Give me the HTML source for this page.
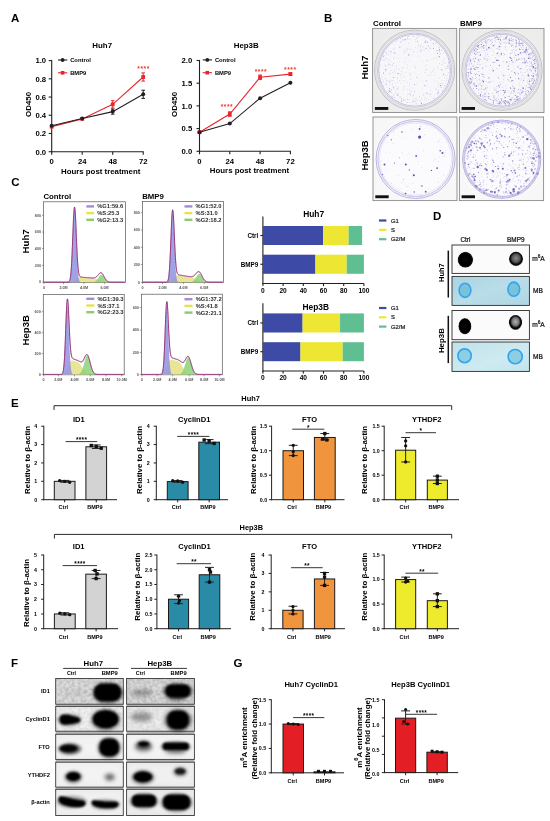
<!DOCTYPE html>
<html><head><meta charset="utf-8"><title>Figure</title>
<style>
html,body{margin:0;padding:0;background:#fff;width:550px;height:821px;overflow:hidden}
svg{display:block}
svg text{font-family:"Liberation Sans", Arial, Helvetica, sans-serif;font-weight:bold}
</style></head><body>
<svg width="550" height="821" viewBox="0 0 550 821">
<defs>
<radialGradient id="bgTop" cx="50%" cy="50%" r="70%"><stop offset="0" stop-color="#f6f6f6"/><stop offset="1" stop-color="#eaeaea"/></radialGradient>
<radialGradient id="bgBot" cx="50%" cy="50%" r="70%"><stop offset="0" stop-color="#fdfdfd"/><stop offset="1" stop-color="#f6f6f6"/></radialGradient>
<filter id="blur06" x="-30%" y="-30%" width="160%" height="160%"><feGaussianBlur stdDeviation="0.8"/></filter>
<filter id="blur1" x="-40%" y="-40%" width="180%" height="180%"><feGaussianBlur stdDeviation="1"/></filter>
<radialGradient id="dotBlk" cx="50%" cy="50%" r="50%"><stop offset="0" stop-color="#080808"/><stop offset="0.8" stop-color="#000"/><stop offset="0.93" stop-color="#222"/><stop offset="1" stop-color="#666" stop-opacity="0.6"/></radialGradient>
<radialGradient id="dotGray" cx="50%" cy="45%" r="50%"><stop offset="0" stop-color="#8a8a8a"/><stop offset="0.55" stop-color="#555"/><stop offset="0.8" stop-color="#111"/><stop offset="0.93" stop-color="#000"/><stop offset="1" stop-color="#444"/></radialGradient>
<radialGradient id="dotGray2" cx="50%" cy="45%" r="50%"><stop offset="0" stop-color="#b0b0b0"/><stop offset="0.5" stop-color="#777"/><stop offset="0.78" stop-color="#111"/><stop offset="0.93" stop-color="#000"/><stop offset="1" stop-color="#444"/></radialGradient>
<linearGradient id="mbBg" x1="0" y1="0" x2="1" y2="1"><stop offset="0" stop-color="#a8d4e1"/><stop offset="0.5" stop-color="#badde8"/><stop offset="1" stop-color="#acd6e3"/></linearGradient>
<linearGradient id="mbBg2" x1="0" y1="0" x2="1" y2="1"><stop offset="0" stop-color="#bfe2eb"/><stop offset="0.6" stop-color="#cfeaf1"/><stop offset="1" stop-color="#c2e4ed"/></linearGradient>
<filter id="band" x="-40%" y="-80%" width="180%" height="260%"><feGaussianBlur stdDeviation="0.8"/></filter>
<filter id="bandH" x="-60%" y="-100%" width="220%" height="300%"><feGaussianBlur stdDeviation="1.8"/></filter>
<filter id="bandS" x="-60%" y="-100%" width="220%" height="300%"><feGaussianBlur stdDeviation="2.2"/></filter>
<filter id="grain" x="0" y="0" width="100%" height="100%"><feTurbulence type="fractalNoise" baseFrequency="0.32" numOctaves="2" seed="5" result="n"/><feColorMatrix in="n" type="matrix" values="0 0 0 0 0  0 0 0 0 0  0 0 0 0 0  1.4 0 0 0 -0.45"/><feComposite in2="SourceGraphic" operator="in"/></filter>
</defs>
<rect x="0" y="0" width="550" height="821" fill="#fff"/>
<text x="11" y="21.6" font-size="11.5">A</text>
<text x="323.9" y="21.8" font-size="11.5">B</text>
<text x="11.2" y="185.6" font-size="11.5">C</text>
<text x="433.1" y="219.5" font-size="11.5">D</text>
<text x="11" y="406.8" font-size="11.5">E</text>
<text x="11" y="666.5" font-size="11.5">F</text>
<text x="233.6" y="666.6" font-size="11.5">G</text>
<line x1="51.7" y1="60.1" x2="51.7" y2="152.2" stroke="#231f20" stroke-width="1.1"/>
<line x1="51.2" y1="151.7" x2="143.7" y2="151.7" stroke="#231f20" stroke-width="1.1"/>
<line x1="48.7" y1="151.7" x2="51.7" y2="151.7" stroke="#231f20" stroke-width="1.1"/>
<text x="46.1" y="154.5" font-size="7.7" text-anchor="end">0.0</text>
<line x1="48.7" y1="133.48" x2="51.7" y2="133.48" stroke="#231f20" stroke-width="1.1"/>
<text x="46.1" y="136.28" font-size="7.7" text-anchor="end">0.2</text>
<line x1="48.7" y1="115.26" x2="51.7" y2="115.26" stroke="#231f20" stroke-width="1.1"/>
<text x="46.1" y="118.06" font-size="7.7" text-anchor="end">0.4</text>
<line x1="48.7" y1="97.04" x2="51.7" y2="97.04" stroke="#231f20" stroke-width="1.1"/>
<text x="46.1" y="99.84" font-size="7.7" text-anchor="end">0.6</text>
<line x1="48.7" y1="78.82" x2="51.7" y2="78.82" stroke="#231f20" stroke-width="1.1"/>
<text x="46.1" y="81.62" font-size="7.7" text-anchor="end">0.8</text>
<line x1="48.7" y1="60.6" x2="51.7" y2="60.6" stroke="#231f20" stroke-width="1.1"/>
<text x="46.1" y="63.4" font-size="7.7" text-anchor="end">1.0</text>
<line x1="51.7" y1="151.7" x2="51.7" y2="154.7" stroke="#231f20" stroke-width="1.1"/>
<text x="51.7" y="163.9" font-size="7.7" text-anchor="middle">0</text>
<line x1="82.2" y1="151.7" x2="82.2" y2="154.7" stroke="#231f20" stroke-width="1.1"/>
<text x="82.2" y="163.9" font-size="7.7" text-anchor="middle">24</text>
<line x1="112.7" y1="151.7" x2="112.7" y2="154.7" stroke="#231f20" stroke-width="1.1"/>
<text x="112.7" y="163.9" font-size="7.7" text-anchor="middle">48</text>
<line x1="143.2" y1="151.7" x2="143.2" y2="154.7" stroke="#231f20" stroke-width="1.1"/>
<text x="143.2" y="163.9" font-size="7.7" text-anchor="middle">72</text>
<text x="100.65" y="173.6" font-size="7.85" text-anchor="middle">Hours post treatment</text>
<text x="31" y="104.4" font-size="7.9" text-anchor="middle" transform="rotate(-90 31 104.4)">OD450</text>
<text x="102.2" y="48.1" font-size="7.9" text-anchor="middle">Huh7</text>
<line x1="58" y1="60" x2="67.3" y2="60" stroke="#231f20" stroke-width="1.1"/>
<circle cx="62.6" cy="60" r="1.9" fill="#231f20"/>
<text x="70.2" y="62" font-size="5.8">Control</text>
<line x1="58" y1="72.8" x2="67.3" y2="72.8" stroke="#e8262a" stroke-width="1.1"/>
<rect x="60.8" y="71" width="3.6" height="3.6" fill="#e8262a" stroke="none" stroke-width="1"/>
<text x="70.2" y="74.8" font-size="5.8">BMP9</text>
<polyline points="51.7,126.65 82.2,118.9 112.7,104.33 143.2,77" fill="none" stroke="#e8262a" stroke-width="1.1"/>
<polyline points="51.7,125.74 82.2,118.45 112.7,111.62 143.2,94.31" fill="none" stroke="#231f20" stroke-width="1.1"/>
<rect x="49.8" y="124.75" width="3.8" height="3.8" fill="#e8262a" stroke="none" stroke-width="1"/>
<rect x="80.3" y="117" width="3.8" height="3.8" fill="#e8262a" stroke="none" stroke-width="1"/>
<line x1="112.7" y1="107.97" x2="112.7" y2="100.68" stroke="#e8262a" stroke-width="1"/>
<line x1="110.9" y1="107.97" x2="114.5" y2="107.97" stroke="#e8262a" stroke-width="1"/>
<line x1="110.9" y1="100.68" x2="114.5" y2="100.68" stroke="#e8262a" stroke-width="1"/>
<rect x="110.8" y="102.43" width="3.8" height="3.8" fill="#e8262a" stroke="none" stroke-width="1"/>
<line x1="143.2" y1="81.1" x2="143.2" y2="72.9" stroke="#e8262a" stroke-width="1"/>
<line x1="141.4" y1="81.1" x2="145" y2="81.1" stroke="#e8262a" stroke-width="1"/>
<line x1="141.4" y1="72.9" x2="145" y2="72.9" stroke="#e8262a" stroke-width="1"/>
<rect x="141.3" y="75.1" width="3.8" height="3.8" fill="#e8262a" stroke="none" stroke-width="1"/>
<circle cx="51.7" cy="125.74" r="2" fill="#231f20"/>
<circle cx="82.2" cy="118.45" r="2" fill="#231f20"/>
<line x1="112.7" y1="114.17" x2="112.7" y2="109.07" stroke="#231f20" stroke-width="1"/>
<line x1="110.9" y1="114.17" x2="114.5" y2="114.17" stroke="#231f20" stroke-width="1"/>
<line x1="110.9" y1="109.07" x2="114.5" y2="109.07" stroke="#231f20" stroke-width="1"/>
<circle cx="112.7" cy="111.62" r="2" fill="#231f20"/>
<line x1="143.2" y1="98.41" x2="143.2" y2="90.21" stroke="#231f20" stroke-width="1"/>
<line x1="141.4" y1="98.41" x2="145" y2="98.41" stroke="#231f20" stroke-width="1"/>
<line x1="141.4" y1="90.21" x2="145" y2="90.21" stroke="#231f20" stroke-width="1"/>
<circle cx="143.2" cy="94.31" r="2" fill="#231f20"/>
<text x="143.6" y="71.2" font-size="6.6" text-anchor="middle" fill="#ee3a2a" letter-spacing="0.55">****</text>
<line x1="199.5" y1="60" x2="199.5" y2="151.8" stroke="#231f20" stroke-width="1.1"/>
<line x1="199" y1="151.3" x2="290.9" y2="151.3" stroke="#231f20" stroke-width="1.1"/>
<line x1="196.5" y1="151.3" x2="199.5" y2="151.3" stroke="#231f20" stroke-width="1.1"/>
<text x="192.2" y="154.1" font-size="7.7" text-anchor="end">0.0</text>
<line x1="196.5" y1="128.6" x2="199.5" y2="128.6" stroke="#231f20" stroke-width="1.1"/>
<text x="192.2" y="131.4" font-size="7.7" text-anchor="end">0.5</text>
<line x1="196.5" y1="105.9" x2="199.5" y2="105.9" stroke="#231f20" stroke-width="1.1"/>
<text x="192.2" y="108.7" font-size="7.7" text-anchor="end">1.0</text>
<line x1="196.5" y1="83.2" x2="199.5" y2="83.2" stroke="#231f20" stroke-width="1.1"/>
<text x="192.2" y="86" font-size="7.7" text-anchor="end">1.5</text>
<line x1="196.5" y1="60.5" x2="199.5" y2="60.5" stroke="#231f20" stroke-width="1.1"/>
<text x="192.2" y="63.3" font-size="7.7" text-anchor="end">2.0</text>
<line x1="199.5" y1="151.3" x2="199.5" y2="154.3" stroke="#231f20" stroke-width="1.1"/>
<text x="199.5" y="163.5" font-size="7.7" text-anchor="middle">0</text>
<line x1="229.8" y1="151.3" x2="229.8" y2="154.3" stroke="#231f20" stroke-width="1.1"/>
<text x="229.8" y="163.5" font-size="7.7" text-anchor="middle">24</text>
<line x1="260.1" y1="151.3" x2="260.1" y2="154.3" stroke="#231f20" stroke-width="1.1"/>
<text x="260.1" y="163.5" font-size="7.7" text-anchor="middle">48</text>
<line x1="290.4" y1="151.3" x2="290.4" y2="154.3" stroke="#231f20" stroke-width="1.1"/>
<text x="290.4" y="163.5" font-size="7.7" text-anchor="middle">72</text>
<text x="249.5" y="173.2" font-size="7.85" text-anchor="middle">Hours post treatment</text>
<text x="177.5" y="104.4" font-size="7.9" text-anchor="middle" transform="rotate(-90 177.5 104.4)">OD450</text>
<text x="246.2" y="48" font-size="7.9" text-anchor="middle">Hep3B</text>
<line x1="202.7" y1="59.9" x2="212" y2="59.9" stroke="#231f20" stroke-width="1.1"/>
<circle cx="207.3" cy="59.9" r="1.9" fill="#231f20"/>
<text x="214.9" y="61.9" font-size="5.8">Control</text>
<line x1="202.7" y1="72.7" x2="212" y2="72.7" stroke="#e8262a" stroke-width="1.1"/>
<rect x="205.5" y="70.9" width="3.6" height="3.6" fill="#e8262a" stroke="none" stroke-width="1"/>
<text x="214.9" y="74.7" font-size="5.8">BMP9</text>
<polyline points="199.5,132.23 229.8,114.07 260.1,77.3 290.4,74.12" fill="none" stroke="#e8262a" stroke-width="1.1"/>
<polyline points="199.5,132.23 229.8,123.61 260.1,98.18 290.4,82.75" fill="none" stroke="#231f20" stroke-width="1.1"/>
<rect x="197.6" y="130.33" width="3.8" height="3.8" fill="#e8262a" stroke="none" stroke-width="1"/>
<line x1="229.8" y1="116.34" x2="229.8" y2="111.8" stroke="#e8262a" stroke-width="1"/>
<line x1="228" y1="116.34" x2="231.6" y2="116.34" stroke="#e8262a" stroke-width="1"/>
<line x1="228" y1="111.8" x2="231.6" y2="111.8" stroke="#e8262a" stroke-width="1"/>
<rect x="227.9" y="112.17" width="3.8" height="3.8" fill="#e8262a" stroke="none" stroke-width="1"/>
<line x1="260.1" y1="79.57" x2="260.1" y2="75.03" stroke="#e8262a" stroke-width="1"/>
<line x1="258.3" y1="79.57" x2="261.9" y2="79.57" stroke="#e8262a" stroke-width="1"/>
<line x1="258.3" y1="75.03" x2="261.9" y2="75.03" stroke="#e8262a" stroke-width="1"/>
<rect x="258.2" y="75.4" width="3.8" height="3.8" fill="#e8262a" stroke="none" stroke-width="1"/>
<line x1="290.4" y1="75.48" x2="290.4" y2="72.76" stroke="#e8262a" stroke-width="1"/>
<line x1="288.6" y1="75.48" x2="292.2" y2="75.48" stroke="#e8262a" stroke-width="1"/>
<line x1="288.6" y1="72.76" x2="292.2" y2="72.76" stroke="#e8262a" stroke-width="1"/>
<rect x="288.5" y="72.22" width="3.8" height="3.8" fill="#e8262a" stroke="none" stroke-width="1"/>
<circle cx="199.5" cy="132.23" r="2" fill="#231f20"/>
<circle cx="229.8" cy="123.61" r="2" fill="#231f20"/>
<circle cx="260.1" cy="98.18" r="2" fill="#231f20"/>
<circle cx="290.4" cy="82.75" r="2" fill="#231f20"/>
<text x="226.9" y="109.1" font-size="6.6" text-anchor="middle" fill="#ee3a2a" letter-spacing="0.55">****</text>
<text x="260.9" y="73.6" font-size="6.6" text-anchor="middle" fill="#ee3a2a" letter-spacing="0.55">****</text>
<text x="290.3" y="72" font-size="6.6" text-anchor="middle" fill="#ee3a2a" letter-spacing="0.55">****</text>
<text x="373" y="26.2" font-size="7.9">Control</text>
<text x="460" y="26.2" font-size="7.9">BMP9</text>
<text x="368.2" y="67.6" font-size="9.6" text-anchor="middle" transform="rotate(-90 368.2 67.6)">Huh7</text>
<text x="368.2" y="155.4" font-size="9.6" text-anchor="middle" transform="rotate(-90 368.2 155.4)">Hep3B</text>
<rect x="372.6" y="28.4" width="84.1" height="84.1" fill="url(#bgTop)" stroke="#8a8a8a" stroke-width="0.9"/>
<circle cx="414.6" cy="70.2" r="40.5" fill="#ededef"/>
<circle cx="414.6" cy="70.2" r="40.1" fill="none" stroke="#b8b8bd" stroke-width="0.8" stroke-opacity="1"/>
<circle cx="414.6" cy="70.2" r="38.9" fill="none" stroke="#dedee2" stroke-width="1.2" stroke-opacity="1"/>
<circle cx="414.6" cy="70.2" r="37.1" fill="none" stroke="#c2c2c9" stroke-width="0.8" stroke-opacity="1"/>
<circle cx="414.6" cy="70.2" r="36.5" fill="#f7f7f9"/>
<circle cx="414.6" cy="70.2" r="35.9" fill="none" stroke="#c6c0e6" stroke-width="1" stroke-opacity="1"/>
<g fill="#7467c8"><circle cx="439.41" cy="57.4" r="0.32" fill-opacity="0.58"/><circle cx="396.43" cy="68.84" r="0.37" fill-opacity="0.74"/><circle cx="441.12" cy="87.19" r="0.45" fill-opacity="0.68"/><circle cx="448.56" cy="62.55" r="0.38" fill-opacity="0.64"/><circle cx="384.99" cy="64.86" r="0.25" fill-opacity="0.4"/><circle cx="405.76" cy="72.24" r="0.31" fill-opacity="0.76"/><circle cx="385.2" cy="70.24" r="0.38" fill-opacity="0.55"/><circle cx="449.46" cy="69.26" r="0.46" fill-opacity="0.69"/><circle cx="409.79" cy="89.43" r="0.25" fill-opacity="0.72"/><circle cx="389.84" cy="91.61" r="0.53" fill-opacity="0.77"/><circle cx="440.84" cy="53.61" r="0.32" fill-opacity="0.84"/><circle cx="405.84" cy="60.93" r="0.43" fill-opacity="0.45"/><circle cx="445.44" cy="63.12" r="0.42" fill-opacity="0.36"/><circle cx="428.04" cy="75.51" r="0.44" fill-opacity="0.4"/><circle cx="423.93" cy="94.06" r="0.41" fill-opacity="0.37"/><circle cx="401.19" cy="77.49" r="0.26" fill-opacity="0.45"/><circle cx="403.89" cy="100.44" r="0.48" fill-opacity="0.42"/><circle cx="393.95" cy="44.65" r="0.25" fill-opacity="0.84"/><circle cx="417.55" cy="49.68" r="0.28" fill-opacity="0.46"/><circle cx="388.17" cy="55.07" r="0.27" fill-opacity="0.63"/><circle cx="439.5" cy="63.66" r="0.32" fill-opacity="0.62"/><circle cx="424.89" cy="85.16" r="0.5" fill-opacity="0.75"/><circle cx="413.38" cy="51.82" r="0.52" fill-opacity="0.41"/><circle cx="388.13" cy="50.06" r="0.3" fill-opacity="0.36"/><circle cx="417.13" cy="104.83" r="0.4" fill-opacity="0.44"/><circle cx="406.89" cy="97.75" r="0.26" fill-opacity="0.7"/><circle cx="385.61" cy="58.86" r="0.47" fill-opacity="0.64"/><circle cx="424.23" cy="102.56" r="0.25" fill-opacity="0.45"/><circle cx="419.9" cy="80.81" r="0.29" fill-opacity="0.61"/><circle cx="439.21" cy="50.09" r="0.54" fill-opacity="0.66"/><circle cx="432.65" cy="92.11" r="0.25" fill-opacity="0.31"/><circle cx="444.21" cy="63.14" r="0.25" fill-opacity="0.65"/><circle cx="401.62" cy="98.28" r="0.55" fill-opacity="0.34"/><circle cx="439.73" cy="51.99" r="0.41" fill-opacity="0.69"/><circle cx="394.46" cy="97.26" r="0.39" fill-opacity="0.8"/><circle cx="420.88" cy="46.07" r="0.47" fill-opacity="0.62"/><circle cx="393.67" cy="58.23" r="0.36" fill-opacity="0.34"/><circle cx="439.94" cy="46.34" r="0.41" fill-opacity="0.51"/><circle cx="388.23" cy="80.54" r="0.46" fill-opacity="0.35"/><circle cx="407.33" cy="64.83" r="0.32" fill-opacity="0.43"/><circle cx="394.53" cy="52.62" r="0.5" fill-opacity="0.44"/><circle cx="400.86" cy="41.87" r="0.26" fill-opacity="0.39"/><circle cx="386.81" cy="80.81" r="0.49" fill-opacity="0.48"/><circle cx="397.6" cy="78.08" r="0.44" fill-opacity="0.8"/><circle cx="393.66" cy="58.15" r="0.28" fill-opacity="0.37"/><circle cx="433.55" cy="43.68" r="0.4" fill-opacity="0.82"/><circle cx="397.82" cy="75.58" r="0.27" fill-opacity="0.42"/><circle cx="385.48" cy="71.32" r="0.28" fill-opacity="0.76"/><circle cx="437.55" cy="81.83" r="0.25" fill-opacity="0.78"/><circle cx="384.36" cy="55.84" r="0.28" fill-opacity="0.74"/><circle cx="385.15" cy="78.79" r="0.25" fill-opacity="0.76"/><circle cx="430.31" cy="74.97" r="0.37" fill-opacity="0.55"/><circle cx="425.06" cy="42.45" r="0.53" fill-opacity="0.68"/><circle cx="425.96" cy="93.83" r="0.25" fill-opacity="0.56"/><circle cx="412.08" cy="88.03" r="0.29" fill-opacity="0.68"/><circle cx="415.73" cy="41.28" r="0.3" fill-opacity="0.74"/><circle cx="427.05" cy="64.59" r="0.41" fill-opacity="0.37"/><circle cx="439.2" cy="54.58" r="0.29" fill-opacity="0.61"/><circle cx="444.64" cy="59.23" r="0.31" fill-opacity="0.66"/><circle cx="427.42" cy="42.21" r="0.37" fill-opacity="0.69"/><circle cx="447.86" cy="66.1" r="0.54" fill-opacity="0.6"/><circle cx="433.62" cy="58.13" r="0.47" fill-opacity="0.49"/><circle cx="384.03" cy="60.2" r="0.43" fill-opacity="0.57"/><circle cx="445.85" cy="83.51" r="0.44" fill-opacity="0.4"/><circle cx="434.82" cy="94.8" r="0.26" fill-opacity="0.58"/><circle cx="402.47" cy="39.9" r="0.52" fill-opacity="0.57"/><circle cx="417.03" cy="83.57" r="0.33" fill-opacity="0.46"/><circle cx="385.53" cy="66.01" r="0.46" fill-opacity="0.61"/><circle cx="428.17" cy="50.3" r="0.49" fill-opacity="0.41"/><circle cx="380.53" cy="64.97" r="0.35" fill-opacity="0.41"/><circle cx="393.45" cy="53.75" r="0.25" fill-opacity="0.83"/><circle cx="422.34" cy="46.9" r="0.35" fill-opacity="0.57"/><circle cx="402.7" cy="67.25" r="0.3" fill-opacity="0.83"/><circle cx="393.83" cy="73.74" r="0.25" fill-opacity="0.54"/><circle cx="381.44" cy="75.12" r="0.28" fill-opacity="0.41"/><circle cx="437.87" cy="94.81" r="0.43" fill-opacity="0.31"/><circle cx="406.99" cy="51.99" r="0.28" fill-opacity="0.5"/><circle cx="412.84" cy="55.64" r="0.25" fill-opacity="0.58"/><circle cx="396.23" cy="66.65" r="0.31" fill-opacity="0.51"/><circle cx="429.28" cy="93.25" r="0.26" fill-opacity="0.65"/><circle cx="430.84" cy="48.22" r="0.36" fill-opacity="0.77"/><circle cx="426.14" cy="41.32" r="0.49" fill-opacity="0.47"/><circle cx="421.33" cy="103.36" r="0.55" fill-opacity="0.79"/><circle cx="410.03" cy="39.35" r="0.27" fill-opacity="0.35"/><circle cx="420.82" cy="45.95" r="0.25" fill-opacity="0.52"/><circle cx="416.85" cy="77.26" r="0.39" fill-opacity="0.8"/><circle cx="399.4" cy="69.66" r="0.42" fill-opacity="0.58"/><circle cx="431.21" cy="78.09" r="0.25" fill-opacity="0.32"/><circle cx="390.05" cy="58.88" r="0.26" fill-opacity="0.4"/><circle cx="447.18" cy="68.21" r="0.51" fill-opacity="0.35"/><circle cx="380.92" cy="78.38" r="0.43" fill-opacity="0.48"/><circle cx="390.12" cy="81.7" r="0.36" fill-opacity="0.31"/><circle cx="428.29" cy="99.9" r="0.31" fill-opacity="0.71"/><circle cx="424.07" cy="86.23" r="0.33" fill-opacity="0.31"/><circle cx="405.59" cy="39.44" r="0.47" fill-opacity="0.65"/><circle cx="385.94" cy="69.43" r="0.54" fill-opacity="0.74"/><circle cx="413.42" cy="36.55" r="0.43" fill-opacity="0.75"/><circle cx="438.97" cy="47.27" r="0.39" fill-opacity="0.72"/><circle cx="410.38" cy="45.89" r="0.25" fill-opacity="0.49"/><circle cx="410.86" cy="74.98" r="0.37" fill-opacity="0.64"/><circle cx="397.42" cy="40.69" r="0.28" fill-opacity="0.66"/><circle cx="393.53" cy="87.72" r="0.55" fill-opacity="0.65"/><circle cx="445.79" cy="66.28" r="0.25" fill-opacity="0.64"/><circle cx="397.75" cy="82.19" r="0.25" fill-opacity="0.41"/><circle cx="414.52" cy="84.51" r="0.5" fill-opacity="0.6"/><circle cx="383.24" cy="55.93" r="0.55" fill-opacity="0.65"/><circle cx="403.99" cy="62.74" r="0.42" fill-opacity="0.32"/><circle cx="397.63" cy="73.24" r="0.26" fill-opacity="0.57"/><circle cx="425.63" cy="66.25" r="0.3" fill-opacity="0.59"/><circle cx="409.32" cy="93.3" r="0.38" fill-opacity="0.61"/><circle cx="405.84" cy="99.63" r="0.25" fill-opacity="0.43"/><circle cx="415.5" cy="39.43" r="0.3" fill-opacity="0.79"/><circle cx="425.61" cy="69.42" r="0.52" fill-opacity="0.34"/><circle cx="389.63" cy="73.74" r="0.53" fill-opacity="0.43"/><circle cx="408.8" cy="36.66" r="0.32" fill-opacity="0.84"/><circle cx="436.15" cy="89.22" r="0.37" fill-opacity="0.55"/><circle cx="403.58" cy="68.23" r="0.25" fill-opacity="0.54"/><circle cx="412.64" cy="95.92" r="0.35" fill-opacity="0.53"/><circle cx="441.95" cy="69.79" r="0.52" fill-opacity="0.7"/><circle cx="426.42" cy="60.75" r="0.43" fill-opacity="0.64"/><circle cx="406.21" cy="50.8" r="0.35" fill-opacity="0.63"/><circle cx="426.16" cy="99.29" r="0.27" fill-opacity="0.84"/><circle cx="446.79" cy="78.36" r="0.25" fill-opacity="0.45"/><circle cx="437.87" cy="87.67" r="0.34" fill-opacity="0.34"/><circle cx="382.95" cy="59.78" r="0.37" fill-opacity="0.51"/><circle cx="403.95" cy="86.14" r="0.42" fill-opacity="0.76"/><circle cx="425.72" cy="41.69" r="0.37" fill-opacity="0.72"/><circle cx="413.33" cy="95.27" r="0.45" fill-opacity="0.5"/><circle cx="398.75" cy="101.13" r="0.34" fill-opacity="0.71"/><circle cx="397.45" cy="88.63" r="0.25" fill-opacity="0.78"/><circle cx="386.62" cy="58.26" r="0.32" fill-opacity="0.68"/><circle cx="442.7" cy="84.76" r="0.26" fill-opacity="0.66"/><circle cx="409.67" cy="39.09" r="0.39" fill-opacity="0.46"/><circle cx="409.82" cy="38.8" r="0.29" fill-opacity="0.36"/><circle cx="439.1" cy="56.44" r="0.52" fill-opacity="0.8"/><circle cx="403.78" cy="100.4" r="0.28" fill-opacity="0.52"/><circle cx="414.96" cy="103.64" r="0.29" fill-opacity="0.5"/><circle cx="396.02" cy="86.06" r="0.26" fill-opacity="0.61"/><circle cx="428.83" cy="46.61" r="0.35" fill-opacity="0.4"/><circle cx="408.07" cy="102.79" r="0.25" fill-opacity="0.58"/><circle cx="442.04" cy="64.32" r="0.38" fill-opacity="0.74"/><circle cx="422.34" cy="38.44" r="0.25" fill-opacity="0.34"/><circle cx="443.47" cy="87.2" r="0.37" fill-opacity="0.38"/><circle cx="415.44" cy="99.74" r="0.26" fill-opacity="0.72"/><circle cx="389.8" cy="89.59" r="0.28" fill-opacity="0.83"/><circle cx="388.73" cy="64.02" r="0.41" fill-opacity="0.69"/><circle cx="426.02" cy="48.21" r="0.38" fill-opacity="0.77"/><circle cx="439.5" cy="49.24" r="0.53" fill-opacity="0.65"/><circle cx="424.47" cy="41.24" r="0.3" fill-opacity="0.53"/><circle cx="448.18" cy="68.3" r="0.29" fill-opacity="0.39"/><circle cx="408.05" cy="94.44" r="0.53" fill-opacity="0.33"/><circle cx="405.52" cy="58.03" r="0.43" fill-opacity="0.4"/><circle cx="386.74" cy="53.94" r="0.5" fill-opacity="0.32"/><circle cx="420.9" cy="100.47" r="0.27" fill-opacity="0.69"/><circle cx="422.4" cy="88.21" r="0.27" fill-opacity="0.39"/><circle cx="393.33" cy="63.55" r="0.45" fill-opacity="0.56"/><circle cx="443.21" cy="53.1" r="0.29" fill-opacity="0.6"/><circle cx="419.38" cy="96.13" r="0.25" fill-opacity="0.82"/><circle cx="390.79" cy="66.03" r="0.33" fill-opacity="0.45"/><circle cx="416.91" cy="99.81" r="0.25" fill-opacity="0.56"/><circle cx="407.29" cy="39.07" r="0.36" fill-opacity="0.39"/><circle cx="412.73" cy="101.73" r="0.48" fill-opacity="0.58"/><circle cx="411" cy="104.82" r="0.34" fill-opacity="0.38"/><circle cx="415.8" cy="67.71" r="0.46" fill-opacity="0.75"/><circle cx="408.06" cy="39.56" r="0.25" fill-opacity="0.56"/><circle cx="385.26" cy="52.44" r="0.47" fill-opacity="0.47"/><circle cx="436.2" cy="57.75" r="0.25" fill-opacity="0.75"/><circle cx="387.36" cy="65.77" r="0.26" fill-opacity="0.76"/><circle cx="434.37" cy="80.44" r="0.28" fill-opacity="0.56"/><circle cx="405.53" cy="48.46" r="0.25" fill-opacity="0.52"/><circle cx="431.15" cy="39.98" r="0.38" fill-opacity="0.31"/><circle cx="417" cy="100.7" r="0.35" fill-opacity="0.55"/><circle cx="425.26" cy="37.01" r="0.26" fill-opacity="0.64"/><circle cx="391.39" cy="64.28" r="0.28" fill-opacity="0.49"/><circle cx="413.39" cy="100.04" r="0.26" fill-opacity="0.7"/><circle cx="383.08" cy="57.07" r="0.41" fill-opacity="0.48"/><circle cx="423.44" cy="81" r="0.25" fill-opacity="0.67"/><circle cx="399.85" cy="80.59" r="0.46" fill-opacity="0.63"/><circle cx="431.75" cy="96.17" r="0.25" fill-opacity="0.52"/><circle cx="383.65" cy="85.48" r="0.33" fill-opacity="0.66"/><circle cx="390.21" cy="91.45" r="0.28" fill-opacity="0.53"/><circle cx="404.7" cy="39.8" r="0.54" fill-opacity="0.73"/><circle cx="443.24" cy="73.55" r="0.28" fill-opacity="0.49"/><circle cx="404.01" cy="80.45" r="0.33" fill-opacity="0.73"/><circle cx="430.33" cy="94.42" r="0.43" fill-opacity="0.8"/><circle cx="391.23" cy="70.14" r="0.26" fill-opacity="0.69"/><circle cx="408.76" cy="43.78" r="0.46" fill-opacity="0.41"/><circle cx="423.98" cy="97.82" r="0.25" fill-opacity="0.43"/><circle cx="400.1" cy="96.89" r="0.51" fill-opacity="0.5"/><circle cx="430.02" cy="67.62" r="0.26" fill-opacity="0.8"/><circle cx="388.65" cy="59.86" r="0.27" fill-opacity="0.8"/><circle cx="388.65" cy="50.97" r="0.25" fill-opacity="0.75"/><circle cx="416.52" cy="103.62" r="0.35" fill-opacity="0.76"/><circle cx="439.17" cy="82.97" r="0.25" fill-opacity="0.4"/><circle cx="396.05" cy="41.62" r="0.28" fill-opacity="0.67"/><circle cx="394.41" cy="57.05" r="0.44" fill-opacity="0.31"/><circle cx="430.83" cy="90.59" r="0.29" fill-opacity="0.61"/><circle cx="411.81" cy="102.63" r="0.35" fill-opacity="0.48"/><circle cx="409.88" cy="61.49" r="0.26" fill-opacity="0.83"/><circle cx="392.44" cy="83.99" r="0.37" fill-opacity="0.68"/><circle cx="383.45" cy="72.99" r="0.55" fill-opacity="0.76"/><circle cx="391.95" cy="80.18" r="0.35" fill-opacity="0.8"/><circle cx="389.79" cy="81.45" r="0.5" fill-opacity="0.48"/><circle cx="441.77" cy="50.5" r="0.41" fill-opacity="0.63"/><circle cx="396.2" cy="57.96" r="0.25" fill-opacity="0.37"/><circle cx="393.26" cy="86.39" r="0.25" fill-opacity="0.68"/><circle cx="407.63" cy="89.08" r="0.3" fill-opacity="0.43"/><circle cx="448.3" cy="62.99" r="0.38" fill-opacity="0.78"/><circle cx="420.26" cy="101.81" r="0.42" fill-opacity="0.61"/><circle cx="418.36" cy="56.39" r="0.25" fill-opacity="0.6"/><circle cx="414.68" cy="72.18" r="0.28" fill-opacity="0.48"/><circle cx="428.35" cy="38.68" r="0.3" fill-opacity="0.5"/><circle cx="425.06" cy="72.27" r="0.49" fill-opacity="0.47"/><circle cx="448.25" cy="65.36" r="0.32" fill-opacity="0.41"/><circle cx="441.57" cy="49.76" r="0.26" fill-opacity="0.76"/><circle cx="426.93" cy="93.27" r="0.48" fill-opacity="0.85"/><circle cx="425.11" cy="97.51" r="0.48" fill-opacity="0.33"/><circle cx="401.66" cy="101.17" r="0.49" fill-opacity="0.78"/><circle cx="409.22" cy="54.97" r="0.51" fill-opacity="0.54"/><circle cx="403.67" cy="99.32" r="0.4" fill-opacity="0.41"/><circle cx="404.37" cy="53" r="0.44" fill-opacity="0.5"/><circle cx="386.48" cy="52.38" r="0.27" fill-opacity="0.47"/><circle cx="409.59" cy="99.64" r="0.37" fill-opacity="0.35"/><circle cx="389.54" cy="65.7" r="0.33" fill-opacity="0.32"/><circle cx="414.48" cy="91.72" r="0.44" fill-opacity="0.35"/><circle cx="415.41" cy="101.52" r="0.27" fill-opacity="0.6"/><circle cx="447.97" cy="67.62" r="0.25" fill-opacity="0.55"/><circle cx="436.42" cy="59.81" r="0.32" fill-opacity="0.4"/><circle cx="395.86" cy="92.96" r="0.38" fill-opacity="0.73"/><circle cx="429.75" cy="48.03" r="0.39" fill-opacity="0.59"/><circle cx="417.9" cy="52.7" r="0.26" fill-opacity="0.63"/><circle cx="418.27" cy="45.01" r="0.44" fill-opacity="0.74"/><circle cx="419.36" cy="96.28" r="0.35" fill-opacity="0.57"/><circle cx="407.36" cy="38.08" r="0.35" fill-opacity="0.78"/><circle cx="431.4" cy="72.09" r="0.32" fill-opacity="0.54"/><circle cx="420.87" cy="50.28" r="0.25" fill-opacity="0.8"/><circle cx="421.73" cy="43.54" r="0.27" fill-opacity="0.38"/><circle cx="410.53" cy="79.71" r="0.37" fill-opacity="0.59"/><circle cx="438.78" cy="85.22" r="0.45" fill-opacity="0.39"/><circle cx="408.32" cy="54.14" r="0.46" fill-opacity="0.73"/><circle cx="393.51" cy="94.3" r="0.26" fill-opacity="0.83"/><circle cx="416.89" cy="37.88" r="0.54" fill-opacity="0.38"/><circle cx="444.82" cy="77.8" r="0.27" fill-opacity="0.79"/><circle cx="405.1" cy="100.69" r="0.3" fill-opacity="0.34"/><circle cx="417.51" cy="35.44" r="0.41" fill-opacity="0.43"/><circle cx="416.05" cy="97.93" r="0.31" fill-opacity="0.81"/><circle cx="437.41" cy="67.5" r="0.36" fill-opacity="0.32"/><circle cx="442.19" cy="80.83" r="0.29" fill-opacity="0.68"/><circle cx="436.14" cy="51.54" r="0.31" fill-opacity="0.52"/><circle cx="419.31" cy="46.58" r="0.26" fill-opacity="0.49"/><circle cx="428.88" cy="93.96" r="0.26" fill-opacity="0.42"/><circle cx="393.61" cy="77.44" r="0.55" fill-opacity="0.67"/><circle cx="400.54" cy="82.92" r="0.25" fill-opacity="0.68"/><circle cx="435.68" cy="72.67" r="0.26" fill-opacity="0.44"/><circle cx="407.26" cy="37.16" r="0.27" fill-opacity="0.5"/><circle cx="392.6" cy="96.89" r="0.43" fill-opacity="0.7"/><circle cx="411.18" cy="77.22" r="0.29" fill-opacity="0.35"/><circle cx="417.54" cy="47.73" r="0.33" fill-opacity="0.33"/><circle cx="434.05" cy="75.3" r="0.26" fill-opacity="0.63"/><circle cx="386.58" cy="84.69" r="0.34" fill-opacity="0.37"/><circle cx="411.41" cy="49.65" r="0.38" fill-opacity="0.38"/><circle cx="409.64" cy="49.38" r="0.3" fill-opacity="0.51"/><circle cx="409.45" cy="89.21" r="0.29" fill-opacity="0.42"/><circle cx="394.03" cy="48.18" r="0.35" fill-opacity="0.74"/><circle cx="404.1" cy="50.97" r="0.5" fill-opacity="0.42"/><circle cx="443.28" cy="61.9" r="0.48" fill-opacity="0.43"/><circle cx="402.18" cy="76.26" r="0.3" fill-opacity="0.33"/><circle cx="391.87" cy="70.61" r="0.27" fill-opacity="0.39"/><circle cx="427.7" cy="92.91" r="0.38" fill-opacity="0.43"/><circle cx="386.62" cy="85.06" r="0.26" fill-opacity="0.62"/><circle cx="406.04" cy="43.76" r="0.25" fill-opacity="0.52"/><circle cx="404.66" cy="77.01" r="0.25" fill-opacity="0.57"/><circle cx="402.68" cy="93.4" r="0.27" fill-opacity="0.31"/><circle cx="384.01" cy="56.8" r="0.27" fill-opacity="0.67"/><circle cx="395.06" cy="52.92" r="0.52" fill-opacity="0.5"/><circle cx="419.19" cy="36.4" r="0.37" fill-opacity="0.64"/><circle cx="410.52" cy="94.76" r="0.46" fill-opacity="0.78"/><circle cx="447.29" cy="78.19" r="0.26" fill-opacity="0.58"/><circle cx="437.92" cy="66.8" r="0.26" fill-opacity="0.41"/><circle cx="417.52" cy="100.15" r="0.25" fill-opacity="0.6"/><circle cx="394.48" cy="71.01" r="0.38" fill-opacity="0.6"/><circle cx="428.23" cy="45.81" r="0.53" fill-opacity="0.48"/><circle cx="401.68" cy="100.91" r="0.4" fill-opacity="0.68"/><circle cx="430.1" cy="39.48" r="0.26" fill-opacity="0.64"/><circle cx="395.5" cy="90.67" r="0.27" fill-opacity="0.71"/><circle cx="414.69" cy="90.26" r="0.28" fill-opacity="0.4"/><circle cx="429.11" cy="76.29" r="0.25" fill-opacity="0.36"/><circle cx="400.22" cy="74.72" r="0.43" fill-opacity="0.56"/><circle cx="438.02" cy="45.21" r="0.25" fill-opacity="0.44"/><circle cx="389.67" cy="90.23" r="0.4" fill-opacity="0.44"/><circle cx="403.19" cy="89.82" r="0.42" fill-opacity="0.76"/><circle cx="389.95" cy="83.63" r="0.4" fill-opacity="0.64"/><circle cx="437.23" cy="92.89" r="0.29" fill-opacity="0.67"/><circle cx="432.76" cy="71.77" r="0.35" fill-opacity="0.82"/><circle cx="408.45" cy="55.32" r="0.3" fill-opacity="0.65"/><circle cx="448.5" cy="67.81" r="0.25" fill-opacity="0.69"/><circle cx="407.81" cy="99.65" r="0.41" fill-opacity="0.85"/><circle cx="445.79" cy="75.45" r="0.34" fill-opacity="0.57"/><circle cx="421.53" cy="49.09" r="0.46" fill-opacity="0.46"/><circle cx="417.4" cy="41.34" r="0.54" fill-opacity="0.51"/><circle cx="423.17" cy="43.91" r="0.26" fill-opacity="0.4"/><circle cx="414.3" cy="104.77" r="0.32" fill-opacity="0.37"/><circle cx="407.61" cy="67.13" r="0.26" fill-opacity="0.64"/><circle cx="394.97" cy="72.4" r="0.29" fill-opacity="0.44"/><circle cx="438.29" cy="51.26" r="0.28" fill-opacity="0.34"/><circle cx="440.98" cy="69.73" r="0.26" fill-opacity="0.78"/><circle cx="423.32" cy="46.9" r="0.3" fill-opacity="0.33"/><circle cx="393.35" cy="49.47" r="0.27" fill-opacity="0.82"/><circle cx="381.97" cy="82.37" r="0.46" fill-opacity="0.7"/><circle cx="429.31" cy="96.51" r="0.25" fill-opacity="0.34"/><circle cx="403.08" cy="99.3" r="0.33" fill-opacity="0.31"/><circle cx="448.86" cy="72.58" r="0.33" fill-opacity="0.75"/><circle cx="389.6" cy="88.54" r="0.44" fill-opacity="0.76"/><circle cx="442.57" cy="90.75" r="0.52" fill-opacity="0.52"/><circle cx="431.88" cy="59.18" r="0.25" fill-opacity="0.62"/><circle cx="398.07" cy="87.95" r="0.38" fill-opacity="0.75"/><circle cx="396.74" cy="93.51" r="0.27" fill-opacity="0.8"/><circle cx="407.46" cy="82.32" r="0.42" fill-opacity="0.42"/><circle cx="402.86" cy="45.16" r="0.26" fill-opacity="0.36"/><circle cx="385.83" cy="83.57" r="0.25" fill-opacity="0.58"/><circle cx="392.65" cy="64.98" r="0.52" fill-opacity="0.41"/><circle cx="415.19" cy="47.67" r="0.25" fill-opacity="0.84"/><circle cx="421.12" cy="103.97" r="0.3" fill-opacity="0.69"/><circle cx="400.76" cy="42.07" r="0.52" fill-opacity="0.48"/><circle cx="438.04" cy="68.65" r="0.26" fill-opacity="0.65"/><circle cx="421.52" cy="98.84" r="0.36" fill-opacity="0.79"/><circle cx="385.42" cy="69.31" r="0.35" fill-opacity="0.36"/><circle cx="385.64" cy="78.97" r="0.38" fill-opacity="0.53"/><circle cx="398.6" cy="58.48" r="0.35" fill-opacity="0.58"/><circle cx="383.35" cy="81.05" r="0.36" fill-opacity="0.63"/><circle cx="398.02" cy="73.51" r="0.55" fill-opacity="0.71"/><circle cx="445.56" cy="68.14" r="0.3" fill-opacity="0.78"/><circle cx="379.8" cy="72.15" r="0.27" fill-opacity="0.76"/><circle cx="430.87" cy="40.29" r="0.44" fill-opacity="0.58"/><circle cx="422.95" cy="61.32" r="0.4" fill-opacity="0.44"/><circle cx="389.51" cy="64.37" r="0.47" fill-opacity="0.41"/><circle cx="440.97" cy="83.34" r="0.34" fill-opacity="0.73"/><circle cx="420.84" cy="50.97" r="0.47" fill-opacity="0.72"/><circle cx="424.33" cy="38.04" r="0.26" fill-opacity="0.5"/><circle cx="397.51" cy="95.09" r="0.47" fill-opacity="0.76"/><circle cx="390.96" cy="90.1" r="0.47" fill-opacity="0.64"/><circle cx="427.24" cy="69.23" r="0.26" fill-opacity="0.65"/><circle cx="424.68" cy="99.39" r="0.38" fill-opacity="0.54"/><circle cx="401.96" cy="99.24" r="0.37" fill-opacity="0.45"/><circle cx="427.4" cy="97.71" r="0.25" fill-opacity="0.68"/><circle cx="426.44" cy="80.78" r="0.52" fill-opacity="0.64"/><circle cx="433.24" cy="69.6" r="0.39" fill-opacity="0.7"/><circle cx="395.94" cy="82.33" r="0.26" fill-opacity="0.65"/><circle cx="387.41" cy="87.7" r="0.31" fill-opacity="0.58"/><circle cx="407.93" cy="47.97" r="0.27" fill-opacity="0.62"/><circle cx="407.07" cy="102.45" r="0.47" fill-opacity="0.67"/><circle cx="388.73" cy="92.25" r="0.42" fill-opacity="0.63"/><circle cx="404" cy="76.11" r="0.27" fill-opacity="0.54"/><circle cx="407.22" cy="49.73" r="0.39" fill-opacity="0.43"/><circle cx="427.29" cy="60.41" r="0.27" fill-opacity="0.53"/><circle cx="433.66" cy="44.07" r="0.35" fill-opacity="0.6"/><circle cx="443.83" cy="88.33" r="0.29" fill-opacity="0.51"/><circle cx="397.97" cy="95.05" r="0.49" fill-opacity="0.82"/><circle cx="382.11" cy="76.57" r="0.29" fill-opacity="0.56"/><circle cx="391.01" cy="51.77" r="0.53" fill-opacity="0.84"/><circle cx="426.18" cy="48.7" r="0.38" fill-opacity="0.69"/><circle cx="402.64" cy="73.09" r="0.3" fill-opacity="0.66"/><circle cx="423.37" cy="103.84" r="0.29" fill-opacity="0.38"/><circle cx="441.52" cy="85.79" r="0.26" fill-opacity="0.66"/><circle cx="413.93" cy="101.31" r="0.45" fill-opacity="0.7"/><circle cx="399.47" cy="73.22" r="0.25" fill-opacity="0.77"/><circle cx="447.67" cy="75.26" r="0.29" fill-opacity="0.59"/><circle cx="418.26" cy="55.66" r="0.28" fill-opacity="0.58"/><circle cx="437.09" cy="94.06" r="0.25" fill-opacity="0.58"/><circle cx="415.24" cy="101.87" r="0.3" fill-opacity="0.33"/><circle cx="390.59" cy="61.02" r="0.31" fill-opacity="0.77"/><circle cx="433.83" cy="98.44" r="0.53" fill-opacity="0.59"/><circle cx="433.55" cy="48.39" r="0.53" fill-opacity="0.53"/><circle cx="427.42" cy="42.24" r="0.41" fill-opacity="0.69"/><circle cx="446.69" cy="76.02" r="0.25" fill-opacity="0.47"/><circle cx="431.56" cy="46.12" r="0.25" fill-opacity="0.53"/><circle cx="438.49" cy="90.41" r="0.5" fill-opacity="0.48"/><circle cx="437.04" cy="50.83" r="0.52" fill-opacity="0.61"/><circle cx="388.15" cy="90.87" r="0.28" fill-opacity="0.71"/><circle cx="393.15" cy="80.42" r="0.32" fill-opacity="0.5"/><circle cx="439.05" cy="78.07" r="0.46" fill-opacity="0.33"/><circle cx="392.23" cy="86.51" r="0.26" fill-opacity="0.35"/><circle cx="392.35" cy="72.44" r="0.27" fill-opacity="0.71"/><circle cx="409.86" cy="73.35" r="0.53" fill-opacity="0.3"/><circle cx="391.77" cy="95.89" r="0.36" fill-opacity="0.5"/><circle cx="390.19" cy="54.83" r="0.28" fill-opacity="0.57"/><circle cx="444.18" cy="80.44" r="0.25" fill-opacity="0.44"/><circle cx="386.07" cy="84.62" r="0.47" fill-opacity="0.52"/><circle cx="440.45" cy="85.59" r="0.54" fill-opacity="0.76"/><circle cx="424.07" cy="49.85" r="0.44" fill-opacity="0.65"/><circle cx="446.82" cy="80.21" r="0.37" fill-opacity="0.6"/><circle cx="443.68" cy="74.31" r="0.51" fill-opacity="0.71"/><circle cx="414.21" cy="65.47" r="0.3" fill-opacity="0.67"/><circle cx="444.68" cy="85.51" r="0.43" fill-opacity="0.54"/><circle cx="391.88" cy="77.95" r="0.31" fill-opacity="0.36"/><circle cx="442.53" cy="83.65" r="0.25" fill-opacity="0.76"/><circle cx="435.58" cy="88.28" r="0.25" fill-opacity="0.47"/><circle cx="439.26" cy="57.1" r="0.26" fill-opacity="0.53"/><circle cx="437.91" cy="93.03" r="0.48" fill-opacity="0.56"/><circle cx="391.53" cy="92.55" r="0.39" fill-opacity="0.81"/><circle cx="391.54" cy="89.77" r="0.43" fill-opacity="0.36"/><circle cx="399.57" cy="61.21" r="0.26" fill-opacity="0.49"/><circle cx="387.97" cy="52.97" r="0.33" fill-opacity="0.51"/><circle cx="394.05" cy="95.6" r="0.35" fill-opacity="0.56"/><circle cx="407.23" cy="48.7" r="0.27" fill-opacity="0.44"/><circle cx="413.35" cy="98.38" r="0.25" fill-opacity="0.75"/><circle cx="386.6" cy="82.79" r="0.36" fill-opacity="0.61"/><circle cx="382.24" cy="79.43" r="0.32" fill-opacity="0.43"/><circle cx="409.55" cy="83.81" r="0.47" fill-opacity="0.32"/><circle cx="387.98" cy="61.27" r="0.28" fill-opacity="0.38"/><circle cx="425.4" cy="40.63" r="0.25" fill-opacity="0.73"/><circle cx="396.29" cy="66.11" r="0.36" fill-opacity="0.37"/><circle cx="437.47" cy="53.45" r="0.51" fill-opacity="0.68"/><circle cx="407.88" cy="36.63" r="0.28" fill-opacity="0.77"/><circle cx="414.71" cy="91.13" r="0.25" fill-opacity="0.6"/><circle cx="414.21" cy="91.96" r="0.26" fill-opacity="0.57"/><circle cx="410.89" cy="91.41" r="0.33" fill-opacity="0.78"/><circle cx="435.53" cy="43.13" r="0.36" fill-opacity="0.6"/><circle cx="399.9" cy="47.05" r="0.5" fill-opacity="0.73"/><circle cx="425.09" cy="65.79" r="0.29" fill-opacity="0.73"/><circle cx="396.93" cy="88.91" r="0.41" fill-opacity="0.82"/><circle cx="398.3" cy="93.01" r="0.27" fill-opacity="0.82"/><circle cx="395.53" cy="41.32" r="0.25" fill-opacity="0.8"/><circle cx="438.53" cy="92.6" r="0.54" fill-opacity="0.47"/><circle cx="408.61" cy="59.88" r="0.25" fill-opacity="0.32"/><circle cx="400.86" cy="38.37" r="0.47" fill-opacity="0.73"/><circle cx="401.76" cy="68" r="0.26" fill-opacity="0.59"/><circle cx="423.25" cy="95.47" r="0.4" fill-opacity="0.53"/><circle cx="401.52" cy="71.28" r="0.34" fill-opacity="0.83"/><circle cx="409.59" cy="85.55" r="0.28" fill-opacity="0.69"/></g>
<rect x="459.4" y="28.4" width="84.6" height="84.1" fill="url(#bgTop)" stroke="#8a8a8a" stroke-width="0.9"/>
<circle cx="502" cy="70.2" r="40.5" fill="#ededef"/>
<circle cx="502" cy="70.2" r="40.1" fill="none" stroke="#b8b8bd" stroke-width="0.8" stroke-opacity="1"/>
<circle cx="502" cy="70.2" r="38.9" fill="none" stroke="#dedee2" stroke-width="1.2" stroke-opacity="1"/>
<circle cx="502" cy="70.2" r="37.1" fill="none" stroke="#c2c2c9" stroke-width="0.8" stroke-opacity="1"/>
<circle cx="502" cy="70.2" r="36.5" fill="#f7f7f9"/>
<circle cx="502" cy="70.2" r="35.9" fill="none" stroke="#c6c0e6" stroke-width="1" stroke-opacity="1"/>
<g fill="#6356c0"><circle cx="534.92" cy="59.49" r="0.57" fill-opacity="0.82"/><circle cx="492.52" cy="70.82" r="0.4" fill-opacity="0.73"/><circle cx="529.08" cy="58.13" r="0.28" fill-opacity="0.64"/><circle cx="510.45" cy="77.34" r="0.54" fill-opacity="0.88"/><circle cx="516.49" cy="43.74" r="0.44" fill-opacity="0.64"/><circle cx="513.3" cy="40.46" r="0.28" fill-opacity="0.39"/><circle cx="519.32" cy="40.23" r="0.34" fill-opacity="0.53"/><circle cx="503.09" cy="61.67" r="0.3" fill-opacity="0.67"/><circle cx="490.98" cy="48.6" r="0.35" fill-opacity="0.48"/><circle cx="513.49" cy="86.01" r="0.3" fill-opacity="0.61"/><circle cx="503.78" cy="94.32" r="0.43" fill-opacity="0.49"/><circle cx="517.84" cy="54.75" r="0.29" fill-opacity="0.48"/><circle cx="498.44" cy="46.36" r="0.43" fill-opacity="0.78"/><circle cx="503.26" cy="55.31" r="0.3" fill-opacity="0.47"/><circle cx="478.07" cy="95.44" r="0.32" fill-opacity="0.85"/><circle cx="518.75" cy="89.34" r="0.49" fill-opacity="0.78"/><circle cx="478.55" cy="92.37" r="0.31" fill-opacity="0.68"/><circle cx="513.34" cy="45.43" r="0.28" fill-opacity="0.62"/><circle cx="514.06" cy="63.02" r="0.29" fill-opacity="0.46"/><circle cx="533.29" cy="55.83" r="0.32" fill-opacity="0.86"/><circle cx="533.57" cy="58.97" r="0.29" fill-opacity="0.42"/><circle cx="497.07" cy="37.09" r="0.59" fill-opacity="0.6"/><circle cx="499.52" cy="87.24" r="0.58" fill-opacity="0.39"/><circle cx="532.21" cy="79.86" r="0.31" fill-opacity="0.45"/><circle cx="470.45" cy="62.03" r="0.39" fill-opacity="0.77"/><circle cx="531.88" cy="86.99" r="0.3" fill-opacity="0.39"/><circle cx="530.31" cy="55.59" r="0.37" fill-opacity="0.44"/><circle cx="494.03" cy="97.99" r="0.49" fill-opacity="0.88"/><circle cx="518.73" cy="45.92" r="0.35" fill-opacity="0.45"/><circle cx="536.23" cy="75.5" r="0.48" fill-opacity="0.57"/><circle cx="516.33" cy="97.48" r="0.46" fill-opacity="0.47"/><circle cx="511.45" cy="40.58" r="0.36" fill-opacity="0.71"/><circle cx="521.71" cy="72.09" r="0.31" fill-opacity="0.37"/><circle cx="481.73" cy="91.96" r="0.36" fill-opacity="0.69"/><circle cx="520.45" cy="53.7" r="0.39" fill-opacity="0.58"/><circle cx="488.66" cy="93.61" r="0.56" fill-opacity="0.48"/><circle cx="526.41" cy="47.85" r="0.29" fill-opacity="0.63"/><circle cx="512.99" cy="90.48" r="0.46" fill-opacity="0.48"/><circle cx="519.83" cy="64.09" r="0.31" fill-opacity="0.4"/><circle cx="479.16" cy="61.27" r="0.36" fill-opacity="0.86"/><circle cx="527.25" cy="70.46" r="0.36" fill-opacity="0.5"/><circle cx="472.89" cy="77.24" r="0.28" fill-opacity="0.62"/><circle cx="531.57" cy="64.58" r="0.31" fill-opacity="0.59"/><circle cx="505.3" cy="103.96" r="0.51" fill-opacity="0.79"/><circle cx="468.28" cy="69.36" r="0.34" fill-opacity="0.66"/><circle cx="474.66" cy="73.27" r="0.31" fill-opacity="0.81"/><circle cx="510.06" cy="93.25" r="0.3" fill-opacity="0.81"/><circle cx="532.06" cy="52.96" r="0.44" fill-opacity="0.79"/><circle cx="512.3" cy="39.35" r="0.29" fill-opacity="0.8"/><circle cx="521.08" cy="59.64" r="0.28" fill-opacity="0.63"/><circle cx="477.19" cy="49.54" r="0.56" fill-opacity="0.86"/><circle cx="495.04" cy="58.06" r="0.28" fill-opacity="0.89"/><circle cx="511.26" cy="91.95" r="0.44" fill-opacity="0.77"/><circle cx="523.04" cy="91.31" r="0.46" fill-opacity="0.38"/><circle cx="509.04" cy="39.02" r="0.54" fill-opacity="0.66"/><circle cx="471.98" cy="71.72" r="0.33" fill-opacity="0.54"/><circle cx="510.72" cy="40.66" r="0.3" fill-opacity="0.71"/><circle cx="471.25" cy="67.13" r="0.31" fill-opacity="0.5"/><circle cx="489.07" cy="39.64" r="0.58" fill-opacity="0.53"/><circle cx="493.47" cy="102.95" r="0.59" fill-opacity="0.69"/><circle cx="485.99" cy="97.96" r="0.31" fill-opacity="0.64"/><circle cx="509.44" cy="61.49" r="0.38" fill-opacity="0.61"/><circle cx="508.89" cy="91.07" r="0.39" fill-opacity="0.48"/><circle cx="515.62" cy="74.83" r="0.32" fill-opacity="0.64"/><circle cx="476.18" cy="85.6" r="0.34" fill-opacity="0.48"/><circle cx="526.8" cy="94.07" r="0.34" fill-opacity="0.73"/><circle cx="483.88" cy="47.97" r="0.58" fill-opacity="0.85"/><circle cx="530.44" cy="69.72" r="0.37" fill-opacity="0.45"/><circle cx="509.87" cy="81.08" r="0.38" fill-opacity="0.5"/><circle cx="488.77" cy="98.65" r="0.48" fill-opacity="0.71"/><circle cx="477.51" cy="81.26" r="0.28" fill-opacity="0.61"/><circle cx="533.49" cy="81.78" r="0.28" fill-opacity="0.5"/><circle cx="520.4" cy="89.27" r="0.34" fill-opacity="0.67"/><circle cx="486.8" cy="49.38" r="0.44" fill-opacity="0.69"/><circle cx="525.14" cy="94.4" r="0.28" fill-opacity="0.61"/><circle cx="478.48" cy="89.41" r="0.35" fill-opacity="0.41"/><circle cx="469.03" cy="72.97" r="0.4" fill-opacity="0.52"/><circle cx="496.26" cy="86.42" r="0.3" fill-opacity="0.83"/><circle cx="481.13" cy="85.6" r="0.55" fill-opacity="0.49"/><circle cx="472.52" cy="80.11" r="0.33" fill-opacity="0.59"/><circle cx="485.08" cy="53.52" r="0.34" fill-opacity="0.52"/><circle cx="475.52" cy="74.64" r="0.54" fill-opacity="0.6"/><circle cx="535.3" cy="65.22" r="0.49" fill-opacity="0.57"/><circle cx="492.95" cy="100.46" r="0.46" fill-opacity="0.87"/><circle cx="473.98" cy="82.3" r="0.43" fill-opacity="0.47"/><circle cx="530.18" cy="66.63" r="0.32" fill-opacity="0.74"/><circle cx="505.29" cy="38.32" r="0.3" fill-opacity="0.69"/><circle cx="527.66" cy="69.18" r="0.29" fill-opacity="0.85"/><circle cx="516.23" cy="40.58" r="0.52" fill-opacity="0.57"/><circle cx="504.29" cy="39.12" r="0.47" fill-opacity="0.67"/><circle cx="473.21" cy="58.53" r="0.38" fill-opacity="0.89"/><circle cx="486.69" cy="100.36" r="0.46" fill-opacity="0.87"/><circle cx="473.57" cy="65.09" r="0.36" fill-opacity="0.44"/><circle cx="484.58" cy="41.45" r="0.31" fill-opacity="0.79"/><circle cx="487.57" cy="58.88" r="0.35" fill-opacity="0.64"/><circle cx="529.7" cy="61.86" r="0.32" fill-opacity="0.77"/><circle cx="490.77" cy="40.79" r="0.44" fill-opacity="0.81"/><circle cx="487.73" cy="87.8" r="0.38" fill-opacity="0.36"/><circle cx="520.05" cy="94.59" r="0.31" fill-opacity="0.83"/><circle cx="511.62" cy="89.96" r="0.28" fill-opacity="0.4"/><circle cx="499.15" cy="101.62" r="0.36" fill-opacity="0.73"/><circle cx="523.6" cy="43.93" r="0.3" fill-opacity="0.74"/><circle cx="519.54" cy="53.4" r="0.3" fill-opacity="0.61"/><circle cx="512.14" cy="45.63" r="0.39" fill-opacity="0.69"/><circle cx="505.61" cy="91.07" r="0.41" fill-opacity="0.43"/><circle cx="479.32" cy="79.17" r="0.34" fill-opacity="0.81"/><circle cx="516.53" cy="97.18" r="0.32" fill-opacity="0.74"/><circle cx="525.85" cy="45.52" r="0.3" fill-opacity="0.55"/><circle cx="531.9" cy="79.32" r="0.44" fill-opacity="0.38"/><circle cx="477.32" cy="55.99" r="0.28" fill-opacity="0.37"/><circle cx="473.92" cy="49.77" r="0.53" fill-opacity="0.38"/><circle cx="492.15" cy="41.74" r="0.29" fill-opacity="0.5"/><circle cx="488.41" cy="97.98" r="0.35" fill-opacity="0.51"/><circle cx="486.24" cy="89.26" r="0.3" fill-opacity="0.51"/><circle cx="498.73" cy="78.41" r="0.4" fill-opacity="0.5"/><circle cx="468.49" cy="76.79" r="0.37" fill-opacity="0.52"/><circle cx="479.21" cy="48.07" r="0.43" fill-opacity="0.73"/><circle cx="481.97" cy="86.77" r="0.37" fill-opacity="0.61"/><circle cx="508.79" cy="42.73" r="0.55" fill-opacity="0.47"/><circle cx="532.86" cy="76.46" r="0.5" fill-opacity="0.69"/><circle cx="515.64" cy="55.42" r="0.52" fill-opacity="0.73"/><circle cx="471.65" cy="79.1" r="0.33" fill-opacity="0.65"/><circle cx="532.17" cy="52.86" r="0.52" fill-opacity="0.39"/><circle cx="468.72" cy="60.87" r="0.37" fill-opacity="0.52"/><circle cx="529.96" cy="68.5" r="0.28" fill-opacity="0.9"/><circle cx="478.38" cy="89.87" r="0.42" fill-opacity="0.41"/><circle cx="470.59" cy="83.67" r="0.48" fill-opacity="0.68"/><circle cx="483.04" cy="74.56" r="0.56" fill-opacity="0.72"/><circle cx="471" cy="61.49" r="0.32" fill-opacity="0.67"/><circle cx="503.71" cy="79.16" r="0.43" fill-opacity="0.47"/><circle cx="485.03" cy="99.36" r="0.59" fill-opacity="0.66"/><circle cx="499.45" cy="103.23" r="0.51" fill-opacity="0.75"/><circle cx="515.14" cy="73.07" r="0.5" fill-opacity="0.43"/><circle cx="517.59" cy="96.02" r="0.36" fill-opacity="0.88"/><circle cx="512.47" cy="50.56" r="0.29" fill-opacity="0.7"/><circle cx="534.85" cy="79.46" r="0.39" fill-opacity="0.56"/><circle cx="497.19" cy="48.68" r="0.29" fill-opacity="0.62"/><circle cx="498.08" cy="91.53" r="0.57" fill-opacity="0.72"/><circle cx="504.49" cy="101.02" r="0.31" fill-opacity="0.81"/><circle cx="485.24" cy="39.86" r="0.41" fill-opacity="0.56"/><circle cx="527.71" cy="80.17" r="0.36" fill-opacity="0.56"/><circle cx="514.55" cy="72.43" r="0.61" fill-opacity="0.55"/><circle cx="486.56" cy="60.06" r="0.56" fill-opacity="0.45"/><circle cx="504.75" cy="42.64" r="0.39" fill-opacity="0.48"/><circle cx="531.59" cy="86.02" r="0.53" fill-opacity="0.37"/><circle cx="519.99" cy="43.37" r="0.41" fill-opacity="0.76"/><circle cx="531.68" cy="80.18" r="0.51" fill-opacity="0.43"/><circle cx="531.72" cy="75.56" r="0.54" fill-opacity="0.56"/><circle cx="519.21" cy="45.34" r="0.4" fill-opacity="0.85"/><circle cx="495.02" cy="99.96" r="0.29" fill-opacity="0.41"/><circle cx="518.31" cy="99.05" r="0.29" fill-opacity="0.64"/><circle cx="485.14" cy="62.51" r="0.37" fill-opacity="0.56"/><circle cx="493.07" cy="62.32" r="0.29" fill-opacity="0.53"/><circle cx="472.73" cy="52.23" r="0.33" fill-opacity="0.65"/><circle cx="488.78" cy="82.08" r="0.45" fill-opacity="0.55"/><circle cx="534.69" cy="78.78" r="0.31" fill-opacity="0.51"/><circle cx="491.95" cy="39.62" r="0.57" fill-opacity="0.45"/><circle cx="505.22" cy="37.26" r="0.28" fill-opacity="0.89"/><circle cx="480.46" cy="95.55" r="0.4" fill-opacity="0.88"/><circle cx="524.38" cy="51.67" r="0.62" fill-opacity="0.81"/><circle cx="523.32" cy="97.24" r="0.34" fill-opacity="0.66"/><circle cx="533.28" cy="83.08" r="0.41" fill-opacity="0.5"/><circle cx="512.63" cy="97.77" r="0.35" fill-opacity="0.82"/><circle cx="487.16" cy="86.91" r="0.44" fill-opacity="0.45"/><circle cx="482.91" cy="63.1" r="0.32" fill-opacity="0.35"/><circle cx="487.83" cy="96.67" r="0.31" fill-opacity="0.9"/><circle cx="499.02" cy="56.47" r="0.3" fill-opacity="0.61"/><circle cx="532.44" cy="57.09" r="0.34" fill-opacity="0.52"/><circle cx="500.76" cy="46.54" r="0.35" fill-opacity="0.73"/><circle cx="535.1" cy="63.18" r="0.29" fill-opacity="0.69"/><circle cx="476.12" cy="85.73" r="0.29" fill-opacity="0.75"/><circle cx="531.99" cy="64.08" r="0.28" fill-opacity="0.4"/><circle cx="516.55" cy="41.41" r="0.44" fill-opacity="0.65"/><circle cx="521.04" cy="86.56" r="0.42" fill-opacity="0.36"/><circle cx="507.7" cy="79.39" r="0.28" fill-opacity="0.64"/><circle cx="516.81" cy="40.75" r="0.32" fill-opacity="0.42"/><circle cx="525.42" cy="49.29" r="0.38" fill-opacity="0.67"/><circle cx="532.27" cy="65.38" r="0.31" fill-opacity="0.78"/><circle cx="529.04" cy="72.03" r="0.36" fill-opacity="0.49"/><circle cx="474.19" cy="68.38" r="0.28" fill-opacity="0.42"/><circle cx="532.67" cy="68.37" r="0.49" fill-opacity="0.51"/><circle cx="511.25" cy="43.98" r="0.33" fill-opacity="0.86"/><circle cx="476.54" cy="73.45" r="0.32" fill-opacity="0.9"/><circle cx="530.07" cy="85.5" r="0.44" fill-opacity="0.43"/><circle cx="476.29" cy="51.01" r="0.48" fill-opacity="0.59"/><circle cx="521.1" cy="54.06" r="0.3" fill-opacity="0.36"/><circle cx="520.46" cy="90.43" r="0.29" fill-opacity="0.84"/><circle cx="495.66" cy="57.73" r="0.3" fill-opacity="0.6"/><circle cx="513.89" cy="65.1" r="0.32" fill-opacity="0.43"/><circle cx="518.23" cy="74.06" r="0.42" fill-opacity="0.61"/><circle cx="510.71" cy="101.27" r="0.28" fill-opacity="0.68"/><circle cx="522.27" cy="58.53" r="0.29" fill-opacity="0.7"/><circle cx="534.75" cy="59.27" r="0.41" fill-opacity="0.53"/><circle cx="511.4" cy="37.8" r="0.28" fill-opacity="0.63"/><circle cx="533.09" cy="60.11" r="0.53" fill-opacity="0.49"/><circle cx="513.67" cy="90.95" r="0.47" fill-opacity="0.77"/><circle cx="493.37" cy="45.52" r="0.46" fill-opacity="0.6"/><circle cx="516.76" cy="96.87" r="0.51" fill-opacity="0.62"/><circle cx="485.06" cy="88.49" r="0.29" fill-opacity="0.89"/><circle cx="496.84" cy="53.36" r="0.4" fill-opacity="0.69"/><circle cx="523.1" cy="49.48" r="0.6" fill-opacity="0.57"/><circle cx="480.71" cy="83.6" r="0.33" fill-opacity="0.71"/><circle cx="516.08" cy="49.98" r="0.5" fill-opacity="0.72"/><circle cx="486.13" cy="50.35" r="0.3" fill-opacity="0.52"/><circle cx="531.85" cy="54.1" r="0.31" fill-opacity="0.56"/><circle cx="482.16" cy="46.76" r="0.55" fill-opacity="0.4"/><circle cx="506.81" cy="101.67" r="0.54" fill-opacity="0.54"/><circle cx="496.82" cy="90" r="0.34" fill-opacity="0.5"/><circle cx="495.01" cy="61.88" r="0.5" fill-opacity="0.53"/><circle cx="529.05" cy="84.51" r="0.49" fill-opacity="0.68"/><circle cx="475.77" cy="51.47" r="0.31" fill-opacity="0.37"/><circle cx="526.31" cy="65.92" r="0.32" fill-opacity="0.86"/><circle cx="522.39" cy="90.84" r="0.5" fill-opacity="0.4"/><circle cx="515.41" cy="79.02" r="0.34" fill-opacity="0.44"/><circle cx="525.21" cy="52.69" r="0.59" fill-opacity="0.77"/><circle cx="506.72" cy="43.42" r="0.43" fill-opacity="0.44"/><circle cx="476.12" cy="67.68" r="0.45" fill-opacity="0.73"/><circle cx="516.68" cy="41.49" r="0.28" fill-opacity="0.43"/><circle cx="531.78" cy="62.35" r="0.31" fill-opacity="0.59"/><circle cx="496.69" cy="98.55" r="0.49" fill-opacity="0.53"/><circle cx="534.44" cy="70.43" r="0.38" fill-opacity="0.4"/><circle cx="500.45" cy="84.46" r="0.48" fill-opacity="0.67"/><circle cx="476.23" cy="66.85" r="0.29" fill-opacity="0.6"/><circle cx="525.99" cy="89.23" r="0.29" fill-opacity="0.46"/><circle cx="531.13" cy="70.75" r="0.61" fill-opacity="0.81"/><circle cx="510.67" cy="53.41" r="0.6" fill-opacity="0.45"/><circle cx="532.13" cy="57.66" r="0.29" fill-opacity="0.42"/><circle cx="527.2" cy="51.9" r="0.56" fill-opacity="0.61"/><circle cx="503.76" cy="101.89" r="0.42" fill-opacity="0.75"/><circle cx="476.48" cy="77.29" r="0.35" fill-opacity="0.55"/><circle cx="494.59" cy="40.34" r="0.32" fill-opacity="0.66"/><circle cx="479.07" cy="89.91" r="0.32" fill-opacity="0.37"/><circle cx="532.01" cy="58.82" r="0.52" fill-opacity="0.37"/><circle cx="492.62" cy="93.4" r="0.29" fill-opacity="0.67"/><circle cx="513.3" cy="92.85" r="0.28" fill-opacity="0.36"/><circle cx="498.52" cy="49.08" r="0.49" fill-opacity="0.4"/><circle cx="505.74" cy="38.87" r="0.46" fill-opacity="0.52"/><circle cx="477.68" cy="74.57" r="0.49" fill-opacity="0.49"/><circle cx="474.66" cy="50.08" r="0.59" fill-opacity="0.87"/><circle cx="512.66" cy="103.39" r="0.5" fill-opacity="0.42"/><circle cx="516.13" cy="47.68" r="0.44" fill-opacity="0.46"/><circle cx="468.81" cy="68.14" r="0.28" fill-opacity="0.51"/><circle cx="526.43" cy="60.98" r="0.4" fill-opacity="0.8"/><circle cx="498.34" cy="39.2" r="0.32" fill-opacity="0.48"/><circle cx="476.21" cy="86.04" r="0.38" fill-opacity="0.57"/><circle cx="525" cy="72.64" r="0.43" fill-opacity="0.53"/><circle cx="498.84" cy="95.23" r="0.28" fill-opacity="0.51"/><circle cx="518.68" cy="73.33" r="0.36" fill-opacity="0.36"/><circle cx="478.7" cy="78.8" r="0.37" fill-opacity="0.36"/><circle cx="470.26" cy="58.44" r="0.36" fill-opacity="0.54"/><circle cx="509.3" cy="43.42" r="0.52" fill-opacity="0.84"/><circle cx="472.29" cy="77.51" r="0.38" fill-opacity="0.67"/><circle cx="522.51" cy="44.79" r="0.28" fill-opacity="0.76"/><circle cx="526.66" cy="54.17" r="0.28" fill-opacity="0.61"/><circle cx="519.52" cy="99.67" r="0.39" fill-opacity="0.43"/><circle cx="499.48" cy="42.82" r="0.31" fill-opacity="0.84"/><circle cx="498.76" cy="39.26" r="0.54" fill-opacity="0.78"/><circle cx="498.19" cy="55.59" r="0.46" fill-opacity="0.38"/><circle cx="529.58" cy="76.09" r="0.36" fill-opacity="0.54"/><circle cx="533.48" cy="56.49" r="0.29" fill-opacity="0.6"/><circle cx="525.58" cy="89.66" r="0.32" fill-opacity="0.58"/><circle cx="480.22" cy="55.19" r="0.58" fill-opacity="0.86"/><circle cx="506.44" cy="102.68" r="0.3" fill-opacity="0.6"/><circle cx="484.7" cy="94.14" r="0.61" fill-opacity="0.52"/><circle cx="509.68" cy="99.67" r="0.46" fill-opacity="0.81"/><circle cx="503.49" cy="101.34" r="0.49" fill-opacity="0.84"/><circle cx="517.97" cy="66.82" r="0.6" fill-opacity="0.74"/><circle cx="505.45" cy="38.72" r="0.37" fill-opacity="0.5"/><circle cx="488.31" cy="97.37" r="0.42" fill-opacity="0.43"/><circle cx="505.08" cy="90.76" r="0.59" fill-opacity="0.87"/><circle cx="521.13" cy="43.38" r="0.51" fill-opacity="0.66"/><circle cx="519.24" cy="41.37" r="0.52" fill-opacity="0.37"/><circle cx="468.51" cy="72.75" r="0.55" fill-opacity="0.89"/><circle cx="486.43" cy="43.83" r="0.44" fill-opacity="0.55"/><circle cx="513.52" cy="61.84" r="0.46" fill-opacity="0.79"/><circle cx="482.38" cy="76.41" r="0.44" fill-opacity="0.65"/><circle cx="477.95" cy="88.19" r="0.3" fill-opacity="0.47"/><circle cx="493.21" cy="45.68" r="0.56" fill-opacity="0.72"/><circle cx="475.46" cy="48.55" r="0.46" fill-opacity="0.69"/><circle cx="523.93" cy="80.75" r="0.43" fill-opacity="0.38"/><circle cx="485.31" cy="40.77" r="0.4" fill-opacity="0.79"/><circle cx="534.5" cy="68.16" r="0.35" fill-opacity="0.36"/><circle cx="521.6" cy="47.42" r="0.41" fill-opacity="0.55"/><circle cx="477.86" cy="46.15" r="0.61" fill-opacity="0.68"/><circle cx="533.97" cy="68.36" r="0.35" fill-opacity="0.84"/><circle cx="498.42" cy="77.15" r="0.32" fill-opacity="0.9"/><circle cx="493.74" cy="49.07" r="0.28" fill-opacity="0.52"/><circle cx="487.78" cy="60.14" r="0.34" fill-opacity="0.79"/><circle cx="513.6" cy="102.83" r="0.38" fill-opacity="0.47"/><circle cx="526.94" cy="50.98" r="0.31" fill-opacity="0.62"/><circle cx="480.09" cy="65.32" r="0.28" fill-opacity="0.54"/><circle cx="506.09" cy="37.85" r="0.45" fill-opacity="0.68"/><circle cx="531.7" cy="80.95" r="0.29" fill-opacity="0.76"/><circle cx="507.49" cy="35.86" r="0.29" fill-opacity="0.66"/><circle cx="521.59" cy="92.27" r="0.6" fill-opacity="0.63"/><circle cx="476.02" cy="93.17" r="0.28" fill-opacity="0.72"/><circle cx="495.19" cy="90.07" r="0.41" fill-opacity="0.53"/><circle cx="535.71" cy="68.26" r="0.55" fill-opacity="0.86"/><circle cx="529.65" cy="87.69" r="0.4" fill-opacity="0.39"/><circle cx="526.22" cy="94.98" r="0.45" fill-opacity="0.64"/><circle cx="533.45" cy="82.82" r="0.55" fill-opacity="0.8"/><circle cx="528.26" cy="74.85" r="0.45" fill-opacity="0.37"/><circle cx="487.15" cy="39.61" r="0.28" fill-opacity="0.75"/><circle cx="505.25" cy="46.32" r="0.39" fill-opacity="0.58"/><circle cx="496.74" cy="92.3" r="0.55" fill-opacity="0.54"/><circle cx="511.15" cy="93.45" r="0.28" fill-opacity="0.88"/><circle cx="472.6" cy="51.79" r="0.28" fill-opacity="0.44"/><circle cx="478.23" cy="47.3" r="0.59" fill-opacity="0.51"/><circle cx="514.71" cy="87.05" r="0.28" fill-opacity="0.62"/><circle cx="525.84" cy="62.65" r="0.31" fill-opacity="0.8"/><circle cx="518.07" cy="73.22" r="0.41" fill-opacity="0.83"/><circle cx="505.67" cy="103.44" r="0.44" fill-opacity="0.81"/><circle cx="514.15" cy="88.33" r="0.6" fill-opacity="0.85"/><circle cx="528.97" cy="79.21" r="0.33" fill-opacity="0.85"/><circle cx="532.35" cy="78.46" r="0.54" fill-opacity="0.54"/><circle cx="511.1" cy="100.62" r="0.34" fill-opacity="0.69"/><circle cx="486.37" cy="66.77" r="0.28" fill-opacity="0.59"/><circle cx="511.83" cy="50.13" r="0.3" fill-opacity="0.57"/><circle cx="496.95" cy="68.42" r="0.38" fill-opacity="0.74"/><circle cx="507.11" cy="100.68" r="0.29" fill-opacity="0.61"/><circle cx="526.23" cy="85.49" r="0.44" fill-opacity="0.58"/><circle cx="530.1" cy="58.08" r="0.53" fill-opacity="0.83"/><circle cx="518.72" cy="100.63" r="0.46" fill-opacity="0.87"/><circle cx="523.05" cy="91.63" r="0.28" fill-opacity="0.79"/><circle cx="522.5" cy="88.17" r="0.42" fill-opacity="0.43"/><circle cx="481.58" cy="44.38" r="0.5" fill-opacity="0.8"/><circle cx="521.48" cy="94.96" r="0.36" fill-opacity="0.37"/><circle cx="513.03" cy="41.54" r="0.36" fill-opacity="0.85"/><circle cx="513.28" cy="39.42" r="0.3" fill-opacity="0.54"/><circle cx="468.72" cy="75.81" r="0.61" fill-opacity="0.51"/><circle cx="534.64" cy="63.73" r="0.47" fill-opacity="0.84"/><circle cx="485.21" cy="55.06" r="0.28" fill-opacity="0.72"/><circle cx="518.93" cy="92.26" r="0.39" fill-opacity="0.39"/><circle cx="488.93" cy="77.66" r="0.51" fill-opacity="0.76"/><circle cx="476.93" cy="79.93" r="0.28" fill-opacity="0.78"/><circle cx="517.84" cy="90.67" r="0.35" fill-opacity="0.38"/><circle cx="474.92" cy="84.01" r="0.29" fill-opacity="0.81"/><circle cx="470.58" cy="59.23" r="0.29" fill-opacity="0.5"/><circle cx="484.29" cy="47" r="0.42" fill-opacity="0.38"/><circle cx="519.93" cy="43.54" r="0.58" fill-opacity="0.68"/><circle cx="490.29" cy="65.67" r="0.34" fill-opacity="0.86"/><circle cx="532.86" cy="73.29" r="0.28" fill-opacity="0.79"/><circle cx="520.61" cy="72" r="0.39" fill-opacity="0.49"/><circle cx="501.39" cy="36.36" r="0.31" fill-opacity="0.68"/><circle cx="500.37" cy="102" r="0.54" fill-opacity="0.72"/><circle cx="525.49" cy="63.24" r="0.4" fill-opacity="0.49"/><circle cx="519.89" cy="85.64" r="0.28" fill-opacity="0.69"/><circle cx="504.7" cy="54.22" r="0.29" fill-opacity="0.77"/><circle cx="524.7" cy="59.96" r="0.51" fill-opacity="0.81"/><circle cx="529.09" cy="58.53" r="0.41" fill-opacity="0.67"/><circle cx="479.13" cy="59.48" r="0.3" fill-opacity="0.7"/><circle cx="506.88" cy="101.1" r="0.28" fill-opacity="0.55"/><circle cx="470.42" cy="60.59" r="0.37" fill-opacity="0.68"/><circle cx="473.33" cy="59.33" r="0.38" fill-opacity="0.48"/><circle cx="526.34" cy="49.17" r="0.58" fill-opacity="0.51"/><circle cx="475.13" cy="78.18" r="0.29" fill-opacity="0.78"/><circle cx="496.42" cy="100.82" r="0.29" fill-opacity="0.46"/><circle cx="517.34" cy="98.94" r="0.42" fill-opacity="0.68"/><circle cx="481.21" cy="52.45" r="0.31" fill-opacity="0.61"/><circle cx="499.81" cy="49.4" r="0.4" fill-opacity="0.89"/><circle cx="505.26" cy="41.81" r="0.31" fill-opacity="0.55"/><circle cx="495.95" cy="39.3" r="0.29" fill-opacity="0.87"/><circle cx="529.61" cy="69.42" r="0.41" fill-opacity="0.56"/><circle cx="476.71" cy="53.87" r="0.46" fill-opacity="0.69"/><circle cx="500.68" cy="43.76" r="0.4" fill-opacity="0.7"/><circle cx="473.65" cy="58.97" r="0.28" fill-opacity="0.72"/><circle cx="527.83" cy="65.26" r="0.36" fill-opacity="0.44"/><circle cx="514.55" cy="91.57" r="0.55" fill-opacity="0.45"/><circle cx="482.77" cy="68.13" r="0.62" fill-opacity="0.4"/><circle cx="508.27" cy="69.31" r="0.56" fill-opacity="0.6"/><circle cx="515.9" cy="93.28" r="0.32" fill-opacity="0.59"/><circle cx="485.58" cy="66.08" r="0.36" fill-opacity="0.65"/><circle cx="488.91" cy="96.55" r="0.59" fill-opacity="0.68"/><circle cx="521.2" cy="49.07" r="0.28" fill-opacity="0.71"/><circle cx="514.42" cy="89.61" r="0.3" fill-opacity="0.59"/><circle cx="498.24" cy="99.42" r="0.41" fill-opacity="0.61"/><circle cx="504.61" cy="102.55" r="0.6" fill-opacity="0.65"/><circle cx="496.88" cy="48.68" r="0.34" fill-opacity="0.73"/><circle cx="498.99" cy="103.25" r="0.54" fill-opacity="0.59"/><circle cx="473.24" cy="66.04" r="0.38" fill-opacity="0.66"/><circle cx="528.43" cy="87.53" r="0.61" fill-opacity="0.36"/><circle cx="496.56" cy="103.77" r="0.28" fill-opacity="0.45"/><circle cx="534.72" cy="74.3" r="0.29" fill-opacity="0.36"/><circle cx="470.5" cy="71.99" r="0.6" fill-opacity="0.71"/><circle cx="526.76" cy="54.57" r="0.43" fill-opacity="0.48"/><circle cx="523.06" cy="87.6" r="0.57" fill-opacity="0.62"/><circle cx="513.03" cy="39.72" r="0.31" fill-opacity="0.67"/><circle cx="513.96" cy="99.01" r="0.37" fill-opacity="0.73"/><circle cx="475.57" cy="54.34" r="0.47" fill-opacity="0.9"/><circle cx="468.51" cy="79.88" r="0.37" fill-opacity="0.45"/><circle cx="528.46" cy="90.2" r="0.28" fill-opacity="0.4"/><circle cx="500.3" cy="90.4" r="0.48" fill-opacity="0.6"/><circle cx="535.32" cy="69.11" r="0.41" fill-opacity="0.59"/><circle cx="518.33" cy="43.81" r="0.49" fill-opacity="0.49"/><circle cx="513.35" cy="82.03" r="0.37" fill-opacity="0.45"/><circle cx="523.5" cy="62.22" r="0.34" fill-opacity="0.8"/><circle cx="505.12" cy="43.59" r="0.36" fill-opacity="0.57"/><circle cx="531.29" cy="54.51" r="0.44" fill-opacity="0.52"/><circle cx="482.81" cy="85.82" r="0.48" fill-opacity="0.35"/><circle cx="518.82" cy="92.48" r="0.46" fill-opacity="0.49"/><circle cx="484.06" cy="57.6" r="0.34" fill-opacity="0.73"/><circle cx="471.47" cy="60.05" r="0.28" fill-opacity="0.62"/><circle cx="524.08" cy="62.73" r="0.36" fill-opacity="0.76"/><circle cx="526.37" cy="92.59" r="0.3" fill-opacity="0.42"/><circle cx="535.6" cy="62.59" r="0.33" fill-opacity="0.36"/><circle cx="531.19" cy="78.78" r="0.48" fill-opacity="0.39"/><circle cx="505.47" cy="38.28" r="0.3" fill-opacity="0.63"/><circle cx="472.87" cy="65.55" r="0.29" fill-opacity="0.39"/><circle cx="475.17" cy="51.72" r="0.35" fill-opacity="0.7"/><circle cx="476.43" cy="86.2" r="0.52" fill-opacity="0.64"/><circle cx="518.31" cy="39.53" r="0.48" fill-opacity="0.73"/><circle cx="519.53" cy="83.35" r="0.43" fill-opacity="0.49"/><circle cx="479.66" cy="52.37" r="0.34" fill-opacity="0.48"/><circle cx="525.3" cy="49.85" r="0.31" fill-opacity="0.52"/><circle cx="484.27" cy="50.74" r="0.47" fill-opacity="0.77"/><circle cx="532.87" cy="64.66" r="0.35" fill-opacity="0.6"/><circle cx="513.35" cy="49.37" r="0.34" fill-opacity="0.66"/><circle cx="526.87" cy="71.85" r="0.31" fill-opacity="0.61"/><circle cx="516.75" cy="59.89" r="0.6" fill-opacity="0.79"/><circle cx="508.83" cy="63.82" r="0.28" fill-opacity="0.51"/><circle cx="515.67" cy="42.83" r="0.52" fill-opacity="0.45"/><circle cx="490.49" cy="81.16" r="0.36" fill-opacity="0.8"/><circle cx="521.28" cy="93.81" r="0.3" fill-opacity="0.38"/><circle cx="495.27" cy="41.78" r="0.34" fill-opacity="0.87"/><circle cx="522.25" cy="49.56" r="0.29" fill-opacity="0.51"/><circle cx="530.28" cy="62.06" r="0.44" fill-opacity="0.38"/><circle cx="509.46" cy="96.24" r="0.48" fill-opacity="0.7"/><circle cx="501.01" cy="98.8" r="0.36" fill-opacity="0.61"/><circle cx="519.23" cy="93.67" r="0.3" fill-opacity="0.42"/><circle cx="499.45" cy="37.72" r="0.34" fill-opacity="0.85"/><circle cx="495.15" cy="99.78" r="0.55" fill-opacity="0.54"/><circle cx="522.82" cy="63.72" r="0.44" fill-opacity="0.45"/><circle cx="487.89" cy="82.58" r="0.33" fill-opacity="0.53"/><circle cx="486.64" cy="81.33" r="0.28" fill-opacity="0.79"/><circle cx="473.97" cy="83.84" r="0.6" fill-opacity="0.83"/><circle cx="530.2" cy="53.18" r="0.57" fill-opacity="0.58"/><circle cx="492.57" cy="80.98" r="0.32" fill-opacity="0.69"/><circle cx="532.08" cy="85.39" r="0.34" fill-opacity="0.62"/><circle cx="519.96" cy="94.18" r="0.43" fill-opacity="0.48"/><circle cx="527.01" cy="63.08" r="0.35" fill-opacity="0.5"/><circle cx="482.06" cy="98.23" r="0.3" fill-opacity="0.64"/><circle cx="531.99" cy="86.62" r="0.32" fill-opacity="0.75"/><circle cx="487.9" cy="42.75" r="0.28" fill-opacity="0.38"/><circle cx="515.01" cy="98.89" r="0.31" fill-opacity="0.41"/><circle cx="503.61" cy="37.66" r="0.29" fill-opacity="0.4"/><circle cx="511.56" cy="81.76" r="0.36" fill-opacity="0.51"/><circle cx="474.48" cy="66.14" r="0.33" fill-opacity="0.37"/><circle cx="513.85" cy="47.64" r="0.28" fill-opacity="0.59"/><circle cx="518.73" cy="78.63" r="0.58" fill-opacity="0.87"/><circle cx="498.93" cy="41.87" r="0.4" fill-opacity="0.61"/><circle cx="470.94" cy="81.79" r="0.44" fill-opacity="0.37"/><circle cx="503.37" cy="53.39" r="0.36" fill-opacity="0.51"/><circle cx="494.94" cy="97.37" r="0.33" fill-opacity="0.35"/><circle cx="531.33" cy="63.02" r="0.54" fill-opacity="0.65"/><circle cx="490.16" cy="44.38" r="0.28" fill-opacity="0.59"/><circle cx="487.13" cy="48.98" r="0.32" fill-opacity="0.71"/><circle cx="472.86" cy="84.37" r="0.37" fill-opacity="0.38"/><circle cx="517.7" cy="97.18" r="0.36" fill-opacity="0.9"/><circle cx="506.11" cy="38.99" r="0.6" fill-opacity="0.56"/><circle cx="533.37" cy="75.27" r="0.35" fill-opacity="0.5"/><circle cx="522.22" cy="46.1" r="0.37" fill-opacity="0.73"/><circle cx="532.04" cy="55.98" r="0.41" fill-opacity="0.62"/><circle cx="513.2" cy="93.62" r="0.29" fill-opacity="0.79"/><circle cx="493.16" cy="62.41" r="0.51" fill-opacity="0.71"/><circle cx="516.37" cy="101.75" r="0.37" fill-opacity="0.6"/><circle cx="514.19" cy="99.05" r="0.29" fill-opacity="0.37"/><circle cx="501.69" cy="100.68" r="0.59" fill-opacity="0.58"/><circle cx="481.84" cy="42.78" r="0.35" fill-opacity="0.76"/><circle cx="523.35" cy="80.2" r="0.46" fill-opacity="0.76"/><circle cx="501.39" cy="53.14" r="0.29" fill-opacity="0.79"/><circle cx="528.75" cy="83.84" r="0.33" fill-opacity="0.75"/><circle cx="476.17" cy="85.85" r="0.53" fill-opacity="0.7"/><circle cx="509.86" cy="57.26" r="0.52" fill-opacity="0.74"/><circle cx="535.62" cy="72.28" r="0.29" fill-opacity="0.53"/><circle cx="508.1" cy="79.92" r="0.46" fill-opacity="0.77"/><circle cx="510.99" cy="58.44" r="0.6" fill-opacity="0.85"/><circle cx="501.05" cy="54.88" r="0.42" fill-opacity="0.81"/><circle cx="529.45" cy="66.14" r="0.35" fill-opacity="0.6"/><circle cx="474.52" cy="53.34" r="0.58" fill-opacity="0.5"/><circle cx="483.01" cy="97.7" r="0.28" fill-opacity="0.68"/><circle cx="469.85" cy="57.9" r="0.46" fill-opacity="0.77"/><circle cx="471.19" cy="82.75" r="0.3" fill-opacity="0.5"/><circle cx="472.18" cy="60.08" r="0.31" fill-opacity="0.38"/><circle cx="518.39" cy="43" r="0.49" fill-opacity="0.38"/><circle cx="494.14" cy="96.02" r="0.51" fill-opacity="0.46"/><circle cx="532.61" cy="80.25" r="0.28" fill-opacity="0.68"/><circle cx="527.72" cy="82.37" r="0.39" fill-opacity="0.64"/><circle cx="513.81" cy="87.77" r="0.36" fill-opacity="0.55"/><circle cx="497" cy="100.39" r="0.41" fill-opacity="0.49"/><circle cx="484.96" cy="58.72" r="0.46" fill-opacity="0.79"/><circle cx="535.72" cy="67.26" r="0.49" fill-opacity="0.55"/><circle cx="522.66" cy="91.76" r="0.29" fill-opacity="0.4"/><circle cx="524.4" cy="58.15" r="0.5" fill-opacity="0.64"/><circle cx="524.6" cy="77.91" r="0.28" fill-opacity="0.83"/><circle cx="509" cy="69.32" r="0.33" fill-opacity="0.78"/><circle cx="532.21" cy="86.92" r="0.36" fill-opacity="0.71"/><circle cx="483.82" cy="99.52" r="0.44" fill-opacity="0.39"/><circle cx="509.33" cy="40.66" r="0.58" fill-opacity="0.85"/><circle cx="504.67" cy="54.71" r="0.37" fill-opacity="0.78"/><circle cx="515.76" cy="95.58" r="0.29" fill-opacity="0.39"/><circle cx="524.12" cy="63.65" r="0.28" fill-opacity="0.77"/><circle cx="529" cy="55.98" r="0.3" fill-opacity="0.68"/><circle cx="486.9" cy="90.99" r="0.29" fill-opacity="0.73"/><circle cx="514.33" cy="43.46" r="0.28" fill-opacity="0.58"/><circle cx="477.3" cy="46.7" r="0.29" fill-opacity="0.6"/><circle cx="531.45" cy="84.01" r="0.29" fill-opacity="0.63"/><circle cx="483.95" cy="59.78" r="0.31" fill-opacity="0.74"/><circle cx="469.62" cy="80.98" r="0.29" fill-opacity="0.51"/><circle cx="515.57" cy="61.86" r="0.3" fill-opacity="0.58"/><circle cx="533.31" cy="62.48" r="0.29" fill-opacity="0.45"/><circle cx="520.73" cy="93.73" r="0.3" fill-opacity="0.68"/><circle cx="498.39" cy="60.28" r="0.54" fill-opacity="0.79"/><circle cx="494.34" cy="89.57" r="0.4" fill-opacity="0.69"/><circle cx="504.92" cy="98.7" r="0.3" fill-opacity="0.4"/><circle cx="530.14" cy="87.16" r="0.54" fill-opacity="0.88"/><circle cx="477.28" cy="45.81" r="0.28" fill-opacity="0.56"/><circle cx="523.53" cy="79.87" r="0.3" fill-opacity="0.36"/><circle cx="505.14" cy="97.38" r="0.57" fill-opacity="0.84"/><circle cx="482.39" cy="96.02" r="0.47" fill-opacity="0.78"/><circle cx="483.23" cy="95.58" r="0.29" fill-opacity="0.58"/><circle cx="501.63" cy="103.72" r="0.36" fill-opacity="0.79"/><circle cx="496.87" cy="36.79" r="0.44" fill-opacity="0.76"/><circle cx="473.89" cy="51.21" r="0.43" fill-opacity="0.65"/><circle cx="491.42" cy="102.72" r="0.29" fill-opacity="0.63"/><circle cx="481.53" cy="46.66" r="0.28" fill-opacity="0.46"/><circle cx="491.08" cy="47.01" r="0.35" fill-opacity="0.41"/><circle cx="530.99" cy="89.07" r="0.41" fill-opacity="0.69"/><circle cx="474.22" cy="69.03" r="0.61" fill-opacity="0.83"/><circle cx="485.86" cy="41.9" r="0.5" fill-opacity="0.9"/><circle cx="505.49" cy="101.05" r="0.51" fill-opacity="0.86"/><circle cx="523.08" cy="52.66" r="0.46" fill-opacity="0.67"/><circle cx="530.58" cy="88.6" r="0.6" fill-opacity="0.51"/><circle cx="493.37" cy="100.76" r="0.31" fill-opacity="0.85"/><circle cx="530.79" cy="89.44" r="0.41" fill-opacity="0.76"/><circle cx="496.1" cy="101" r="0.28" fill-opacity="0.45"/><circle cx="489.23" cy="96.18" r="0.29" fill-opacity="0.4"/><circle cx="525.28" cy="93.02" r="0.37" fill-opacity="0.89"/><circle cx="512.56" cy="43.91" r="0.28" fill-opacity="0.83"/><circle cx="484.61" cy="96.48" r="0.36" fill-opacity="0.87"/><circle cx="482.63" cy="46.75" r="0.59" fill-opacity="0.43"/><circle cx="509.83" cy="38.9" r="0.39" fill-opacity="0.71"/><circle cx="475.39" cy="54.32" r="0.46" fill-opacity="0.4"/><circle cx="474.89" cy="86.34" r="0.32" fill-opacity="0.44"/><circle cx="533.77" cy="60.67" r="0.42" fill-opacity="0.86"/><circle cx="480.18" cy="94.99" r="0.52" fill-opacity="0.68"/><circle cx="534.57" cy="60.88" r="0.29" fill-opacity="0.59"/><circle cx="507.29" cy="102.52" r="0.45" fill-opacity="0.55"/><circle cx="526.08" cy="94.7" r="0.3" fill-opacity="0.64"/><circle cx="494.9" cy="37.17" r="0.28" fill-opacity="0.69"/><circle cx="529.15" cy="88.25" r="0.31" fill-opacity="0.6"/><circle cx="529.16" cy="56.78" r="0.32" fill-opacity="0.54"/><circle cx="479.41" cy="95.1" r="0.3" fill-opacity="0.46"/><circle cx="471.58" cy="82.69" r="0.51" fill-opacity="0.61"/><circle cx="483.35" cy="82.14" r="0.46" fill-opacity="0.4"/><circle cx="496.41" cy="91.55" r="0.32" fill-opacity="0.46"/><circle cx="502.89" cy="82.15" r="0.3" fill-opacity="0.45"/><circle cx="525.44" cy="50.24" r="0.29" fill-opacity="0.45"/><circle cx="516.03" cy="46.13" r="0.52" fill-opacity="0.82"/><circle cx="486.39" cy="95.99" r="0.34" fill-opacity="0.35"/><circle cx="514.33" cy="57.67" r="0.3" fill-opacity="0.53"/><circle cx="527.97" cy="92.39" r="0.35" fill-opacity="0.47"/><circle cx="494.24" cy="36.24" r="0.46" fill-opacity="0.55"/><circle cx="479.29" cy="44.24" r="0.3" fill-opacity="0.38"/><circle cx="519.86" cy="49.36" r="0.62" fill-opacity="0.8"/><circle cx="475.61" cy="47.63" r="0.28" fill-opacity="0.46"/><circle cx="500.07" cy="37.92" r="0.43" fill-opacity="0.36"/><circle cx="505.15" cy="47.11" r="0.38" fill-opacity="0.62"/><circle cx="519.28" cy="41.01" r="0.33" fill-opacity="0.82"/><circle cx="488.34" cy="98.83" r="0.28" fill-opacity="0.57"/><circle cx="516.33" cy="38.54" r="0.36" fill-opacity="0.38"/><circle cx="493.33" cy="101.03" r="0.28" fill-opacity="0.58"/><circle cx="489.46" cy="82.43" r="0.39" fill-opacity="0.76"/><circle cx="500.74" cy="104.98" r="0.47" fill-opacity="0.39"/><circle cx="515.24" cy="95.45" r="0.51" fill-opacity="0.84"/><circle cx="535.19" cy="61.44" r="0.32" fill-opacity="0.78"/><circle cx="480.06" cy="88.99" r="0.31" fill-opacity="0.8"/><circle cx="533.15" cy="84.44" r="0.39" fill-opacity="0.74"/><circle cx="525.63" cy="51.53" r="0.49" fill-opacity="0.74"/><circle cx="512.15" cy="45.71" r="0.28" fill-opacity="0.75"/><circle cx="527.82" cy="62.32" r="0.42" fill-opacity="0.84"/><circle cx="493.61" cy="101.09" r="0.36" fill-opacity="0.76"/><circle cx="522.36" cy="43.19" r="0.6" fill-opacity="0.75"/><circle cx="488.88" cy="78.81" r="0.36" fill-opacity="0.41"/><circle cx="503.04" cy="95.3" r="0.28" fill-opacity="0.65"/><circle cx="479.22" cy="44.58" r="0.34" fill-opacity="0.44"/><circle cx="476.56" cy="48.6" r="0.36" fill-opacity="0.63"/><circle cx="533.74" cy="81.74" r="0.3" fill-opacity="0.79"/><circle cx="480" cy="80.19" r="0.31" fill-opacity="0.77"/><circle cx="494.74" cy="38.29" r="0.32" fill-opacity="0.75"/><circle cx="525.85" cy="88.07" r="0.31" fill-opacity="0.66"/><circle cx="528.28" cy="76.45" r="0.38" fill-opacity="0.83"/><circle cx="487" cy="55.95" r="0.3" fill-opacity="0.41"/><circle cx="526.37" cy="47.85" r="0.48" fill-opacity="0.67"/><circle cx="498.17" cy="103.02" r="0.33" fill-opacity="0.89"/><circle cx="481.4" cy="48.27" r="0.32" fill-opacity="0.4"/><circle cx="487.53" cy="54.42" r="0.43" fill-opacity="0.7"/><circle cx="502.83" cy="73.13" r="0.28" fill-opacity="0.55"/><circle cx="510.25" cy="44.4" r="0.29" fill-opacity="0.54"/><circle cx="499.14" cy="47.19" r="0.4" fill-opacity="0.71"/><circle cx="533.62" cy="67.13" r="0.33" fill-opacity="0.5"/><circle cx="492.3" cy="42.59" r="0.36" fill-opacity="0.69"/><circle cx="496.19" cy="92.13" r="0.3" fill-opacity="0.73"/><circle cx="471.44" cy="68.85" r="0.61" fill-opacity="0.78"/><circle cx="510.54" cy="100.61" r="0.37" fill-opacity="0.36"/><circle cx="510.31" cy="77.57" r="0.28" fill-opacity="0.54"/><circle cx="520.57" cy="80.03" r="0.29" fill-opacity="0.87"/><circle cx="524.15" cy="95.82" r="0.29" fill-opacity="0.83"/><circle cx="483.78" cy="45.44" r="0.6" fill-opacity="0.86"/><circle cx="499.55" cy="46.52" r="0.58" fill-opacity="0.84"/><circle cx="509.3" cy="39.17" r="0.45" fill-opacity="0.58"/><circle cx="471.35" cy="55.35" r="0.28" fill-opacity="0.6"/><circle cx="471.07" cy="73.61" r="0.58" fill-opacity="0.77"/><circle cx="523.21" cy="47.58" r="0.28" fill-opacity="0.87"/><circle cx="534.93" cy="72.77" r="0.31" fill-opacity="0.52"/><circle cx="511.45" cy="38.34" r="0.42" fill-opacity="0.85"/><circle cx="476.44" cy="88.47" r="0.49" fill-opacity="0.76"/><circle cx="469.25" cy="63.89" r="0.47" fill-opacity="0.8"/><circle cx="520.57" cy="45.78" r="0.52" fill-opacity="0.44"/><circle cx="515.45" cy="39.55" r="0.29" fill-opacity="0.82"/><circle cx="512.75" cy="86.01" r="0.43" fill-opacity="0.69"/><circle cx="509.41" cy="103.84" r="0.52" fill-opacity="0.87"/><circle cx="470.18" cy="59.92" r="0.56" fill-opacity="0.59"/><circle cx="514.25" cy="52.56" r="0.31" fill-opacity="0.85"/><circle cx="536.11" cy="74.3" r="0.46" fill-opacity="0.87"/><circle cx="476.9" cy="85.29" r="0.28" fill-opacity="0.81"/><circle cx="533.61" cy="77.41" r="0.29" fill-opacity="0.48"/><circle cx="511.87" cy="71.6" r="0.33" fill-opacity="0.56"/><circle cx="504.13" cy="103.3" r="0.47" fill-opacity="0.55"/><circle cx="529.47" cy="83.18" r="0.36" fill-opacity="0.58"/><circle cx="491.55" cy="43.48" r="0.34" fill-opacity="0.64"/><circle cx="512.72" cy="98.97" r="0.29" fill-opacity="0.5"/><circle cx="520.47" cy="52.71" r="0.6" fill-opacity="0.73"/><circle cx="470.36" cy="69.82" r="0.59" fill-opacity="0.63"/><circle cx="480.93" cy="47.79" r="0.29" fill-opacity="0.66"/><circle cx="506.67" cy="39.86" r="0.29" fill-opacity="0.55"/><circle cx="467.62" cy="72.28" r="0.35" fill-opacity="0.88"/><circle cx="468.83" cy="69.55" r="0.29" fill-opacity="0.55"/><circle cx="471.54" cy="79.9" r="0.36" fill-opacity="0.89"/><circle cx="510.29" cy="87.49" r="0.44" fill-opacity="0.63"/><circle cx="478.73" cy="85.01" r="0.44" fill-opacity="0.68"/><circle cx="501.98" cy="102.64" r="0.4" fill-opacity="0.6"/><circle cx="500.27" cy="35.76" r="0.41" fill-opacity="0.63"/><circle cx="513" cy="101.93" r="0.33" fill-opacity="0.67"/><circle cx="470.17" cy="60.67" r="0.6" fill-opacity="0.36"/><circle cx="480.66" cy="59.34" r="0.42" fill-opacity="0.67"/><circle cx="483.77" cy="89.51" r="0.47" fill-opacity="0.65"/><circle cx="507.18" cy="103.77" r="0.28" fill-opacity="0.65"/><circle cx="515.4" cy="39.91" r="0.41" fill-opacity="0.63"/><circle cx="484.08" cy="76.92" r="0.52" fill-opacity="0.65"/><circle cx="470.8" cy="61.46" r="0.4" fill-opacity="0.58"/><circle cx="516.27" cy="99.77" r="0.56" fill-opacity="0.72"/><circle cx="474.14" cy="85.19" r="0.44" fill-opacity="0.63"/><circle cx="528.23" cy="48.64" r="0.36" fill-opacity="0.56"/><circle cx="527.2" cy="87.37" r="0.37" fill-opacity="0.5"/><circle cx="496.29" cy="88.55" r="0.3" fill-opacity="0.5"/><circle cx="480.99" cy="44.45" r="0.42" fill-opacity="0.77"/><circle cx="486.73" cy="48.79" r="0.29" fill-opacity="0.76"/><circle cx="532.69" cy="83.52" r="0.57" fill-opacity="0.47"/><circle cx="483.16" cy="97.33" r="0.29" fill-opacity="0.68"/><circle cx="473.71" cy="68.16" r="0.41" fill-opacity="0.78"/><circle cx="516.53" cy="42.73" r="0.36" fill-opacity="0.7"/><circle cx="472.92" cy="79.12" r="0.44" fill-opacity="0.48"/><circle cx="478.95" cy="71.47" r="0.35" fill-opacity="0.88"/><circle cx="481.21" cy="46.88" r="0.32" fill-opacity="0.54"/><circle cx="469.75" cy="82.45" r="0.39" fill-opacity="0.48"/><circle cx="496.65" cy="54.58" r="0.28" fill-opacity="0.64"/><circle cx="470.17" cy="83.04" r="0.52" fill-opacity="0.37"/><circle cx="478.27" cy="95.58" r="0.28" fill-opacity="0.49"/><circle cx="481.24" cy="89.28" r="0.31" fill-opacity="0.61"/><circle cx="482.31" cy="67.95" r="0.39" fill-opacity="0.67"/><circle cx="508.18" cy="96.28" r="0.58" fill-opacity="0.41"/><circle cx="479.75" cy="83.79" r="0.3" fill-opacity="0.82"/><circle cx="479.92" cy="52.11" r="0.29" fill-opacity="0.59"/><circle cx="497.96" cy="37.79" r="0.53" fill-opacity="0.87"/><circle cx="485.81" cy="42.3" r="0.33" fill-opacity="0.87"/><circle cx="532.39" cy="83.84" r="0.33" fill-opacity="0.73"/><circle cx="519.4" cy="48.76" r="0.48" fill-opacity="0.58"/><circle cx="523.27" cy="88.4" r="0.56" fill-opacity="0.81"/><circle cx="505.63" cy="48.97" r="0.28" fill-opacity="0.62"/><circle cx="481.39" cy="88.85" r="0.38" fill-opacity="0.59"/><circle cx="496.71" cy="100.09" r="0.29" fill-opacity="0.48"/><circle cx="475.77" cy="69.51" r="0.48" fill-opacity="0.89"/><circle cx="478.92" cy="67.53" r="0.28" fill-opacity="0.7"/><circle cx="473.88" cy="53.09" r="0.33" fill-opacity="0.89"/><circle cx="509.06" cy="75.81" r="0.3" fill-opacity="0.76"/><circle cx="520.32" cy="53.66" r="0.29" fill-opacity="0.48"/><circle cx="509.11" cy="42.81" r="0.31" fill-opacity="0.85"/><circle cx="474.47" cy="56.32" r="0.3" fill-opacity="0.66"/><circle cx="497.84" cy="77.74" r="0.31" fill-opacity="0.49"/><circle cx="522.05" cy="92.79" r="0.45" fill-opacity="0.83"/><circle cx="477.82" cy="52.26" r="0.54" fill-opacity="0.65"/><circle cx="478.38" cy="59.69" r="0.56" fill-opacity="0.68"/><circle cx="522.13" cy="52.12" r="0.48" fill-opacity="0.63"/><circle cx="525.17" cy="67.12" r="0.42" fill-opacity="0.39"/><circle cx="480.61" cy="54.92" r="0.31" fill-opacity="0.85"/><circle cx="500" cy="102.92" r="0.55" fill-opacity="0.65"/><circle cx="526.71" cy="60.81" r="0.39" fill-opacity="0.64"/><circle cx="498.6" cy="96.88" r="0.35" fill-opacity="0.49"/><circle cx="533.33" cy="75.62" r="0.43" fill-opacity="0.4"/><circle cx="498.8" cy="93.78" r="0.38" fill-opacity="0.51"/><circle cx="522.65" cy="59.04" r="0.28" fill-opacity="0.38"/><circle cx="499.4" cy="100.91" r="0.42" fill-opacity="0.55"/><circle cx="480.02" cy="64.56" r="0.42" fill-opacity="0.82"/><circle cx="475.6" cy="58.35" r="0.54" fill-opacity="0.61"/><circle cx="473.49" cy="88.73" r="0.34" fill-opacity="0.88"/><circle cx="506.88" cy="42.37" r="0.4" fill-opacity="0.64"/><circle cx="485.93" cy="85.69" r="0.28" fill-opacity="0.75"/><circle cx="533.01" cy="64.6" r="0.47" fill-opacity="0.41"/><circle cx="528.51" cy="91.43" r="0.54" fill-opacity="0.79"/><circle cx="498.45" cy="39.37" r="0.43" fill-opacity="0.37"/><circle cx="514.61" cy="54.66" r="0.38" fill-opacity="0.36"/><circle cx="508.32" cy="65.96" r="0.55" fill-opacity="0.74"/><circle cx="498.97" cy="104.66" r="0.42" fill-opacity="0.77"/><circle cx="502.47" cy="87.21" r="0.46" fill-opacity="0.42"/><circle cx="473.33" cy="88.65" r="0.29" fill-opacity="0.71"/><circle cx="480.63" cy="94.37" r="0.51" fill-opacity="0.8"/><circle cx="471.21" cy="81.16" r="0.29" fill-opacity="0.85"/><circle cx="529.52" cy="81.16" r="0.59" fill-opacity="0.89"/><circle cx="492.79" cy="55.08" r="0.35" fill-opacity="0.61"/><circle cx="519.27" cy="44.75" r="0.4" fill-opacity="0.76"/><circle cx="477.51" cy="62.27" r="0.31" fill-opacity="0.71"/><circle cx="493.65" cy="101.28" r="0.33" fill-opacity="0.4"/><circle cx="532.89" cy="73.48" r="0.34" fill-opacity="0.56"/><circle cx="514.14" cy="69.06" r="0.28" fill-opacity="0.81"/><circle cx="485.21" cy="56.2" r="0.32" fill-opacity="0.36"/><circle cx="495.69" cy="37.47" r="0.62" fill-opacity="0.49"/><circle cx="477.7" cy="67.78" r="0.31" fill-opacity="0.58"/><circle cx="482.41" cy="80.29" r="0.56" fill-opacity="0.6"/><circle cx="485.39" cy="93.13" r="0.46" fill-opacity="0.71"/><circle cx="531.24" cy="89.21" r="0.53" fill-opacity="0.75"/><circle cx="501.8" cy="43" r="0.28" fill-opacity="0.72"/><circle cx="500.46" cy="44.36" r="0.44" fill-opacity="0.63"/><circle cx="521.94" cy="89" r="0.37" fill-opacity="0.76"/><circle cx="518.38" cy="42.4" r="0.28" fill-opacity="0.82"/><circle cx="494.12" cy="46.58" r="0.39" fill-opacity="0.51"/><circle cx="526.67" cy="49.71" r="0.62" fill-opacity="0.74"/><circle cx="528.41" cy="54.35" r="0.29" fill-opacity="0.43"/><circle cx="492.66" cy="68.85" r="0.34" fill-opacity="0.86"/><circle cx="521.51" cy="78.57" r="0.36" fill-opacity="0.65"/><circle cx="528.96" cy="81.22" r="0.32" fill-opacity="0.81"/><circle cx="510.68" cy="88.23" r="0.58" fill-opacity="0.83"/><circle cx="485.71" cy="87.96" r="0.54" fill-opacity="0.85"/><circle cx="487.88" cy="40.22" r="0.28" fill-opacity="0.87"/><circle cx="481.04" cy="96.49" r="0.28" fill-opacity="0.71"/><circle cx="516.14" cy="100.62" r="0.43" fill-opacity="0.59"/><circle cx="490.56" cy="99.43" r="0.48" fill-opacity="0.77"/><circle cx="506.62" cy="88.8" r="0.33" fill-opacity="0.53"/><circle cx="535.67" cy="71.37" r="0.38" fill-opacity="0.42"/><circle cx="479.49" cy="75.61" r="0.58" fill-opacity="0.75"/><circle cx="501.23" cy="104.97" r="0.29" fill-opacity="0.7"/><circle cx="470.69" cy="68.81" r="0.46" fill-opacity="0.53"/><circle cx="511.92" cy="40.23" r="0.38" fill-opacity="0.85"/><circle cx="469.82" cy="82.14" r="0.59" fill-opacity="0.52"/><circle cx="474.62" cy="61.34" r="0.52" fill-opacity="0.82"/><circle cx="468.97" cy="64.81" r="0.34" fill-opacity="0.41"/><circle cx="496.41" cy="35.88" r="0.39" fill-opacity="0.4"/><circle cx="522.62" cy="82.67" r="0.33" fill-opacity="0.55"/><circle cx="511.65" cy="80.76" r="0.59" fill-opacity="0.66"/><circle cx="484.56" cy="90.46" r="0.36" fill-opacity="0.45"/><circle cx="478.39" cy="45.6" r="0.59" fill-opacity="0.8"/><circle cx="491.79" cy="44.02" r="0.33" fill-opacity="0.39"/><circle cx="487.14" cy="41.15" r="0.28" fill-opacity="0.8"/><circle cx="516.34" cy="99.42" r="0.31" fill-opacity="0.48"/><circle cx="525.28" cy="49.5" r="0.37" fill-opacity="0.38"/><circle cx="523.1" cy="92.12" r="0.29" fill-opacity="0.51"/><circle cx="480.3" cy="96.6" r="0.36" fill-opacity="0.78"/><circle cx="533.38" cy="78.5" r="0.36" fill-opacity="0.86"/><circle cx="486.34" cy="52.79" r="0.37" fill-opacity="0.62"/><circle cx="526.06" cy="50.41" r="0.6" fill-opacity="0.88"/><circle cx="511.46" cy="40.96" r="0.29" fill-opacity="0.46"/><circle cx="528.23" cy="73.62" r="0.47" fill-opacity="0.42"/><circle cx="514.58" cy="101.74" r="0.51" fill-opacity="0.5"/><circle cx="478.6" cy="60.57" r="0.44" fill-opacity="0.74"/><circle cx="518.74" cy="98.98" r="0.3" fill-opacity="0.78"/><circle cx="526.17" cy="91.22" r="0.4" fill-opacity="0.45"/><circle cx="469.37" cy="81.86" r="0.37" fill-opacity="0.37"/><circle cx="489.94" cy="58.91" r="0.29" fill-opacity="0.45"/><circle cx="482.61" cy="42.72" r="0.31" fill-opacity="0.52"/><circle cx="476.13" cy="58.1" r="0.29" fill-opacity="0.43"/><circle cx="490.47" cy="50.5" r="0.29" fill-opacity="0.4"/><circle cx="468.7" cy="62.4" r="0.28" fill-opacity="0.55"/><circle cx="512.34" cy="51.89" r="0.28" fill-opacity="0.64"/><circle cx="521.95" cy="68.58" r="0.38" fill-opacity="0.42"/><circle cx="497.6" cy="60.53" r="0.52" fill-opacity="0.7"/><circle cx="516.64" cy="43.64" r="0.52" fill-opacity="0.5"/><circle cx="527.48" cy="90.5" r="0.55" fill-opacity="0.36"/><circle cx="507.13" cy="90.27" r="0.36" fill-opacity="0.38"/><circle cx="493.42" cy="51.3" r="0.32" fill-opacity="0.85"/><circle cx="503.81" cy="42.63" r="0.39" fill-opacity="0.6"/><circle cx="478.55" cy="45.69" r="0.35" fill-opacity="0.89"/><circle cx="518.31" cy="97.25" r="0.32" fill-opacity="0.7"/><circle cx="536.79" cy="68.12" r="0.42" fill-opacity="0.75"/><circle cx="522.5" cy="45.61" r="0.35" fill-opacity="0.66"/><circle cx="523.05" cy="76.44" r="0.29" fill-opacity="0.64"/><circle cx="498.3" cy="103.13" r="0.29" fill-opacity="0.58"/><circle cx="470.8" cy="72.35" r="0.44" fill-opacity="0.41"/><circle cx="469.97" cy="65.93" r="0.29" fill-opacity="0.71"/><circle cx="535.03" cy="60.37" r="0.41" fill-opacity="0.4"/><circle cx="497.94" cy="92.42" r="0.28" fill-opacity="0.73"/><circle cx="504.74" cy="92.72" r="0.61" fill-opacity="0.65"/><circle cx="522.44" cy="62.45" r="0.46" fill-opacity="0.63"/><circle cx="533.76" cy="75.19" r="0.3" fill-opacity="0.78"/><circle cx="485.13" cy="96.23" r="0.6" fill-opacity="0.44"/><circle cx="529.14" cy="78.19" r="0.39" fill-opacity="0.39"/><circle cx="525.93" cy="69.76" r="0.35" fill-opacity="0.51"/><circle cx="514.27" cy="90.08" r="0.31" fill-opacity="0.73"/><circle cx="522.75" cy="75.3" r="0.49" fill-opacity="0.51"/><circle cx="534.42" cy="63.84" r="0.38" fill-opacity="0.39"/><circle cx="533.7" cy="73.67" r="0.31" fill-opacity="0.81"/><circle cx="521.49" cy="68.34" r="0.3" fill-opacity="0.45"/><circle cx="492.76" cy="36.71" r="0.28" fill-opacity="0.36"/><circle cx="534.18" cy="61.78" r="0.28" fill-opacity="0.72"/><circle cx="510.83" cy="64.01" r="0.31" fill-opacity="0.56"/><circle cx="482.01" cy="49.92" r="0.28" fill-opacity="0.69"/><circle cx="507.16" cy="36.55" r="0.42" fill-opacity="0.7"/><circle cx="495.06" cy="38.16" r="0.32" fill-opacity="0.36"/><circle cx="515.46" cy="73.94" r="0.4" fill-opacity="0.9"/><circle cx="522.57" cy="72.69" r="0.29" fill-opacity="0.55"/><circle cx="518.31" cy="54.66" r="0.62" fill-opacity="0.89"/><circle cx="519.19" cy="98.86" r="0.35" fill-opacity="0.63"/><circle cx="508.11" cy="101.8" r="0.5" fill-opacity="0.77"/><circle cx="512.69" cy="80.42" r="0.5" fill-opacity="0.88"/><circle cx="503.51" cy="39.75" r="0.54" fill-opacity="0.42"/><circle cx="491.4" cy="41.79" r="0.32" fill-opacity="0.73"/><circle cx="497.3" cy="103" r="0.35" fill-opacity="0.67"/><circle cx="506.14" cy="50.52" r="0.28" fill-opacity="0.45"/><circle cx="510.24" cy="57.4" r="0.55" fill-opacity="0.47"/><circle cx="531.92" cy="65.99" r="0.36" fill-opacity="0.55"/><circle cx="521.22" cy="58.56" r="0.32" fill-opacity="0.57"/><circle cx="514.76" cy="99.33" r="0.43" fill-opacity="0.89"/><circle cx="486" cy="46.34" r="0.46" fill-opacity="0.56"/><circle cx="488.23" cy="56.25" r="0.32" fill-opacity="0.78"/><circle cx="520.01" cy="98.71" r="0.54" fill-opacity="0.8"/><circle cx="505.97" cy="85.86" r="0.29" fill-opacity="0.89"/><circle cx="512.03" cy="70.74" r="0.39" fill-opacity="0.6"/><circle cx="519.22" cy="42.11" r="0.29" fill-opacity="0.88"/><circle cx="517.8" cy="92.26" r="0.3" fill-opacity="0.45"/><circle cx="500.59" cy="98.66" r="0.3" fill-opacity="0.41"/><circle cx="470.08" cy="83.19" r="0.35" fill-opacity="0.42"/><circle cx="503.75" cy="62.25" r="0.28" fill-opacity="0.51"/><circle cx="494.39" cy="44.45" r="0.39" fill-opacity="0.74"/><circle cx="497.2" cy="101.28" r="0.36" fill-opacity="0.58"/><circle cx="530.43" cy="81.62" r="0.28" fill-opacity="0.71"/><circle cx="511.48" cy="97.96" r="0.41" fill-opacity="0.62"/><circle cx="499.37" cy="102.55" r="0.31" fill-opacity="0.38"/><circle cx="468.31" cy="74.62" r="0.46" fill-opacity="0.62"/><circle cx="477.34" cy="68.78" r="0.31" fill-opacity="0.63"/><circle cx="525.87" cy="91.37" r="0.36" fill-opacity="0.64"/><circle cx="528.15" cy="49.5" r="0.35" fill-opacity="0.51"/><circle cx="489.51" cy="81.98" r="0.28" fill-opacity="0.8"/><circle cx="515.34" cy="101.49" r="0.52" fill-opacity="0.73"/><circle cx="511.1" cy="45.19" r="0.36" fill-opacity="0.87"/><circle cx="477.74" cy="64.18" r="0.34" fill-opacity="0.85"/><circle cx="484.66" cy="89.21" r="0.31" fill-opacity="0.72"/><circle cx="472.49" cy="66.25" r="0.43" fill-opacity="0.35"/><circle cx="498.04" cy="39.56" r="0.51" fill-opacity="0.47"/><circle cx="476.9" cy="46.48" r="0.51" fill-opacity="0.46"/><circle cx="471.62" cy="63.68" r="0.55" fill-opacity="0.54"/><circle cx="533.54" cy="79.23" r="0.28" fill-opacity="0.9"/><circle cx="522.7" cy="45.66" r="0.31" fill-opacity="0.36"/><circle cx="474.51" cy="90.35" r="0.43" fill-opacity="0.36"/><circle cx="531.33" cy="66.08" r="0.44" fill-opacity="0.55"/><circle cx="523.44" cy="45.74" r="0.38" fill-opacity="0.65"/><circle cx="504.28" cy="100.85" r="0.31" fill-opacity="0.61"/><circle cx="505.08" cy="92.59" r="0.47" fill-opacity="0.87"/><circle cx="481.95" cy="82.12" r="0.28" fill-opacity="0.4"/><circle cx="504.27" cy="91.95" r="0.5" fill-opacity="0.61"/><circle cx="500.58" cy="39.91" r="0.57" fill-opacity="0.88"/><circle cx="535.22" cy="75.44" r="0.28" fill-opacity="0.49"/><circle cx="505.2" cy="100.79" r="0.5" fill-opacity="0.78"/><circle cx="501.6" cy="41.61" r="0.4" fill-opacity="0.39"/><circle cx="481.84" cy="73.95" r="0.6" fill-opacity="0.46"/><circle cx="486.27" cy="45.68" r="0.31" fill-opacity="0.57"/><circle cx="534.42" cy="80.65" r="0.55" fill-opacity="0.66"/><circle cx="487.05" cy="49.53" r="0.28" fill-opacity="0.47"/><circle cx="478.05" cy="67.5" r="0.61" fill-opacity="0.66"/><circle cx="501.58" cy="99.04" r="0.61" fill-opacity="0.56"/><circle cx="474.42" cy="86.6" r="0.29" fill-opacity="0.59"/><circle cx="467.68" cy="65.68" r="0.31" fill-opacity="0.65"/><circle cx="511.29" cy="46.47" r="0.35" fill-opacity="0.86"/><circle cx="518.11" cy="96.54" r="0.45" fill-opacity="0.89"/><circle cx="499.42" cy="82.23" r="0.28" fill-opacity="0.72"/><circle cx="486.14" cy="43.82" r="0.38" fill-opacity="0.75"/><circle cx="520.06" cy="97.09" r="0.36" fill-opacity="0.7"/><circle cx="530.23" cy="53.58" r="0.28" fill-opacity="0.75"/><circle cx="534.82" cy="63.16" r="0.42" fill-opacity="0.68"/><circle cx="480.7" cy="54.35" r="0.32" fill-opacity="0.79"/><circle cx="475.68" cy="67.68" r="0.45" fill-opacity="0.81"/><circle cx="503.1" cy="101.3" r="0.28" fill-opacity="0.42"/><circle cx="530.75" cy="85.35" r="0.36" fill-opacity="0.77"/><circle cx="480.79" cy="95.95" r="0.36" fill-opacity="0.5"/><circle cx="525.38" cy="93.26" r="0.29" fill-opacity="0.51"/><circle cx="509.09" cy="104.12" r="0.3" fill-opacity="0.88"/><circle cx="534.35" cy="70.03" r="0.43" fill-opacity="0.49"/><circle cx="535.6" cy="70.81" r="0.6" fill-opacity="0.71"/><circle cx="493.34" cy="96" r="0.48" fill-opacity="0.57"/><circle cx="485.24" cy="100.2" r="0.29" fill-opacity="0.73"/><circle cx="471.01" cy="81.46" r="0.29" fill-opacity="0.88"/><circle cx="512.77" cy="62.33" r="0.42" fill-opacity="0.8"/><circle cx="494.42" cy="87.99" r="0.29" fill-opacity="0.8"/></g>
<g fill="#5a4db8"><circle cx="488.84" cy="47.63" r="0.84" fill-opacity="0.76"/><circle cx="520.22" cy="68.59" r="0.6" fill-opacity="0.66"/><circle cx="503.81" cy="75.56" r="0.67" fill-opacity="0.67"/><circle cx="499.31" cy="65.41" r="0.6" fill-opacity="0.69"/><circle cx="508.71" cy="102.54" r="0.68" fill-opacity="0.61"/><circle cx="518.91" cy="59.17" r="0.61" fill-opacity="0.69"/><circle cx="493.49" cy="70.7" r="0.66" fill-opacity="0.69"/><circle cx="533.53" cy="76.09" r="0.6" fill-opacity="0.69"/><circle cx="497.69" cy="53.21" r="0.64" fill-opacity="0.78"/><circle cx="528.47" cy="58.14" r="0.68" fill-opacity="0.81"/><circle cx="506.81" cy="61.98" r="0.67" fill-opacity="0.61"/><circle cx="525.1" cy="62.26" r="0.64" fill-opacity="0.74"/><circle cx="506.23" cy="37.23" r="0.65" fill-opacity="0.73"/><circle cx="470.45" cy="78.73" r="0.72" fill-opacity="0.77"/><circle cx="498.83" cy="85.84" r="0.62" fill-opacity="0.9"/><circle cx="510.88" cy="99.62" r="0.77" fill-opacity="0.8"/><circle cx="496.76" cy="60.22" r="0.74" fill-opacity="0.79"/><circle cx="528.22" cy="75.15" r="0.76" fill-opacity="0.86"/><circle cx="533.35" cy="66.96" r="0.84" fill-opacity="0.85"/><circle cx="511.68" cy="60.54" r="0.77" fill-opacity="0.66"/><circle cx="528.88" cy="54.53" r="0.8" fill-opacity="0.63"/><circle cx="517.59" cy="99.92" r="0.63" fill-opacity="0.84"/><circle cx="483.39" cy="81.57" r="0.72" fill-opacity="0.9"/><circle cx="503.26" cy="90.48" r="0.61" fill-opacity="0.78"/><circle cx="501.39" cy="53.94" r="0.69" fill-opacity="0.77"/></g>
<rect x="373" y="117" width="84" height="83.6" fill="url(#bgBot)" stroke="#8a8a8a" stroke-width="0.9"/>
<circle cx="415.6" cy="159" r="40" fill="#fbfbfe"/>
<circle cx="415.6" cy="159" r="39.5" fill="none" stroke="#b2a9dc" stroke-width="0.9" stroke-opacity="1"/>
<circle cx="415.6" cy="159" r="37.6" fill="none" stroke="#cfc9ea" stroke-width="1.3" stroke-opacity="1"/>
<circle cx="415.6" cy="159" r="36" fill="none" stroke="#e6e3f4" stroke-width="0.8" stroke-opacity="1"/>
<g fill="#8a80cc"><circle cx="438.26" cy="161.15" r="0.34" fill-opacity="0.51"/><circle cx="394.61" cy="130.97" r="0.26" fill-opacity="0.59"/><circle cx="448.33" cy="147.05" r="0.25" fill-opacity="0.27"/><circle cx="381.76" cy="160.7" r="0.37" fill-opacity="0.38"/><circle cx="418.56" cy="169.54" r="0.41" fill-opacity="0.34"/><circle cx="444.05" cy="155.99" r="0.51" fill-opacity="0.6"/><circle cx="417.36" cy="161.62" r="0.35" fill-opacity="0.46"/><circle cx="411.22" cy="154.6" r="0.25" fill-opacity="0.55"/><circle cx="420.17" cy="126.37" r="0.54" fill-opacity="0.57"/><circle cx="403.12" cy="144.16" r="0.34" fill-opacity="0.45"/><circle cx="398.49" cy="175.36" r="0.42" fill-opacity="0.51"/><circle cx="426.31" cy="126.54" r="0.25" fill-opacity="0.45"/><circle cx="442.23" cy="142.07" r="0.26" fill-opacity="0.25"/><circle cx="397.15" cy="188.83" r="0.36" fill-opacity="0.4"/><circle cx="405.48" cy="132.53" r="0.49" fill-opacity="0.4"/><circle cx="439.34" cy="156.91" r="0.33" fill-opacity="0.62"/><circle cx="416.42" cy="153.04" r="0.25" fill-opacity="0.45"/><circle cx="406.83" cy="154.29" r="0.39" fill-opacity="0.39"/><circle cx="428.47" cy="177.27" r="0.27" fill-opacity="0.63"/><circle cx="424.51" cy="134.45" r="0.46" fill-opacity="0.55"/><circle cx="404.14" cy="182.44" r="0.25" fill-opacity="0.62"/><circle cx="434.94" cy="133.03" r="0.28" fill-opacity="0.61"/><circle cx="386.01" cy="169.13" r="0.37" fill-opacity="0.57"/><circle cx="428.27" cy="188.53" r="0.55" fill-opacity="0.27"/><circle cx="436.33" cy="162.14" r="0.26" fill-opacity="0.65"/><circle cx="436.43" cy="158.99" r="0.41" fill-opacity="0.26"/><circle cx="412.78" cy="174.82" r="0.4" fill-opacity="0.33"/><circle cx="414.43" cy="161.43" r="0.28" fill-opacity="0.3"/><circle cx="443.96" cy="174.98" r="0.51" fill-opacity="0.35"/><circle cx="419.02" cy="150.71" r="0.26" fill-opacity="0.28"/><circle cx="445.1" cy="142.27" r="0.32" fill-opacity="0.48"/><circle cx="416.51" cy="123.99" r="0.27" fill-opacity="0.59"/><circle cx="410.01" cy="183.03" r="0.35" fill-opacity="0.35"/><circle cx="433.46" cy="160.76" r="0.25" fill-opacity="0.57"/><circle cx="401.95" cy="137.56" r="0.27" fill-opacity="0.33"/><circle cx="412.11" cy="128.42" r="0.31" fill-opacity="0.49"/><circle cx="393.57" cy="132.37" r="0.44" fill-opacity="0.4"/><circle cx="386.29" cy="152.97" r="0.42" fill-opacity="0.36"/><circle cx="395.67" cy="157.06" r="0.26" fill-opacity="0.41"/><circle cx="417.94" cy="164.72" r="0.34" fill-opacity="0.51"/><circle cx="410.06" cy="130.11" r="0.36" fill-opacity="0.31"/><circle cx="434.4" cy="159.66" r="0.33" fill-opacity="0.64"/><circle cx="393.47" cy="137.35" r="0.25" fill-opacity="0.47"/><circle cx="407.15" cy="186.43" r="0.5" fill-opacity="0.52"/><circle cx="387.28" cy="142.65" r="0.32" fill-opacity="0.46"/><circle cx="438.42" cy="182.55" r="0.54" fill-opacity="0.39"/><circle cx="405.24" cy="184.69" r="0.36" fill-opacity="0.27"/><circle cx="423.66" cy="150.77" r="0.47" fill-opacity="0.56"/><circle cx="401.64" cy="152.65" r="0.25" fill-opacity="0.55"/><circle cx="400.36" cy="164.74" r="0.25" fill-opacity="0.52"/><circle cx="409" cy="153.35" r="0.48" fill-opacity="0.32"/><circle cx="434.05" cy="160.92" r="0.25" fill-opacity="0.55"/><circle cx="385.34" cy="171.95" r="0.25" fill-opacity="0.58"/><circle cx="428.47" cy="159.31" r="0.28" fill-opacity="0.43"/><circle cx="439.24" cy="172.23" r="0.25" fill-opacity="0.6"/><circle cx="439.43" cy="140.46" r="0.36" fill-opacity="0.55"/><circle cx="399.32" cy="157.65" r="0.54" fill-opacity="0.64"/><circle cx="408.59" cy="186.39" r="0.29" fill-opacity="0.36"/><circle cx="394.17" cy="163.93" r="0.25" fill-opacity="0.59"/><circle cx="417.83" cy="193.58" r="0.27" fill-opacity="0.27"/><circle cx="393.24" cy="185.55" r="0.28" fill-opacity="0.55"/><circle cx="445.81" cy="152.56" r="0.47" fill-opacity="0.27"/><circle cx="424.29" cy="128.68" r="0.35" fill-opacity="0.29"/><circle cx="388.66" cy="161.43" r="0.43" fill-opacity="0.32"/><circle cx="438.1" cy="141.97" r="0.54" fill-opacity="0.6"/><circle cx="392.82" cy="155.42" r="0.31" fill-opacity="0.28"/><circle cx="391.24" cy="183.08" r="0.48" fill-opacity="0.61"/><circle cx="449.22" cy="153.98" r="0.25" fill-opacity="0.49"/><circle cx="402.72" cy="174" r="0.26" fill-opacity="0.6"/><circle cx="393.19" cy="143.39" r="0.49" fill-opacity="0.46"/><circle cx="403.44" cy="179.39" r="0.53" fill-opacity="0.51"/><circle cx="408.78" cy="150.84" r="0.25" fill-opacity="0.44"/><circle cx="419.6" cy="180.86" r="0.27" fill-opacity="0.42"/><circle cx="412.24" cy="141.51" r="0.25" fill-opacity="0.59"/><circle cx="417.91" cy="142.81" r="0.29" fill-opacity="0.4"/><circle cx="444.61" cy="146.95" r="0.32" fill-opacity="0.42"/><circle cx="421.77" cy="167.65" r="0.47" fill-opacity="0.5"/><circle cx="407.15" cy="190.87" r="0.31" fill-opacity="0.56"/><circle cx="434.29" cy="156.89" r="0.26" fill-opacity="0.36"/><circle cx="389.83" cy="152.36" r="0.32" fill-opacity="0.56"/><circle cx="405.07" cy="138.09" r="0.49" fill-opacity="0.35"/><circle cx="412.88" cy="183.18" r="0.33" fill-opacity="0.63"/><circle cx="440.4" cy="138.21" r="0.32" fill-opacity="0.39"/><circle cx="430.34" cy="137.2" r="0.29" fill-opacity="0.35"/><circle cx="402.62" cy="153.54" r="0.43" fill-opacity="0.45"/><circle cx="401.39" cy="182.5" r="0.38" fill-opacity="0.57"/><circle cx="437.83" cy="180.93" r="0.27" fill-opacity="0.52"/><circle cx="384.38" cy="171.29" r="0.25" fill-opacity="0.28"/><circle cx="400.78" cy="188.71" r="0.25" fill-opacity="0.61"/><circle cx="420.6" cy="127.13" r="0.39" fill-opacity="0.34"/></g>
<circle cx="419.6" cy="137.1" r="1.6" fill="#4a3da8" fill-opacity="0.9"/>
<circle cx="419.6" cy="129" r="0.9" fill="#4a3da8" fill-opacity="0.9"/>
<circle cx="402" cy="132" r="0.7" fill="#4a3da8" fill-opacity="0.9"/>
<circle cx="387.8" cy="135.6" r="0.6" fill="#4a3da8" fill-opacity="0.9"/>
<circle cx="391.3" cy="139.8" r="0.6" fill="#4a3da8" fill-opacity="0.9"/>
<circle cx="442.5" cy="153" r="1" fill="#4a3da8" fill-opacity="0.9"/>
<circle cx="440.2" cy="150.8" r="0.8" fill="#4a3da8" fill-opacity="0.9"/>
<circle cx="416.2" cy="155.9" r="0.9" fill="#4a3da8" fill-opacity="0.9"/>
<circle cx="384.5" cy="164.6" r="1" fill="#4a3da8" fill-opacity="0.9"/>
<circle cx="405.8" cy="164.6" r="1" fill="#4a3da8" fill-opacity="0.9"/>
<circle cx="437.1" cy="168.1" r="0.9" fill="#4a3da8" fill-opacity="0.9"/>
<circle cx="413.8" cy="175.3" r="1" fill="#4a3da8" fill-opacity="0.9"/>
<circle cx="431.5" cy="170.4" r="0.6" fill="#4a3da8" fill-opacity="0.9"/>
<circle cx="394.4" cy="163" r="0.5" fill="#4a3da8" fill-opacity="0.9"/>
<circle cx="421.9" cy="186" r="0.7" fill="#4a3da8" fill-opacity="0.9"/>
<circle cx="425.7" cy="191.7" r="0.9" fill="#4a3da8" fill-opacity="0.9"/>
<circle cx="405.5" cy="193.6" r="0.8" fill="#4a3da8" fill-opacity="0.9"/>
<circle cx="414.2" cy="192" r="0.7" fill="#4a3da8" fill-opacity="0.9"/>
<circle cx="382.5" cy="174.5" r="0.6" fill="#4a3da8" fill-opacity="0.9"/>
<circle cx="409.3" cy="169.9" r="0.6" fill="#4a3da8" fill-opacity="0.9"/>
<rect x="459.4" y="117" width="84.2" height="83.6" fill="url(#bgBot)" stroke="#8a8a8a" stroke-width="0.9"/>
<circle cx="501.7" cy="159.2" r="39.6" fill="#fbfbfd"/>
<circle cx="501.7" cy="159.2" r="39.1" fill="none" stroke="#aea4da" stroke-width="0.9" stroke-opacity="1"/>
<circle cx="501.7" cy="159.2" r="37.6" fill="none" stroke="#cdc6e9" stroke-width="2" stroke-opacity="1"/>
<g fill="#7a6dc6"><circle cx="517.43" cy="127.25" r="0.66" fill-opacity="0.64"/><circle cx="471.17" cy="145.37" r="0.81" fill-opacity="0.79"/><circle cx="524.02" cy="185.65" r="0.78" fill-opacity="0.42"/><circle cx="517.46" cy="194.19" r="0.54" fill-opacity="0.65"/><circle cx="483.87" cy="192.88" r="1.02" fill-opacity="0.54"/><circle cx="514.88" cy="195.01" r="0.62" fill-opacity="0.56"/><circle cx="488.46" cy="125.3" r="0.52" fill-opacity="0.64"/><circle cx="497.37" cy="194.35" r="0.56" fill-opacity="0.62"/><circle cx="490.85" cy="191.78" r="0.93" fill-opacity="0.68"/><circle cx="481.08" cy="186.23" r="0.5" fill-opacity="0.8"/><circle cx="502.61" cy="196.91" r="0.57" fill-opacity="0.41"/><circle cx="466.73" cy="147.43" r="0.59" fill-opacity="0.41"/><circle cx="518.3" cy="192.66" r="1.39" fill-opacity="0.73"/><circle cx="516.67" cy="129.55" r="0.5" fill-opacity="0.65"/><circle cx="470.85" cy="141.79" r="0.5" fill-opacity="0.69"/><circle cx="495.07" cy="191.93" r="1.13" fill-opacity="0.44"/><circle cx="539.17" cy="156.83" r="1.38" fill-opacity="0.44"/><circle cx="526.18" cy="181.71" r="0.6" fill-opacity="0.78"/><circle cx="474.48" cy="179.85" r="0.77" fill-opacity="0.42"/><circle cx="491.17" cy="191.77" r="0.5" fill-opacity="0.79"/><circle cx="469.01" cy="173.66" r="0.78" fill-opacity="0.73"/><circle cx="538.47" cy="148.97" r="0.57" fill-opacity="0.61"/><circle cx="536.49" cy="157.39" r="0.73" fill-opacity="0.65"/><circle cx="482.1" cy="129.8" r="0.54" fill-opacity="0.79"/><circle cx="508.15" cy="123.52" r="0.59" fill-opacity="0.67"/><circle cx="486.21" cy="193.23" r="0.6" fill-opacity="0.61"/><circle cx="469.02" cy="144.72" r="1.02" fill-opacity="0.41"/><circle cx="468.05" cy="155.31" r="0.54" fill-opacity="0.77"/><circle cx="505.65" cy="123.8" r="0.57" fill-opacity="0.39"/><circle cx="480.08" cy="189.23" r="1.3" fill-opacity="0.42"/><circle cx="483.6" cy="190.16" r="0.58" fill-opacity="0.4"/><circle cx="476.33" cy="186.47" r="1.37" fill-opacity="0.63"/><circle cx="495.52" cy="193.83" r="0.51" fill-opacity="0.56"/><circle cx="534.76" cy="176.9" r="0.5" fill-opacity="0.76"/><circle cx="528.31" cy="133.33" r="0.57" fill-opacity="0.43"/><circle cx="466.87" cy="158.72" r="0.5" fill-opacity="0.61"/><circle cx="513.78" cy="191.33" r="1.27" fill-opacity="0.75"/><circle cx="483.15" cy="188.77" r="0.61" fill-opacity="0.52"/><circle cx="479.97" cy="184.41" r="0.77" fill-opacity="0.62"/><circle cx="468.3" cy="175.33" r="0.52" fill-opacity="0.76"/><circle cx="535.14" cy="143.36" r="0.53" fill-opacity="0.69"/><circle cx="532.05" cy="141.64" r="0.52" fill-opacity="0.58"/><circle cx="527.33" cy="133.87" r="0.65" fill-opacity="0.64"/><circle cx="498.14" cy="122.34" r="0.96" fill-opacity="0.69"/><circle cx="511.77" cy="123.88" r="1" fill-opacity="0.43"/><circle cx="534.42" cy="153.16" r="0.88" fill-opacity="0.46"/><circle cx="469.05" cy="146.92" r="1.06" fill-opacity="0.74"/><circle cx="465.98" cy="150.51" r="0.74" fill-opacity="0.42"/><circle cx="539.19" cy="153" r="1.12" fill-opacity="0.43"/><circle cx="486.62" cy="189.95" r="1.06" fill-opacity="0.77"/><circle cx="492.51" cy="122.94" r="0.94" fill-opacity="0.42"/><circle cx="512.35" cy="194.87" r="0.53" fill-opacity="0.57"/><circle cx="520.85" cy="188.04" r="0.54" fill-opacity="0.4"/><circle cx="524.04" cy="186.18" r="0.53" fill-opacity="0.53"/><circle cx="535.14" cy="168.83" r="0.99" fill-opacity="0.4"/><circle cx="487.76" cy="128.26" r="1.35" fill-opacity="0.67"/><circle cx="519.09" cy="188.71" r="1.21" fill-opacity="0.39"/><circle cx="520.48" cy="126.91" r="0.66" fill-opacity="0.54"/><circle cx="465.17" cy="162.99" r="0.95" fill-opacity="0.55"/><circle cx="497.06" cy="195.34" r="0.66" fill-opacity="0.45"/><circle cx="474.45" cy="178.6" r="0.67" fill-opacity="0.62"/><circle cx="526.35" cy="186.56" r="0.57" fill-opacity="0.49"/><circle cx="537.49" cy="173.64" r="1.23" fill-opacity="0.66"/><circle cx="466.93" cy="148.44" r="0.68" fill-opacity="0.6"/><circle cx="472.34" cy="141.76" r="1.07" fill-opacity="0.79"/><circle cx="511.96" cy="194.19" r="0.78" fill-opacity="0.42"/><circle cx="475.14" cy="185.36" r="0.59" fill-opacity="0.75"/><circle cx="485.14" cy="129.95" r="0.66" fill-opacity="0.4"/><circle cx="514.11" cy="191.21" r="0.75" fill-opacity="0.46"/><circle cx="533.95" cy="144.05" r="0.81" fill-opacity="0.54"/></g>
<g fill="#6e61c2"><circle cx="531.76" cy="141.9" r="0.3" fill-opacity="0.75"/><circle cx="497.28" cy="128.44" r="0.5" fill-opacity="0.45"/><circle cx="503.68" cy="191.66" r="0.43" fill-opacity="0.44"/><circle cx="520.43" cy="181.93" r="0.3" fill-opacity="0.66"/><circle cx="535.58" cy="165.07" r="0.34" fill-opacity="0.41"/><circle cx="520.52" cy="185.96" r="0.4" fill-opacity="0.69"/><circle cx="476.09" cy="152.66" r="0.32" fill-opacity="0.38"/><circle cx="518.47" cy="180.36" r="0.65" fill-opacity="0.5"/><circle cx="484.2" cy="130.02" r="0.55" fill-opacity="0.57"/><circle cx="529.52" cy="146.91" r="0.58" fill-opacity="0.49"/><circle cx="489.16" cy="145.53" r="0.37" fill-opacity="0.58"/><circle cx="487.02" cy="149.91" r="0.54" fill-opacity="0.52"/><circle cx="480.78" cy="138.78" r="0.44" fill-opacity="0.76"/><circle cx="475.68" cy="140.6" r="0.7" fill-opacity="0.63"/><circle cx="493.58" cy="175.87" r="0.36" fill-opacity="0.48"/><circle cx="515.74" cy="169.91" r="0.44" fill-opacity="0.57"/><circle cx="529.98" cy="145.76" r="0.67" fill-opacity="0.4"/><circle cx="531.8" cy="176.41" r="0.31" fill-opacity="0.36"/><circle cx="527.11" cy="135.14" r="0.31" fill-opacity="0.35"/><circle cx="486.15" cy="190.69" r="0.45" fill-opacity="0.53"/><circle cx="529.29" cy="148.38" r="0.3" fill-opacity="0.56"/><circle cx="479.1" cy="135.98" r="0.34" fill-opacity="0.36"/><circle cx="523.89" cy="141.93" r="0.46" fill-opacity="0.65"/><circle cx="532.9" cy="153.26" r="0.4" fill-opacity="0.67"/><circle cx="518.55" cy="148.03" r="0.3" fill-opacity="0.56"/><circle cx="479.84" cy="177.29" r="0.32" fill-opacity="0.54"/><circle cx="479.52" cy="138.25" r="0.71" fill-opacity="0.53"/><circle cx="528.25" cy="146.65" r="0.52" fill-opacity="0.78"/><circle cx="496.96" cy="153.62" r="0.33" fill-opacity="0.69"/><circle cx="513.58" cy="189.68" r="0.36" fill-opacity="0.43"/><circle cx="472.85" cy="148" r="0.44" fill-opacity="0.72"/><circle cx="518.49" cy="154.21" r="0.57" fill-opacity="0.6"/><circle cx="503.58" cy="177.68" r="0.3" fill-opacity="0.68"/><circle cx="508.71" cy="178.46" r="0.38" fill-opacity="0.49"/><circle cx="500.5" cy="179.16" r="0.37" fill-opacity="0.78"/><circle cx="511.02" cy="170.45" r="0.3" fill-opacity="0.68"/><circle cx="498.27" cy="175.8" r="0.63" fill-opacity="0.37"/><circle cx="482.94" cy="131.93" r="0.35" fill-opacity="0.72"/><circle cx="481.46" cy="139.75" r="0.46" fill-opacity="0.81"/><circle cx="471.59" cy="161.46" r="0.31" fill-opacity="0.59"/><circle cx="471.35" cy="161.94" r="0.33" fill-opacity="0.45"/><circle cx="505.21" cy="131.07" r="0.32" fill-opacity="0.57"/><circle cx="483.23" cy="184.91" r="0.33" fill-opacity="0.83"/><circle cx="529.54" cy="177.57" r="0.65" fill-opacity="0.4"/><circle cx="487.77" cy="176.41" r="0.3" fill-opacity="0.66"/><circle cx="468.29" cy="152.2" r="0.33" fill-opacity="0.67"/><circle cx="511.51" cy="153.24" r="0.64" fill-opacity="0.75"/><circle cx="517.5" cy="175.81" r="0.38" fill-opacity="0.81"/><circle cx="501.76" cy="144.98" r="0.59" fill-opacity="0.58"/><circle cx="471.7" cy="174.77" r="0.58" fill-opacity="0.64"/><circle cx="521.75" cy="185.93" r="0.32" fill-opacity="0.64"/><circle cx="523.3" cy="159.25" r="0.39" fill-opacity="0.85"/><circle cx="488.56" cy="172.75" r="0.46" fill-opacity="0.36"/><circle cx="483.69" cy="179.81" r="0.52" fill-opacity="0.41"/><circle cx="501.87" cy="123.84" r="0.49" fill-opacity="0.65"/><circle cx="486.47" cy="164.7" r="0.51" fill-opacity="0.58"/><circle cx="513.52" cy="155.23" r="0.33" fill-opacity="0.54"/><circle cx="478.09" cy="185.03" r="0.39" fill-opacity="0.77"/><circle cx="504.75" cy="173.61" r="0.35" fill-opacity="0.35"/><circle cx="519.43" cy="128.71" r="0.61" fill-opacity="0.5"/><circle cx="534.71" cy="170.43" r="0.38" fill-opacity="0.53"/><circle cx="532.26" cy="158.06" r="0.72" fill-opacity="0.65"/><circle cx="509.54" cy="187.01" r="0.42" fill-opacity="0.48"/><circle cx="527.84" cy="178.76" r="0.49" fill-opacity="0.67"/><circle cx="487.73" cy="151.26" r="0.31" fill-opacity="0.56"/><circle cx="482.17" cy="171.86" r="0.42" fill-opacity="0.41"/><circle cx="497.99" cy="147.61" r="0.3" fill-opacity="0.59"/><circle cx="534.18" cy="146.96" r="0.55" fill-opacity="0.58"/><circle cx="529.92" cy="173.97" r="0.36" fill-opacity="0.59"/><circle cx="486.38" cy="180.03" r="0.31" fill-opacity="0.64"/><circle cx="486.98" cy="155.93" r="0.32" fill-opacity="0.63"/><circle cx="476.26" cy="141.16" r="0.3" fill-opacity="0.52"/><circle cx="504.64" cy="136.63" r="0.63" fill-opacity="0.81"/><circle cx="476.81" cy="162.36" r="0.3" fill-opacity="0.5"/><circle cx="508.79" cy="127.4" r="0.48" fill-opacity="0.73"/><circle cx="483.28" cy="182.52" r="0.3" fill-opacity="0.61"/><circle cx="523.61" cy="143.82" r="0.37" fill-opacity="0.48"/><circle cx="492.46" cy="182.63" r="0.31" fill-opacity="0.51"/><circle cx="473.35" cy="174.64" r="0.32" fill-opacity="0.6"/><circle cx="496.08" cy="187.97" r="0.47" fill-opacity="0.73"/><circle cx="484.27" cy="151.38" r="0.45" fill-opacity="0.79"/><circle cx="475.78" cy="160.2" r="0.58" fill-opacity="0.64"/><circle cx="519.61" cy="175.12" r="0.5" fill-opacity="0.74"/><circle cx="492.88" cy="165.18" r="0.3" fill-opacity="0.69"/><circle cx="497.76" cy="141.29" r="0.3" fill-opacity="0.42"/><circle cx="490.46" cy="143.98" r="0.69" fill-opacity="0.73"/><circle cx="481.17" cy="173.73" r="0.31" fill-opacity="0.74"/><circle cx="469.97" cy="163.34" r="0.33" fill-opacity="0.48"/><circle cx="467.31" cy="159.06" r="0.37" fill-opacity="0.84"/><circle cx="505.7" cy="182.12" r="0.33" fill-opacity="0.47"/><circle cx="477.22" cy="163.9" r="0.61" fill-opacity="0.53"/><circle cx="527.31" cy="150.43" r="0.46" fill-opacity="0.82"/><circle cx="506.44" cy="176.61" r="0.6" fill-opacity="0.41"/><circle cx="532.57" cy="172.01" r="0.52" fill-opacity="0.55"/><circle cx="523.91" cy="132.18" r="0.32" fill-opacity="0.42"/><circle cx="513.06" cy="155.18" r="0.35" fill-opacity="0.51"/><circle cx="470.87" cy="146.78" r="0.31" fill-opacity="0.7"/><circle cx="530.56" cy="143.25" r="0.64" fill-opacity="0.57"/><circle cx="476.92" cy="175.53" r="0.39" fill-opacity="0.47"/><circle cx="492.46" cy="148.85" r="0.67" fill-opacity="0.84"/><circle cx="517.56" cy="168.72" r="0.3" fill-opacity="0.76"/><circle cx="509.59" cy="181.46" r="0.52" fill-opacity="0.45"/><circle cx="508.41" cy="155.88" r="0.38" fill-opacity="0.57"/><circle cx="518.72" cy="149.32" r="0.42" fill-opacity="0.62"/><circle cx="517.6" cy="133.61" r="0.31" fill-opacity="0.5"/><circle cx="499.71" cy="186.21" r="0.66" fill-opacity="0.45"/><circle cx="491.57" cy="181.57" r="0.53" fill-opacity="0.6"/><circle cx="513.66" cy="139.35" r="0.61" fill-opacity="0.55"/><circle cx="507.22" cy="193.45" r="0.44" fill-opacity="0.79"/><circle cx="490.63" cy="191.08" r="0.6" fill-opacity="0.54"/><circle cx="477.06" cy="182.48" r="0.3" fill-opacity="0.66"/><circle cx="520.31" cy="148.33" r="0.38" fill-opacity="0.61"/><circle cx="471.05" cy="152.27" r="0.31" fill-opacity="0.82"/><circle cx="499.04" cy="143.8" r="0.38" fill-opacity="0.75"/><circle cx="496.3" cy="131.73" r="0.64" fill-opacity="0.43"/><circle cx="520.62" cy="186.48" r="0.58" fill-opacity="0.52"/><circle cx="499.81" cy="171.91" r="0.36" fill-opacity="0.48"/><circle cx="498.26" cy="138.36" r="0.31" fill-opacity="0.6"/><circle cx="504.75" cy="152.59" r="0.56" fill-opacity="0.47"/><circle cx="523.6" cy="137.04" r="0.3" fill-opacity="0.65"/><circle cx="473.16" cy="168.69" r="0.39" fill-opacity="0.58"/><circle cx="500.09" cy="172.87" r="0.41" fill-opacity="0.56"/><circle cx="525.46" cy="154.34" r="0.32" fill-opacity="0.81"/><circle cx="529.59" cy="180.12" r="0.34" fill-opacity="0.56"/><circle cx="486.31" cy="158.3" r="0.58" fill-opacity="0.59"/><circle cx="513.32" cy="125.35" r="0.33" fill-opacity="0.51"/><circle cx="533.23" cy="155.36" r="0.62" fill-opacity="0.74"/><circle cx="523.17" cy="136.74" r="0.59" fill-opacity="0.44"/><circle cx="525.7" cy="153.75" r="0.34" fill-opacity="0.76"/><circle cx="523.21" cy="136.87" r="0.74" fill-opacity="0.64"/><circle cx="511.78" cy="145.46" r="0.32" fill-opacity="0.41"/><circle cx="475.17" cy="165.73" r="0.32" fill-opacity="0.81"/><circle cx="475.71" cy="180.64" r="0.4" fill-opacity="0.61"/><circle cx="476.09" cy="141.93" r="0.36" fill-opacity="0.77"/><circle cx="474.71" cy="145.5" r="0.33" fill-opacity="0.64"/><circle cx="481.85" cy="163.61" r="0.3" fill-opacity="0.69"/><circle cx="497" cy="140.81" r="0.59" fill-opacity="0.46"/><circle cx="533.89" cy="149.17" r="0.3" fill-opacity="0.75"/><circle cx="532.54" cy="161.68" r="0.37" fill-opacity="0.37"/><circle cx="493.31" cy="124.58" r="0.46" fill-opacity="0.74"/><circle cx="474.83" cy="182.5" r="0.38" fill-opacity="0.36"/><circle cx="513.57" cy="192.58" r="0.41" fill-opacity="0.71"/><circle cx="492.54" cy="135.44" r="0.61" fill-opacity="0.45"/><circle cx="491.63" cy="132.59" r="0.45" fill-opacity="0.37"/><circle cx="517.24" cy="141.82" r="0.47" fill-opacity="0.49"/><circle cx="522.81" cy="154.75" r="0.52" fill-opacity="0.79"/><circle cx="505.37" cy="144.3" r="0.31" fill-opacity="0.78"/><circle cx="471.42" cy="144.44" r="0.49" fill-opacity="0.36"/><circle cx="515.36" cy="164.92" r="0.43" fill-opacity="0.38"/><circle cx="507.95" cy="174.5" r="0.59" fill-opacity="0.84"/><circle cx="514.3" cy="185.57" r="0.38" fill-opacity="0.8"/><circle cx="503.17" cy="191.85" r="0.32" fill-opacity="0.43"/><circle cx="524.41" cy="157.12" r="0.35" fill-opacity="0.7"/><circle cx="531.56" cy="171.01" r="0.74" fill-opacity="0.47"/><circle cx="523.92" cy="161.64" r="0.43" fill-opacity="0.41"/><circle cx="519.65" cy="165" r="0.43" fill-opacity="0.64"/><circle cx="531.26" cy="168.89" r="0.67" fill-opacity="0.75"/><circle cx="500.63" cy="163.28" r="0.32" fill-opacity="0.79"/><circle cx="507.91" cy="182.75" r="0.54" fill-opacity="0.41"/><circle cx="481.14" cy="183.49" r="0.32" fill-opacity="0.61"/><circle cx="513.93" cy="130.33" r="0.32" fill-opacity="0.38"/><circle cx="504.92" cy="154.72" r="0.71" fill-opacity="0.65"/><circle cx="483.15" cy="181.11" r="0.43" fill-opacity="0.66"/><circle cx="514.68" cy="176.4" r="0.39" fill-opacity="0.37"/><circle cx="518.3" cy="137.85" r="0.46" fill-opacity="0.84"/><circle cx="527.93" cy="135.17" r="0.35" fill-opacity="0.44"/><circle cx="475.34" cy="176.56" r="0.6" fill-opacity="0.67"/><circle cx="503.09" cy="156.99" r="0.65" fill-opacity="0.47"/><circle cx="513.72" cy="142.55" r="0.61" fill-opacity="0.77"/><circle cx="471.38" cy="149.72" r="0.33" fill-opacity="0.54"/><circle cx="519.68" cy="188.58" r="0.31" fill-opacity="0.74"/><circle cx="506.54" cy="157.97" r="0.32" fill-opacity="0.39"/><circle cx="528.37" cy="178.74" r="0.45" fill-opacity="0.82"/><circle cx="519.98" cy="130.07" r="0.69" fill-opacity="0.55"/><circle cx="516.03" cy="128.87" r="0.46" fill-opacity="0.77"/><circle cx="530.52" cy="140.02" r="0.64" fill-opacity="0.44"/><circle cx="528.38" cy="159.85" r="0.34" fill-opacity="0.79"/><circle cx="475.24" cy="156.39" r="0.31" fill-opacity="0.62"/><circle cx="489.52" cy="140.96" r="0.6" fill-opacity="0.58"/><circle cx="515.4" cy="187.12" r="0.35" fill-opacity="0.47"/><circle cx="517.4" cy="131.3" r="0.55" fill-opacity="0.55"/><circle cx="494.17" cy="191.7" r="0.48" fill-opacity="0.78"/><circle cx="512.16" cy="139.32" r="0.63" fill-opacity="0.7"/><circle cx="533.63" cy="172.71" r="0.74" fill-opacity="0.71"/><circle cx="510.75" cy="128.88" r="0.69" fill-opacity="0.4"/><circle cx="484.92" cy="130.11" r="0.69" fill-opacity="0.79"/><circle cx="511.72" cy="151.2" r="0.33" fill-opacity="0.79"/><circle cx="504.19" cy="135.23" r="0.32" fill-opacity="0.61"/><circle cx="520.16" cy="182.17" r="0.38" fill-opacity="0.36"/><circle cx="486.34" cy="184.09" r="0.32" fill-opacity="0.74"/><circle cx="528.98" cy="166.53" r="0.36" fill-opacity="0.58"/><circle cx="519.29" cy="164.83" r="0.43" fill-opacity="0.46"/><circle cx="470.61" cy="163.06" r="0.38" fill-opacity="0.48"/><circle cx="498.91" cy="169.09" r="0.41" fill-opacity="0.47"/><circle cx="479.77" cy="165.43" r="0.71" fill-opacity="0.61"/><circle cx="527.94" cy="157.74" r="0.61" fill-opacity="0.51"/><circle cx="490.86" cy="192.93" r="0.3" fill-opacity="0.56"/><circle cx="509.45" cy="136.8" r="0.7" fill-opacity="0.69"/><circle cx="526.43" cy="173.8" r="0.51" fill-opacity="0.48"/><circle cx="468.26" cy="166.46" r="0.52" fill-opacity="0.37"/><circle cx="527.95" cy="144.47" r="0.3" fill-opacity="0.45"/><circle cx="473.95" cy="168.24" r="0.72" fill-opacity="0.39"/><circle cx="502.41" cy="173.58" r="0.49" fill-opacity="0.38"/><circle cx="507.96" cy="138.18" r="0.46" fill-opacity="0.48"/><circle cx="510.42" cy="125.77" r="0.3" fill-opacity="0.57"/><circle cx="495.04" cy="191.56" r="0.43" fill-opacity="0.78"/><circle cx="532.22" cy="170.42" r="0.41" fill-opacity="0.56"/><circle cx="535.71" cy="160.79" r="0.63" fill-opacity="0.52"/><circle cx="468.63" cy="151.79" r="0.72" fill-opacity="0.75"/><circle cx="526.6" cy="138.67" r="0.42" fill-opacity="0.51"/><circle cx="493.78" cy="126.68" r="0.47" fill-opacity="0.43"/><circle cx="496.89" cy="130.68" r="0.39" fill-opacity="0.37"/><circle cx="517.77" cy="183.07" r="0.35" fill-opacity="0.55"/><circle cx="481.65" cy="165.79" r="0.67" fill-opacity="0.71"/><circle cx="513.62" cy="128.7" r="0.3" fill-opacity="0.7"/><circle cx="521.75" cy="160.91" r="0.34" fill-opacity="0.51"/><circle cx="507.85" cy="169.8" r="0.53" fill-opacity="0.37"/><circle cx="489.57" cy="179.56" r="0.38" fill-opacity="0.52"/><circle cx="470.46" cy="144.56" r="0.51" fill-opacity="0.77"/><circle cx="534.36" cy="164.78" r="0.56" fill-opacity="0.8"/><circle cx="483.63" cy="141.91" r="0.43" fill-opacity="0.38"/><circle cx="483.47" cy="145.5" r="0.66" fill-opacity="0.39"/><circle cx="482.06" cy="176.15" r="0.32" fill-opacity="0.58"/><circle cx="492.28" cy="192.04" r="0.64" fill-opacity="0.47"/><circle cx="499.16" cy="141.54" r="0.62" fill-opacity="0.78"/><circle cx="483.32" cy="182.51" r="0.43" fill-opacity="0.41"/><circle cx="476.82" cy="162.24" r="0.3" fill-opacity="0.61"/><circle cx="533.44" cy="175.22" r="0.36" fill-opacity="0.39"/><circle cx="526.16" cy="170.31" r="0.48" fill-opacity="0.65"/><circle cx="486.63" cy="141.98" r="0.35" fill-opacity="0.69"/><circle cx="494.39" cy="143.35" r="0.59" fill-opacity="0.47"/><circle cx="468.42" cy="157.01" r="0.47" fill-opacity="0.73"/><circle cx="494.05" cy="127.38" r="0.33" fill-opacity="0.47"/><circle cx="525.45" cy="135.46" r="0.43" fill-opacity="0.61"/><circle cx="533.1" cy="163.63" r="0.53" fill-opacity="0.61"/><circle cx="527.82" cy="180.24" r="0.42" fill-opacity="0.83"/><circle cx="496.71" cy="188.03" r="0.57" fill-opacity="0.67"/><circle cx="492.7" cy="172.1" r="0.39" fill-opacity="0.75"/><circle cx="525.3" cy="174.19" r="0.39" fill-opacity="0.82"/><circle cx="498.29" cy="192.03" r="0.49" fill-opacity="0.46"/><circle cx="470.36" cy="154.28" r="0.38" fill-opacity="0.77"/><circle cx="528.51" cy="145.89" r="0.3" fill-opacity="0.6"/><circle cx="500.41" cy="183.23" r="0.56" fill-opacity="0.48"/><circle cx="496.56" cy="177.04" r="0.48" fill-opacity="0.41"/><circle cx="489.97" cy="139.8" r="0.6" fill-opacity="0.64"/><circle cx="529.71" cy="156.06" r="0.36" fill-opacity="0.41"/><circle cx="533.08" cy="148.81" r="0.7" fill-opacity="0.7"/><circle cx="507.23" cy="182.4" r="0.39" fill-opacity="0.74"/><circle cx="509.03" cy="191.78" r="0.47" fill-opacity="0.74"/><circle cx="520.09" cy="145.31" r="0.3" fill-opacity="0.5"/><circle cx="471.31" cy="162.36" r="0.46" fill-opacity="0.38"/><circle cx="481.14" cy="131.44" r="0.68" fill-opacity="0.57"/><circle cx="519.68" cy="141.61" r="0.34" fill-opacity="0.6"/><circle cx="479.99" cy="168.79" r="0.3" fill-opacity="0.83"/><circle cx="515" cy="181.72" r="0.38" fill-opacity="0.53"/><circle cx="487.44" cy="177.82" r="0.49" fill-opacity="0.39"/><circle cx="534.98" cy="161.34" r="0.39" fill-opacity="0.72"/><circle cx="536.26" cy="152.23" r="0.3" fill-opacity="0.51"/><circle cx="499.99" cy="138.07" r="0.59" fill-opacity="0.35"/><circle cx="511.85" cy="139.06" r="0.3" fill-opacity="0.68"/><circle cx="468.28" cy="164.48" r="0.69" fill-opacity="0.84"/><circle cx="479.61" cy="180.71" r="0.46" fill-opacity="0.56"/><circle cx="482.51" cy="129.41" r="0.31" fill-opacity="0.63"/><circle cx="486.91" cy="190.05" r="0.37" fill-opacity="0.7"/><circle cx="480.27" cy="143.31" r="0.32" fill-opacity="0.39"/><circle cx="498.13" cy="131.96" r="0.37" fill-opacity="0.52"/><circle cx="510.37" cy="192.48" r="0.63" fill-opacity="0.52"/><circle cx="467.41" cy="153.37" r="0.69" fill-opacity="0.57"/><circle cx="490.85" cy="128.3" r="0.32" fill-opacity="0.68"/><circle cx="531.89" cy="161.41" r="0.53" fill-opacity="0.45"/><circle cx="529.66" cy="180.79" r="0.3" fill-opacity="0.83"/><circle cx="473.79" cy="154.69" r="0.4" fill-opacity="0.67"/><circle cx="491.95" cy="171.39" r="0.41" fill-opacity="0.43"/><circle cx="535.55" cy="155.79" r="0.6" fill-opacity="0.51"/><circle cx="517.16" cy="127.11" r="0.46" fill-opacity="0.39"/><circle cx="480.33" cy="182.66" r="0.5" fill-opacity="0.43"/><circle cx="522.59" cy="176.5" r="0.31" fill-opacity="0.47"/><circle cx="527.82" cy="150.02" r="0.32" fill-opacity="0.45"/><circle cx="520.84" cy="159.82" r="0.42" fill-opacity="0.56"/><circle cx="525.89" cy="171.26" r="0.39" fill-opacity="0.4"/><circle cx="530.95" cy="139.81" r="0.71" fill-opacity="0.72"/><circle cx="475.09" cy="155.24" r="0.35" fill-opacity="0.79"/><circle cx="479.56" cy="185.63" r="0.33" fill-opacity="0.67"/><circle cx="506.69" cy="185.24" r="0.3" fill-opacity="0.67"/><circle cx="469.37" cy="167.56" r="0.54" fill-opacity="0.49"/><circle cx="521.46" cy="158.13" r="0.3" fill-opacity="0.72"/><circle cx="474.01" cy="138.01" r="0.54" fill-opacity="0.62"/><circle cx="486.42" cy="173.86" r="0.5" fill-opacity="0.38"/><circle cx="509.87" cy="175.46" r="0.33" fill-opacity="0.36"/><circle cx="500.15" cy="134.29" r="0.72" fill-opacity="0.65"/><circle cx="534.94" cy="151.21" r="0.39" fill-opacity="0.78"/><circle cx="500.99" cy="185.1" r="0.55" fill-opacity="0.48"/><circle cx="527.09" cy="161.85" r="0.6" fill-opacity="0.35"/><circle cx="506.88" cy="125.38" r="0.3" fill-opacity="0.46"/><circle cx="502.38" cy="166.01" r="0.35" fill-opacity="0.84"/><circle cx="509.87" cy="192.5" r="0.48" fill-opacity="0.36"/><circle cx="533.73" cy="172.39" r="0.73" fill-opacity="0.78"/><circle cx="528.13" cy="160.06" r="0.31" fill-opacity="0.38"/><circle cx="519.93" cy="167.69" r="0.3" fill-opacity="0.44"/><circle cx="518.17" cy="132.38" r="0.38" fill-opacity="0.39"/><circle cx="504.51" cy="176.16" r="0.3" fill-opacity="0.77"/><circle cx="473.24" cy="157.14" r="0.63" fill-opacity="0.8"/><circle cx="492.7" cy="133.19" r="0.32" fill-opacity="0.78"/><circle cx="497.94" cy="166.01" r="0.7" fill-opacity="0.5"/><circle cx="469.57" cy="174.82" r="0.45" fill-opacity="0.53"/><circle cx="522.08" cy="150.07" r="0.41" fill-opacity="0.71"/><circle cx="518.28" cy="148.11" r="0.68" fill-opacity="0.42"/><circle cx="521.84" cy="187.12" r="0.64" fill-opacity="0.59"/><circle cx="482.03" cy="152.08" r="0.34" fill-opacity="0.36"/><circle cx="484.69" cy="129.96" r="0.4" fill-opacity="0.77"/><circle cx="480.19" cy="182.7" r="0.3" fill-opacity="0.39"/><circle cx="486.95" cy="137.61" r="0.32" fill-opacity="0.8"/><circle cx="508.95" cy="180.81" r="0.35" fill-opacity="0.49"/><circle cx="504.85" cy="128.79" r="0.66" fill-opacity="0.66"/><circle cx="527.95" cy="173.5" r="0.31" fill-opacity="0.47"/><circle cx="486.14" cy="131.14" r="0.55" fill-opacity="0.57"/><circle cx="489.75" cy="131.95" r="0.38" fill-opacity="0.53"/><circle cx="520.41" cy="180.77" r="0.4" fill-opacity="0.6"/><circle cx="522.23" cy="153.79" r="0.54" fill-opacity="0.66"/><circle cx="492.45" cy="173.64" r="0.34" fill-opacity="0.59"/><circle cx="532.59" cy="158.66" r="0.3" fill-opacity="0.5"/><circle cx="482.37" cy="189.1" r="0.34" fill-opacity="0.59"/><circle cx="489.07" cy="127.77" r="0.3" fill-opacity="0.8"/><circle cx="507.63" cy="146.58" r="0.68" fill-opacity="0.77"/><circle cx="487.36" cy="142.66" r="0.57" fill-opacity="0.77"/><circle cx="483.53" cy="130.45" r="0.37" fill-opacity="0.82"/><circle cx="513.63" cy="151.94" r="0.36" fill-opacity="0.75"/><circle cx="489.68" cy="129.22" r="0.35" fill-opacity="0.6"/><circle cx="488.91" cy="189.37" r="0.39" fill-opacity="0.74"/><circle cx="468.94" cy="147.66" r="0.51" fill-opacity="0.69"/><circle cx="476.88" cy="135.83" r="0.36" fill-opacity="0.4"/><circle cx="499.45" cy="167.76" r="0.31" fill-opacity="0.37"/><circle cx="508.03" cy="189.86" r="0.3" fill-opacity="0.5"/><circle cx="474.13" cy="143.81" r="0.36" fill-opacity="0.69"/><circle cx="495.85" cy="188.57" r="0.38" fill-opacity="0.48"/><circle cx="499.85" cy="194.94" r="0.3" fill-opacity="0.66"/><circle cx="506.13" cy="190.19" r="0.32" fill-opacity="0.54"/><circle cx="505.51" cy="137.6" r="0.37" fill-opacity="0.8"/><circle cx="470.74" cy="173.28" r="0.35" fill-opacity="0.64"/><circle cx="496.51" cy="147.89" r="0.61" fill-opacity="0.63"/><circle cx="485.02" cy="190.85" r="0.68" fill-opacity="0.59"/><circle cx="492.34" cy="191.33" r="0.34" fill-opacity="0.8"/><circle cx="485.89" cy="135.56" r="0.5" fill-opacity="0.57"/><circle cx="530.75" cy="157.83" r="0.59" fill-opacity="0.79"/><circle cx="520.88" cy="186.21" r="0.34" fill-opacity="0.39"/><circle cx="477.53" cy="150.16" r="0.61" fill-opacity="0.73"/><circle cx="508.94" cy="164.54" r="0.4" fill-opacity="0.64"/><circle cx="516.67" cy="176.86" r="0.33" fill-opacity="0.41"/><circle cx="501.72" cy="187.01" r="0.56" fill-opacity="0.54"/><circle cx="503.76" cy="147.4" r="0.61" fill-opacity="0.71"/><circle cx="536.93" cy="160.39" r="0.31" fill-opacity="0.6"/><circle cx="506.57" cy="181.89" r="0.33" fill-opacity="0.84"/><circle cx="500.15" cy="134.28" r="0.54" fill-opacity="0.75"/><circle cx="502.42" cy="181.11" r="0.41" fill-opacity="0.72"/><circle cx="526.58" cy="182.91" r="0.32" fill-opacity="0.54"/><circle cx="495.86" cy="173.43" r="0.3" fill-opacity="0.65"/><circle cx="500.78" cy="143.29" r="0.38" fill-opacity="0.62"/><circle cx="522.5" cy="176.14" r="0.35" fill-opacity="0.43"/><circle cx="519.43" cy="167.72" r="0.39" fill-opacity="0.52"/><circle cx="502.93" cy="166.42" r="0.34" fill-opacity="0.4"/><circle cx="531.93" cy="143.26" r="0.45" fill-opacity="0.36"/><circle cx="485.89" cy="155.58" r="0.47" fill-opacity="0.82"/><circle cx="519.04" cy="169.58" r="0.55" fill-opacity="0.53"/><circle cx="488.55" cy="134.76" r="0.46" fill-opacity="0.36"/><circle cx="522.27" cy="137.17" r="0.5" fill-opacity="0.68"/><circle cx="522.75" cy="149.88" r="0.34" fill-opacity="0.81"/><circle cx="526.89" cy="153.47" r="0.48" fill-opacity="0.61"/><circle cx="523.96" cy="183.25" r="0.44" fill-opacity="0.84"/><circle cx="532.58" cy="143.32" r="0.31" fill-opacity="0.79"/><circle cx="512.23" cy="172.54" r="0.47" fill-opacity="0.79"/><circle cx="481.34" cy="134.37" r="0.31" fill-opacity="0.7"/><circle cx="485.19" cy="163.67" r="0.3" fill-opacity="0.79"/><circle cx="537.29" cy="156.16" r="0.66" fill-opacity="0.65"/><circle cx="494.97" cy="166.3" r="0.4" fill-opacity="0.43"/><circle cx="470.61" cy="170.05" r="0.3" fill-opacity="0.52"/><circle cx="475.08" cy="182.85" r="0.3" fill-opacity="0.78"/><circle cx="492.25" cy="159.15" r="0.36" fill-opacity="0.85"/><circle cx="471.56" cy="176.44" r="0.35" fill-opacity="0.61"/><circle cx="488.77" cy="189.36" r="0.31" fill-opacity="0.77"/><circle cx="477.06" cy="140.04" r="0.32" fill-opacity="0.49"/><circle cx="491.48" cy="186.88" r="0.31" fill-opacity="0.76"/><circle cx="484.97" cy="190.45" r="0.5" fill-opacity="0.84"/><circle cx="485.01" cy="188.73" r="0.43" fill-opacity="0.58"/><circle cx="505" cy="128.82" r="0.36" fill-opacity="0.7"/><circle cx="475.14" cy="164.24" r="0.4" fill-opacity="0.44"/><circle cx="487.4" cy="173.92" r="0.69" fill-opacity="0.49"/><circle cx="477.78" cy="140.98" r="0.62" fill-opacity="0.41"/><circle cx="512.58" cy="172.71" r="0.37" fill-opacity="0.73"/><circle cx="497.09" cy="141.58" r="0.32" fill-opacity="0.58"/><circle cx="509.44" cy="141.1" r="0.53" fill-opacity="0.6"/><circle cx="497.59" cy="172.93" r="0.5" fill-opacity="0.41"/><circle cx="512.97" cy="181.65" r="0.33" fill-opacity="0.48"/><circle cx="480.98" cy="149.66" r="0.35" fill-opacity="0.71"/><circle cx="516.52" cy="133.98" r="0.4" fill-opacity="0.39"/><circle cx="517.97" cy="167.42" r="0.55" fill-opacity="0.4"/><circle cx="525.52" cy="167.22" r="0.39" fill-opacity="0.41"/><circle cx="472.65" cy="175.54" r="0.44" fill-opacity="0.55"/><circle cx="504.81" cy="194.4" r="0.46" fill-opacity="0.36"/><circle cx="492.02" cy="163.93" r="0.36" fill-opacity="0.62"/><circle cx="484.42" cy="156.22" r="0.6" fill-opacity="0.83"/><circle cx="493.03" cy="177.11" r="0.31" fill-opacity="0.79"/><circle cx="515.04" cy="150.91" r="0.41" fill-opacity="0.65"/><circle cx="509.09" cy="190.06" r="0.36" fill-opacity="0.62"/><circle cx="506.53" cy="190.09" r="0.32" fill-opacity="0.69"/><circle cx="535.81" cy="149.65" r="0.71" fill-opacity="0.84"/><circle cx="532.5" cy="169.7" r="0.59" fill-opacity="0.77"/><circle cx="513.42" cy="150.98" r="0.31" fill-opacity="0.37"/><circle cx="494.2" cy="181.05" r="0.32" fill-opacity="0.58"/><circle cx="492.92" cy="160.35" r="0.7" fill-opacity="0.75"/><circle cx="513.25" cy="190.79" r="0.31" fill-opacity="0.78"/><circle cx="537.28" cy="162.68" r="0.3" fill-opacity="0.52"/><circle cx="513.85" cy="151.91" r="0.4" fill-opacity="0.84"/><circle cx="527.92" cy="179.46" r="0.73" fill-opacity="0.8"/><circle cx="533.77" cy="153.57" r="0.46" fill-opacity="0.55"/><circle cx="516.34" cy="137.53" r="0.3" fill-opacity="0.64"/><circle cx="498.67" cy="166.83" r="0.38" fill-opacity="0.65"/><circle cx="525.57" cy="173.31" r="0.71" fill-opacity="0.44"/><circle cx="513.04" cy="167.99" r="0.5" fill-opacity="0.55"/><circle cx="510.43" cy="166.05" r="0.3" fill-opacity="0.57"/><circle cx="485.6" cy="163.98" r="0.57" fill-opacity="0.75"/><circle cx="500.29" cy="182.2" r="0.52" fill-opacity="0.54"/><circle cx="504.14" cy="173.55" r="0.43" fill-opacity="0.35"/><circle cx="471.08" cy="172.3" r="0.3" fill-opacity="0.54"/><circle cx="480.28" cy="168.19" r="0.31" fill-opacity="0.38"/><circle cx="512.15" cy="188.91" r="0.38" fill-opacity="0.42"/><circle cx="475.57" cy="147.69" r="0.33" fill-opacity="0.7"/><circle cx="513.77" cy="145.07" r="0.45" fill-opacity="0.42"/><circle cx="498.13" cy="168.57" r="0.65" fill-opacity="0.55"/><circle cx="493.73" cy="162.3" r="0.64" fill-opacity="0.81"/><circle cx="536.92" cy="154.18" r="0.31" fill-opacity="0.76"/><circle cx="472.99" cy="163.39" r="0.32" fill-opacity="0.45"/><circle cx="472.96" cy="176.94" r="0.6" fill-opacity="0.7"/><circle cx="519.67" cy="131.65" r="0.35" fill-opacity="0.81"/><circle cx="516.29" cy="147.13" r="0.59" fill-opacity="0.46"/><circle cx="503.84" cy="142.76" r="0.31" fill-opacity="0.85"/><circle cx="521.63" cy="146.79" r="0.39" fill-opacity="0.65"/><circle cx="509.02" cy="159.53" r="0.34" fill-opacity="0.62"/><circle cx="518.27" cy="167.04" r="0.3" fill-opacity="0.35"/><circle cx="471.1" cy="176.1" r="0.33" fill-opacity="0.44"/><circle cx="506.36" cy="178.52" r="0.39" fill-opacity="0.56"/><circle cx="525.78" cy="165.9" r="0.3" fill-opacity="0.71"/><circle cx="529.5" cy="151.71" r="0.34" fill-opacity="0.44"/><circle cx="529.13" cy="137.29" r="0.44" fill-opacity="0.72"/><circle cx="507.95" cy="184.28" r="0.46" fill-opacity="0.74"/><circle cx="503.92" cy="192.71" r="0.58" fill-opacity="0.7"/><circle cx="492.26" cy="185.46" r="0.37" fill-opacity="0.71"/><circle cx="491.06" cy="125.43" r="0.75" fill-opacity="0.56"/><circle cx="533.31" cy="153.28" r="0.3" fill-opacity="0.79"/><circle cx="486.31" cy="177.2" r="0.3" fill-opacity="0.69"/><circle cx="508.81" cy="181.81" r="0.62" fill-opacity="0.37"/><circle cx="487.25" cy="165.01" r="0.33" fill-opacity="0.38"/><circle cx="532.85" cy="162.79" r="0.33" fill-opacity="0.51"/><circle cx="467.4" cy="156.86" r="0.63" fill-opacity="0.55"/><circle cx="487.19" cy="172.49" r="0.32" fill-opacity="0.54"/><circle cx="502.54" cy="123.65" r="0.37" fill-opacity="0.49"/><circle cx="530.84" cy="153.84" r="0.68" fill-opacity="0.39"/><circle cx="496.36" cy="171.13" r="0.34" fill-opacity="0.47"/><circle cx="483.12" cy="161.73" r="0.33" fill-opacity="0.61"/><circle cx="510.14" cy="165.49" r="0.31" fill-opacity="0.46"/><circle cx="469.25" cy="164.52" r="0.75" fill-opacity="0.37"/><circle cx="511.99" cy="129.24" r="0.6" fill-opacity="0.52"/><circle cx="481.55" cy="145.39" r="0.57" fill-opacity="0.73"/><circle cx="513.07" cy="178.89" r="0.38" fill-opacity="0.83"/><circle cx="496.31" cy="125.73" r="0.3" fill-opacity="0.59"/><circle cx="485.25" cy="137.73" r="0.47" fill-opacity="0.63"/><circle cx="478.55" cy="172.47" r="0.71" fill-opacity="0.54"/><circle cx="492.32" cy="193.01" r="0.31" fill-opacity="0.36"/><circle cx="469.86" cy="161.8" r="0.3" fill-opacity="0.8"/><circle cx="530.62" cy="152.14" r="0.34" fill-opacity="0.56"/><circle cx="510.8" cy="126.07" r="0.34" fill-opacity="0.8"/><circle cx="471.59" cy="150.42" r="0.3" fill-opacity="0.41"/><circle cx="517.02" cy="176.46" r="0.64" fill-opacity="0.44"/><circle cx="499.7" cy="182.98" r="0.6" fill-opacity="0.47"/><circle cx="512.97" cy="163.65" r="0.31" fill-opacity="0.82"/><circle cx="488.6" cy="174" r="0.3" fill-opacity="0.65"/><circle cx="520.66" cy="131.78" r="0.42" fill-opacity="0.65"/><circle cx="523.4" cy="150.35" r="0.43" fill-opacity="0.39"/><circle cx="533.64" cy="157.69" r="0.3" fill-opacity="0.42"/><circle cx="521.28" cy="186.17" r="0.37" fill-opacity="0.65"/><circle cx="480.07" cy="147.4" r="0.7" fill-opacity="0.8"/><circle cx="494.14" cy="193.91" r="0.35" fill-opacity="0.57"/><circle cx="510.49" cy="154.1" r="0.59" fill-opacity="0.59"/><circle cx="510.69" cy="128.71" r="0.46" fill-opacity="0.37"/><circle cx="480.32" cy="164.14" r="0.66" fill-opacity="0.44"/><circle cx="496.8" cy="135.43" r="0.51" fill-opacity="0.73"/><circle cx="490.27" cy="143" r="0.36" fill-opacity="0.83"/><circle cx="510.58" cy="168.69" r="0.3" fill-opacity="0.4"/><circle cx="474.18" cy="168.11" r="0.3" fill-opacity="0.41"/><circle cx="494.25" cy="192.23" r="0.43" fill-opacity="0.52"/><circle cx="506.18" cy="184.83" r="0.58" fill-opacity="0.59"/><circle cx="532.67" cy="174.65" r="0.35" fill-opacity="0.52"/><circle cx="495.54" cy="166.43" r="0.55" fill-opacity="0.84"/><circle cx="513.31" cy="190.93" r="0.3" fill-opacity="0.65"/><circle cx="493.18" cy="161.72" r="0.36" fill-opacity="0.74"/><circle cx="510.21" cy="128.37" r="0.3" fill-opacity="0.7"/><circle cx="523.33" cy="164.19" r="0.61" fill-opacity="0.8"/><circle cx="491.21" cy="191.11" r="0.53" fill-opacity="0.59"/><circle cx="512.51" cy="190.41" r="0.46" fill-opacity="0.43"/><circle cx="472.21" cy="176.61" r="0.66" fill-opacity="0.81"/><circle cx="518.81" cy="179.06" r="0.35" fill-opacity="0.35"/><circle cx="533.43" cy="166.47" r="0.71" fill-opacity="0.35"/><circle cx="500.24" cy="181.16" r="0.69" fill-opacity="0.59"/><circle cx="536.09" cy="154.61" r="0.3" fill-opacity="0.68"/><circle cx="473.97" cy="178.25" r="0.56" fill-opacity="0.71"/><circle cx="470.35" cy="169.86" r="0.34" fill-opacity="0.38"/><circle cx="532.64" cy="165.38" r="0.34" fill-opacity="0.85"/><circle cx="493.65" cy="124.91" r="0.32" fill-opacity="0.48"/><circle cx="495" cy="189.32" r="0.42" fill-opacity="0.7"/><circle cx="473.92" cy="177.16" r="0.69" fill-opacity="0.67"/><circle cx="471.84" cy="140.37" r="0.42" fill-opacity="0.37"/><circle cx="466.62" cy="155.72" r="0.37" fill-opacity="0.43"/><circle cx="477.79" cy="162.74" r="0.49" fill-opacity="0.42"/><circle cx="523.22" cy="169.35" r="0.45" fill-opacity="0.77"/><circle cx="506.29" cy="188.35" r="0.67" fill-opacity="0.64"/><circle cx="517.88" cy="165.52" r="0.31" fill-opacity="0.36"/><circle cx="520.48" cy="139.62" r="0.48" fill-opacity="0.6"/><circle cx="467.53" cy="168.1" r="0.3" fill-opacity="0.65"/><circle cx="496.51" cy="149.47" r="0.45" fill-opacity="0.35"/><circle cx="487.28" cy="161.85" r="0.4" fill-opacity="0.5"/><circle cx="534.71" cy="163.25" r="0.37" fill-opacity="0.47"/></g>
<g fill="#5a4cb6"><circle cx="497.28" cy="138.3" r="0.79" fill-opacity="0.65"/><circle cx="486.97" cy="170.26" r="1.07" fill-opacity="0.71"/><circle cx="525.62" cy="180.82" r="0.88" fill-opacity="0.6"/><circle cx="474.24" cy="143.35" r="0.82" fill-opacity="0.87"/><circle cx="498.68" cy="190.52" r="1.04" fill-opacity="0.72"/><circle cx="531.53" cy="170.23" r="0.71" fill-opacity="0.72"/><circle cx="484.93" cy="147.59" r="0.84" fill-opacity="0.75"/><circle cx="511.32" cy="170.67" r="0.73" fill-opacity="0.71"/><circle cx="506.96" cy="174.94" r="0.92" fill-opacity="0.71"/><circle cx="493.62" cy="171.71" r="0.72" fill-opacity="0.85"/><circle cx="515.26" cy="172.9" r="0.89" fill-opacity="0.68"/><circle cx="483.92" cy="146.23" r="0.87" fill-opacity="0.88"/><circle cx="514.01" cy="189.18" r="0.88" fill-opacity="0.8"/><circle cx="475.12" cy="176.46" r="0.71" fill-opacity="0.83"/><circle cx="513.37" cy="189.27" r="1" fill-opacity="0.81"/><circle cx="481.65" cy="143.5" r="1.19" fill-opacity="0.72"/><circle cx="485.48" cy="168.93" r="1.17" fill-opacity="0.63"/><circle cx="476.24" cy="143.72" r="0.7" fill-opacity="0.71"/><circle cx="490.83" cy="179.74" r="0.74" fill-opacity="0.82"/><circle cx="494.69" cy="192.38" r="0.84" fill-opacity="0.85"/><circle cx="515.98" cy="186.47" r="0.71" fill-opacity="0.86"/><circle cx="486.35" cy="169.98" r="0.79" fill-opacity="0.85"/><circle cx="501.66" cy="136.01" r="1.09" fill-opacity="0.68"/><circle cx="525.33" cy="168.07" r="1.02" fill-opacity="0.7"/><circle cx="506" cy="191.95" r="0.71" fill-opacity="0.86"/><circle cx="470.98" cy="143.11" r="0.7" fill-opacity="0.83"/><circle cx="519.15" cy="147.79" r="0.7" fill-opacity="0.7"/><circle cx="480.02" cy="147.95" r="0.7" fill-opacity="0.9"/><circle cx="526.65" cy="180.18" r="0.71" fill-opacity="0.68"/><circle cx="509.23" cy="155.79" r="1.17" fill-opacity="0.71"/><circle cx="476.88" cy="146.95" r="0.72" fill-opacity="0.73"/><circle cx="510.71" cy="193.06" r="1.14" fill-opacity="0.75"/><circle cx="516.24" cy="143.33" r="0.81" fill-opacity="0.65"/><circle cx="498.11" cy="168.73" r="0.74" fill-opacity="0.89"/><circle cx="531.91" cy="163.36" r="0.76" fill-opacity="0.84"/><circle cx="474.49" cy="180.29" r="1.16" fill-opacity="0.65"/><circle cx="477.75" cy="166.94" r="1.2" fill-opacity="0.88"/><circle cx="492.06" cy="191.84" r="0.77" fill-opacity="0.89"/><circle cx="533.46" cy="173.53" r="0.75" fill-opacity="0.79"/><circle cx="503.21" cy="163.87" r="0.7" fill-opacity="0.65"/><circle cx="514.4" cy="170.59" r="0.97" fill-opacity="0.64"/><circle cx="527.3" cy="139.1" r="1.21" fill-opacity="0.87"/><circle cx="519.88" cy="160.17" r="0.7" fill-opacity="0.6"/><circle cx="496.2" cy="136.81" r="0.8" fill-opacity="0.63"/><circle cx="478.58" cy="141.87" r="0.7" fill-opacity="0.73"/><circle cx="492.77" cy="170.79" r="1.07" fill-opacity="0.85"/><circle cx="502.81" cy="168.72" r="1.06" fill-opacity="0.82"/><circle cx="473.75" cy="174.42" r="0.84" fill-opacity="0.7"/><circle cx="470.84" cy="150.35" r="1.2" fill-opacity="0.6"/><circle cx="507.92" cy="180.83" r="1.08" fill-opacity="0.6"/><circle cx="492.56" cy="180.99" r="1.04" fill-opacity="0.61"/><circle cx="512.64" cy="161.06" r="0.73" fill-opacity="0.63"/><circle cx="533.72" cy="158.52" r="1.28" fill-opacity="0.68"/><circle cx="509.6" cy="179.76" r="1.03" fill-opacity="0.74"/><circle cx="506.54" cy="181.74" r="0.71" fill-opacity="0.65"/></g>
<rect x="374.9" y="107" width="13.4" height="2.9" fill="#111" stroke="none" stroke-width="1"/>
<rect x="461.6" y="107" width="13.4" height="2.9" fill="#111" stroke="none" stroke-width="1"/>
<rect x="375.3" y="195.3" width="13.4" height="2.9" fill="#111" stroke="none" stroke-width="1"/>
<rect x="461.6" y="195.3" width="13.4" height="2.9" fill="#111" stroke="none" stroke-width="1"/>
<text x="43.4" y="198.9" font-size="7.8">Control</text>
<text x="142.2" y="198.9" font-size="7.8">BMP9</text>
<text x="29.4" y="241.4" font-size="9.6" text-anchor="middle" transform="rotate(-90 29.4 241.4)">Huh7</text>
<text x="29.4" y="330.3" font-size="9.6" text-anchor="middle" transform="rotate(-90 29.4 330.3)">Hep3B</text>
<rect x="43.6" y="201.8" width="81.8" height="80.7" fill="#fff" stroke="#555" stroke-width="0.7"/>
<line x1="42" y1="215.4" x2="43.6" y2="215.4" stroke="#444" stroke-width="0.5"/>
<text x="41" y="216.7" font-size="3.7" text-anchor="end" fill="#555">800</text>
<line x1="42" y1="232" x2="43.6" y2="232" stroke="#444" stroke-width="0.5"/>
<text x="41" y="233.3" font-size="3.7" text-anchor="end" fill="#555">600</text>
<line x1="42" y1="248.6" x2="43.6" y2="248.6" stroke="#444" stroke-width="0.5"/>
<text x="41" y="249.9" font-size="3.7" text-anchor="end" fill="#555">400</text>
<line x1="42" y1="265.4" x2="43.6" y2="265.4" stroke="#444" stroke-width="0.5"/>
<text x="41" y="266.7" font-size="3.7" text-anchor="end" fill="#555">200</text>
<line x1="42" y1="282" x2="43.6" y2="282" stroke="#444" stroke-width="0.5"/>
<text x="41" y="283.3" font-size="3.7" text-anchor="end" fill="#555">0</text>
<line x1="44" y1="282.5" x2="44" y2="284.1" stroke="#444" stroke-width="0.5"/>
<text x="44" y="288.8" font-size="3.7" text-anchor="middle" fill="#555">0</text>
<line x1="63.5" y1="282.5" x2="63.5" y2="284.1" stroke="#444" stroke-width="0.5"/>
<text x="63.5" y="288.8" font-size="3.7" text-anchor="middle" fill="#555">2.0M</text>
<line x1="84" y1="282.5" x2="84" y2="284.1" stroke="#444" stroke-width="0.5"/>
<text x="84" y="288.8" font-size="3.7" text-anchor="middle" fill="#555">4.0M</text>
<line x1="104.6" y1="282.5" x2="104.6" y2="284.1" stroke="#444" stroke-width="0.5"/>
<text x="104.6" y="288.8" font-size="3.7" text-anchor="middle" fill="#555">6.0M</text>
<path d="M44.2,282.2 L44.2,282.2 L44.4,282.2 L44.6,282.2 L44.8,282.2 L45,282.2 L45.2,282.2 L45.4,282.2 L45.6,282.2 L45.8,282.2 L46,282.2 L46.2,282.2 L46.4,282.2 L46.6,282.2 L46.8,282.2 L47,282.2 L47.2,282.2 L47.4,282.2 L47.6,282.2 L47.8,282.2 L48,282.2 L48.2,282.2 L48.4,282.2 L48.6,282.2 L48.8,282.2 L49,282.2 L49.2,282.2 L49.4,282.2 L49.6,282.2 L49.8,282.2 L50,282.2 L50.2,282.2 L50.4,282.2 L50.6,282.2 L50.8,282.2 L51,282.2 L51.2,282.2 L51.4,282.2 L51.6,282.2 L51.8,282.2 L52,282.2 L52.2,282.2 L52.4,282.2 L52.6,282.2 L52.8,282.2 L53,282.2 L53.2,282.2 L53.4,282.2 L53.6,282.2 L53.8,282.2 L54,282.2 L54.2,282.2 L54.4,282.2 L54.6,282.2 L54.8,282.2 L55,282.2 L55.2,282.2 L55.4,282.2 L55.6,282.2 L55.8,282.2 L56,282.2 L56.2,282.2 L56.4,282.2 L56.6,282.2 L56.8,282.2 L57,282.2 L57.2,282.2 L57.4,282.2 L57.6,282.2 L57.8,282.2 L58,282.2 L58.2,282.2 L58.4,282.2 L58.6,282.2 L58.8,282.2 L59,282.2 L59.2,282.2 L59.4,282.2 L59.6,282.2 L59.8,282.2 L60,282.2 L60.2,282.2 L60.4,282.2 L60.6,282.2 L60.8,282.2 L61,282.2 L61.2,282.2 L61.4,282.2 L61.6,282.2 L61.8,282.2 L62,282.2 L62.2,282.2 L62.4,282.2 L62.6,282.2 L62.8,282.2 L63,282.2 L63.2,282.2 L63.4,282.2 L63.6,282.2 L63.8,282.2 L64,282.2 L64.2,282.2 L64.4,282.2 L64.6,282.2 L64.8,282.2 L65,282.2 L65.2,282.2 L65.4,282.2 L65.6,282.2 L65.8,282.2 L66,282.2 L66.2,282.2 L66.4,282.2 L66.6,282.2 L66.8,282.2 L67,282.2 L67.2,282.2 L67.4,282.2 L67.6,282.2 L67.8,282.2 L68,282.2 L68.2,282.2 L68.4,282.2 L68.6,282.2 L68.8,282.2 L69,282.2 L69.2,282.2 L69.4,282.2 L69.6,282.2 L69.8,282.2 L70,282.19 L70.2,282.19 L70.4,282.19 L70.6,282.18 L70.8,282.17 L71,282.16 L71.2,282.15 L71.4,282.14 L71.6,282.11 L71.8,282.09 L72,282.05 L72.2,282.01 L72.4,281.96 L72.6,281.89 L72.8,281.82 L73,281.73 L73.2,281.62 L73.4,281.51 L73.6,281.37 L73.8,281.22 L74,281.06 L74.2,280.88 L74.4,280.68 L74.6,280.48 L74.8,280.27 L75,280.06 L75.2,279.84 L75.4,279.62 L75.6,279.41 L75.8,279.2 L76,279 L76.2,278.81 L76.4,278.63 L76.6,278.46 L76.8,278.32 L77,278.18 L77.2,278.07 L77.4,277.97 L77.6,277.88 L77.8,277.81 L78,277.75 L78.2,277.71 L78.4,277.67 L78.6,277.64 L78.8,277.63 L79,277.62 L79.2,277.61 L79.4,277.61 L79.6,277.61 L79.8,277.62 L80,277.63 L80.2,277.64 L80.4,277.65 L80.6,277.66 L80.8,277.67 L81,277.69 L81.2,277.7 L81.4,277.71 L81.6,277.73 L81.8,277.74 L82,277.76 L82.2,277.77 L82.4,277.79 L82.6,277.8 L82.8,277.82 L83,277.83 L83.2,277.85 L83.4,277.86 L83.6,277.88 L83.8,277.89 L84,277.91 L84.2,277.92 L84.4,277.94 L84.6,277.95 L84.8,277.97 L85,277.98 L85.2,278 L85.4,278.01 L85.6,278.03 L85.8,278.04 L86,278.06 L86.2,278.07 L86.4,278.08 L86.6,278.1 L86.8,278.11 L87,278.13 L87.2,278.14 L87.4,278.16 L87.6,278.17 L87.8,278.19 L88,278.2 L88.2,278.22 L88.4,278.23 L88.6,278.25 L88.8,278.26 L89,278.28 L89.2,278.29 L89.4,278.31 L89.6,278.32 L89.8,278.34 L90,278.35 L90.2,278.37 L90.4,278.38 L90.6,278.4 L90.8,278.41 L91,278.43 L91.2,278.44 L91.4,278.46 L91.6,278.47 L91.8,278.49 L92,278.5 L92.2,278.52 L92.4,278.53 L92.6,278.55 L92.8,278.57 L93,278.58 L93.2,278.6 L93.4,278.62 L93.6,278.63 L93.8,278.65 L94,278.67 L94.2,278.69 L94.4,278.71 L94.6,278.73 L94.8,278.75 L95,278.77 L95.2,278.8 L95.4,278.82 L95.6,278.85 L95.8,278.87 L96,278.9 L96.2,278.94 L96.4,278.97 L96.6,279.01 L96.8,279.05 L97,279.09 L97.2,279.13 L97.4,279.18 L97.6,279.23 L97.8,279.28 L98,279.34 L98.2,279.4 L98.4,279.46 L98.6,279.53 L98.8,279.6 L99,279.67 L99.2,279.75 L99.4,279.82 L99.6,279.9 L99.8,279.99 L100,280.07 L100.2,280.16 L100.4,280.25 L100.6,280.34 L100.8,280.43 L101,280.52 L101.2,280.61 L101.4,280.7 L101.6,280.78 L101.8,280.86 L102,280.95 L102.2,281.03 L102.4,281.1 L102.6,281.18 L102.8,281.26 L103,281.33 L103.2,281.4 L103.4,281.46 L103.6,281.53 L103.8,281.59 L104,281.65 L104.2,281.7 L104.4,281.75 L104.6,281.8 L104.8,281.84 L105,281.88 L105.2,281.91 L105.4,281.95 L105.6,281.98 L105.8,282.01 L106,282.03 L106.2,282.05 L106.4,282.07 L106.6,282.09 L106.8,282.11 L107,282.12 L107.2,282.13 L107.4,282.14 L107.6,282.15 L107.8,282.16 L108,282.17 L108.2,282.17 L108.4,282.18 L108.6,282.18 L108.8,282.18 L109,282.19 L109.2,282.19 L109.4,282.19 L109.6,282.19 L109.8,282.19 L110,282.2 L110.2,282.2 L110.4,282.2 L110.6,282.2 L110.8,282.2 L111,282.2 L111.2,282.2 L111.4,282.2 L111.6,282.2 L111.8,282.2 L112,282.2 L112.2,282.2 L112.4,282.2 L112.6,282.2 L112.8,282.2 L113,282.2 L113.2,282.2 L113.4,282.2 L113.6,282.2 L113.8,282.2 L114,282.2 L114.2,282.2 L114.4,282.2 L114.6,282.2 L114.8,282.2 L115,282.2 L115.2,282.2 L115.4,282.2 L115.6,282.2 L115.8,282.2 L116,282.2 L116.2,282.2 L116.4,282.2 L116.6,282.2 L116.8,282.2 L117,282.2 L117.2,282.2 L117.4,282.2 L117.6,282.2 L117.8,282.2 L118,282.2 L118.2,282.2 L118.4,282.2 L118.6,282.2 L118.8,282.2 L119,282.2 L119.2,282.2 L119.4,282.2 L119.6,282.2 L119.8,282.2 L120,282.2 L120.2,282.2 L120.4,282.2 L120.6,282.2 L120.8,282.2 L121,282.2 L121.2,282.2 L121.4,282.2 L121.6,282.2 L121.8,282.2 L122,282.2 L122.2,282.2 L122.4,282.2 L122.6,282.2 L122.8,282.2 L123,282.2 L123.2,282.2 L123.4,282.2 L123.6,282.2 L123.8,282.2 L124,282.2 L124.2,282.2 L124.4,282.2 L124.6,282.2 L124.8,282.2 L124.8,282.2 Z" fill="#e2e07c" stroke="none" stroke-width="1" fill-opacity="0.8"/>
<path d="M44.2,282.2 L44.2,282.2 L44.4,282.2 L44.6,282.2 L44.8,282.2 L45,282.2 L45.2,282.2 L45.4,282.2 L45.6,282.2 L45.8,282.2 L46,282.2 L46.2,282.2 L46.4,282.2 L46.6,282.2 L46.8,282.2 L47,282.2 L47.2,282.2 L47.4,282.2 L47.6,282.2 L47.8,282.2 L48,282.2 L48.2,282.2 L48.4,282.2 L48.6,282.2 L48.8,282.2 L49,282.2 L49.2,282.2 L49.4,282.2 L49.6,282.2 L49.8,282.2 L50,282.2 L50.2,282.2 L50.4,282.2 L50.6,282.2 L50.8,282.2 L51,282.2 L51.2,282.2 L51.4,282.2 L51.6,282.2 L51.8,282.2 L52,282.2 L52.2,282.2 L52.4,282.2 L52.6,282.2 L52.8,282.2 L53,282.2 L53.2,282.2 L53.4,282.2 L53.6,282.2 L53.8,282.2 L54,282.2 L54.2,282.2 L54.4,282.2 L54.6,282.2 L54.8,282.2 L55,282.2 L55.2,282.2 L55.4,282.2 L55.6,282.2 L55.8,282.2 L56,282.2 L56.2,282.2 L56.4,282.2 L56.6,282.2 L56.8,282.2 L57,282.2 L57.2,282.2 L57.4,282.2 L57.6,282.2 L57.8,282.2 L58,282.2 L58.2,282.2 L58.4,282.2 L58.6,282.2 L58.8,282.2 L59,282.2 L59.2,282.2 L59.4,282.2 L59.6,282.2 L59.8,282.2 L60,282.2 L60.2,282.2 L60.4,282.2 L60.6,282.2 L60.8,282.2 L61,282.2 L61.2,282.2 L61.4,282.2 L61.6,282.2 L61.8,282.2 L62,282.2 L62.2,282.2 L62.4,282.2 L62.6,282.2 L62.8,282.2 L63,282.2 L63.2,282.2 L63.4,282.2 L63.6,282.2 L63.8,282.2 L64,282.2 L64.2,282.2 L64.4,282.2 L64.6,282.2 L64.8,282.2 L65,282.2 L65.2,282.2 L65.4,282.2 L65.6,282.2 L65.8,282.2 L66,282.2 L66.2,282.2 L66.4,282.2 L66.6,282.2 L66.8,282.2 L67,282.2 L67.2,282.2 L67.4,282.2 L67.6,282.2 L67.8,282.2 L68,282.2 L68.2,282.2 L68.4,282.2 L68.6,282.2 L68.8,282.2 L69,282.2 L69.2,282.2 L69.4,282.2 L69.6,282.2 L69.8,282.2 L70,282.2 L70.2,282.2 L70.4,282.2 L70.6,282.2 L70.8,282.2 L71,282.2 L71.2,282.2 L71.4,282.2 L71.6,282.2 L71.8,282.2 L72,282.2 L72.2,282.2 L72.4,282.2 L72.6,282.2 L72.8,282.2 L73,282.2 L73.2,282.2 L73.4,282.2 L73.6,282.2 L73.8,282.2 L74,282.2 L74.2,282.2 L74.4,282.2 L74.6,282.2 L74.8,282.2 L75,282.2 L75.2,282.2 L75.4,282.2 L75.6,282.2 L75.8,282.2 L76,282.2 L76.2,282.2 L76.4,282.2 L76.6,282.2 L76.8,282.2 L77,282.2 L77.2,282.2 L77.4,282.2 L77.6,282.2 L77.8,282.2 L78,282.2 L78.2,282.2 L78.4,282.2 L78.6,282.2 L78.8,282.2 L79,282.2 L79.2,282.2 L79.4,282.2 L79.6,282.2 L79.8,282.2 L80,282.2 L80.2,282.2 L80.4,282.2 L80.6,282.2 L80.8,282.2 L81,282.2 L81.2,282.2 L81.4,282.2 L81.6,282.2 L81.8,282.2 L82,282.2 L82.2,282.2 L82.4,282.2 L82.6,282.2 L82.8,282.2 L83,282.2 L83.2,282.2 L83.4,282.2 L83.6,282.2 L83.8,282.2 L84,282.2 L84.2,282.2 L84.4,282.2 L84.6,282.2 L84.8,282.2 L85,282.2 L85.2,282.2 L85.4,282.2 L85.6,282.2 L85.8,282.2 L86,282.2 L86.2,282.2 L86.4,282.2 L86.6,282.2 L86.8,282.2 L87,282.2 L87.2,282.2 L87.4,282.2 L87.6,282.2 L87.8,282.2 L88,282.2 L88.2,282.2 L88.4,282.2 L88.6,282.2 L88.8,282.2 L89,282.2 L89.2,282.2 L89.4,282.2 L89.6,282.2 L89.8,282.2 L90,282.2 L90.2,282.2 L90.4,282.19 L90.6,282.19 L90.8,282.19 L91,282.19 L91.2,282.18 L91.4,282.18 L91.6,282.17 L91.8,282.17 L92,282.16 L92.2,282.15 L92.4,282.14 L92.6,282.12 L92.8,282.11 L93,282.09 L93.2,282.06 L93.4,282.03 L93.6,282 L93.8,281.96 L94,281.91 L94.2,281.85 L94.4,281.79 L94.6,281.72 L94.8,281.63 L95,281.54 L95.2,281.43 L95.4,281.31 L95.6,281.18 L95.8,281.03 L96,280.87 L96.2,280.69 L96.4,280.49 L96.6,280.28 L96.8,280.05 L97,279.81 L97.2,279.55 L97.4,279.28 L97.6,279 L97.8,278.71 L98,278.4 L98.2,278.09 L98.4,277.78 L98.6,277.46 L98.8,277.15 L99,276.84 L99.2,276.54 L99.4,276.25 L99.6,275.97 L99.8,275.72 L100,275.48 L100.2,275.27 L100.4,275.09 L100.6,274.93 L100.8,274.81 L101,274.72 L101.2,274.67 L101.4,274.65 L101.6,274.67 L101.8,274.72 L102,274.81 L102.2,274.93 L102.4,275.09 L102.6,275.27 L102.8,275.48 L103,275.72 L103.2,275.97 L103.4,276.25 L103.6,276.54 L103.8,276.84 L104,277.15 L104.2,277.46 L104.4,277.78 L104.6,278.09 L104.8,278.4 L105,278.71 L105.2,279 L105.4,279.28 L105.6,279.55 L105.8,279.81 L106,280.05 L106.2,280.28 L106.4,280.49 L106.6,280.69 L106.8,280.87 L107,281.03 L107.2,281.18 L107.4,281.31 L107.6,281.43 L107.8,281.54 L108,281.63 L108.2,281.72 L108.4,281.79 L108.6,281.85 L108.8,281.91 L109,281.96 L109.2,282 L109.4,282.03 L109.6,282.06 L109.8,282.09 L110,282.11 L110.2,282.12 L110.4,282.14 L110.6,282.15 L110.8,282.16 L111,282.17 L111.2,282.17 L111.4,282.18 L111.6,282.18 L111.8,282.19 L112,282.19 L112.2,282.19 L112.4,282.19 L112.6,282.2 L112.8,282.2 L113,282.2 L113.2,282.2 L113.4,282.2 L113.6,282.2 L113.8,282.2 L114,282.2 L114.2,282.2 L114.4,282.2 L114.6,282.2 L114.8,282.2 L115,282.2 L115.2,282.2 L115.4,282.2 L115.6,282.2 L115.8,282.2 L116,282.2 L116.2,282.2 L116.4,282.2 L116.6,282.2 L116.8,282.2 L117,282.2 L117.2,282.2 L117.4,282.2 L117.6,282.2 L117.8,282.2 L118,282.2 L118.2,282.2 L118.4,282.2 L118.6,282.2 L118.8,282.2 L119,282.2 L119.2,282.2 L119.4,282.2 L119.6,282.2 L119.8,282.2 L120,282.2 L120.2,282.2 L120.4,282.2 L120.6,282.2 L120.8,282.2 L121,282.2 L121.2,282.2 L121.4,282.2 L121.6,282.2 L121.8,282.2 L122,282.2 L122.2,282.2 L122.4,282.2 L122.6,282.2 L122.8,282.2 L123,282.2 L123.2,282.2 L123.4,282.2 L123.6,282.2 L123.8,282.2 L124,282.2 L124.2,282.2 L124.4,282.2 L124.6,282.2 L124.8,282.2 L124.8,282.2 Z" fill="#84d070" stroke="none" stroke-width="1" fill-opacity="0.8"/>
<path d="M44.2,282.2 L44.2,282.2 L44.4,282.2 L44.6,282.2 L44.8,282.2 L45,282.2 L45.2,282.2 L45.4,282.2 L45.6,282.2 L45.8,282.2 L46,282.2 L46.2,282.2 L46.4,282.2 L46.6,282.2 L46.8,282.2 L47,282.2 L47.2,282.2 L47.4,282.2 L47.6,282.2 L47.8,282.2 L48,282.2 L48.2,282.2 L48.4,282.2 L48.6,282.2 L48.8,282.2 L49,282.2 L49.2,282.2 L49.4,282.2 L49.6,282.2 L49.8,282.2 L50,282.2 L50.2,282.2 L50.4,282.2 L50.6,282.2 L50.8,282.2 L51,282.2 L51.2,282.2 L51.4,282.2 L51.6,282.2 L51.8,282.2 L52,282.2 L52.2,282.2 L52.4,282.2 L52.6,282.2 L52.8,282.2 L53,282.2 L53.2,282.2 L53.4,282.2 L53.6,282.2 L53.8,282.2 L54,282.2 L54.2,282.2 L54.4,282.2 L54.6,282.2 L54.8,282.2 L55,282.2 L55.2,282.2 L55.4,282.2 L55.6,282.2 L55.8,282.2 L56,282.2 L56.2,282.2 L56.4,282.2 L56.6,282.2 L56.8,282.2 L57,282.2 L57.2,282.2 L57.4,282.2 L57.6,282.2 L57.8,282.2 L58,282.2 L58.2,282.2 L58.4,282.2 L58.6,282.2 L58.8,282.2 L59,282.2 L59.2,282.2 L59.4,282.2 L59.6,282.2 L59.8,282.2 L60,282.2 L60.2,282.2 L60.4,282.2 L60.6,282.2 L60.8,282.2 L61,282.2 L61.2,282.2 L61.4,282.2 L61.6,282.2 L61.8,282.2 L62,282.2 L62.2,282.2 L62.4,282.2 L62.6,282.2 L62.8,282.2 L63,282.2 L63.2,282.2 L63.4,282.2 L63.6,282.2 L63.8,282.2 L64,282.2 L64.2,282.2 L64.4,282.2 L64.6,282.2 L64.8,282.2 L65,282.2 L65.2,282.2 L65.4,282.2 L65.6,282.2 L65.8,282.2 L66,282.2 L66.2,282.2 L66.4,282.2 L66.6,282.2 L66.8,282.2 L67,282.19 L67.2,282.19 L67.4,282.18 L67.6,282.17 L67.8,282.15 L68,282.13 L68.2,282.09 L68.4,282.03 L68.6,281.95 L68.8,281.84 L69,281.68 L69.2,281.45 L69.4,281.15 L69.6,280.75 L69.8,280.21 L70,279.52 L70.2,278.63 L70.4,277.5 L70.6,276.1 L70.8,274.38 L71,272.3 L71.2,269.84 L71.4,266.97 L71.6,263.67 L71.8,259.95 L72,255.84 L72.2,251.36 L72.4,246.6 L72.6,241.63 L72.8,236.57 L73,231.55 L73.2,226.7 L73.4,222.17 L73.6,218.12 L73.8,214.69 L74,211.99 L74.2,210.13 L74.4,209.18 L74.6,209.18 L74.8,210.13 L75,211.99 L75.2,214.69 L75.4,218.12 L75.6,222.17 L75.8,226.7 L76,231.55 L76.2,236.57 L76.4,241.63 L76.6,246.6 L76.8,251.36 L77,255.84 L77.2,259.95 L77.4,263.67 L77.6,266.97 L77.8,269.84 L78,272.3 L78.2,274.38 L78.4,276.1 L78.6,277.5 L78.8,278.63 L79,279.52 L79.2,280.21 L79.4,280.75 L79.6,281.15 L79.8,281.45 L80,281.68 L80.2,281.84 L80.4,281.95 L80.6,282.03 L80.8,282.09 L81,282.13 L81.2,282.15 L81.4,282.17 L81.6,282.18 L81.8,282.19 L82,282.19 L82.2,282.2 L82.4,282.2 L82.6,282.2 L82.8,282.2 L83,282.2 L83.2,282.2 L83.4,282.2 L83.6,282.2 L83.8,282.2 L84,282.2 L84.2,282.2 L84.4,282.2 L84.6,282.2 L84.8,282.2 L85,282.2 L85.2,282.2 L85.4,282.2 L85.6,282.2 L85.8,282.2 L86,282.2 L86.2,282.2 L86.4,282.2 L86.6,282.2 L86.8,282.2 L87,282.2 L87.2,282.2 L87.4,282.2 L87.6,282.2 L87.8,282.2 L88,282.2 L88.2,282.2 L88.4,282.2 L88.6,282.2 L88.8,282.2 L89,282.2 L89.2,282.2 L89.4,282.2 L89.6,282.2 L89.8,282.2 L90,282.2 L90.2,282.2 L90.4,282.2 L90.6,282.2 L90.8,282.2 L91,282.2 L91.2,282.2 L91.4,282.2 L91.6,282.2 L91.8,282.2 L92,282.2 L92.2,282.2 L92.4,282.2 L92.6,282.2 L92.8,282.2 L93,282.2 L93.2,282.2 L93.4,282.2 L93.6,282.2 L93.8,282.2 L94,282.2 L94.2,282.2 L94.4,282.2 L94.6,282.2 L94.8,282.2 L95,282.2 L95.2,282.2 L95.4,282.2 L95.6,282.2 L95.8,282.2 L96,282.2 L96.2,282.2 L96.4,282.2 L96.6,282.2 L96.8,282.2 L97,282.2 L97.2,282.2 L97.4,282.2 L97.6,282.2 L97.8,282.2 L98,282.2 L98.2,282.2 L98.4,282.2 L98.6,282.2 L98.8,282.2 L99,282.2 L99.2,282.2 L99.4,282.2 L99.6,282.2 L99.8,282.2 L100,282.2 L100.2,282.2 L100.4,282.2 L100.6,282.2 L100.8,282.2 L101,282.2 L101.2,282.2 L101.4,282.2 L101.6,282.2 L101.8,282.2 L102,282.2 L102.2,282.2 L102.4,282.2 L102.6,282.2 L102.8,282.2 L103,282.2 L103.2,282.2 L103.4,282.2 L103.6,282.2 L103.8,282.2 L104,282.2 L104.2,282.2 L104.4,282.2 L104.6,282.2 L104.8,282.2 L105,282.2 L105.2,282.2 L105.4,282.2 L105.6,282.2 L105.8,282.2 L106,282.2 L106.2,282.2 L106.4,282.2 L106.6,282.2 L106.8,282.2 L107,282.2 L107.2,282.2 L107.4,282.2 L107.6,282.2 L107.8,282.2 L108,282.2 L108.2,282.2 L108.4,282.2 L108.6,282.2 L108.8,282.2 L109,282.2 L109.2,282.2 L109.4,282.2 L109.6,282.2 L109.8,282.2 L110,282.2 L110.2,282.2 L110.4,282.2 L110.6,282.2 L110.8,282.2 L111,282.2 L111.2,282.2 L111.4,282.2 L111.6,282.2 L111.8,282.2 L112,282.2 L112.2,282.2 L112.4,282.2 L112.6,282.2 L112.8,282.2 L113,282.2 L113.2,282.2 L113.4,282.2 L113.6,282.2 L113.8,282.2 L114,282.2 L114.2,282.2 L114.4,282.2 L114.6,282.2 L114.8,282.2 L115,282.2 L115.2,282.2 L115.4,282.2 L115.6,282.2 L115.8,282.2 L116,282.2 L116.2,282.2 L116.4,282.2 L116.6,282.2 L116.8,282.2 L117,282.2 L117.2,282.2 L117.4,282.2 L117.6,282.2 L117.8,282.2 L118,282.2 L118.2,282.2 L118.4,282.2 L118.6,282.2 L118.8,282.2 L119,282.2 L119.2,282.2 L119.4,282.2 L119.6,282.2 L119.8,282.2 L120,282.2 L120.2,282.2 L120.4,282.2 L120.6,282.2 L120.8,282.2 L121,282.2 L121.2,282.2 L121.4,282.2 L121.6,282.2 L121.8,282.2 L122,282.2 L122.2,282.2 L122.4,282.2 L122.6,282.2 L122.8,282.2 L123,282.2 L123.2,282.2 L123.4,282.2 L123.6,282.2 L123.8,282.2 L124,282.2 L124.2,282.2 L124.4,282.2 L124.6,282.2 L124.8,282.2 L124.8,282.2 Z" fill="#8f92e2" stroke="none" stroke-width="1" fill-opacity="0.85"/>
<path d="M44.2,282.2 L44.4,282.2 L44.6,282.2 L44.8,282.2 L45,282.2 L45.2,282.2 L45.4,282.2 L45.6,282.2 L45.8,282.2 L46,282.2 L46.2,282.2 L46.4,282.2 L46.6,282.2 L46.8,282.2 L47,282.2 L47.2,282.2 L47.4,282.2 L47.6,282.2 L47.8,282.2 L48,282.2 L48.2,282.2 L48.4,282.2 L48.6,282.2 L48.8,282.2 L49,282.2 L49.2,282.2 L49.4,282.2 L49.6,282.2 L49.8,282.2 L50,282.2 L50.2,282.2 L50.4,282.2 L50.6,282.2 L50.8,282.2 L51,282.2 L51.2,282.2 L51.4,282.2 L51.6,282.2 L51.8,282.2 L52,282.2 L52.2,282.2 L52.4,282.2 L52.6,282.2 L52.8,282.2 L53,282.2 L53.2,282.2 L53.4,282.2 L53.6,282.2 L53.8,282.2 L54,282.2 L54.2,282.2 L54.4,282.2 L54.6,282.2 L54.8,282.2 L55,282.2 L55.2,282.2 L55.4,282.2 L55.6,282.2 L55.8,282.2 L56,282.2 L56.2,282.2 L56.4,282.2 L56.6,282.2 L56.8,282.2 L57,282.2 L57.2,282.2 L57.4,282.2 L57.6,282.2 L57.8,282.2 L58,282.2 L58.2,282.2 L58.4,282.2 L58.6,282.2 L58.8,282.2 L59,282.2 L59.2,282.2 L59.4,282.2 L59.6,282.2 L59.8,282.2 L60,282.2 L60.2,282.2 L60.4,282.2 L60.6,282.2 L60.8,282.2 L61,282.2 L61.2,282.2 L61.4,282.2 L61.6,282.2 L61.8,282.2 L62,282.2 L62.2,282.2 L62.4,282.2 L62.6,282.2 L62.8,282.2 L63,282.2 L63.2,282.2 L63.4,282.2 L63.6,282.2 L63.8,282.2 L64,282.2 L64.2,282.2 L64.4,282.2 L64.6,282.2 L64.8,282.2 L65,282.2 L65.2,282.2 L65.4,282.2 L65.6,282.2 L65.8,282.2 L66,282.2 L66.2,282.2 L66.4,282.2 L66.6,282.2 L66.8,282.2 L67,282.19 L67.2,282.19 L67.4,282.18 L67.6,282.17 L67.8,282.15 L68,282.13 L68.2,282.09 L68.4,282.03 L68.6,281.95 L68.8,281.84 L69,281.67 L69.2,281.45 L69.4,281.15 L69.6,280.74 L69.8,280.21 L70,279.51 L70.2,278.61 L70.4,277.48 L70.6,276.07 L70.8,274.34 L71,272.25 L71.2,269.78 L71.4,266.88 L71.6,263.56 L71.8,259.81 L72,255.65 L72.2,251.12 L72.4,246.3 L72.6,241.25 L72.8,236.1 L73,230.97 L73.2,226.01 L73.4,221.34 L73.6,217.14 L73.8,213.53 L74,210.65 L74.2,208.59 L74.4,207.42 L74.6,207.2 L74.8,207.92 L75,209.54 L75.2,212 L75.4,215.2 L75.6,219.02 L75.8,223.32 L76,227.95 L76.2,232.77 L76.4,237.64 L76.6,242.44 L76.8,247.04 L77,251.38 L77.2,255.37 L77.4,258.98 L77.6,262.19 L77.8,264.99 L78,267.39 L78.2,269.42 L78.4,271.1 L78.6,272.48 L78.8,273.59 L79,274.47 L79.2,275.16 L79.4,275.7 L79.6,276.1 L79.8,276.41 L80,276.64 L80.2,276.81 L80.4,276.94 L80.6,277.04 L80.8,277.11 L81,277.16 L81.2,277.2 L81.4,277.23 L81.6,277.26 L81.8,277.29 L82,277.31 L82.2,277.33 L82.4,277.34 L82.6,277.36 L82.8,277.38 L83,277.39 L83.2,277.41 L83.4,277.43 L83.6,277.44 L83.8,277.46 L84,277.48 L84.2,277.49 L84.4,277.51 L84.6,277.53 L84.8,277.54 L85,277.56 L85.2,277.58 L85.4,277.59 L85.6,277.61 L85.8,277.62 L86,277.64 L86.2,277.66 L86.4,277.67 L86.6,277.69 L86.8,277.71 L87,277.72 L87.2,277.74 L87.4,277.75 L87.6,277.77 L87.8,277.79 L88,277.8 L88.2,277.82 L88.4,277.84 L88.6,277.85 L88.8,277.87 L89,277.89 L89.2,277.9 L89.4,277.92 L89.6,277.93 L89.8,277.95 L90,277.96 L90.2,277.98 L90.4,278 L90.6,278.01 L90.8,278.02 L91,278.04 L91.2,278.05 L91.4,278.06 L91.6,278.07 L91.8,278.09 L92,278.09 L92.2,278.1 L92.4,278.11 L92.6,278.11 L92.8,278.11 L93,278.11 L93.2,278.1 L93.4,278.09 L93.6,278.07 L93.8,278.05 L94,278.02 L94.2,277.99 L94.4,277.95 L94.6,277.9 L94.8,277.84 L95,277.77 L95.2,277.69 L95.4,277.59 L95.6,277.49 L95.8,277.37 L96,277.24 L96.2,277.1 L96.4,276.94 L96.6,276.77 L96.8,276.59 L97,276.39 L97.2,276.18 L97.4,275.96 L97.6,275.73 L97.8,275.5 L98,275.26 L98.2,275.01 L98.4,274.77 L98.6,274.52 L98.8,274.29 L99,274.06 L99.2,273.84 L99.4,273.63 L99.6,273.45 L99.8,273.28 L100,273.14 L100.2,273.03 L100.4,272.94 L100.6,272.88 L100.8,272.86 L101,272.87 L101.2,272.92 L101.4,273 L101.6,273.11 L101.8,273.25 L102,273.43 L102.2,273.64 L102.4,273.88 L102.6,274.15 L102.8,274.45 L103,274.76 L103.2,275.09 L103.4,275.44 L103.6,275.8 L103.8,276.17 L104,276.54 L104.2,276.91 L104.4,277.29 L104.6,277.65 L104.8,278.01 L105,278.36 L105.2,278.69 L105.4,279.01 L105.6,279.31 L105.8,279.6 L106,279.87 L106.2,280.12 L106.4,280.35 L106.6,280.57 L106.8,280.76 L107,280.94 L107.2,281.1 L107.4,281.25 L107.6,281.38 L107.8,281.49 L108,281.6 L108.2,281.69 L108.4,281.76 L108.6,281.83 L108.8,281.89 L109,281.94 L109.2,281.99 L109.4,282.02 L109.6,282.05 L109.8,282.08 L110,282.1 L110.2,282.12 L110.4,282.14 L110.6,282.15 L110.8,282.16 L111,282.17 L111.2,282.17 L111.4,282.18 L111.6,282.18 L111.8,282.19 L112,282.19 L112.2,282.19 L112.4,282.19 L112.6,282.2 L112.8,282.2 L113,282.2 L113.2,282.2 L113.4,282.2 L113.6,282.2 L113.8,282.2 L114,282.2 L114.2,282.2 L114.4,282.2 L114.6,282.2 L114.8,282.2 L115,282.2 L115.2,282.2 L115.4,282.2 L115.6,282.2 L115.8,282.2 L116,282.2 L116.2,282.2 L116.4,282.2 L116.6,282.2 L116.8,282.2 L117,282.2 L117.2,282.2 L117.4,282.2 L117.6,282.2 L117.8,282.2 L118,282.2 L118.2,282.2 L118.4,282.2 L118.6,282.2 L118.8,282.2 L119,282.2 L119.2,282.2 L119.4,282.2 L119.6,282.2 L119.8,282.2 L120,282.2 L120.2,282.2 L120.4,282.2 L120.6,282.2 L120.8,282.2 L121,282.2 L121.2,282.2 L121.4,282.2 L121.6,282.2 L121.8,282.2 L122,282.2 L122.2,282.2 L122.4,282.2 L122.6,282.2 L122.8,282.2 L123,282.2 L123.2,282.2 L123.4,282.2 L123.6,282.2 L123.8,282.2 L124,282.2 L124.2,282.2 L124.4,282.2 L124.6,282.2 L124.8,282.2" fill="none" stroke="#c93fa6" stroke-width="1" stroke-linejoin="round"/>
<path d="M44.2,281.9 L44.4,281.9 L44.6,281.9 L44.8,281.9 L45,281.9 L45.2,281.9 L45.4,281.9 L45.6,281.9 L45.8,281.9 L46,281.9 L46.2,281.9 L46.4,281.9 L46.6,281.9 L46.8,281.9 L47,281.9 L47.2,281.9 L47.4,281.9 L47.6,281.9 L47.8,281.9 L48,281.9 L48.2,281.9 L48.4,281.9 L48.6,281.9 L48.8,281.9 L49,281.9 L49.2,281.9 L49.4,281.9 L49.6,281.9 L49.8,281.9 L50,281.9 L50.2,281.9 L50.4,281.9 L50.6,281.9 L50.8,281.9 L51,281.9 L51.2,281.9 L51.4,281.9 L51.6,281.9 L51.8,281.9 L52,281.9 L52.2,281.9 L52.4,281.9 L52.6,281.9 L52.8,281.9 L53,281.9 L53.2,281.9 L53.4,281.9 L53.6,281.9 L53.8,281.9 L54,281.9 L54.2,281.9 L54.4,281.9 L54.6,281.9 L54.8,281.9 L55,281.9 L55.2,281.9 L55.4,281.9 L55.6,281.9 L55.8,281.9 L56,281.9 L56.2,281.9 L56.4,281.9 L56.6,281.9 L56.8,281.9 L57,281.9 L57.2,281.9 L57.4,281.9 L57.6,281.9 L57.8,281.9 L58,281.9 L58.2,281.9 L58.4,281.9 L58.6,281.9 L58.8,281.9 L59,281.9 L59.2,281.9 L59.4,281.9 L59.6,281.9 L59.8,281.9 L60,281.9 L60.2,281.9 L60.4,281.9 L60.6,281.9 L60.8,281.9 L61,281.9 L61.2,281.9 L61.4,281.9 L61.6,281.9 L61.8,281.9 L62,281.9 L62.2,281.9 L62.4,281.9 L62.6,281.9 L62.8,281.9 L63,281.9 L63.2,281.9 L63.4,281.9 L63.6,281.9 L63.8,281.9 L64,281.9 L64.2,281.9 L64.4,281.9 L64.6,281.9 L64.8,281.9 L65,281.9 L65.2,281.9 L65.4,281.9 L65.6,281.9 L65.8,281.9 L66,281.9 L66.2,281.9 L66.4,281.9 L66.6,281.9 L66.8,281.9 L67,281.89 L67.2,281.89 L67.4,281.88 L67.6,281.87 L67.8,281.85 L68,281.83 L68.2,281.79 L68.4,281.73 L68.6,281.65 L68.8,281.54 L69,281.37 L69.2,281.15 L69.4,280.85 L69.6,280.44 L69.8,279.91 L70,279.21 L70.2,278.31 L70.4,277.18 L70.6,275.77 L70.8,274.04 L71,271.95 L71.2,269.48 L71.4,266.58 L71.6,263.26 L71.8,259.51 L72,255.35 L72.2,250.82 L72.4,246 L72.6,240.95 L72.8,235.8 L73,230.67 L73.2,225.71 L73.4,221.04 L73.6,216.84 L73.8,213.23 L74,210.35 L74.2,208.29 L74.4,207.12 L74.6,206.9 L74.8,207.62 L75,209.24 L75.2,211.7 L75.4,214.9 L75.6,218.72 L75.8,223.02 L76,227.65 L76.2,232.47 L76.4,237.34 L76.6,242.14 L76.8,246.74 L77,251.08 L77.2,255.07 L77.4,258.68 L77.6,261.89 L77.8,264.69 L78,267.09 L78.2,269.12 L78.4,270.8 L78.6,272.18 L78.8,273.29 L79,274.17 L79.2,274.86 L79.4,275.4 L79.6,275.8 L79.8,276.11 L80,276.34 L80.2,276.51 L80.4,276.64 L80.6,276.74 L80.8,276.81 L81,276.86 L81.2,276.9 L81.4,276.93 L81.6,276.96 L81.8,276.99 L82,277.01 L82.2,277.03 L82.4,277.04 L82.6,277.06 L82.8,277.08 L83,277.09 L83.2,277.11 L83.4,277.13 L83.6,277.14 L83.8,277.16 L84,277.18 L84.2,277.19 L84.4,277.21 L84.6,277.23 L84.8,277.24 L85,277.26 L85.2,277.28 L85.4,277.29 L85.6,277.31 L85.8,277.32 L86,277.34 L86.2,277.36 L86.4,277.37 L86.6,277.39 L86.8,277.41 L87,277.42 L87.2,277.44 L87.4,277.45 L87.6,277.47 L87.8,277.49 L88,277.5 L88.2,277.52 L88.4,277.54 L88.6,277.55 L88.8,277.57 L89,277.59 L89.2,277.6 L89.4,277.62 L89.6,277.63 L89.8,277.65 L90,277.66 L90.2,277.68 L90.4,277.7 L90.6,277.71 L90.8,277.72 L91,277.74 L91.2,277.75 L91.4,277.76 L91.6,277.77 L91.8,277.79 L92,277.79 L92.2,277.8 L92.4,277.81 L92.6,277.81 L92.8,277.81 L93,277.81 L93.2,277.8 L93.4,277.79 L93.6,277.77 L93.8,277.75 L94,277.72 L94.2,277.69 L94.4,277.65 L94.6,277.6 L94.8,277.54 L95,277.47 L95.2,277.39 L95.4,277.29 L95.6,277.19 L95.8,277.07 L96,276.94 L96.2,276.8 L96.4,276.64 L96.6,276.47 L96.8,276.29 L97,276.09 L97.2,275.88 L97.4,275.66 L97.6,275.43 L97.8,275.2 L98,274.96 L98.2,274.71 L98.4,274.47 L98.6,274.22 L98.8,273.99 L99,273.76 L99.2,273.54 L99.4,273.33 L99.6,273.15 L99.8,272.98 L100,272.84 L100.2,272.73 L100.4,272.64 L100.6,272.58 L100.8,272.56 L101,272.57 L101.2,272.62 L101.4,272.7 L101.6,272.81 L101.8,272.95 L102,273.13 L102.2,273.34 L102.4,273.58 L102.6,273.85 L102.8,274.15 L103,274.46 L103.2,274.79 L103.4,275.14 L103.6,275.5 L103.8,275.87 L104,276.24 L104.2,276.61 L104.4,276.99 L104.6,277.35 L104.8,277.71 L105,278.06 L105.2,278.39 L105.4,278.71 L105.6,279.01 L105.8,279.3 L106,279.57 L106.2,279.82 L106.4,280.05 L106.6,280.27 L106.8,280.46 L107,280.64 L107.2,280.8 L107.4,280.95 L107.6,281.08 L107.8,281.19 L108,281.3 L108.2,281.39 L108.4,281.46 L108.6,281.53 L108.8,281.59 L109,281.64 L109.2,281.69 L109.4,281.72 L109.6,281.75 L109.8,281.78 L110,281.8 L110.2,281.82 L110.4,281.84 L110.6,281.85 L110.8,281.86 L111,281.87 L111.2,281.87 L111.4,281.88 L111.6,281.88 L111.8,281.89 L112,281.89 L112.2,281.89 L112.4,281.89 L112.6,281.9 L112.8,281.9 L113,281.9 L113.2,281.9 L113.4,281.9 L113.6,281.9 L113.8,281.9 L114,281.9 L114.2,281.9 L114.4,281.9 L114.6,281.9 L114.8,281.9 L115,281.9 L115.2,281.9 L115.4,281.9 L115.6,281.9 L115.8,281.9 L116,281.9 L116.2,281.9 L116.4,281.9 L116.6,281.9 L116.8,281.9 L117,281.9 L117.2,281.9 L117.4,281.9 L117.6,281.9 L117.8,281.9 L118,281.9 L118.2,281.9 L118.4,281.9 L118.6,281.9 L118.8,281.9 L119,281.9 L119.2,281.9 L119.4,281.9 L119.6,281.9 L119.8,281.9 L120,281.9 L120.2,281.9 L120.4,281.9 L120.6,281.9 L120.8,281.9 L121,281.9 L121.2,281.9 L121.4,281.9 L121.6,281.9 L121.8,281.9 L122,281.9 L122.2,281.9 L122.4,281.9 L122.6,281.9 L122.8,281.9 L123,281.9 L123.2,281.9 L123.4,281.9 L123.6,281.9 L123.8,281.9 L124,281.9 L124.2,281.9 L124.4,281.9 L124.6,281.9 L124.8,281.9" fill="none" stroke="#333" stroke-width="0.35" stroke-linejoin="round"/>
<rect x="86.3" y="205.2" width="7.7" height="2.4" fill="#a88ad8" stroke="none" stroke-width="1"/>
<text x="97.2" y="208.4" font-size="5.75" fill="#2a2a2a">%G1:59.6</text>
<rect x="86.3" y="211.9" width="7.7" height="2.4" fill="#e4e44e" stroke="none" stroke-width="1"/>
<text x="97.2" y="215.1" font-size="5.75" fill="#2a2a2a">%S:25.3</text>
<rect x="86.3" y="218.6" width="7.7" height="2.4" fill="#8acd70" stroke="none" stroke-width="1"/>
<text x="97.2" y="221.8" font-size="5.75" fill="#2a2a2a">%G2:13.3</text>
<rect x="142.4" y="201.6" width="81.1" height="80.9" fill="#fff" stroke="#555" stroke-width="0.7"/>
<line x1="140.8" y1="212.7" x2="142.4" y2="212.7" stroke="#444" stroke-width="0.5"/>
<text x="139.8" y="214" font-size="3.7" text-anchor="end" fill="#555">800</text>
<line x1="140.8" y1="230" x2="142.4" y2="230" stroke="#444" stroke-width="0.5"/>
<text x="139.8" y="231.3" font-size="3.7" text-anchor="end" fill="#555">600</text>
<line x1="140.8" y1="247.3" x2="142.4" y2="247.3" stroke="#444" stroke-width="0.5"/>
<text x="139.8" y="248.6" font-size="3.7" text-anchor="end" fill="#555">400</text>
<line x1="140.8" y1="264.5" x2="142.4" y2="264.5" stroke="#444" stroke-width="0.5"/>
<text x="139.8" y="265.8" font-size="3.7" text-anchor="end" fill="#555">200</text>
<line x1="140.8" y1="282.4" x2="142.4" y2="282.4" stroke="#444" stroke-width="0.5"/>
<text x="139.8" y="283.7" font-size="3.7" text-anchor="end" fill="#555">0</text>
<line x1="142.6" y1="282.5" x2="142.6" y2="284.1" stroke="#444" stroke-width="0.5"/>
<text x="142.6" y="288.8" font-size="3.7" text-anchor="middle" fill="#555">0</text>
<line x1="162.5" y1="282.5" x2="162.5" y2="284.1" stroke="#444" stroke-width="0.5"/>
<text x="162.5" y="288.8" font-size="3.7" text-anchor="middle" fill="#555">2.0M</text>
<line x1="183.4" y1="282.5" x2="183.4" y2="284.1" stroke="#444" stroke-width="0.5"/>
<text x="183.4" y="288.8" font-size="3.7" text-anchor="middle" fill="#555">4.0M</text>
<line x1="204.2" y1="282.5" x2="204.2" y2="284.1" stroke="#444" stroke-width="0.5"/>
<text x="204.2" y="288.8" font-size="3.7" text-anchor="middle" fill="#555">6.0M</text>
<path d="M143,282.2 L143,282.2 L143.2,282.2 L143.4,282.2 L143.6,282.2 L143.8,282.2 L144,282.2 L144.2,282.2 L144.4,282.2 L144.6,282.2 L144.8,282.2 L145,282.2 L145.2,282.2 L145.4,282.2 L145.6,282.2 L145.8,282.2 L146,282.2 L146.2,282.2 L146.4,282.2 L146.6,282.2 L146.8,282.2 L147,282.2 L147.2,282.2 L147.4,282.2 L147.6,282.2 L147.8,282.2 L148,282.2 L148.2,282.2 L148.4,282.2 L148.6,282.2 L148.8,282.2 L149,282.2 L149.2,282.2 L149.4,282.2 L149.6,282.2 L149.8,282.2 L150,282.2 L150.2,282.2 L150.4,282.2 L150.6,282.2 L150.8,282.2 L151,282.2 L151.2,282.2 L151.4,282.2 L151.6,282.2 L151.8,282.2 L152,282.2 L152.2,282.2 L152.4,282.2 L152.6,282.2 L152.8,282.2 L153,282.2 L153.2,282.2 L153.4,282.2 L153.6,282.2 L153.8,282.2 L154,282.2 L154.2,282.2 L154.4,282.2 L154.6,282.2 L154.8,282.2 L155,282.2 L155.2,282.2 L155.4,282.2 L155.6,282.2 L155.8,282.2 L156,282.2 L156.2,282.2 L156.4,282.2 L156.6,282.2 L156.8,282.2 L157,282.2 L157.2,282.2 L157.4,282.2 L157.6,282.2 L157.8,282.2 L158,282.2 L158.2,282.2 L158.4,282.2 L158.6,282.2 L158.8,282.2 L159,282.2 L159.2,282.2 L159.4,282.2 L159.6,282.2 L159.8,282.2 L160,282.2 L160.2,282.2 L160.4,282.2 L160.6,282.2 L160.8,282.2 L161,282.2 L161.2,282.2 L161.4,282.2 L161.6,282.2 L161.8,282.2 L162,282.2 L162.2,282.2 L162.4,282.2 L162.6,282.2 L162.8,282.2 L163,282.2 L163.2,282.2 L163.4,282.2 L163.6,282.2 L163.8,282.2 L164,282.2 L164.2,282.2 L164.4,282.2 L164.6,282.2 L164.8,282.2 L165,282.2 L165.2,282.2 L165.4,282.2 L165.6,282.2 L165.8,282.2 L166,282.2 L166.2,282.2 L166.4,282.2 L166.6,282.2 L166.8,282.2 L167,282.2 L167.2,282.2 L167.4,282.2 L167.6,282.2 L167.8,282.2 L168,282.19 L168.2,282.19 L168.4,282.19 L168.6,282.18 L168.8,282.17 L169,282.16 L169.2,282.15 L169.4,282.13 L169.6,282.1 L169.8,282.07 L170,282.03 L170.2,281.97 L170.4,281.91 L170.6,281.82 L170.8,281.72 L171,281.6 L171.2,281.46 L171.4,281.29 L171.6,281.1 L171.8,280.88 L172,280.64 L172.2,280.38 L172.4,280.09 L172.6,279.78 L172.8,279.46 L173,279.13 L173.2,278.8 L173.4,278.46 L173.6,278.13 L173.8,277.81 L174,277.49 L174.2,277.2 L174.4,276.92 L174.6,276.66 L174.8,276.43 L175,276.23 L175.2,276.05 L175.4,275.9 L175.6,275.77 L175.8,275.67 L176,275.58 L176.2,275.52 L176.4,275.47 L176.6,275.44 L176.8,275.42 L177,275.41 L177.2,275.41 L177.4,275.42 L177.6,275.44 L177.8,275.45 L178,275.48 L178.2,275.5 L178.4,275.53 L178.6,275.55 L178.8,275.58 L179,275.61 L179.2,275.64 L179.4,275.68 L179.6,275.71 L179.8,275.74 L180,275.77 L180.2,275.8 L180.4,275.83 L180.6,275.86 L180.8,275.89 L181,275.93 L181.2,275.96 L181.4,275.99 L181.6,276.02 L181.8,276.05 L182,276.08 L182.2,276.12 L182.4,276.15 L182.6,276.18 L182.8,276.21 L183,276.24 L183.2,276.27 L183.4,276.31 L183.6,276.34 L183.8,276.37 L184,276.4 L184.2,276.43 L184.4,276.46 L184.6,276.49 L184.8,276.53 L185,276.56 L185.2,276.59 L185.4,276.62 L185.6,276.65 L185.8,276.68 L186,276.72 L186.2,276.75 L186.4,276.78 L186.6,276.81 L186.8,276.84 L187,276.87 L187.2,276.91 L187.4,276.94 L187.6,276.97 L187.8,277 L188,277.03 L188.2,277.06 L188.4,277.1 L188.6,277.13 L188.8,277.16 L189,277.19 L189.2,277.22 L189.4,277.26 L189.6,277.29 L189.8,277.32 L190,277.35 L190.2,277.39 L190.4,277.42 L190.6,277.45 L190.8,277.49 L191,277.52 L191.2,277.55 L191.4,277.59 L191.6,277.63 L191.8,277.66 L192,277.7 L192.2,277.74 L192.4,277.78 L192.6,277.82 L192.8,277.86 L193,277.91 L193.2,277.95 L193.4,278 L193.6,278.05 L193.8,278.1 L194,278.15 L194.2,278.21 L194.4,278.27 L194.6,278.33 L194.8,278.4 L195,278.46 L195.2,278.54 L195.4,278.61 L195.6,278.69 L195.8,278.77 L196,278.85 L196.2,278.94 L196.4,279.03 L196.6,279.13 L196.8,279.22 L197,279.32 L197.2,279.42 L197.4,279.53 L197.6,279.63 L197.8,279.74 L198,279.85 L198.2,279.96 L198.4,280.07 L198.6,280.18 L198.8,280.28 L199,280.39 L199.2,280.5 L199.4,280.59 L199.6,280.68 L199.8,280.77 L200,280.86 L200.2,280.94 L200.4,281.03 L200.6,281.11 L200.8,281.19 L201,281.27 L201.2,281.34 L201.4,281.41 L201.6,281.48 L201.8,281.54 L202,281.6 L202.2,281.66 L202.4,281.71 L202.6,281.76 L202.8,281.81 L203,281.85 L203.2,281.89 L203.4,281.93 L203.6,281.96 L203.8,281.99 L204,282.01 L204.2,282.04 L204.4,282.06 L204.6,282.08 L204.8,282.09 L205,282.11 L205.2,282.12 L205.4,282.13 L205.6,282.14 L205.8,282.15 L206,282.16 L206.2,282.17 L206.4,282.17 L206.6,282.18 L206.8,282.18 L207,282.18 L207.2,282.19 L207.4,282.19 L207.6,282.19 L207.8,282.19 L208,282.19 L208.2,282.2 L208.4,282.2 L208.6,282.2 L208.8,282.2 L209,282.2 L209.2,282.2 L209.4,282.2 L209.6,282.2 L209.8,282.2 L210,282.2 L210.2,282.2 L210.4,282.2 L210.6,282.2 L210.8,282.2 L211,282.2 L211.2,282.2 L211.4,282.2 L211.6,282.2 L211.8,282.2 L212,282.2 L212.2,282.2 L212.4,282.2 L212.6,282.2 L212.8,282.2 L213,282.2 L213.2,282.2 L213.4,282.2 L213.6,282.2 L213.8,282.2 L214,282.2 L214.2,282.2 L214.4,282.2 L214.6,282.2 L214.8,282.2 L215,282.2 L215.2,282.2 L215.4,282.2 L215.6,282.2 L215.8,282.2 L216,282.2 L216.2,282.2 L216.4,282.2 L216.6,282.2 L216.8,282.2 L217,282.2 L217.2,282.2 L217.4,282.2 L217.6,282.2 L217.8,282.2 L218,282.2 L218.2,282.2 L218.4,282.2 L218.6,282.2 L218.8,282.2 L219,282.2 L219.2,282.2 L219.4,282.2 L219.6,282.2 L219.8,282.2 L220,282.2 L220.2,282.2 L220.4,282.2 L220.6,282.2 L220.8,282.2 L221,282.2 L221.2,282.2 L221.4,282.2 L221.6,282.2 L221.8,282.2 L222,282.2 L222.2,282.2 L222.4,282.2 L222.6,282.2 L222.8,282.2 L222.8,282.2 Z" fill="#e2e07c" stroke="none" stroke-width="1" fill-opacity="0.8"/>
<path d="M143,282.2 L143,282.2 L143.2,282.2 L143.4,282.2 L143.6,282.2 L143.8,282.2 L144,282.2 L144.2,282.2 L144.4,282.2 L144.6,282.2 L144.8,282.2 L145,282.2 L145.2,282.2 L145.4,282.2 L145.6,282.2 L145.8,282.2 L146,282.2 L146.2,282.2 L146.4,282.2 L146.6,282.2 L146.8,282.2 L147,282.2 L147.2,282.2 L147.4,282.2 L147.6,282.2 L147.8,282.2 L148,282.2 L148.2,282.2 L148.4,282.2 L148.6,282.2 L148.8,282.2 L149,282.2 L149.2,282.2 L149.4,282.2 L149.6,282.2 L149.8,282.2 L150,282.2 L150.2,282.2 L150.4,282.2 L150.6,282.2 L150.8,282.2 L151,282.2 L151.2,282.2 L151.4,282.2 L151.6,282.2 L151.8,282.2 L152,282.2 L152.2,282.2 L152.4,282.2 L152.6,282.2 L152.8,282.2 L153,282.2 L153.2,282.2 L153.4,282.2 L153.6,282.2 L153.8,282.2 L154,282.2 L154.2,282.2 L154.4,282.2 L154.6,282.2 L154.8,282.2 L155,282.2 L155.2,282.2 L155.4,282.2 L155.6,282.2 L155.8,282.2 L156,282.2 L156.2,282.2 L156.4,282.2 L156.6,282.2 L156.8,282.2 L157,282.2 L157.2,282.2 L157.4,282.2 L157.6,282.2 L157.8,282.2 L158,282.2 L158.2,282.2 L158.4,282.2 L158.6,282.2 L158.8,282.2 L159,282.2 L159.2,282.2 L159.4,282.2 L159.6,282.2 L159.8,282.2 L160,282.2 L160.2,282.2 L160.4,282.2 L160.6,282.2 L160.8,282.2 L161,282.2 L161.2,282.2 L161.4,282.2 L161.6,282.2 L161.8,282.2 L162,282.2 L162.2,282.2 L162.4,282.2 L162.6,282.2 L162.8,282.2 L163,282.2 L163.2,282.2 L163.4,282.2 L163.6,282.2 L163.8,282.2 L164,282.2 L164.2,282.2 L164.4,282.2 L164.6,282.2 L164.8,282.2 L165,282.2 L165.2,282.2 L165.4,282.2 L165.6,282.2 L165.8,282.2 L166,282.2 L166.2,282.2 L166.4,282.2 L166.6,282.2 L166.8,282.2 L167,282.2 L167.2,282.2 L167.4,282.2 L167.6,282.2 L167.8,282.2 L168,282.2 L168.2,282.2 L168.4,282.2 L168.6,282.2 L168.8,282.2 L169,282.2 L169.2,282.2 L169.4,282.2 L169.6,282.2 L169.8,282.2 L170,282.2 L170.2,282.2 L170.4,282.2 L170.6,282.2 L170.8,282.2 L171,282.2 L171.2,282.2 L171.4,282.2 L171.6,282.2 L171.8,282.2 L172,282.2 L172.2,282.2 L172.4,282.2 L172.6,282.2 L172.8,282.2 L173,282.2 L173.2,282.2 L173.4,282.2 L173.6,282.2 L173.8,282.2 L174,282.2 L174.2,282.2 L174.4,282.2 L174.6,282.2 L174.8,282.2 L175,282.2 L175.2,282.2 L175.4,282.2 L175.6,282.2 L175.8,282.2 L176,282.2 L176.2,282.2 L176.4,282.2 L176.6,282.2 L176.8,282.2 L177,282.2 L177.2,282.2 L177.4,282.2 L177.6,282.2 L177.8,282.2 L178,282.2 L178.2,282.2 L178.4,282.2 L178.6,282.2 L178.8,282.2 L179,282.2 L179.2,282.2 L179.4,282.2 L179.6,282.2 L179.8,282.2 L180,282.2 L180.2,282.2 L180.4,282.2 L180.6,282.2 L180.8,282.2 L181,282.2 L181.2,282.2 L181.4,282.2 L181.6,282.2 L181.8,282.2 L182,282.2 L182.2,282.2 L182.4,282.2 L182.6,282.2 L182.8,282.2 L183,282.2 L183.2,282.2 L183.4,282.2 L183.6,282.2 L183.8,282.2 L184,282.2 L184.2,282.2 L184.4,282.2 L184.6,282.2 L184.8,282.2 L185,282.2 L185.2,282.2 L185.4,282.2 L185.6,282.2 L185.8,282.2 L186,282.2 L186.2,282.2 L186.4,282.2 L186.6,282.2 L186.8,282.2 L187,282.2 L187.2,282.2 L187.4,282.2 L187.6,282.2 L187.8,282.19 L188,282.19 L188.2,282.19 L188.4,282.19 L188.6,282.18 L188.8,282.18 L189,282.17 L189.2,282.17 L189.4,282.16 L189.6,282.15 L189.8,282.14 L190,282.12 L190.2,282.11 L190.4,282.09 L190.6,282.06 L190.8,282.03 L191,282 L191.2,281.96 L191.4,281.91 L191.6,281.86 L191.8,281.8 L192,281.73 L192.2,281.65 L192.4,281.56 L192.6,281.45 L192.8,281.34 L193,281.21 L193.2,281.06 L193.4,280.9 L193.6,280.73 L193.8,280.54 L194,280.33 L194.2,280.11 L194.4,279.86 L194.6,279.61 L194.8,279.33 L195,279.05 L195.2,278.75 L195.4,278.43 L195.6,278.11 L195.8,277.78 L196,277.44 L196.2,277.11 L196.4,276.77 L196.6,276.43 L196.8,276.1 L197,275.78 L197.2,275.47 L197.4,275.18 L197.6,274.91 L197.8,274.67 L198,274.45 L198.2,274.25 L198.4,274.09 L198.6,273.97 L198.8,273.87 L199,273.82 L199.2,273.8 L199.4,273.82 L199.6,273.87 L199.8,273.97 L200,274.09 L200.2,274.25 L200.4,274.45 L200.6,274.67 L200.8,274.91 L201,275.18 L201.2,275.47 L201.4,275.78 L201.6,276.1 L201.8,276.43 L202,276.77 L202.2,277.11 L202.4,277.44 L202.6,277.78 L202.8,278.11 L203,278.43 L203.2,278.75 L203.4,279.05 L203.6,279.33 L203.8,279.61 L204,279.86 L204.2,280.11 L204.4,280.33 L204.6,280.54 L204.8,280.73 L205,280.9 L205.2,281.06 L205.4,281.21 L205.6,281.34 L205.8,281.45 L206,281.56 L206.2,281.65 L206.4,281.73 L206.6,281.8 L206.8,281.86 L207,281.91 L207.2,281.96 L207.4,282 L207.6,282.03 L207.8,282.06 L208,282.09 L208.2,282.11 L208.4,282.12 L208.6,282.14 L208.8,282.15 L209,282.16 L209.2,282.17 L209.4,282.17 L209.6,282.18 L209.8,282.18 L210,282.19 L210.2,282.19 L210.4,282.19 L210.6,282.19 L210.8,282.2 L211,282.2 L211.2,282.2 L211.4,282.2 L211.6,282.2 L211.8,282.2 L212,282.2 L212.2,282.2 L212.4,282.2 L212.6,282.2 L212.8,282.2 L213,282.2 L213.2,282.2 L213.4,282.2 L213.6,282.2 L213.8,282.2 L214,282.2 L214.2,282.2 L214.4,282.2 L214.6,282.2 L214.8,282.2 L215,282.2 L215.2,282.2 L215.4,282.2 L215.6,282.2 L215.8,282.2 L216,282.2 L216.2,282.2 L216.4,282.2 L216.6,282.2 L216.8,282.2 L217,282.2 L217.2,282.2 L217.4,282.2 L217.6,282.2 L217.8,282.2 L218,282.2 L218.2,282.2 L218.4,282.2 L218.6,282.2 L218.8,282.2 L219,282.2 L219.2,282.2 L219.4,282.2 L219.6,282.2 L219.8,282.2 L220,282.2 L220.2,282.2 L220.4,282.2 L220.6,282.2 L220.8,282.2 L221,282.2 L221.2,282.2 L221.4,282.2 L221.6,282.2 L221.8,282.2 L222,282.2 L222.2,282.2 L222.4,282.2 L222.6,282.2 L222.8,282.2 L222.8,282.2 Z" fill="#84d070" stroke="none" stroke-width="1" fill-opacity="0.8"/>
<path d="M143,282.2 L143,282.2 L143.2,282.2 L143.4,282.2 L143.6,282.2 L143.8,282.2 L144,282.2 L144.2,282.2 L144.4,282.2 L144.6,282.2 L144.8,282.2 L145,282.2 L145.2,282.2 L145.4,282.2 L145.6,282.2 L145.8,282.2 L146,282.2 L146.2,282.2 L146.4,282.2 L146.6,282.2 L146.8,282.2 L147,282.2 L147.2,282.2 L147.4,282.2 L147.6,282.2 L147.8,282.2 L148,282.2 L148.2,282.2 L148.4,282.2 L148.6,282.2 L148.8,282.2 L149,282.2 L149.2,282.2 L149.4,282.2 L149.6,282.2 L149.8,282.2 L150,282.2 L150.2,282.2 L150.4,282.2 L150.6,282.2 L150.8,282.2 L151,282.2 L151.2,282.2 L151.4,282.2 L151.6,282.2 L151.8,282.2 L152,282.2 L152.2,282.2 L152.4,282.2 L152.6,282.2 L152.8,282.2 L153,282.2 L153.2,282.2 L153.4,282.2 L153.6,282.2 L153.8,282.2 L154,282.2 L154.2,282.2 L154.4,282.2 L154.6,282.2 L154.8,282.2 L155,282.2 L155.2,282.2 L155.4,282.2 L155.6,282.2 L155.8,282.2 L156,282.2 L156.2,282.2 L156.4,282.2 L156.6,282.2 L156.8,282.2 L157,282.2 L157.2,282.2 L157.4,282.2 L157.6,282.2 L157.8,282.2 L158,282.2 L158.2,282.2 L158.4,282.2 L158.6,282.2 L158.8,282.2 L159,282.2 L159.2,282.2 L159.4,282.2 L159.6,282.2 L159.8,282.2 L160,282.2 L160.2,282.2 L160.4,282.2 L160.6,282.2 L160.8,282.2 L161,282.2 L161.2,282.2 L161.4,282.2 L161.6,282.2 L161.8,282.2 L162,282.2 L162.2,282.2 L162.4,282.2 L162.6,282.2 L162.8,282.2 L163,282.2 L163.2,282.2 L163.4,282.2 L163.6,282.2 L163.8,282.2 L164,282.2 L164.2,282.2 L164.4,282.2 L164.6,282.2 L164.8,282.2 L165,282.2 L165.2,282.19 L165.4,282.19 L165.6,282.19 L165.8,282.18 L166,282.16 L166.2,282.14 L166.4,282.11 L166.6,282.06 L166.8,281.99 L167,281.89 L167.2,281.75 L167.4,281.55 L167.6,281.28 L167.8,280.91 L168,280.41 L168.2,279.76 L168.4,278.92 L168.6,277.84 L168.8,276.49 L169,274.82 L169.2,272.8 L169.4,270.39 L169.6,267.56 L169.8,264.3 L170,260.63 L170.2,256.55 L170.4,252.13 L170.6,247.42 L170.8,242.54 L171,237.58 L171.2,232.7 L171.4,228.05 L171.6,223.76 L171.8,220.01 L172,216.92 L172.2,214.62 L172.4,213.2 L172.6,212.72 L172.8,213.2 L173,214.62 L173.2,216.92 L173.4,220.01 L173.6,223.76 L173.8,228.05 L174,232.7 L174.2,237.58 L174.4,242.54 L174.6,247.42 L174.8,252.13 L175,256.55 L175.2,260.63 L175.4,264.3 L175.6,267.56 L175.8,270.39 L176,272.8 L176.2,274.82 L176.4,276.49 L176.6,277.84 L176.8,278.92 L177,279.76 L177.2,280.41 L177.4,280.91 L177.6,281.28 L177.8,281.55 L178,281.75 L178.2,281.89 L178.4,281.99 L178.6,282.06 L178.8,282.11 L179,282.14 L179.2,282.16 L179.4,282.18 L179.6,282.19 L179.8,282.19 L180,282.19 L180.2,282.2 L180.4,282.2 L180.6,282.2 L180.8,282.2 L181,282.2 L181.2,282.2 L181.4,282.2 L181.6,282.2 L181.8,282.2 L182,282.2 L182.2,282.2 L182.4,282.2 L182.6,282.2 L182.8,282.2 L183,282.2 L183.2,282.2 L183.4,282.2 L183.6,282.2 L183.8,282.2 L184,282.2 L184.2,282.2 L184.4,282.2 L184.6,282.2 L184.8,282.2 L185,282.2 L185.2,282.2 L185.4,282.2 L185.6,282.2 L185.8,282.2 L186,282.2 L186.2,282.2 L186.4,282.2 L186.6,282.2 L186.8,282.2 L187,282.2 L187.2,282.2 L187.4,282.2 L187.6,282.2 L187.8,282.2 L188,282.2 L188.2,282.2 L188.4,282.2 L188.6,282.2 L188.8,282.2 L189,282.2 L189.2,282.2 L189.4,282.2 L189.6,282.2 L189.8,282.2 L190,282.2 L190.2,282.2 L190.4,282.2 L190.6,282.2 L190.8,282.2 L191,282.2 L191.2,282.2 L191.4,282.2 L191.6,282.2 L191.8,282.2 L192,282.2 L192.2,282.2 L192.4,282.2 L192.6,282.2 L192.8,282.2 L193,282.2 L193.2,282.2 L193.4,282.2 L193.6,282.2 L193.8,282.2 L194,282.2 L194.2,282.2 L194.4,282.2 L194.6,282.2 L194.8,282.2 L195,282.2 L195.2,282.2 L195.4,282.2 L195.6,282.2 L195.8,282.2 L196,282.2 L196.2,282.2 L196.4,282.2 L196.6,282.2 L196.8,282.2 L197,282.2 L197.2,282.2 L197.4,282.2 L197.6,282.2 L197.8,282.2 L198,282.2 L198.2,282.2 L198.4,282.2 L198.6,282.2 L198.8,282.2 L199,282.2 L199.2,282.2 L199.4,282.2 L199.6,282.2 L199.8,282.2 L200,282.2 L200.2,282.2 L200.4,282.2 L200.6,282.2 L200.8,282.2 L201,282.2 L201.2,282.2 L201.4,282.2 L201.6,282.2 L201.8,282.2 L202,282.2 L202.2,282.2 L202.4,282.2 L202.6,282.2 L202.8,282.2 L203,282.2 L203.2,282.2 L203.4,282.2 L203.6,282.2 L203.8,282.2 L204,282.2 L204.2,282.2 L204.4,282.2 L204.6,282.2 L204.8,282.2 L205,282.2 L205.2,282.2 L205.4,282.2 L205.6,282.2 L205.8,282.2 L206,282.2 L206.2,282.2 L206.4,282.2 L206.6,282.2 L206.8,282.2 L207,282.2 L207.2,282.2 L207.4,282.2 L207.6,282.2 L207.8,282.2 L208,282.2 L208.2,282.2 L208.4,282.2 L208.6,282.2 L208.8,282.2 L209,282.2 L209.2,282.2 L209.4,282.2 L209.6,282.2 L209.8,282.2 L210,282.2 L210.2,282.2 L210.4,282.2 L210.6,282.2 L210.8,282.2 L211,282.2 L211.2,282.2 L211.4,282.2 L211.6,282.2 L211.8,282.2 L212,282.2 L212.2,282.2 L212.4,282.2 L212.6,282.2 L212.8,282.2 L213,282.2 L213.2,282.2 L213.4,282.2 L213.6,282.2 L213.8,282.2 L214,282.2 L214.2,282.2 L214.4,282.2 L214.6,282.2 L214.8,282.2 L215,282.2 L215.2,282.2 L215.4,282.2 L215.6,282.2 L215.8,282.2 L216,282.2 L216.2,282.2 L216.4,282.2 L216.6,282.2 L216.8,282.2 L217,282.2 L217.2,282.2 L217.4,282.2 L217.6,282.2 L217.8,282.2 L218,282.2 L218.2,282.2 L218.4,282.2 L218.6,282.2 L218.8,282.2 L219,282.2 L219.2,282.2 L219.4,282.2 L219.6,282.2 L219.8,282.2 L220,282.2 L220.2,282.2 L220.4,282.2 L220.6,282.2 L220.8,282.2 L221,282.2 L221.2,282.2 L221.4,282.2 L221.6,282.2 L221.8,282.2 L222,282.2 L222.2,282.2 L222.4,282.2 L222.6,282.2 L222.8,282.2 L222.8,282.2 Z" fill="#8f92e2" stroke="none" stroke-width="1" fill-opacity="0.85"/>
<path d="M143,282.2 L143.2,282.2 L143.4,282.2 L143.6,282.2 L143.8,282.2 L144,282.2 L144.2,282.2 L144.4,282.2 L144.6,282.2 L144.8,282.2 L145,282.2 L145.2,282.2 L145.4,282.2 L145.6,282.2 L145.8,282.2 L146,282.2 L146.2,282.2 L146.4,282.2 L146.6,282.2 L146.8,282.2 L147,282.2 L147.2,282.2 L147.4,282.2 L147.6,282.2 L147.8,282.2 L148,282.2 L148.2,282.2 L148.4,282.2 L148.6,282.2 L148.8,282.2 L149,282.2 L149.2,282.2 L149.4,282.2 L149.6,282.2 L149.8,282.2 L150,282.2 L150.2,282.2 L150.4,282.2 L150.6,282.2 L150.8,282.2 L151,282.2 L151.2,282.2 L151.4,282.2 L151.6,282.2 L151.8,282.2 L152,282.2 L152.2,282.2 L152.4,282.2 L152.6,282.2 L152.8,282.2 L153,282.2 L153.2,282.2 L153.4,282.2 L153.6,282.2 L153.8,282.2 L154,282.2 L154.2,282.2 L154.4,282.2 L154.6,282.2 L154.8,282.2 L155,282.2 L155.2,282.2 L155.4,282.2 L155.6,282.2 L155.8,282.2 L156,282.2 L156.2,282.2 L156.4,282.2 L156.6,282.2 L156.8,282.2 L157,282.2 L157.2,282.2 L157.4,282.2 L157.6,282.2 L157.8,282.2 L158,282.2 L158.2,282.2 L158.4,282.2 L158.6,282.2 L158.8,282.2 L159,282.2 L159.2,282.2 L159.4,282.2 L159.6,282.2 L159.8,282.2 L160,282.2 L160.2,282.2 L160.4,282.2 L160.6,282.2 L160.8,282.2 L161,282.2 L161.2,282.2 L161.4,282.2 L161.6,282.2 L161.8,282.2 L162,282.2 L162.2,282.2 L162.4,282.2 L162.6,282.2 L162.8,282.2 L163,282.2 L163.2,282.2 L163.4,282.2 L163.6,282.2 L163.8,282.2 L164,282.2 L164.2,282.2 L164.4,282.2 L164.6,282.2 L164.8,282.2 L165,282.2 L165.2,282.19 L165.4,282.19 L165.6,282.19 L165.8,282.18 L166,282.16 L166.2,282.14 L166.4,282.11 L166.6,282.06 L166.8,281.99 L167,281.89 L167.2,281.75 L167.4,281.55 L167.6,281.28 L167.8,280.9 L168,280.41 L168.2,279.75 L168.4,278.9 L168.6,277.81 L168.8,276.45 L169,274.77 L169.2,272.73 L169.4,270.3 L169.6,267.44 L169.8,264.14 L170,260.42 L170.2,256.28 L170.4,251.77 L170.6,246.97 L170.8,241.97 L171,236.88 L171.2,231.84 L171.4,226.99 L171.6,222.49 L171.8,218.5 L172,215.14 L172.2,212.55 L172.4,210.82 L172.6,210 L172.8,210.14 L173,211.2 L173.2,213.14 L173.4,215.87 L173.6,219.26 L173.8,223.2 L174,227.53 L174.2,232.1 L174.4,236.75 L174.6,241.37 L174.8,245.84 L175,250.05 L175.2,253.94 L175.4,257.45 L175.6,260.57 L175.8,263.29 L176,265.62 L176.2,267.58 L176.4,269.19 L176.6,270.51 L176.8,271.57 L177,272.41 L177.2,273.06 L177.4,273.57 L177.6,273.95 L177.8,274.25 L178,274.47 L178.2,274.64 L178.4,274.76 L178.6,274.86 L178.8,274.94 L179,275 L179.2,275.06 L179.4,275.1 L179.6,275.14 L179.8,275.18 L180,275.22 L180.2,275.25 L180.4,275.29 L180.6,275.32 L180.8,275.36 L181,275.39 L181.2,275.42 L181.4,275.46 L181.6,275.49 L181.8,275.52 L182,275.55 L182.2,275.59 L182.4,275.62 L182.6,275.65 L182.8,275.69 L183,275.72 L183.2,275.75 L183.4,275.79 L183.6,275.82 L183.8,275.85 L184,275.89 L184.2,275.92 L184.4,275.95 L184.6,275.98 L184.8,276.02 L185,276.05 L185.2,276.08 L185.4,276.12 L185.6,276.15 L185.8,276.18 L186,276.22 L186.2,276.25 L186.4,276.28 L186.6,276.31 L186.8,276.35 L187,276.38 L187.2,276.41 L187.4,276.44 L187.6,276.48 L187.8,276.51 L188,276.54 L188.2,276.57 L188.4,276.6 L188.6,276.63 L188.8,276.66 L189,276.69 L189.2,276.72 L189.4,276.74 L189.6,276.77 L189.8,276.79 L190,276.81 L190.2,276.83 L190.4,276.84 L190.6,276.85 L190.8,276.86 L191,276.86 L191.2,276.86 L191.4,276.85 L191.6,276.83 L191.8,276.81 L192,276.78 L192.2,276.74 L192.4,276.69 L192.6,276.63 L192.8,276.56 L193,276.48 L193.2,276.38 L193.4,276.27 L193.6,276.15 L193.8,276.01 L194,275.86 L194.2,275.7 L194.4,275.52 L194.6,275.33 L194.8,275.13 L195,274.92 L195.2,274.69 L195.4,274.46 L195.6,274.22 L195.8,273.98 L196,273.73 L196.2,273.49 L196.4,273.25 L196.6,273.02 L196.8,272.79 L197,272.58 L197.2,272.39 L197.4,272.21 L197.6,272.06 L197.8,271.93 L198,271.83 L198.2,271.75 L198.4,271.71 L198.6,271.71 L198.8,271.74 L199,271.8 L199.2,271.9 L199.4,272.02 L199.6,272.18 L199.8,272.37 L200,272.6 L200.2,272.85 L200.4,273.14 L200.6,273.45 L200.8,273.79 L201,274.15 L201.2,274.52 L201.4,274.9 L201.6,275.3 L201.8,275.7 L202,276.1 L202.2,276.51 L202.4,276.9 L202.6,277.3 L202.8,277.68 L203,278.05 L203.2,278.4 L203.4,278.74 L203.6,279.07 L203.8,279.37 L204,279.66 L204.2,279.93 L204.4,280.17 L204.6,280.4 L204.8,280.61 L205,280.8 L205.2,280.98 L205.4,281.13 L205.6,281.28 L205.8,281.4 L206,281.51 L206.2,281.61 L206.4,281.7 L206.6,281.77 L206.8,281.84 L207,281.9 L207.2,281.95 L207.4,281.99 L207.6,282.02 L207.8,282.05 L208,282.08 L208.2,282.1 L208.4,282.12 L208.6,282.13 L208.8,282.15 L209,282.16 L209.2,282.17 L209.4,282.17 L209.6,282.18 L209.8,282.18 L210,282.19 L210.2,282.19 L210.4,282.19 L210.6,282.19 L210.8,282.2 L211,282.2 L211.2,282.2 L211.4,282.2 L211.6,282.2 L211.8,282.2 L212,282.2 L212.2,282.2 L212.4,282.2 L212.6,282.2 L212.8,282.2 L213,282.2 L213.2,282.2 L213.4,282.2 L213.6,282.2 L213.8,282.2 L214,282.2 L214.2,282.2 L214.4,282.2 L214.6,282.2 L214.8,282.2 L215,282.2 L215.2,282.2 L215.4,282.2 L215.6,282.2 L215.8,282.2 L216,282.2 L216.2,282.2 L216.4,282.2 L216.6,282.2 L216.8,282.2 L217,282.2 L217.2,282.2 L217.4,282.2 L217.6,282.2 L217.8,282.2 L218,282.2 L218.2,282.2 L218.4,282.2 L218.6,282.2 L218.8,282.2 L219,282.2 L219.2,282.2 L219.4,282.2 L219.6,282.2 L219.8,282.2 L220,282.2 L220.2,282.2 L220.4,282.2 L220.6,282.2 L220.8,282.2 L221,282.2 L221.2,282.2 L221.4,282.2 L221.6,282.2 L221.8,282.2 L222,282.2 L222.2,282.2 L222.4,282.2 L222.6,282.2 L222.8,282.2" fill="none" stroke="#c93fa6" stroke-width="1" stroke-linejoin="round"/>
<path d="M143,281.9 L143.2,281.9 L143.4,281.9 L143.6,281.9 L143.8,281.9 L144,281.9 L144.2,281.9 L144.4,281.9 L144.6,281.9 L144.8,281.9 L145,281.9 L145.2,281.9 L145.4,281.9 L145.6,281.9 L145.8,281.9 L146,281.9 L146.2,281.9 L146.4,281.9 L146.6,281.9 L146.8,281.9 L147,281.9 L147.2,281.9 L147.4,281.9 L147.6,281.9 L147.8,281.9 L148,281.9 L148.2,281.9 L148.4,281.9 L148.6,281.9 L148.8,281.9 L149,281.9 L149.2,281.9 L149.4,281.9 L149.6,281.9 L149.8,281.9 L150,281.9 L150.2,281.9 L150.4,281.9 L150.6,281.9 L150.8,281.9 L151,281.9 L151.2,281.9 L151.4,281.9 L151.6,281.9 L151.8,281.9 L152,281.9 L152.2,281.9 L152.4,281.9 L152.6,281.9 L152.8,281.9 L153,281.9 L153.2,281.9 L153.4,281.9 L153.6,281.9 L153.8,281.9 L154,281.9 L154.2,281.9 L154.4,281.9 L154.6,281.9 L154.8,281.9 L155,281.9 L155.2,281.9 L155.4,281.9 L155.6,281.9 L155.8,281.9 L156,281.9 L156.2,281.9 L156.4,281.9 L156.6,281.9 L156.8,281.9 L157,281.9 L157.2,281.9 L157.4,281.9 L157.6,281.9 L157.8,281.9 L158,281.9 L158.2,281.9 L158.4,281.9 L158.6,281.9 L158.8,281.9 L159,281.9 L159.2,281.9 L159.4,281.9 L159.6,281.9 L159.8,281.9 L160,281.9 L160.2,281.9 L160.4,281.9 L160.6,281.9 L160.8,281.9 L161,281.9 L161.2,281.9 L161.4,281.9 L161.6,281.9 L161.8,281.9 L162,281.9 L162.2,281.9 L162.4,281.9 L162.6,281.9 L162.8,281.9 L163,281.9 L163.2,281.9 L163.4,281.9 L163.6,281.9 L163.8,281.9 L164,281.9 L164.2,281.9 L164.4,281.9 L164.6,281.9 L164.8,281.9 L165,281.9 L165.2,281.89 L165.4,281.89 L165.6,281.89 L165.8,281.88 L166,281.86 L166.2,281.84 L166.4,281.81 L166.6,281.76 L166.8,281.69 L167,281.59 L167.2,281.45 L167.4,281.25 L167.6,280.98 L167.8,280.6 L168,280.11 L168.2,279.45 L168.4,278.6 L168.6,277.51 L168.8,276.15 L169,274.47 L169.2,272.43 L169.4,270 L169.6,267.14 L169.8,263.84 L170,260.12 L170.2,255.98 L170.4,251.47 L170.6,246.67 L170.8,241.67 L171,236.58 L171.2,231.54 L171.4,226.69 L171.6,222.19 L171.8,218.2 L172,214.84 L172.2,212.25 L172.4,210.52 L172.6,209.7 L172.8,209.84 L173,210.9 L173.2,212.84 L173.4,215.57 L173.6,218.96 L173.8,222.9 L174,227.23 L174.2,231.8 L174.4,236.45 L174.6,241.07 L174.8,245.54 L175,249.75 L175.2,253.64 L175.4,257.15 L175.6,260.27 L175.8,262.99 L176,265.32 L176.2,267.28 L176.4,268.89 L176.6,270.21 L176.8,271.27 L177,272.11 L177.2,272.76 L177.4,273.27 L177.6,273.65 L177.8,273.95 L178,274.17 L178.2,274.34 L178.4,274.46 L178.6,274.56 L178.8,274.64 L179,274.7 L179.2,274.76 L179.4,274.8 L179.6,274.84 L179.8,274.88 L180,274.92 L180.2,274.95 L180.4,274.99 L180.6,275.02 L180.8,275.06 L181,275.09 L181.2,275.12 L181.4,275.16 L181.6,275.19 L181.8,275.22 L182,275.25 L182.2,275.29 L182.4,275.32 L182.6,275.35 L182.8,275.39 L183,275.42 L183.2,275.45 L183.4,275.49 L183.6,275.52 L183.8,275.55 L184,275.59 L184.2,275.62 L184.4,275.65 L184.6,275.68 L184.8,275.72 L185,275.75 L185.2,275.78 L185.4,275.82 L185.6,275.85 L185.8,275.88 L186,275.92 L186.2,275.95 L186.4,275.98 L186.6,276.01 L186.8,276.05 L187,276.08 L187.2,276.11 L187.4,276.14 L187.6,276.18 L187.8,276.21 L188,276.24 L188.2,276.27 L188.4,276.3 L188.6,276.33 L188.8,276.36 L189,276.39 L189.2,276.42 L189.4,276.44 L189.6,276.47 L189.8,276.49 L190,276.51 L190.2,276.53 L190.4,276.54 L190.6,276.55 L190.8,276.56 L191,276.56 L191.2,276.56 L191.4,276.55 L191.6,276.53 L191.8,276.51 L192,276.48 L192.2,276.44 L192.4,276.39 L192.6,276.33 L192.8,276.26 L193,276.18 L193.2,276.08 L193.4,275.97 L193.6,275.85 L193.8,275.71 L194,275.56 L194.2,275.4 L194.4,275.22 L194.6,275.03 L194.8,274.83 L195,274.62 L195.2,274.39 L195.4,274.16 L195.6,273.92 L195.8,273.68 L196,273.43 L196.2,273.19 L196.4,272.95 L196.6,272.72 L196.8,272.49 L197,272.28 L197.2,272.09 L197.4,271.91 L197.6,271.76 L197.8,271.63 L198,271.53 L198.2,271.45 L198.4,271.41 L198.6,271.41 L198.8,271.44 L199,271.5 L199.2,271.6 L199.4,271.72 L199.6,271.88 L199.8,272.07 L200,272.3 L200.2,272.55 L200.4,272.84 L200.6,273.15 L200.8,273.49 L201,273.85 L201.2,274.22 L201.4,274.6 L201.6,275 L201.8,275.4 L202,275.8 L202.2,276.21 L202.4,276.6 L202.6,277 L202.8,277.38 L203,277.75 L203.2,278.1 L203.4,278.44 L203.6,278.77 L203.8,279.07 L204,279.36 L204.2,279.63 L204.4,279.87 L204.6,280.1 L204.8,280.31 L205,280.5 L205.2,280.68 L205.4,280.83 L205.6,280.98 L205.8,281.1 L206,281.21 L206.2,281.31 L206.4,281.4 L206.6,281.47 L206.8,281.54 L207,281.6 L207.2,281.65 L207.4,281.69 L207.6,281.72 L207.8,281.75 L208,281.78 L208.2,281.8 L208.4,281.82 L208.6,281.83 L208.8,281.85 L209,281.86 L209.2,281.87 L209.4,281.87 L209.6,281.88 L209.8,281.88 L210,281.89 L210.2,281.89 L210.4,281.89 L210.6,281.89 L210.8,281.9 L211,281.9 L211.2,281.9 L211.4,281.9 L211.6,281.9 L211.8,281.9 L212,281.9 L212.2,281.9 L212.4,281.9 L212.6,281.9 L212.8,281.9 L213,281.9 L213.2,281.9 L213.4,281.9 L213.6,281.9 L213.8,281.9 L214,281.9 L214.2,281.9 L214.4,281.9 L214.6,281.9 L214.8,281.9 L215,281.9 L215.2,281.9 L215.4,281.9 L215.6,281.9 L215.8,281.9 L216,281.9 L216.2,281.9 L216.4,281.9 L216.6,281.9 L216.8,281.9 L217,281.9 L217.2,281.9 L217.4,281.9 L217.6,281.9 L217.8,281.9 L218,281.9 L218.2,281.9 L218.4,281.9 L218.6,281.9 L218.8,281.9 L219,281.9 L219.2,281.9 L219.4,281.9 L219.6,281.9 L219.8,281.9 L220,281.9 L220.2,281.9 L220.4,281.9 L220.6,281.9 L220.8,281.9 L221,281.9 L221.2,281.9 L221.4,281.9 L221.6,281.9 L221.8,281.9 L222,281.9 L222.2,281.9 L222.4,281.9 L222.6,281.9 L222.8,281.9" fill="none" stroke="#333" stroke-width="0.35" stroke-linejoin="round"/>
<rect x="184.5" y="205.2" width="7.9" height="2.4" fill="#a88ad8" stroke="none" stroke-width="1"/>
<text x="195.6" y="208.4" font-size="5.75" fill="#2a2a2a">%G1:52.0</text>
<rect x="184.5" y="211.9" width="7.9" height="2.4" fill="#e4e44e" stroke="none" stroke-width="1"/>
<text x="195.6" y="215.1" font-size="5.75" fill="#2a2a2a">%S:31.0</text>
<rect x="184.5" y="218.6" width="7.9" height="2.4" fill="#8acd70" stroke="none" stroke-width="1"/>
<text x="195.6" y="221.8" font-size="5.75" fill="#2a2a2a">%G2:18.2</text>
<rect x="43.3" y="294.4" width="80.9" height="80.4" fill="#fff" stroke="#555" stroke-width="0.7"/>
<line x1="41.7" y1="311.7" x2="43.3" y2="311.7" stroke="#444" stroke-width="0.5"/>
<text x="40.7" y="313" font-size="3.7" text-anchor="end" fill="#555">600</text>
<line x1="41.7" y1="332.8" x2="43.3" y2="332.8" stroke="#444" stroke-width="0.5"/>
<text x="40.7" y="334.1" font-size="3.7" text-anchor="end" fill="#555">400</text>
<line x1="41.7" y1="353.6" x2="43.3" y2="353.6" stroke="#444" stroke-width="0.5"/>
<text x="40.7" y="354.9" font-size="3.7" text-anchor="end" fill="#555">200</text>
<line x1="41.7" y1="374.4" x2="43.3" y2="374.4" stroke="#444" stroke-width="0.5"/>
<text x="40.7" y="375.7" font-size="3.7" text-anchor="end" fill="#555">0</text>
<line x1="43.6" y1="374.8" x2="43.6" y2="376.4" stroke="#444" stroke-width="0.5"/>
<text x="43.6" y="381.1" font-size="3.7" text-anchor="middle" fill="#555">0</text>
<line x1="58.3" y1="374.8" x2="58.3" y2="376.4" stroke="#444" stroke-width="0.5"/>
<text x="58.3" y="381.1" font-size="3.7" text-anchor="middle" fill="#555">2.0M</text>
<line x1="74.5" y1="374.8" x2="74.5" y2="376.4" stroke="#444" stroke-width="0.5"/>
<text x="74.5" y="381.1" font-size="3.7" text-anchor="middle" fill="#555">4.0M</text>
<line x1="90.3" y1="374.8" x2="90.3" y2="376.4" stroke="#444" stroke-width="0.5"/>
<text x="90.3" y="381.1" font-size="3.7" text-anchor="middle" fill="#555">6.0M</text>
<line x1="106" y1="374.8" x2="106" y2="376.4" stroke="#444" stroke-width="0.5"/>
<text x="106" y="381.1" font-size="3.7" text-anchor="middle" fill="#555">8.0M</text>
<line x1="121.7" y1="374.8" x2="121.7" y2="376.4" stroke="#444" stroke-width="0.5"/>
<text x="121.7" y="381.1" font-size="3.7" text-anchor="middle" fill="#555">10.0M</text>
<path d="M43.9,374.5 L43.9,374.5 L44.1,374.5 L44.3,374.5 L44.5,374.5 L44.7,374.5 L44.9,374.5 L45.1,374.5 L45.3,374.5 L45.5,374.5 L45.7,374.5 L45.9,374.5 L46.1,374.5 L46.3,374.5 L46.5,374.5 L46.7,374.5 L46.9,374.5 L47.1,374.5 L47.3,374.5 L47.5,374.5 L47.7,374.5 L47.9,374.5 L48.1,374.5 L48.3,374.5 L48.5,374.5 L48.7,374.5 L48.9,374.5 L49.1,374.5 L49.3,374.5 L49.5,374.5 L49.7,374.5 L49.9,374.5 L50.1,374.5 L50.3,374.5 L50.5,374.5 L50.7,374.5 L50.9,374.5 L51.1,374.5 L51.3,374.5 L51.5,374.5 L51.7,374.5 L51.9,374.5 L52.1,374.5 L52.3,374.5 L52.5,374.5 L52.7,374.5 L52.9,374.5 L53.1,374.5 L53.3,374.5 L53.5,374.5 L53.7,374.5 L53.9,374.5 L54.1,374.5 L54.3,374.5 L54.5,374.5 L54.7,374.5 L54.9,374.5 L55.1,374.5 L55.3,374.5 L55.5,374.5 L55.7,374.5 L55.9,374.5 L56.1,374.5 L56.3,374.5 L56.5,374.5 L56.7,374.5 L56.9,374.5 L57.1,374.5 L57.3,374.5 L57.5,374.5 L57.7,374.5 L57.9,374.5 L58.1,374.5 L58.3,374.5 L58.5,374.5 L58.7,374.5 L58.9,374.5 L59.1,374.5 L59.3,374.5 L59.5,374.5 L59.7,374.5 L59.9,374.5 L60.1,374.5 L60.3,374.5 L60.5,374.5 L60.7,374.5 L60.9,374.5 L61.1,374.5 L61.3,374.5 L61.5,374.5 L61.7,374.5 L61.9,374.5 L62.1,374.5 L62.3,374.5 L62.5,374.49 L62.7,374.49 L62.9,374.49 L63.1,374.48 L63.3,374.47 L63.5,374.46 L63.7,374.44 L63.9,374.42 L64.1,374.38 L64.3,374.34 L64.5,374.27 L64.7,374.2 L64.9,374.09 L65.1,373.96 L65.3,373.8 L65.5,373.61 L65.7,373.37 L65.9,373.09 L66.1,372.75 L66.3,372.37 L66.5,371.93 L66.7,371.43 L66.9,370.88 L67.1,370.28 L67.3,369.63 L67.5,368.97 L67.7,368.28 L67.9,367.58 L68.1,366.86 L68.3,366.16 L68.5,365.47 L68.7,364.81 L68.9,364.18 L69.1,363.6 L69.3,363.06 L69.5,362.58 L69.7,362.15 L69.9,361.78 L70.1,361.46 L70.3,361.2 L70.5,360.98 L70.7,360.81 L70.9,360.68 L71.1,360.59 L71.3,360.52 L71.5,360.49 L71.7,360.47 L71.9,360.47 L72.1,360.48 L72.3,360.51 L72.5,360.54 L72.7,360.59 L72.9,360.63 L73.1,360.68 L73.3,360.73 L73.5,360.79 L73.7,360.84 L73.9,360.9 L74.1,360.96 L74.3,361.01 L74.5,361.07 L74.7,361.13 L74.9,361.19 L75.1,361.25 L75.3,361.31 L75.5,361.38 L75.7,361.44 L75.9,361.51 L76.1,361.57 L76.3,361.64 L76.5,361.72 L76.7,361.79 L76.9,361.87 L77.1,361.96 L77.3,362.05 L77.5,362.14 L77.7,362.24 L77.9,362.35 L78.1,362.46 L78.3,362.59 L78.5,362.72 L78.7,362.87 L78.9,363.02 L79.1,363.19 L79.3,363.37 L79.5,363.57 L79.7,363.77 L79.9,364 L80.1,364.23 L80.3,364.49 L80.5,364.75 L80.7,365.03 L80.9,365.33 L81.1,365.64 L81.3,365.96 L81.5,366.29 L81.7,366.64 L81.9,366.99 L82.1,367.35 L82.3,367.71 L82.5,368.08 L82.7,368.45 L82.9,368.82 L83.1,369.17 L83.3,369.51 L83.5,369.84 L83.7,370.17 L83.9,370.49 L84.1,370.8 L84.3,371.11 L84.5,371.4 L84.7,371.68 L84.9,371.94 L85.1,372.19 L85.3,372.43 L85.5,372.65 L85.7,372.86 L85.9,373.04 L86.1,373.22 L86.3,373.38 L86.5,373.52 L86.7,373.65 L86.9,373.77 L87.1,373.87 L87.3,373.96 L87.5,374.04 L87.7,374.11 L87.9,374.17 L88.1,374.23 L88.3,374.27 L88.5,374.31 L88.7,374.34 L88.9,374.37 L89.1,374.4 L89.3,374.42 L89.5,374.43 L89.7,374.45 L89.9,374.46 L90.1,374.47 L90.3,374.47 L90.5,374.48 L90.7,374.48 L90.9,374.49 L91.1,374.49 L91.3,374.49 L91.5,374.49 L91.7,374.5 L91.9,374.5 L92.1,374.5 L92.3,374.5 L92.5,374.5 L92.7,374.5 L92.9,374.5 L93.1,374.5 L93.3,374.5 L93.5,374.5 L93.7,374.5 L93.9,374.5 L94.1,374.5 L94.3,374.5 L94.5,374.5 L94.7,374.5 L94.9,374.5 L95.1,374.5 L95.3,374.5 L95.5,374.5 L95.7,374.5 L95.9,374.5 L96.1,374.5 L96.3,374.5 L96.5,374.5 L96.7,374.5 L96.9,374.5 L97.1,374.5 L97.3,374.5 L97.5,374.5 L97.7,374.5 L97.9,374.5 L98.1,374.5 L98.3,374.5 L98.5,374.5 L98.7,374.5 L98.9,374.5 L99.1,374.5 L99.3,374.5 L99.5,374.5 L99.7,374.5 L99.9,374.5 L100.1,374.5 L100.3,374.5 L100.5,374.5 L100.7,374.5 L100.9,374.5 L101.1,374.5 L101.3,374.5 L101.5,374.5 L101.7,374.5 L101.9,374.5 L102.1,374.5 L102.3,374.5 L102.5,374.5 L102.7,374.5 L102.9,374.5 L103.1,374.5 L103.3,374.5 L103.5,374.5 L103.7,374.5 L103.9,374.5 L104.1,374.5 L104.3,374.5 L104.5,374.5 L104.7,374.5 L104.9,374.5 L105.1,374.5 L105.3,374.5 L105.5,374.5 L105.7,374.5 L105.9,374.5 L106.1,374.5 L106.3,374.5 L106.5,374.5 L106.7,374.5 L106.9,374.5 L107.1,374.5 L107.3,374.5 L107.5,374.5 L107.7,374.5 L107.9,374.5 L108.1,374.5 L108.3,374.5 L108.5,374.5 L108.7,374.5 L108.9,374.5 L109.1,374.5 L109.3,374.5 L109.5,374.5 L109.7,374.5 L109.9,374.5 L110.1,374.5 L110.3,374.5 L110.5,374.5 L110.7,374.5 L110.9,374.5 L111.1,374.5 L111.3,374.5 L111.5,374.5 L111.7,374.5 L111.9,374.5 L112.1,374.5 L112.3,374.5 L112.5,374.5 L112.7,374.5 L112.9,374.5 L113.1,374.5 L113.3,374.5 L113.5,374.5 L113.7,374.5 L113.9,374.5 L114.1,374.5 L114.3,374.5 L114.5,374.5 L114.7,374.5 L114.9,374.5 L115.1,374.5 L115.3,374.5 L115.5,374.5 L115.7,374.5 L115.9,374.5 L116.1,374.5 L116.3,374.5 L116.5,374.5 L116.7,374.5 L116.9,374.5 L117.1,374.5 L117.3,374.5 L117.5,374.5 L117.7,374.5 L117.9,374.5 L118.1,374.5 L118.3,374.5 L118.5,374.5 L118.7,374.5 L118.9,374.5 L119.1,374.5 L119.3,374.5 L119.5,374.5 L119.7,374.5 L119.9,374.5 L120.1,374.5 L120.3,374.5 L120.5,374.5 L120.7,374.5 L120.9,374.5 L121.1,374.5 L121.3,374.5 L121.5,374.5 L121.7,374.5 L121.9,374.5 L122.1,374.5 L122.3,374.5 L122.5,374.5 L122.7,374.5 L122.9,374.5 L123.1,374.5 L123.3,374.5 L123.5,374.5 L123.5,374.5 Z" fill="#e2e07c" stroke="none" stroke-width="1" fill-opacity="0.8"/>
<path d="M43.9,374.5 L43.9,374.5 L44.1,374.5 L44.3,374.5 L44.5,374.5 L44.7,374.5 L44.9,374.5 L45.1,374.5 L45.3,374.5 L45.5,374.5 L45.7,374.5 L45.9,374.5 L46.1,374.5 L46.3,374.5 L46.5,374.5 L46.7,374.5 L46.9,374.5 L47.1,374.5 L47.3,374.5 L47.5,374.5 L47.7,374.5 L47.9,374.5 L48.1,374.5 L48.3,374.5 L48.5,374.5 L48.7,374.5 L48.9,374.5 L49.1,374.5 L49.3,374.5 L49.5,374.5 L49.7,374.5 L49.9,374.5 L50.1,374.5 L50.3,374.5 L50.5,374.5 L50.7,374.5 L50.9,374.5 L51.1,374.5 L51.3,374.5 L51.5,374.5 L51.7,374.5 L51.9,374.5 L52.1,374.5 L52.3,374.5 L52.5,374.5 L52.7,374.5 L52.9,374.5 L53.1,374.5 L53.3,374.5 L53.5,374.5 L53.7,374.5 L53.9,374.5 L54.1,374.5 L54.3,374.5 L54.5,374.5 L54.7,374.5 L54.9,374.5 L55.1,374.5 L55.3,374.5 L55.5,374.5 L55.7,374.5 L55.9,374.5 L56.1,374.5 L56.3,374.5 L56.5,374.5 L56.7,374.5 L56.9,374.5 L57.1,374.5 L57.3,374.5 L57.5,374.5 L57.7,374.5 L57.9,374.5 L58.1,374.5 L58.3,374.5 L58.5,374.5 L58.7,374.5 L58.9,374.5 L59.1,374.5 L59.3,374.5 L59.5,374.5 L59.7,374.5 L59.9,374.5 L60.1,374.5 L60.3,374.5 L60.5,374.5 L60.7,374.5 L60.9,374.5 L61.1,374.5 L61.3,374.5 L61.5,374.5 L61.7,374.5 L61.9,374.5 L62.1,374.5 L62.3,374.5 L62.5,374.5 L62.7,374.5 L62.9,374.5 L63.1,374.5 L63.3,374.5 L63.5,374.5 L63.7,374.5 L63.9,374.5 L64.1,374.5 L64.3,374.5 L64.5,374.5 L64.7,374.5 L64.9,374.5 L65.1,374.5 L65.3,374.5 L65.5,374.5 L65.7,374.5 L65.9,374.5 L66.1,374.5 L66.3,374.5 L66.5,374.5 L66.7,374.5 L66.9,374.5 L67.1,374.5 L67.3,374.5 L67.5,374.5 L67.7,374.5 L67.9,374.5 L68.1,374.5 L68.3,374.5 L68.5,374.5 L68.7,374.5 L68.9,374.5 L69.1,374.5 L69.3,374.5 L69.5,374.5 L69.7,374.5 L69.9,374.5 L70.1,374.5 L70.3,374.5 L70.5,374.5 L70.7,374.5 L70.9,374.5 L71.1,374.5 L71.3,374.5 L71.5,374.5 L71.7,374.5 L71.9,374.5 L72.1,374.5 L72.3,374.5 L72.5,374.5 L72.7,374.5 L72.9,374.5 L73.1,374.5 L73.3,374.5 L73.5,374.5 L73.7,374.5 L73.9,374.5 L74.1,374.5 L74.3,374.5 L74.5,374.5 L74.7,374.5 L74.9,374.5 L75.1,374.49 L75.3,374.49 L75.5,374.49 L75.7,374.49 L75.9,374.48 L76.1,374.48 L76.3,374.47 L76.5,374.47 L76.7,374.46 L76.9,374.45 L77.1,374.44 L77.3,374.42 L77.5,374.4 L77.7,374.38 L77.9,374.35 L78.1,374.31 L78.3,374.27 L78.5,374.22 L78.7,374.16 L78.9,374.09 L79.1,374.01 L79.3,373.92 L79.5,373.81 L79.7,373.68 L79.9,373.53 L80.1,373.36 L80.3,373.17 L80.5,372.95 L80.7,372.71 L80.9,372.44 L81.1,372.13 L81.3,371.79 L81.5,371.42 L81.7,371.01 L81.9,370.57 L82.1,370.09 L82.3,369.57 L82.5,369.01 L82.7,368.42 L82.9,367.8 L83.1,367.14 L83.3,366.46 L83.5,365.75 L83.7,365.02 L83.9,364.28 L84.1,363.53 L84.3,362.77 L84.5,362.02 L84.7,361.27 L84.9,360.55 L85.1,359.85 L85.3,359.19 L85.5,358.56 L85.7,357.98 L85.9,357.46 L86.1,357 L86.3,356.61 L86.5,356.29 L86.7,356.04 L86.9,355.88 L87.1,355.79 L87.3,355.79 L87.5,355.88 L87.7,356.04 L87.9,356.29 L88.1,356.61 L88.3,357 L88.5,357.46 L88.7,357.98 L88.9,358.56 L89.1,359.19 L89.3,359.85 L89.5,360.55 L89.7,361.27 L89.9,362.02 L90.1,362.77 L90.3,363.53 L90.5,364.28 L90.7,365.02 L90.9,365.75 L91.1,366.46 L91.3,367.14 L91.5,367.8 L91.7,368.42 L91.9,369.01 L92.1,369.57 L92.3,370.09 L92.5,370.57 L92.7,371.01 L92.9,371.42 L93.1,371.79 L93.3,372.13 L93.5,372.44 L93.7,372.71 L93.9,372.95 L94.1,373.17 L94.3,373.36 L94.5,373.53 L94.7,373.68 L94.9,373.81 L95.1,373.92 L95.3,374.01 L95.5,374.09 L95.7,374.16 L95.9,374.22 L96.1,374.27 L96.3,374.31 L96.5,374.35 L96.7,374.38 L96.9,374.4 L97.1,374.42 L97.3,374.44 L97.5,374.45 L97.7,374.46 L97.9,374.47 L98.1,374.47 L98.3,374.48 L98.5,374.48 L98.7,374.49 L98.9,374.49 L99.1,374.49 L99.3,374.49 L99.5,374.5 L99.7,374.5 L99.9,374.5 L100.1,374.5 L100.3,374.5 L100.5,374.5 L100.7,374.5 L100.9,374.5 L101.1,374.5 L101.3,374.5 L101.5,374.5 L101.7,374.5 L101.9,374.5 L102.1,374.5 L102.3,374.5 L102.5,374.5 L102.7,374.5 L102.9,374.5 L103.1,374.5 L103.3,374.5 L103.5,374.5 L103.7,374.5 L103.9,374.5 L104.1,374.5 L104.3,374.5 L104.5,374.5 L104.7,374.5 L104.9,374.5 L105.1,374.5 L105.3,374.5 L105.5,374.5 L105.7,374.5 L105.9,374.5 L106.1,374.5 L106.3,374.5 L106.5,374.5 L106.7,374.5 L106.9,374.5 L107.1,374.5 L107.3,374.5 L107.5,374.5 L107.7,374.5 L107.9,374.5 L108.1,374.5 L108.3,374.5 L108.5,374.5 L108.7,374.5 L108.9,374.5 L109.1,374.5 L109.3,374.5 L109.5,374.5 L109.7,374.5 L109.9,374.5 L110.1,374.5 L110.3,374.5 L110.5,374.5 L110.7,374.5 L110.9,374.5 L111.1,374.5 L111.3,374.5 L111.5,374.5 L111.7,374.5 L111.9,374.5 L112.1,374.5 L112.3,374.5 L112.5,374.5 L112.7,374.5 L112.9,374.5 L113.1,374.5 L113.3,374.5 L113.5,374.5 L113.7,374.5 L113.9,374.5 L114.1,374.5 L114.3,374.5 L114.5,374.5 L114.7,374.5 L114.9,374.5 L115.1,374.5 L115.3,374.5 L115.5,374.5 L115.7,374.5 L115.9,374.5 L116.1,374.5 L116.3,374.5 L116.5,374.5 L116.7,374.5 L116.9,374.5 L117.1,374.5 L117.3,374.5 L117.5,374.5 L117.7,374.5 L117.9,374.5 L118.1,374.5 L118.3,374.5 L118.5,374.5 L118.7,374.5 L118.9,374.5 L119.1,374.5 L119.3,374.5 L119.5,374.5 L119.7,374.5 L119.9,374.5 L120.1,374.5 L120.3,374.5 L120.5,374.5 L120.7,374.5 L120.9,374.5 L121.1,374.5 L121.3,374.5 L121.5,374.5 L121.7,374.5 L121.9,374.5 L122.1,374.5 L122.3,374.5 L122.5,374.5 L122.7,374.5 L122.9,374.5 L123.1,374.5 L123.3,374.5 L123.5,374.5 L123.5,374.5 Z" fill="#84d070" stroke="none" stroke-width="1" fill-opacity="0.8"/>
<path d="M43.9,374.5 L43.9,374.5 L44.1,374.5 L44.3,374.5 L44.5,374.5 L44.7,374.5 L44.9,374.5 L45.1,374.5 L45.3,374.5 L45.5,374.5 L45.7,374.5 L45.9,374.5 L46.1,374.5 L46.3,374.5 L46.5,374.5 L46.7,374.5 L46.9,374.5 L47.1,374.5 L47.3,374.5 L47.5,374.5 L47.7,374.5 L47.9,374.5 L48.1,374.5 L48.3,374.5 L48.5,374.5 L48.7,374.5 L48.9,374.5 L49.1,374.5 L49.3,374.5 L49.5,374.5 L49.7,374.5 L49.9,374.5 L50.1,374.5 L50.3,374.5 L50.5,374.5 L50.7,374.5 L50.9,374.5 L51.1,374.5 L51.3,374.5 L51.5,374.5 L51.7,374.5 L51.9,374.5 L52.1,374.5 L52.3,374.5 L52.5,374.5 L52.7,374.5 L52.9,374.5 L53.1,374.5 L53.3,374.5 L53.5,374.5 L53.7,374.5 L53.9,374.5 L54.1,374.5 L54.3,374.5 L54.5,374.5 L54.7,374.5 L54.9,374.5 L55.1,374.5 L55.3,374.5 L55.5,374.5 L55.7,374.5 L55.9,374.5 L56.1,374.5 L56.3,374.5 L56.5,374.5 L56.7,374.5 L56.9,374.5 L57.1,374.5 L57.3,374.5 L57.5,374.5 L57.7,374.5 L57.9,374.5 L58.1,374.5 L58.3,374.5 L58.5,374.5 L58.7,374.5 L58.9,374.5 L59.1,374.5 L59.3,374.5 L59.5,374.5 L59.7,374.5 L59.9,374.5 L60.1,374.49 L60.3,374.49 L60.5,374.49 L60.7,374.48 L60.9,374.46 L61.1,374.44 L61.3,374.41 L61.5,374.36 L61.7,374.28 L61.9,374.17 L62.1,374.02 L62.3,373.8 L62.5,373.49 L62.7,373.08 L62.9,372.52 L63.1,371.78 L63.3,370.83 L63.5,369.61 L63.7,368.08 L63.9,366.2 L64.1,363.92 L64.3,361.21 L64.5,358.06 L64.7,354.45 L64.9,350.41 L65.1,345.97 L65.3,341.22 L65.5,336.23 L65.7,331.14 L65.9,326.09 L66.1,321.24 L66.3,316.75 L66.5,312.81 L66.7,309.55 L66.9,307.12 L67.1,305.62 L67.3,305.11 L67.5,305.62 L67.7,307.12 L67.9,309.55 L68.1,312.81 L68.3,316.75 L68.5,321.24 L68.7,326.09 L68.9,331.14 L69.1,336.23 L69.3,341.22 L69.5,345.97 L69.7,350.41 L69.9,354.45 L70.1,358.06 L70.3,361.21 L70.5,363.92 L70.7,366.2 L70.9,368.08 L71.1,369.61 L71.3,370.83 L71.5,371.78 L71.7,372.52 L71.9,373.08 L72.1,373.49 L72.3,373.8 L72.5,374.02 L72.7,374.17 L72.9,374.28 L73.1,374.36 L73.3,374.41 L73.5,374.44 L73.7,374.46 L73.9,374.48 L74.1,374.49 L74.3,374.49 L74.5,374.49 L74.7,374.5 L74.9,374.5 L75.1,374.5 L75.3,374.5 L75.5,374.5 L75.7,374.5 L75.9,374.5 L76.1,374.5 L76.3,374.5 L76.5,374.5 L76.7,374.5 L76.9,374.5 L77.1,374.5 L77.3,374.5 L77.5,374.5 L77.7,374.5 L77.9,374.5 L78.1,374.5 L78.3,374.5 L78.5,374.5 L78.7,374.5 L78.9,374.5 L79.1,374.5 L79.3,374.5 L79.5,374.5 L79.7,374.5 L79.9,374.5 L80.1,374.5 L80.3,374.5 L80.5,374.5 L80.7,374.5 L80.9,374.5 L81.1,374.5 L81.3,374.5 L81.5,374.5 L81.7,374.5 L81.9,374.5 L82.1,374.5 L82.3,374.5 L82.5,374.5 L82.7,374.5 L82.9,374.5 L83.1,374.5 L83.3,374.5 L83.5,374.5 L83.7,374.5 L83.9,374.5 L84.1,374.5 L84.3,374.5 L84.5,374.5 L84.7,374.5 L84.9,374.5 L85.1,374.5 L85.3,374.5 L85.5,374.5 L85.7,374.5 L85.9,374.5 L86.1,374.5 L86.3,374.5 L86.5,374.5 L86.7,374.5 L86.9,374.5 L87.1,374.5 L87.3,374.5 L87.5,374.5 L87.7,374.5 L87.9,374.5 L88.1,374.5 L88.3,374.5 L88.5,374.5 L88.7,374.5 L88.9,374.5 L89.1,374.5 L89.3,374.5 L89.5,374.5 L89.7,374.5 L89.9,374.5 L90.1,374.5 L90.3,374.5 L90.5,374.5 L90.7,374.5 L90.9,374.5 L91.1,374.5 L91.3,374.5 L91.5,374.5 L91.7,374.5 L91.9,374.5 L92.1,374.5 L92.3,374.5 L92.5,374.5 L92.7,374.5 L92.9,374.5 L93.1,374.5 L93.3,374.5 L93.5,374.5 L93.7,374.5 L93.9,374.5 L94.1,374.5 L94.3,374.5 L94.5,374.5 L94.7,374.5 L94.9,374.5 L95.1,374.5 L95.3,374.5 L95.5,374.5 L95.7,374.5 L95.9,374.5 L96.1,374.5 L96.3,374.5 L96.5,374.5 L96.7,374.5 L96.9,374.5 L97.1,374.5 L97.3,374.5 L97.5,374.5 L97.7,374.5 L97.9,374.5 L98.1,374.5 L98.3,374.5 L98.5,374.5 L98.7,374.5 L98.9,374.5 L99.1,374.5 L99.3,374.5 L99.5,374.5 L99.7,374.5 L99.9,374.5 L100.1,374.5 L100.3,374.5 L100.5,374.5 L100.7,374.5 L100.9,374.5 L101.1,374.5 L101.3,374.5 L101.5,374.5 L101.7,374.5 L101.9,374.5 L102.1,374.5 L102.3,374.5 L102.5,374.5 L102.7,374.5 L102.9,374.5 L103.1,374.5 L103.3,374.5 L103.5,374.5 L103.7,374.5 L103.9,374.5 L104.1,374.5 L104.3,374.5 L104.5,374.5 L104.7,374.5 L104.9,374.5 L105.1,374.5 L105.3,374.5 L105.5,374.5 L105.7,374.5 L105.9,374.5 L106.1,374.5 L106.3,374.5 L106.5,374.5 L106.7,374.5 L106.9,374.5 L107.1,374.5 L107.3,374.5 L107.5,374.5 L107.7,374.5 L107.9,374.5 L108.1,374.5 L108.3,374.5 L108.5,374.5 L108.7,374.5 L108.9,374.5 L109.1,374.5 L109.3,374.5 L109.5,374.5 L109.7,374.5 L109.9,374.5 L110.1,374.5 L110.3,374.5 L110.5,374.5 L110.7,374.5 L110.9,374.5 L111.1,374.5 L111.3,374.5 L111.5,374.5 L111.7,374.5 L111.9,374.5 L112.1,374.5 L112.3,374.5 L112.5,374.5 L112.7,374.5 L112.9,374.5 L113.1,374.5 L113.3,374.5 L113.5,374.5 L113.7,374.5 L113.9,374.5 L114.1,374.5 L114.3,374.5 L114.5,374.5 L114.7,374.5 L114.9,374.5 L115.1,374.5 L115.3,374.5 L115.5,374.5 L115.7,374.5 L115.9,374.5 L116.1,374.5 L116.3,374.5 L116.5,374.5 L116.7,374.5 L116.9,374.5 L117.1,374.5 L117.3,374.5 L117.5,374.5 L117.7,374.5 L117.9,374.5 L118.1,374.5 L118.3,374.5 L118.5,374.5 L118.7,374.5 L118.9,374.5 L119.1,374.5 L119.3,374.5 L119.5,374.5 L119.7,374.5 L119.9,374.5 L120.1,374.5 L120.3,374.5 L120.5,374.5 L120.7,374.5 L120.9,374.5 L121.1,374.5 L121.3,374.5 L121.5,374.5 L121.7,374.5 L121.9,374.5 L122.1,374.5 L122.3,374.5 L122.5,374.5 L122.7,374.5 L122.9,374.5 L123.1,374.5 L123.3,374.5 L123.5,374.5 L123.5,374.5 Z" fill="#8f92e2" stroke="none" stroke-width="1" fill-opacity="0.85"/>
<path d="M43.9,374.5 L44.1,374.5 L44.3,374.5 L44.5,374.5 L44.7,374.5 L44.9,374.5 L45.1,374.5 L45.3,374.5 L45.5,374.5 L45.7,374.5 L45.9,374.5 L46.1,374.5 L46.3,374.5 L46.5,374.5 L46.7,374.5 L46.9,374.5 L47.1,374.5 L47.3,374.5 L47.5,374.5 L47.7,374.5 L47.9,374.5 L48.1,374.5 L48.3,374.5 L48.5,374.5 L48.7,374.5 L48.9,374.5 L49.1,374.5 L49.3,374.5 L49.5,374.5 L49.7,374.5 L49.9,374.5 L50.1,374.5 L50.3,374.5 L50.5,374.5 L50.7,374.5 L50.9,374.5 L51.1,374.5 L51.3,374.5 L51.5,374.5 L51.7,374.5 L51.9,374.5 L52.1,374.5 L52.3,374.5 L52.5,374.5 L52.7,374.5 L52.9,374.5 L53.1,374.5 L53.3,374.5 L53.5,374.5 L53.7,374.5 L53.9,374.5 L54.1,374.5 L54.3,374.5 L54.5,374.5 L54.7,374.5 L54.9,374.5 L55.1,374.5 L55.3,374.5 L55.5,374.5 L55.7,374.5 L55.9,374.5 L56.1,374.5 L56.3,374.5 L56.5,374.5 L56.7,374.5 L56.9,374.5 L57.1,374.5 L57.3,374.5 L57.5,374.5 L57.7,374.5 L57.9,374.5 L58.1,374.5 L58.3,374.5 L58.5,374.5 L58.7,374.5 L58.9,374.5 L59.1,374.5 L59.3,374.5 L59.5,374.5 L59.7,374.5 L59.9,374.5 L60.1,374.49 L60.3,374.49 L60.5,374.49 L60.7,374.48 L60.9,374.46 L61.1,374.44 L61.3,374.41 L61.5,374.36 L61.7,374.28 L61.9,374.17 L62.1,374.01 L62.3,373.79 L62.5,373.48 L62.7,373.06 L62.9,372.5 L63.1,371.75 L63.3,370.78 L63.5,369.54 L63.7,367.99 L63.9,366.07 L64.1,363.74 L64.3,360.97 L64.5,357.74 L64.7,354.02 L64.9,349.85 L65.1,345.25 L65.3,340.28 L65.5,335.05 L65.7,329.66 L65.9,324.26 L66.1,319.01 L66.3,314.06 L66.5,309.59 L66.7,305.75 L66.9,302.69 L67.1,300.49 L67.3,299.25 L67.5,299 L67.7,299.72 L67.9,301.36 L68.1,303.83 L68.3,306.99 L68.5,310.72 L68.7,314.85 L68.9,319.22 L69.1,323.68 L69.3,328.09 L69.5,332.33 L69.7,336.31 L69.9,339.97 L70.1,343.24 L70.3,346.12 L70.5,348.61 L70.7,350.71 L70.9,352.47 L71.1,353.9 L71.3,355.06 L71.5,355.99 L71.7,356.71 L71.9,357.28 L72.1,357.72 L72.3,358.06 L72.5,358.32 L72.7,358.53 L72.9,358.69 L73.1,358.83 L73.3,358.94 L73.5,359.04 L73.7,359.12 L73.9,359.21 L74.1,359.28 L74.3,359.35 L74.5,359.43 L74.7,359.5 L74.9,359.57 L75.1,359.64 L75.3,359.71 L75.5,359.78 L75.7,359.85 L75.9,359.92 L76.1,360 L76.3,360.07 L76.5,360.15 L76.7,360.22 L76.9,360.3 L77.1,360.38 L77.3,360.47 L77.5,360.55 L77.7,360.64 L77.9,360.73 L78.1,360.82 L78.3,360.91 L78.5,361.01 L78.7,361.11 L78.9,361.2 L79.1,361.3 L79.3,361.4 L79.5,361.49 L79.7,361.58 L79.9,361.67 L80.1,361.75 L80.3,361.83 L80.5,361.89 L80.7,361.94 L80.9,361.97 L81.1,361.99 L81.3,361.99 L81.5,361.97 L81.7,361.92 L81.9,361.84 L82.1,361.73 L82.3,361.6 L82.5,361.43 L82.7,361.23 L82.9,360.99 L83.1,360.71 L83.3,360.39 L83.5,360.03 L83.7,359.66 L83.9,359.26 L84.1,358.85 L84.3,358.42 L84.5,357.99 L84.7,357.55 L84.9,357.12 L85.1,356.71 L85.3,356.31 L85.5,355.94 L85.7,355.6 L85.9,355.29 L86.1,355.04 L86.3,354.84 L86.5,354.69 L86.7,354.61 L86.9,354.59 L87.1,354.65 L87.3,354.77 L87.5,354.97 L87.7,355.23 L87.9,355.57 L88.1,355.97 L88.3,356.44 L88.5,356.96 L88.7,357.54 L88.9,358.17 L89.1,358.84 L89.3,359.55 L89.5,360.29 L89.7,361.04 L89.9,361.81 L90.1,362.59 L90.3,363.37 L90.5,364.15 L90.7,364.91 L90.9,365.65 L91.1,366.37 L91.3,367.07 L91.5,367.73 L91.7,368.37 L91.9,368.97 L92.1,369.53 L92.3,370.05 L92.5,370.54 L92.7,370.99 L92.9,371.4 L93.1,371.78 L93.3,372.12 L93.5,372.42 L93.7,372.7 L93.9,372.95 L94.1,373.16 L94.3,373.36 L94.5,373.53 L94.7,373.67 L94.9,373.8 L95.1,373.91 L95.3,374.01 L95.5,374.09 L95.7,374.16 L95.9,374.22 L96.1,374.27 L96.3,374.31 L96.5,374.35 L96.7,374.38 L96.9,374.4 L97.1,374.42 L97.3,374.44 L97.5,374.45 L97.7,374.46 L97.9,374.47 L98.1,374.47 L98.3,374.48 L98.5,374.48 L98.7,374.49 L98.9,374.49 L99.1,374.49 L99.3,374.49 L99.5,374.5 L99.7,374.5 L99.9,374.5 L100.1,374.5 L100.3,374.5 L100.5,374.5 L100.7,374.5 L100.9,374.5 L101.1,374.5 L101.3,374.5 L101.5,374.5 L101.7,374.5 L101.9,374.5 L102.1,374.5 L102.3,374.5 L102.5,374.5 L102.7,374.5 L102.9,374.5 L103.1,374.5 L103.3,374.5 L103.5,374.5 L103.7,374.5 L103.9,374.5 L104.1,374.5 L104.3,374.5 L104.5,374.5 L104.7,374.5 L104.9,374.5 L105.1,374.5 L105.3,374.5 L105.5,374.5 L105.7,374.5 L105.9,374.5 L106.1,374.5 L106.3,374.5 L106.5,374.5 L106.7,374.5 L106.9,374.5 L107.1,374.5 L107.3,374.5 L107.5,374.5 L107.7,374.5 L107.9,374.5 L108.1,374.5 L108.3,374.5 L108.5,374.5 L108.7,374.5 L108.9,374.5 L109.1,374.5 L109.3,374.5 L109.5,374.5 L109.7,374.5 L109.9,374.5 L110.1,374.5 L110.3,374.5 L110.5,374.5 L110.7,374.5 L110.9,374.5 L111.1,374.5 L111.3,374.5 L111.5,374.5 L111.7,374.5 L111.9,374.5 L112.1,374.5 L112.3,374.5 L112.5,374.5 L112.7,374.5 L112.9,374.5 L113.1,374.5 L113.3,374.5 L113.5,374.5 L113.7,374.5 L113.9,374.5 L114.1,374.5 L114.3,374.5 L114.5,374.5 L114.7,374.5 L114.9,374.5 L115.1,374.5 L115.3,374.5 L115.5,374.5 L115.7,374.5 L115.9,374.5 L116.1,374.5 L116.3,374.5 L116.5,374.5 L116.7,374.5 L116.9,374.5 L117.1,374.5 L117.3,374.5 L117.5,374.5 L117.7,374.5 L117.9,374.5 L118.1,374.5 L118.3,374.5 L118.5,374.5 L118.7,374.5 L118.9,374.5 L119.1,374.5 L119.3,374.5 L119.5,374.5 L119.7,374.5 L119.9,374.5 L120.1,374.5 L120.3,374.5 L120.5,374.5 L120.7,374.5 L120.9,374.5 L121.1,374.5 L121.3,374.5 L121.5,374.5 L121.7,374.5 L121.9,374.5 L122.1,374.5 L122.3,374.5 L122.5,374.5 L122.7,374.5 L122.9,374.5 L123.1,374.5 L123.3,374.5 L123.5,374.5" fill="none" stroke="#c93fa6" stroke-width="1" stroke-linejoin="round"/>
<path d="M43.9,374.2 L44.1,374.2 L44.3,374.2 L44.5,374.2 L44.7,374.2 L44.9,374.2 L45.1,374.2 L45.3,374.2 L45.5,374.2 L45.7,374.2 L45.9,374.2 L46.1,374.2 L46.3,374.2 L46.5,374.2 L46.7,374.2 L46.9,374.2 L47.1,374.2 L47.3,374.2 L47.5,374.2 L47.7,374.2 L47.9,374.2 L48.1,374.2 L48.3,374.2 L48.5,374.2 L48.7,374.2 L48.9,374.2 L49.1,374.2 L49.3,374.2 L49.5,374.2 L49.7,374.2 L49.9,374.2 L50.1,374.2 L50.3,374.2 L50.5,374.2 L50.7,374.2 L50.9,374.2 L51.1,374.2 L51.3,374.2 L51.5,374.2 L51.7,374.2 L51.9,374.2 L52.1,374.2 L52.3,374.2 L52.5,374.2 L52.7,374.2 L52.9,374.2 L53.1,374.2 L53.3,374.2 L53.5,374.2 L53.7,374.2 L53.9,374.2 L54.1,374.2 L54.3,374.2 L54.5,374.2 L54.7,374.2 L54.9,374.2 L55.1,374.2 L55.3,374.2 L55.5,374.2 L55.7,374.2 L55.9,374.2 L56.1,374.2 L56.3,374.2 L56.5,374.2 L56.7,374.2 L56.9,374.2 L57.1,374.2 L57.3,374.2 L57.5,374.2 L57.7,374.2 L57.9,374.2 L58.1,374.2 L58.3,374.2 L58.5,374.2 L58.7,374.2 L58.9,374.2 L59.1,374.2 L59.3,374.2 L59.5,374.2 L59.7,374.2 L59.9,374.2 L60.1,374.19 L60.3,374.19 L60.5,374.19 L60.7,374.18 L60.9,374.16 L61.1,374.14 L61.3,374.11 L61.5,374.06 L61.7,373.98 L61.9,373.87 L62.1,373.71 L62.3,373.49 L62.5,373.18 L62.7,372.76 L62.9,372.2 L63.1,371.45 L63.3,370.48 L63.5,369.24 L63.7,367.69 L63.9,365.77 L64.1,363.44 L64.3,360.67 L64.5,357.44 L64.7,353.72 L64.9,349.55 L65.1,344.95 L65.3,339.98 L65.5,334.75 L65.7,329.36 L65.9,323.96 L66.1,318.71 L66.3,313.76 L66.5,309.29 L66.7,305.45 L66.9,302.39 L67.1,300.19 L67.3,298.95 L67.5,298.7 L67.7,299.42 L67.9,301.06 L68.1,303.53 L68.3,306.69 L68.5,310.42 L68.7,314.55 L68.9,318.92 L69.1,323.38 L69.3,327.79 L69.5,332.03 L69.7,336.01 L69.9,339.67 L70.1,342.94 L70.3,345.82 L70.5,348.31 L70.7,350.41 L70.9,352.17 L71.1,353.6 L71.3,354.76 L71.5,355.69 L71.7,356.41 L71.9,356.98 L72.1,357.42 L72.3,357.76 L72.5,358.02 L72.7,358.23 L72.9,358.39 L73.1,358.53 L73.3,358.64 L73.5,358.74 L73.7,358.82 L73.9,358.91 L74.1,358.98 L74.3,359.05 L74.5,359.13 L74.7,359.2 L74.9,359.27 L75.1,359.34 L75.3,359.41 L75.5,359.48 L75.7,359.55 L75.9,359.62 L76.1,359.7 L76.3,359.77 L76.5,359.85 L76.7,359.92 L76.9,360 L77.1,360.08 L77.3,360.17 L77.5,360.25 L77.7,360.34 L77.9,360.43 L78.1,360.52 L78.3,360.61 L78.5,360.71 L78.7,360.81 L78.9,360.9 L79.1,361 L79.3,361.1 L79.5,361.19 L79.7,361.28 L79.9,361.37 L80.1,361.45 L80.3,361.53 L80.5,361.59 L80.7,361.64 L80.9,361.67 L81.1,361.69 L81.3,361.69 L81.5,361.67 L81.7,361.62 L81.9,361.54 L82.1,361.43 L82.3,361.3 L82.5,361.13 L82.7,360.93 L82.9,360.69 L83.1,360.41 L83.3,360.09 L83.5,359.73 L83.7,359.36 L83.9,358.96 L84.1,358.55 L84.3,358.12 L84.5,357.69 L84.7,357.25 L84.9,356.82 L85.1,356.41 L85.3,356.01 L85.5,355.64 L85.7,355.3 L85.9,354.99 L86.1,354.74 L86.3,354.54 L86.5,354.39 L86.7,354.31 L86.9,354.29 L87.1,354.35 L87.3,354.47 L87.5,354.67 L87.7,354.93 L87.9,355.27 L88.1,355.67 L88.3,356.14 L88.5,356.66 L88.7,357.24 L88.9,357.87 L89.1,358.54 L89.3,359.25 L89.5,359.99 L89.7,360.74 L89.9,361.51 L90.1,362.29 L90.3,363.07 L90.5,363.85 L90.7,364.61 L90.9,365.35 L91.1,366.07 L91.3,366.77 L91.5,367.43 L91.7,368.07 L91.9,368.67 L92.1,369.23 L92.3,369.75 L92.5,370.24 L92.7,370.69 L92.9,371.1 L93.1,371.48 L93.3,371.82 L93.5,372.12 L93.7,372.4 L93.9,372.65 L94.1,372.86 L94.3,373.06 L94.5,373.23 L94.7,373.37 L94.9,373.5 L95.1,373.61 L95.3,373.71 L95.5,373.79 L95.7,373.86 L95.9,373.92 L96.1,373.97 L96.3,374.01 L96.5,374.05 L96.7,374.08 L96.9,374.1 L97.1,374.12 L97.3,374.14 L97.5,374.15 L97.7,374.16 L97.9,374.17 L98.1,374.17 L98.3,374.18 L98.5,374.18 L98.7,374.19 L98.9,374.19 L99.1,374.19 L99.3,374.19 L99.5,374.2 L99.7,374.2 L99.9,374.2 L100.1,374.2 L100.3,374.2 L100.5,374.2 L100.7,374.2 L100.9,374.2 L101.1,374.2 L101.3,374.2 L101.5,374.2 L101.7,374.2 L101.9,374.2 L102.1,374.2 L102.3,374.2 L102.5,374.2 L102.7,374.2 L102.9,374.2 L103.1,374.2 L103.3,374.2 L103.5,374.2 L103.7,374.2 L103.9,374.2 L104.1,374.2 L104.3,374.2 L104.5,374.2 L104.7,374.2 L104.9,374.2 L105.1,374.2 L105.3,374.2 L105.5,374.2 L105.7,374.2 L105.9,374.2 L106.1,374.2 L106.3,374.2 L106.5,374.2 L106.7,374.2 L106.9,374.2 L107.1,374.2 L107.3,374.2 L107.5,374.2 L107.7,374.2 L107.9,374.2 L108.1,374.2 L108.3,374.2 L108.5,374.2 L108.7,374.2 L108.9,374.2 L109.1,374.2 L109.3,374.2 L109.5,374.2 L109.7,374.2 L109.9,374.2 L110.1,374.2 L110.3,374.2 L110.5,374.2 L110.7,374.2 L110.9,374.2 L111.1,374.2 L111.3,374.2 L111.5,374.2 L111.7,374.2 L111.9,374.2 L112.1,374.2 L112.3,374.2 L112.5,374.2 L112.7,374.2 L112.9,374.2 L113.1,374.2 L113.3,374.2 L113.5,374.2 L113.7,374.2 L113.9,374.2 L114.1,374.2 L114.3,374.2 L114.5,374.2 L114.7,374.2 L114.9,374.2 L115.1,374.2 L115.3,374.2 L115.5,374.2 L115.7,374.2 L115.9,374.2 L116.1,374.2 L116.3,374.2 L116.5,374.2 L116.7,374.2 L116.9,374.2 L117.1,374.2 L117.3,374.2 L117.5,374.2 L117.7,374.2 L117.9,374.2 L118.1,374.2 L118.3,374.2 L118.5,374.2 L118.7,374.2 L118.9,374.2 L119.1,374.2 L119.3,374.2 L119.5,374.2 L119.7,374.2 L119.9,374.2 L120.1,374.2 L120.3,374.2 L120.5,374.2 L120.7,374.2 L120.9,374.2 L121.1,374.2 L121.3,374.2 L121.5,374.2 L121.7,374.2 L121.9,374.2 L122.1,374.2 L122.3,374.2 L122.5,374.2 L122.7,374.2 L122.9,374.2 L123.1,374.2 L123.3,374.2 L123.5,374.2" fill="none" stroke="#333" stroke-width="0.35" stroke-linejoin="round"/>
<rect x="86.3" y="297.6" width="8" height="2.4" fill="#a88ad8" stroke="none" stroke-width="1"/>
<text x="97.5" y="300.8" font-size="5.75" fill="#2a2a2a">%G1:39.3</text>
<rect x="86.3" y="304.3" width="8" height="2.4" fill="#e4e44e" stroke="none" stroke-width="1"/>
<text x="97.5" y="307.5" font-size="5.75" fill="#2a2a2a">%S:37.1</text>
<rect x="86.3" y="311" width="8" height="2.4" fill="#8acd70" stroke="none" stroke-width="1"/>
<text x="97.5" y="314.2" font-size="5.75" fill="#2a2a2a">%G2:23.3</text>
<rect x="141.4" y="294.2" width="80.9" height="80.6" fill="#fff" stroke="#555" stroke-width="0.7"/>
<line x1="139.8" y1="307.5" x2="141.4" y2="307.5" stroke="#444" stroke-width="0.5"/>
<text x="138.8" y="308.8" font-size="3.7" text-anchor="end" fill="#555">600</text>
<line x1="139.8" y1="330" x2="141.4" y2="330" stroke="#444" stroke-width="0.5"/>
<text x="138.8" y="331.3" font-size="3.7" text-anchor="end" fill="#555">400</text>
<line x1="139.8" y1="352.4" x2="141.4" y2="352.4" stroke="#444" stroke-width="0.5"/>
<text x="138.8" y="353.7" font-size="3.7" text-anchor="end" fill="#555">200</text>
<line x1="139.8" y1="374.4" x2="141.4" y2="374.4" stroke="#444" stroke-width="0.5"/>
<text x="138.8" y="375.7" font-size="3.7" text-anchor="end" fill="#555">0</text>
<line x1="141.9" y1="374.8" x2="141.9" y2="376.4" stroke="#444" stroke-width="0.5"/>
<text x="141.9" y="381.1" font-size="3.7" text-anchor="middle" fill="#555">0</text>
<line x1="157.2" y1="374.8" x2="157.2" y2="376.4" stroke="#444" stroke-width="0.5"/>
<text x="157.2" y="381.1" font-size="3.7" text-anchor="middle" fill="#555">2.0M</text>
<line x1="172.7" y1="374.8" x2="172.7" y2="376.4" stroke="#444" stroke-width="0.5"/>
<text x="172.7" y="381.1" font-size="3.7" text-anchor="middle" fill="#555">4.0M</text>
<line x1="189.2" y1="374.8" x2="189.2" y2="376.4" stroke="#444" stroke-width="0.5"/>
<text x="189.2" y="381.1" font-size="3.7" text-anchor="middle" fill="#555">6.0M</text>
<line x1="204.2" y1="374.8" x2="204.2" y2="376.4" stroke="#444" stroke-width="0.5"/>
<text x="204.2" y="381.1" font-size="3.7" text-anchor="middle" fill="#555">8.0M</text>
<line x1="219.4" y1="374.8" x2="219.4" y2="376.4" stroke="#444" stroke-width="0.5"/>
<text x="219.4" y="381.1" font-size="3.7" text-anchor="middle" fill="#555">10.0M</text>
<path d="M142,374.5 L142,374.5 L142.2,374.5 L142.4,374.5 L142.6,374.5 L142.8,374.5 L143,374.5 L143.2,374.5 L143.4,374.5 L143.6,374.5 L143.8,374.5 L144,374.5 L144.2,374.5 L144.4,374.5 L144.6,374.5 L144.8,374.5 L145,374.5 L145.2,374.5 L145.4,374.5 L145.6,374.5 L145.8,374.5 L146,374.5 L146.2,374.5 L146.4,374.5 L146.6,374.5 L146.8,374.5 L147,374.5 L147.2,374.5 L147.4,374.5 L147.6,374.5 L147.8,374.5 L148,374.5 L148.2,374.5 L148.4,374.5 L148.6,374.5 L148.8,374.5 L149,374.5 L149.2,374.5 L149.4,374.5 L149.6,374.5 L149.8,374.5 L150,374.5 L150.2,374.5 L150.4,374.5 L150.6,374.5 L150.8,374.5 L151,374.5 L151.2,374.5 L151.4,374.5 L151.6,374.5 L151.8,374.5 L152,374.5 L152.2,374.5 L152.4,374.5 L152.6,374.5 L152.8,374.5 L153,374.5 L153.2,374.5 L153.4,374.5 L153.6,374.5 L153.8,374.5 L154,374.5 L154.2,374.5 L154.4,374.5 L154.6,374.5 L154.8,374.5 L155,374.5 L155.2,374.5 L155.4,374.5 L155.6,374.5 L155.8,374.5 L156,374.5 L156.2,374.5 L156.4,374.5 L156.6,374.5 L156.8,374.5 L157,374.5 L157.2,374.5 L157.4,374.5 L157.6,374.5 L157.8,374.5 L158,374.5 L158.2,374.5 L158.4,374.5 L158.6,374.5 L158.8,374.5 L159,374.5 L159.2,374.5 L159.4,374.5 L159.6,374.5 L159.8,374.5 L160,374.5 L160.2,374.5 L160.4,374.5 L160.6,374.5 L160.8,374.5 L161,374.5 L161.2,374.5 L161.4,374.5 L161.6,374.5 L161.8,374.5 L162,374.5 L162.2,374.49 L162.4,374.49 L162.6,374.48 L162.8,374.47 L163,374.46 L163.2,374.44 L163.4,374.42 L163.6,374.38 L163.8,374.33 L164,374.27 L164.2,374.19 L164.4,374.08 L164.6,373.94 L164.8,373.77 L165,373.55 L165.2,373.3 L165.4,372.99 L165.6,372.62 L165.8,372.2 L166,371.71 L166.2,371.17 L166.4,370.57 L166.6,369.91 L166.8,369.21 L167,368.49 L167.2,367.74 L167.4,366.98 L167.6,366.21 L167.8,365.46 L168,364.73 L168.2,364.03 L168.4,363.38 L168.6,362.78 L168.8,362.23 L169,361.74 L169.2,361.31 L169.4,360.95 L169.6,360.64 L169.8,360.39 L170,360.18 L170.2,360.03 L170.4,359.91 L170.6,359.83 L170.8,359.77 L171,359.74 L171.2,359.73 L171.4,359.73 L171.6,359.74 L171.8,359.77 L172,359.8 L172.2,359.83 L172.4,359.87 L172.6,359.92 L172.8,359.96 L173,360 L173.2,360.05 L173.4,360.1 L173.6,360.14 L173.8,360.19 L174,360.24 L174.2,360.29 L174.4,360.34 L174.6,360.39 L174.8,360.43 L175,360.48 L175.2,360.53 L175.4,360.58 L175.6,360.64 L175.8,360.69 L176,360.74 L176.2,360.8 L176.4,360.85 L176.6,360.91 L176.8,360.97 L177,361.04 L177.2,361.1 L177.4,361.18 L177.6,361.25 L177.8,361.33 L178,361.42 L178.2,361.51 L178.4,361.61 L178.6,361.72 L178.8,361.84 L179,361.97 L179.2,362.12 L179.4,362.27 L179.6,362.44 L179.8,362.62 L180,362.81 L180.2,363.02 L180.4,363.25 L180.6,363.49 L180.8,363.75 L181,364.02 L181.2,364.31 L181.4,364.62 L181.6,364.94 L181.8,365.28 L182,365.63 L182.2,365.99 L182.4,366.36 L182.6,366.74 L182.8,367.13 L183,367.52 L183.2,367.91 L183.4,368.3 L183.6,368.68 L183.8,369.05 L184,369.41 L184.2,369.77 L184.4,370.12 L184.6,370.47 L184.8,370.8 L185,371.12 L185.2,371.42 L185.4,371.71 L185.6,371.98 L185.8,372.24 L186,372.48 L186.2,372.71 L186.4,372.91 L186.6,373.1 L186.8,373.27 L187,373.43 L187.2,373.57 L187.4,373.7 L187.6,373.81 L187.8,373.91 L188,374 L188.2,374.08 L188.4,374.14 L188.6,374.2 L188.8,374.25 L189,374.29 L189.2,374.33 L189.4,374.36 L189.6,374.39 L189.8,374.41 L190,374.43 L190.2,374.44 L190.4,374.45 L190.6,374.46 L190.8,374.47 L191,374.48 L191.2,374.48 L191.4,374.49 L191.6,374.49 L191.8,374.49 L192,374.49 L192.2,374.5 L192.4,374.5 L192.6,374.5 L192.8,374.5 L193,374.5 L193.2,374.5 L193.4,374.5 L193.6,374.5 L193.8,374.5 L194,374.5 L194.2,374.5 L194.4,374.5 L194.6,374.5 L194.8,374.5 L195,374.5 L195.2,374.5 L195.4,374.5 L195.6,374.5 L195.8,374.5 L196,374.5 L196.2,374.5 L196.4,374.5 L196.6,374.5 L196.8,374.5 L197,374.5 L197.2,374.5 L197.4,374.5 L197.6,374.5 L197.8,374.5 L198,374.5 L198.2,374.5 L198.4,374.5 L198.6,374.5 L198.8,374.5 L199,374.5 L199.2,374.5 L199.4,374.5 L199.6,374.5 L199.8,374.5 L200,374.5 L200.2,374.5 L200.4,374.5 L200.6,374.5 L200.8,374.5 L201,374.5 L201.2,374.5 L201.4,374.5 L201.6,374.5 L201.8,374.5 L202,374.5 L202.2,374.5 L202.4,374.5 L202.6,374.5 L202.8,374.5 L203,374.5 L203.2,374.5 L203.4,374.5 L203.6,374.5 L203.8,374.5 L204,374.5 L204.2,374.5 L204.4,374.5 L204.6,374.5 L204.8,374.5 L205,374.5 L205.2,374.5 L205.4,374.5 L205.6,374.5 L205.8,374.5 L206,374.5 L206.2,374.5 L206.4,374.5 L206.6,374.5 L206.8,374.5 L207,374.5 L207.2,374.5 L207.4,374.5 L207.6,374.5 L207.8,374.5 L208,374.5 L208.2,374.5 L208.4,374.5 L208.6,374.5 L208.8,374.5 L209,374.5 L209.2,374.5 L209.4,374.5 L209.6,374.5 L209.8,374.5 L210,374.5 L210.2,374.5 L210.4,374.5 L210.6,374.5 L210.8,374.5 L211,374.5 L211.2,374.5 L211.4,374.5 L211.6,374.5 L211.8,374.5 L212,374.5 L212.2,374.5 L212.4,374.5 L212.6,374.5 L212.8,374.5 L213,374.5 L213.2,374.5 L213.4,374.5 L213.6,374.5 L213.8,374.5 L214,374.5 L214.2,374.5 L214.4,374.5 L214.6,374.5 L214.8,374.5 L215,374.5 L215.2,374.5 L215.4,374.5 L215.6,374.5 L215.8,374.5 L216,374.5 L216.2,374.5 L216.4,374.5 L216.6,374.5 L216.8,374.5 L217,374.5 L217.2,374.5 L217.4,374.5 L217.6,374.5 L217.8,374.5 L218,374.5 L218.2,374.5 L218.4,374.5 L218.6,374.5 L218.8,374.5 L219,374.5 L219.2,374.5 L219.4,374.5 L219.6,374.5 L219.8,374.5 L220,374.5 L220.2,374.5 L220.4,374.5 L220.6,374.5 L220.8,374.5 L221,374.5 L221.2,374.5 L221.4,374.5 L221.6,374.5 L221.6,374.5 Z" fill="#e2e07c" stroke="none" stroke-width="1" fill-opacity="0.8"/>
<path d="M142,374.5 L142,374.5 L142.2,374.5 L142.4,374.5 L142.6,374.5 L142.8,374.5 L143,374.5 L143.2,374.5 L143.4,374.5 L143.6,374.5 L143.8,374.5 L144,374.5 L144.2,374.5 L144.4,374.5 L144.6,374.5 L144.8,374.5 L145,374.5 L145.2,374.5 L145.4,374.5 L145.6,374.5 L145.8,374.5 L146,374.5 L146.2,374.5 L146.4,374.5 L146.6,374.5 L146.8,374.5 L147,374.5 L147.2,374.5 L147.4,374.5 L147.6,374.5 L147.8,374.5 L148,374.5 L148.2,374.5 L148.4,374.5 L148.6,374.5 L148.8,374.5 L149,374.5 L149.2,374.5 L149.4,374.5 L149.6,374.5 L149.8,374.5 L150,374.5 L150.2,374.5 L150.4,374.5 L150.6,374.5 L150.8,374.5 L151,374.5 L151.2,374.5 L151.4,374.5 L151.6,374.5 L151.8,374.5 L152,374.5 L152.2,374.5 L152.4,374.5 L152.6,374.5 L152.8,374.5 L153,374.5 L153.2,374.5 L153.4,374.5 L153.6,374.5 L153.8,374.5 L154,374.5 L154.2,374.5 L154.4,374.5 L154.6,374.5 L154.8,374.5 L155,374.5 L155.2,374.5 L155.4,374.5 L155.6,374.5 L155.8,374.5 L156,374.5 L156.2,374.5 L156.4,374.5 L156.6,374.5 L156.8,374.5 L157,374.5 L157.2,374.5 L157.4,374.5 L157.6,374.5 L157.8,374.5 L158,374.5 L158.2,374.5 L158.4,374.5 L158.6,374.5 L158.8,374.5 L159,374.5 L159.2,374.5 L159.4,374.5 L159.6,374.5 L159.8,374.5 L160,374.5 L160.2,374.5 L160.4,374.5 L160.6,374.5 L160.8,374.5 L161,374.5 L161.2,374.5 L161.4,374.5 L161.6,374.5 L161.8,374.5 L162,374.5 L162.2,374.5 L162.4,374.5 L162.6,374.5 L162.8,374.5 L163,374.5 L163.2,374.5 L163.4,374.5 L163.6,374.5 L163.8,374.5 L164,374.5 L164.2,374.5 L164.4,374.5 L164.6,374.5 L164.8,374.5 L165,374.5 L165.2,374.5 L165.4,374.5 L165.6,374.5 L165.8,374.5 L166,374.5 L166.2,374.5 L166.4,374.5 L166.6,374.5 L166.8,374.5 L167,374.5 L167.2,374.5 L167.4,374.5 L167.6,374.5 L167.8,374.5 L168,374.5 L168.2,374.5 L168.4,374.5 L168.6,374.5 L168.8,374.5 L169,374.5 L169.2,374.5 L169.4,374.5 L169.6,374.5 L169.8,374.5 L170,374.5 L170.2,374.5 L170.4,374.5 L170.6,374.5 L170.8,374.5 L171,374.5 L171.2,374.5 L171.4,374.5 L171.6,374.5 L171.8,374.5 L172,374.5 L172.2,374.5 L172.4,374.5 L172.6,374.5 L172.8,374.5 L173,374.5 L173.2,374.5 L173.4,374.5 L173.6,374.5 L173.8,374.5 L174,374.5 L174.2,374.5 L174.4,374.5 L174.6,374.5 L174.8,374.5 L175,374.5 L175.2,374.5 L175.4,374.5 L175.6,374.5 L175.8,374.5 L176,374.5 L176.2,374.49 L176.4,374.49 L176.6,374.49 L176.8,374.49 L177,374.48 L177.2,374.48 L177.4,374.47 L177.6,374.47 L177.8,374.46 L178,374.45 L178.2,374.43 L178.4,374.42 L178.6,374.4 L178.8,374.37 L179,374.35 L179.2,374.31 L179.4,374.27 L179.6,374.22 L179.8,374.16 L180,374.09 L180.2,374.01 L180.4,373.92 L180.6,373.81 L180.8,373.68 L181,373.54 L181.2,373.38 L181.4,373.19 L181.6,372.98 L181.8,372.75 L182,372.48 L182.2,372.19 L182.4,371.87 L182.6,371.51 L182.8,371.12 L183,370.7 L183.2,370.24 L183.4,369.75 L183.6,369.23 L183.8,368.68 L184,368.09 L184.2,367.48 L184.4,366.84 L184.6,366.19 L184.8,365.52 L185,364.83 L185.2,364.14 L185.4,363.45 L185.6,362.77 L185.8,362.1 L186,361.45 L186.2,360.83 L186.4,360.24 L186.6,359.69 L186.8,359.19 L187,358.74 L187.2,358.35 L187.4,358.02 L187.6,357.76 L187.8,357.58 L188,357.46 L188.2,357.42 L188.4,357.46 L188.6,357.58 L188.8,357.76 L189,358.02 L189.2,358.35 L189.4,358.74 L189.6,359.19 L189.8,359.69 L190,360.24 L190.2,360.83 L190.4,361.45 L190.6,362.1 L190.8,362.77 L191,363.45 L191.2,364.14 L191.4,364.83 L191.6,365.52 L191.8,366.19 L192,366.84 L192.2,367.48 L192.4,368.09 L192.6,368.68 L192.8,369.23 L193,369.75 L193.2,370.24 L193.4,370.7 L193.6,371.12 L193.8,371.51 L194,371.87 L194.2,372.19 L194.4,372.48 L194.6,372.75 L194.8,372.98 L195,373.19 L195.2,373.38 L195.4,373.54 L195.6,373.68 L195.8,373.81 L196,373.92 L196.2,374.01 L196.4,374.09 L196.6,374.16 L196.8,374.22 L197,374.27 L197.2,374.31 L197.4,374.35 L197.6,374.37 L197.8,374.4 L198,374.42 L198.2,374.43 L198.4,374.45 L198.6,374.46 L198.8,374.47 L199,374.47 L199.2,374.48 L199.4,374.48 L199.6,374.49 L199.8,374.49 L200,374.49 L200.2,374.49 L200.4,374.5 L200.6,374.5 L200.8,374.5 L201,374.5 L201.2,374.5 L201.4,374.5 L201.6,374.5 L201.8,374.5 L202,374.5 L202.2,374.5 L202.4,374.5 L202.6,374.5 L202.8,374.5 L203,374.5 L203.2,374.5 L203.4,374.5 L203.6,374.5 L203.8,374.5 L204,374.5 L204.2,374.5 L204.4,374.5 L204.6,374.5 L204.8,374.5 L205,374.5 L205.2,374.5 L205.4,374.5 L205.6,374.5 L205.8,374.5 L206,374.5 L206.2,374.5 L206.4,374.5 L206.6,374.5 L206.8,374.5 L207,374.5 L207.2,374.5 L207.4,374.5 L207.6,374.5 L207.8,374.5 L208,374.5 L208.2,374.5 L208.4,374.5 L208.6,374.5 L208.8,374.5 L209,374.5 L209.2,374.5 L209.4,374.5 L209.6,374.5 L209.8,374.5 L210,374.5 L210.2,374.5 L210.4,374.5 L210.6,374.5 L210.8,374.5 L211,374.5 L211.2,374.5 L211.4,374.5 L211.6,374.5 L211.8,374.5 L212,374.5 L212.2,374.5 L212.4,374.5 L212.6,374.5 L212.8,374.5 L213,374.5 L213.2,374.5 L213.4,374.5 L213.6,374.5 L213.8,374.5 L214,374.5 L214.2,374.5 L214.4,374.5 L214.6,374.5 L214.8,374.5 L215,374.5 L215.2,374.5 L215.4,374.5 L215.6,374.5 L215.8,374.5 L216,374.5 L216.2,374.5 L216.4,374.5 L216.6,374.5 L216.8,374.5 L217,374.5 L217.2,374.5 L217.4,374.5 L217.6,374.5 L217.8,374.5 L218,374.5 L218.2,374.5 L218.4,374.5 L218.6,374.5 L218.8,374.5 L219,374.5 L219.2,374.5 L219.4,374.5 L219.6,374.5 L219.8,374.5 L220,374.5 L220.2,374.5 L220.4,374.5 L220.6,374.5 L220.8,374.5 L221,374.5 L221.2,374.5 L221.4,374.5 L221.6,374.5 L221.6,374.5 Z" fill="#84d070" stroke="none" stroke-width="1" fill-opacity="0.8"/>
<path d="M142,374.5 L142,374.5 L142.2,374.5 L142.4,374.5 L142.6,374.5 L142.8,374.5 L143,374.5 L143.2,374.5 L143.4,374.5 L143.6,374.5 L143.8,374.5 L144,374.5 L144.2,374.5 L144.4,374.5 L144.6,374.5 L144.8,374.5 L145,374.5 L145.2,374.5 L145.4,374.5 L145.6,374.5 L145.8,374.5 L146,374.5 L146.2,374.5 L146.4,374.5 L146.6,374.5 L146.8,374.5 L147,374.5 L147.2,374.5 L147.4,374.5 L147.6,374.5 L147.8,374.5 L148,374.5 L148.2,374.5 L148.4,374.5 L148.6,374.5 L148.8,374.5 L149,374.5 L149.2,374.5 L149.4,374.5 L149.6,374.5 L149.8,374.5 L150,374.5 L150.2,374.5 L150.4,374.5 L150.6,374.5 L150.8,374.5 L151,374.5 L151.2,374.5 L151.4,374.5 L151.6,374.5 L151.8,374.5 L152,374.5 L152.2,374.5 L152.4,374.5 L152.6,374.5 L152.8,374.5 L153,374.5 L153.2,374.5 L153.4,374.5 L153.6,374.5 L153.8,374.5 L154,374.5 L154.2,374.5 L154.4,374.5 L154.6,374.5 L154.8,374.5 L155,374.5 L155.2,374.5 L155.4,374.5 L155.6,374.5 L155.8,374.5 L156,374.5 L156.2,374.5 L156.4,374.5 L156.6,374.5 L156.8,374.5 L157,374.5 L157.2,374.5 L157.4,374.5 L157.6,374.5 L157.8,374.5 L158,374.5 L158.2,374.5 L158.4,374.5 L158.6,374.5 L158.8,374.5 L159,374.5 L159.2,374.5 L159.4,374.5 L159.6,374.5 L159.8,374.49 L160,374.49 L160.2,374.48 L160.4,374.47 L160.6,374.45 L160.8,374.43 L161,374.38 L161.2,374.32 L161.4,374.22 L161.6,374.09 L161.8,373.89 L162,373.61 L162.2,373.22 L162.4,372.7 L162.6,372 L162.8,371.09 L163,369.91 L163.2,368.41 L163.4,366.56 L163.6,364.31 L163.8,361.61 L164,358.46 L164.2,354.85 L164.4,350.8 L164.6,346.36 L164.8,341.6 L165,336.63 L165.2,331.59 L165.4,326.63 L165.6,321.92 L165.8,317.65 L166,313.98 L166.2,311.08 L166.4,309.06 L166.6,308.03 L166.8,308.03 L167,309.06 L167.2,311.08 L167.4,313.98 L167.6,317.65 L167.8,321.92 L168,326.63 L168.2,331.59 L168.4,336.63 L168.6,341.6 L168.8,346.36 L169,350.8 L169.2,354.85 L169.4,358.46 L169.6,361.61 L169.8,364.31 L170,366.56 L170.2,368.41 L170.4,369.91 L170.6,371.09 L170.8,372 L171,372.7 L171.2,373.22 L171.4,373.61 L171.6,373.89 L171.8,374.09 L172,374.22 L172.2,374.32 L172.4,374.38 L172.6,374.43 L172.8,374.45 L173,374.47 L173.2,374.48 L173.4,374.49 L173.6,374.49 L173.8,374.5 L174,374.5 L174.2,374.5 L174.4,374.5 L174.6,374.5 L174.8,374.5 L175,374.5 L175.2,374.5 L175.4,374.5 L175.6,374.5 L175.8,374.5 L176,374.5 L176.2,374.5 L176.4,374.5 L176.6,374.5 L176.8,374.5 L177,374.5 L177.2,374.5 L177.4,374.5 L177.6,374.5 L177.8,374.5 L178,374.5 L178.2,374.5 L178.4,374.5 L178.6,374.5 L178.8,374.5 L179,374.5 L179.2,374.5 L179.4,374.5 L179.6,374.5 L179.8,374.5 L180,374.5 L180.2,374.5 L180.4,374.5 L180.6,374.5 L180.8,374.5 L181,374.5 L181.2,374.5 L181.4,374.5 L181.6,374.5 L181.8,374.5 L182,374.5 L182.2,374.5 L182.4,374.5 L182.6,374.5 L182.8,374.5 L183,374.5 L183.2,374.5 L183.4,374.5 L183.6,374.5 L183.8,374.5 L184,374.5 L184.2,374.5 L184.4,374.5 L184.6,374.5 L184.8,374.5 L185,374.5 L185.2,374.5 L185.4,374.5 L185.6,374.5 L185.8,374.5 L186,374.5 L186.2,374.5 L186.4,374.5 L186.6,374.5 L186.8,374.5 L187,374.5 L187.2,374.5 L187.4,374.5 L187.6,374.5 L187.8,374.5 L188,374.5 L188.2,374.5 L188.4,374.5 L188.6,374.5 L188.8,374.5 L189,374.5 L189.2,374.5 L189.4,374.5 L189.6,374.5 L189.8,374.5 L190,374.5 L190.2,374.5 L190.4,374.5 L190.6,374.5 L190.8,374.5 L191,374.5 L191.2,374.5 L191.4,374.5 L191.6,374.5 L191.8,374.5 L192,374.5 L192.2,374.5 L192.4,374.5 L192.6,374.5 L192.8,374.5 L193,374.5 L193.2,374.5 L193.4,374.5 L193.6,374.5 L193.8,374.5 L194,374.5 L194.2,374.5 L194.4,374.5 L194.6,374.5 L194.8,374.5 L195,374.5 L195.2,374.5 L195.4,374.5 L195.6,374.5 L195.8,374.5 L196,374.5 L196.2,374.5 L196.4,374.5 L196.6,374.5 L196.8,374.5 L197,374.5 L197.2,374.5 L197.4,374.5 L197.6,374.5 L197.8,374.5 L198,374.5 L198.2,374.5 L198.4,374.5 L198.6,374.5 L198.8,374.5 L199,374.5 L199.2,374.5 L199.4,374.5 L199.6,374.5 L199.8,374.5 L200,374.5 L200.2,374.5 L200.4,374.5 L200.6,374.5 L200.8,374.5 L201,374.5 L201.2,374.5 L201.4,374.5 L201.6,374.5 L201.8,374.5 L202,374.5 L202.2,374.5 L202.4,374.5 L202.6,374.5 L202.8,374.5 L203,374.5 L203.2,374.5 L203.4,374.5 L203.6,374.5 L203.8,374.5 L204,374.5 L204.2,374.5 L204.4,374.5 L204.6,374.5 L204.8,374.5 L205,374.5 L205.2,374.5 L205.4,374.5 L205.6,374.5 L205.8,374.5 L206,374.5 L206.2,374.5 L206.4,374.5 L206.6,374.5 L206.8,374.5 L207,374.5 L207.2,374.5 L207.4,374.5 L207.6,374.5 L207.8,374.5 L208,374.5 L208.2,374.5 L208.4,374.5 L208.6,374.5 L208.8,374.5 L209,374.5 L209.2,374.5 L209.4,374.5 L209.6,374.5 L209.8,374.5 L210,374.5 L210.2,374.5 L210.4,374.5 L210.6,374.5 L210.8,374.5 L211,374.5 L211.2,374.5 L211.4,374.5 L211.6,374.5 L211.8,374.5 L212,374.5 L212.2,374.5 L212.4,374.5 L212.6,374.5 L212.8,374.5 L213,374.5 L213.2,374.5 L213.4,374.5 L213.6,374.5 L213.8,374.5 L214,374.5 L214.2,374.5 L214.4,374.5 L214.6,374.5 L214.8,374.5 L215,374.5 L215.2,374.5 L215.4,374.5 L215.6,374.5 L215.8,374.5 L216,374.5 L216.2,374.5 L216.4,374.5 L216.6,374.5 L216.8,374.5 L217,374.5 L217.2,374.5 L217.4,374.5 L217.6,374.5 L217.8,374.5 L218,374.5 L218.2,374.5 L218.4,374.5 L218.6,374.5 L218.8,374.5 L219,374.5 L219.2,374.5 L219.4,374.5 L219.6,374.5 L219.8,374.5 L220,374.5 L220.2,374.5 L220.4,374.5 L220.6,374.5 L220.8,374.5 L221,374.5 L221.2,374.5 L221.4,374.5 L221.6,374.5 L221.6,374.5 Z" fill="#8f92e2" stroke="none" stroke-width="1" fill-opacity="0.85"/>
<path d="M142,374.5 L142.2,374.5 L142.4,374.5 L142.6,374.5 L142.8,374.5 L143,374.5 L143.2,374.5 L143.4,374.5 L143.6,374.5 L143.8,374.5 L144,374.5 L144.2,374.5 L144.4,374.5 L144.6,374.5 L144.8,374.5 L145,374.5 L145.2,374.5 L145.4,374.5 L145.6,374.5 L145.8,374.5 L146,374.5 L146.2,374.5 L146.4,374.5 L146.6,374.5 L146.8,374.5 L147,374.5 L147.2,374.5 L147.4,374.5 L147.6,374.5 L147.8,374.5 L148,374.5 L148.2,374.5 L148.4,374.5 L148.6,374.5 L148.8,374.5 L149,374.5 L149.2,374.5 L149.4,374.5 L149.6,374.5 L149.8,374.5 L150,374.5 L150.2,374.5 L150.4,374.5 L150.6,374.5 L150.8,374.5 L151,374.5 L151.2,374.5 L151.4,374.5 L151.6,374.5 L151.8,374.5 L152,374.5 L152.2,374.5 L152.4,374.5 L152.6,374.5 L152.8,374.5 L153,374.5 L153.2,374.5 L153.4,374.5 L153.6,374.5 L153.8,374.5 L154,374.5 L154.2,374.5 L154.4,374.5 L154.6,374.5 L154.8,374.5 L155,374.5 L155.2,374.5 L155.4,374.5 L155.6,374.5 L155.8,374.5 L156,374.5 L156.2,374.5 L156.4,374.5 L156.6,374.5 L156.8,374.5 L157,374.5 L157.2,374.5 L157.4,374.5 L157.6,374.5 L157.8,374.5 L158,374.5 L158.2,374.5 L158.4,374.5 L158.6,374.5 L158.8,374.5 L159,374.5 L159.2,374.5 L159.4,374.5 L159.6,374.5 L159.8,374.49 L160,374.49 L160.2,374.48 L160.4,374.47 L160.6,374.45 L160.8,374.43 L161,374.38 L161.2,374.32 L161.4,374.22 L161.6,374.08 L161.8,373.88 L162,373.6 L162.2,373.21 L162.4,372.68 L162.6,371.97 L162.8,371.04 L163,369.84 L163.2,368.32 L163.4,366.44 L163.6,364.13 L163.8,361.37 L164,358.14 L164.2,354.41 L164.4,350.22 L164.6,345.6 L164.8,340.62 L165,335.38 L165.2,330.02 L165.4,324.68 L165.6,319.54 L165.8,314.76 L166,310.52 L166.2,306.98 L166.4,304.27 L166.6,302.49 L166.8,301.7 L167,301.91 L167.2,303.09 L167.4,305.14 L167.6,307.97 L167.8,311.41 L168,315.32 L168.2,319.53 L168.4,323.86 L168.6,328.19 L168.8,332.36 L169,336.29 L169.2,339.89 L169.4,343.12 L169.6,345.95 L169.8,348.39 L170,350.44 L170.2,352.13 L170.4,353.51 L170.6,354.61 L170.8,355.47 L171,356.15 L171.2,356.66 L171.4,357.06 L171.6,357.36 L171.8,357.59 L172,357.77 L172.2,357.91 L172.4,358.02 L172.6,358.12 L172.8,358.2 L173,358.27 L173.2,358.34 L173.4,358.4 L173.6,358.46 L173.8,358.52 L174,358.58 L174.2,358.64 L174.4,358.69 L174.6,358.75 L174.8,358.81 L175,358.87 L175.2,358.93 L175.4,358.99 L175.6,359.05 L175.8,359.11 L176,359.17 L176.2,359.23 L176.4,359.3 L176.6,359.36 L176.8,359.43 L177,359.5 L177.2,359.57 L177.4,359.65 L177.6,359.73 L177.8,359.81 L178,359.89 L178.2,359.98 L178.4,360.08 L178.6,360.18 L178.8,360.28 L179,360.39 L179.2,360.51 L179.4,360.63 L179.6,360.76 L179.8,360.89 L180,361.03 L180.2,361.17 L180.4,361.31 L180.6,361.45 L180.8,361.6 L181,361.74 L181.2,361.88 L181.4,362.01 L181.6,362.14 L181.8,362.25 L182,362.35 L182.2,362.43 L182.4,362.49 L182.6,362.53 L182.8,362.54 L183,362.52 L183.2,362.48 L183.4,362.4 L183.6,362.28 L183.8,362.11 L184,361.91 L184.2,361.68 L184.4,361.41 L184.6,361.12 L184.8,360.8 L185,360.46 L185.2,360.1 L185.4,359.73 L185.6,359.35 L185.8,358.97 L186,358.59 L186.2,358.22 L186.4,357.86 L186.6,357.53 L186.8,357.24 L187,356.98 L187.2,356.76 L187.4,356.59 L187.6,356.48 L187.8,356.42 L188,356.43 L188.2,356.5 L188.4,356.64 L188.6,356.84 L188.8,357.1 L189,357.43 L189.2,357.82 L189.4,358.27 L189.6,358.77 L189.8,359.32 L190,359.91 L190.2,360.54 L190.4,361.19 L190.6,361.87 L190.8,362.57 L191,363.28 L191.2,363.99 L191.4,364.7 L191.6,365.4 L191.8,366.08 L192,366.75 L192.2,367.4 L192.4,368.02 L192.6,368.62 L192.8,369.18 L193,369.71 L193.2,370.2 L193.4,370.67 L193.6,371.09 L193.8,371.49 L194,371.85 L194.2,372.17 L194.4,372.47 L194.6,372.73 L194.8,372.97 L195,373.18 L195.2,373.37 L195.4,373.54 L195.6,373.68 L195.8,373.81 L196,373.92 L196.2,374.01 L196.4,374.09 L196.6,374.16 L196.8,374.22 L197,374.27 L197.2,374.31 L197.4,374.34 L197.6,374.37 L197.8,374.4 L198,374.42 L198.2,374.43 L198.4,374.45 L198.6,374.46 L198.8,374.47 L199,374.47 L199.2,374.48 L199.4,374.48 L199.6,374.49 L199.8,374.49 L200,374.49 L200.2,374.49 L200.4,374.5 L200.6,374.5 L200.8,374.5 L201,374.5 L201.2,374.5 L201.4,374.5 L201.6,374.5 L201.8,374.5 L202,374.5 L202.2,374.5 L202.4,374.5 L202.6,374.5 L202.8,374.5 L203,374.5 L203.2,374.5 L203.4,374.5 L203.6,374.5 L203.8,374.5 L204,374.5 L204.2,374.5 L204.4,374.5 L204.6,374.5 L204.8,374.5 L205,374.5 L205.2,374.5 L205.4,374.5 L205.6,374.5 L205.8,374.5 L206,374.5 L206.2,374.5 L206.4,374.5 L206.6,374.5 L206.8,374.5 L207,374.5 L207.2,374.5 L207.4,374.5 L207.6,374.5 L207.8,374.5 L208,374.5 L208.2,374.5 L208.4,374.5 L208.6,374.5 L208.8,374.5 L209,374.5 L209.2,374.5 L209.4,374.5 L209.6,374.5 L209.8,374.5 L210,374.5 L210.2,374.5 L210.4,374.5 L210.6,374.5 L210.8,374.5 L211,374.5 L211.2,374.5 L211.4,374.5 L211.6,374.5 L211.8,374.5 L212,374.5 L212.2,374.5 L212.4,374.5 L212.6,374.5 L212.8,374.5 L213,374.5 L213.2,374.5 L213.4,374.5 L213.6,374.5 L213.8,374.5 L214,374.5 L214.2,374.5 L214.4,374.5 L214.6,374.5 L214.8,374.5 L215,374.5 L215.2,374.5 L215.4,374.5 L215.6,374.5 L215.8,374.5 L216,374.5 L216.2,374.5 L216.4,374.5 L216.6,374.5 L216.8,374.5 L217,374.5 L217.2,374.5 L217.4,374.5 L217.6,374.5 L217.8,374.5 L218,374.5 L218.2,374.5 L218.4,374.5 L218.6,374.5 L218.8,374.5 L219,374.5 L219.2,374.5 L219.4,374.5 L219.6,374.5 L219.8,374.5 L220,374.5 L220.2,374.5 L220.4,374.5 L220.6,374.5 L220.8,374.5 L221,374.5 L221.2,374.5 L221.4,374.5 L221.6,374.5" fill="none" stroke="#c93fa6" stroke-width="1" stroke-linejoin="round"/>
<path d="M142,374.2 L142.2,374.2 L142.4,374.2 L142.6,374.2 L142.8,374.2 L143,374.2 L143.2,374.2 L143.4,374.2 L143.6,374.2 L143.8,374.2 L144,374.2 L144.2,374.2 L144.4,374.2 L144.6,374.2 L144.8,374.2 L145,374.2 L145.2,374.2 L145.4,374.2 L145.6,374.2 L145.8,374.2 L146,374.2 L146.2,374.2 L146.4,374.2 L146.6,374.2 L146.8,374.2 L147,374.2 L147.2,374.2 L147.4,374.2 L147.6,374.2 L147.8,374.2 L148,374.2 L148.2,374.2 L148.4,374.2 L148.6,374.2 L148.8,374.2 L149,374.2 L149.2,374.2 L149.4,374.2 L149.6,374.2 L149.8,374.2 L150,374.2 L150.2,374.2 L150.4,374.2 L150.6,374.2 L150.8,374.2 L151,374.2 L151.2,374.2 L151.4,374.2 L151.6,374.2 L151.8,374.2 L152,374.2 L152.2,374.2 L152.4,374.2 L152.6,374.2 L152.8,374.2 L153,374.2 L153.2,374.2 L153.4,374.2 L153.6,374.2 L153.8,374.2 L154,374.2 L154.2,374.2 L154.4,374.2 L154.6,374.2 L154.8,374.2 L155,374.2 L155.2,374.2 L155.4,374.2 L155.6,374.2 L155.8,374.2 L156,374.2 L156.2,374.2 L156.4,374.2 L156.6,374.2 L156.8,374.2 L157,374.2 L157.2,374.2 L157.4,374.2 L157.6,374.2 L157.8,374.2 L158,374.2 L158.2,374.2 L158.4,374.2 L158.6,374.2 L158.8,374.2 L159,374.2 L159.2,374.2 L159.4,374.2 L159.6,374.2 L159.8,374.19 L160,374.19 L160.2,374.18 L160.4,374.17 L160.6,374.15 L160.8,374.13 L161,374.08 L161.2,374.02 L161.4,373.92 L161.6,373.78 L161.8,373.58 L162,373.3 L162.2,372.91 L162.4,372.38 L162.6,371.67 L162.8,370.74 L163,369.54 L163.2,368.02 L163.4,366.14 L163.6,363.83 L163.8,361.07 L164,357.84 L164.2,354.11 L164.4,349.92 L164.6,345.3 L164.8,340.32 L165,335.08 L165.2,329.72 L165.4,324.38 L165.6,319.24 L165.8,314.46 L166,310.22 L166.2,306.68 L166.4,303.97 L166.6,302.19 L166.8,301.4 L167,301.61 L167.2,302.79 L167.4,304.84 L167.6,307.67 L167.8,311.11 L168,315.02 L168.2,319.23 L168.4,323.56 L168.6,327.89 L168.8,332.06 L169,335.99 L169.2,339.59 L169.4,342.82 L169.6,345.65 L169.8,348.09 L170,350.14 L170.2,351.83 L170.4,353.21 L170.6,354.31 L170.8,355.17 L171,355.85 L171.2,356.36 L171.4,356.76 L171.6,357.06 L171.8,357.29 L172,357.47 L172.2,357.61 L172.4,357.72 L172.6,357.82 L172.8,357.9 L173,357.97 L173.2,358.04 L173.4,358.1 L173.6,358.16 L173.8,358.22 L174,358.28 L174.2,358.34 L174.4,358.39 L174.6,358.45 L174.8,358.51 L175,358.57 L175.2,358.63 L175.4,358.69 L175.6,358.75 L175.8,358.81 L176,358.87 L176.2,358.93 L176.4,359 L176.6,359.06 L176.8,359.13 L177,359.2 L177.2,359.27 L177.4,359.35 L177.6,359.43 L177.8,359.51 L178,359.59 L178.2,359.68 L178.4,359.78 L178.6,359.88 L178.8,359.98 L179,360.09 L179.2,360.21 L179.4,360.33 L179.6,360.46 L179.8,360.59 L180,360.73 L180.2,360.87 L180.4,361.01 L180.6,361.15 L180.8,361.3 L181,361.44 L181.2,361.58 L181.4,361.71 L181.6,361.84 L181.8,361.95 L182,362.05 L182.2,362.13 L182.4,362.19 L182.6,362.23 L182.8,362.24 L183,362.22 L183.2,362.18 L183.4,362.1 L183.6,361.98 L183.8,361.81 L184,361.61 L184.2,361.38 L184.4,361.11 L184.6,360.82 L184.8,360.5 L185,360.16 L185.2,359.8 L185.4,359.43 L185.6,359.05 L185.8,358.67 L186,358.29 L186.2,357.92 L186.4,357.56 L186.6,357.23 L186.8,356.94 L187,356.68 L187.2,356.46 L187.4,356.29 L187.6,356.18 L187.8,356.12 L188,356.13 L188.2,356.2 L188.4,356.34 L188.6,356.54 L188.8,356.8 L189,357.13 L189.2,357.52 L189.4,357.97 L189.6,358.47 L189.8,359.02 L190,359.61 L190.2,360.24 L190.4,360.89 L190.6,361.57 L190.8,362.27 L191,362.98 L191.2,363.69 L191.4,364.4 L191.6,365.1 L191.8,365.78 L192,366.45 L192.2,367.1 L192.4,367.72 L192.6,368.32 L192.8,368.88 L193,369.41 L193.2,369.9 L193.4,370.37 L193.6,370.79 L193.8,371.19 L194,371.55 L194.2,371.87 L194.4,372.17 L194.6,372.43 L194.8,372.67 L195,372.88 L195.2,373.07 L195.4,373.24 L195.6,373.38 L195.8,373.51 L196,373.62 L196.2,373.71 L196.4,373.79 L196.6,373.86 L196.8,373.92 L197,373.97 L197.2,374.01 L197.4,374.04 L197.6,374.07 L197.8,374.1 L198,374.12 L198.2,374.13 L198.4,374.15 L198.6,374.16 L198.8,374.17 L199,374.17 L199.2,374.18 L199.4,374.18 L199.6,374.19 L199.8,374.19 L200,374.19 L200.2,374.19 L200.4,374.2 L200.6,374.2 L200.8,374.2 L201,374.2 L201.2,374.2 L201.4,374.2 L201.6,374.2 L201.8,374.2 L202,374.2 L202.2,374.2 L202.4,374.2 L202.6,374.2 L202.8,374.2 L203,374.2 L203.2,374.2 L203.4,374.2 L203.6,374.2 L203.8,374.2 L204,374.2 L204.2,374.2 L204.4,374.2 L204.6,374.2 L204.8,374.2 L205,374.2 L205.2,374.2 L205.4,374.2 L205.6,374.2 L205.8,374.2 L206,374.2 L206.2,374.2 L206.4,374.2 L206.6,374.2 L206.8,374.2 L207,374.2 L207.2,374.2 L207.4,374.2 L207.6,374.2 L207.8,374.2 L208,374.2 L208.2,374.2 L208.4,374.2 L208.6,374.2 L208.8,374.2 L209,374.2 L209.2,374.2 L209.4,374.2 L209.6,374.2 L209.8,374.2 L210,374.2 L210.2,374.2 L210.4,374.2 L210.6,374.2 L210.8,374.2 L211,374.2 L211.2,374.2 L211.4,374.2 L211.6,374.2 L211.8,374.2 L212,374.2 L212.2,374.2 L212.4,374.2 L212.6,374.2 L212.8,374.2 L213,374.2 L213.2,374.2 L213.4,374.2 L213.6,374.2 L213.8,374.2 L214,374.2 L214.2,374.2 L214.4,374.2 L214.6,374.2 L214.8,374.2 L215,374.2 L215.2,374.2 L215.4,374.2 L215.6,374.2 L215.8,374.2 L216,374.2 L216.2,374.2 L216.4,374.2 L216.6,374.2 L216.8,374.2 L217,374.2 L217.2,374.2 L217.4,374.2 L217.6,374.2 L217.8,374.2 L218,374.2 L218.2,374.2 L218.4,374.2 L218.6,374.2 L218.8,374.2 L219,374.2 L219.2,374.2 L219.4,374.2 L219.6,374.2 L219.8,374.2 L220,374.2 L220.2,374.2 L220.4,374.2 L220.6,374.2 L220.8,374.2 L221,374.2 L221.2,374.2 L221.4,374.2 L221.6,374.2" fill="none" stroke="#333" stroke-width="0.35" stroke-linejoin="round"/>
<rect x="184.5" y="298" width="8" height="2.4" fill="#a88ad8" stroke="none" stroke-width="1"/>
<text x="195.7" y="301.2" font-size="5.75" fill="#2a2a2a">%G1:37.2</text>
<rect x="184.5" y="304.7" width="8" height="2.4" fill="#e4e44e" stroke="none" stroke-width="1"/>
<text x="195.7" y="307.9" font-size="5.75" fill="#2a2a2a">%S:41.8</text>
<rect x="184.5" y="311.4" width="8" height="2.4" fill="#8acd70" stroke="none" stroke-width="1"/>
<text x="195.7" y="314.6" font-size="5.75" fill="#2a2a2a">%G2:21.1</text>
<line x1="262.9" y1="216.4" x2="262.9" y2="284" stroke="#231f20" stroke-width="1.1"/>
<line x1="262.4" y1="283.5" x2="363.9" y2="283.5" stroke="#231f20" stroke-width="1.1"/>
<line x1="262.9" y1="283.5" x2="262.9" y2="286.1" stroke="#231f20" stroke-width="1.1"/>
<text x="262.9" y="292.7" font-size="6.6" text-anchor="middle">0</text>
<line x1="283.1" y1="283.5" x2="283.1" y2="286.1" stroke="#231f20" stroke-width="1.1"/>
<text x="283.1" y="292.7" font-size="6.6" text-anchor="middle">20</text>
<line x1="303.3" y1="283.5" x2="303.3" y2="286.1" stroke="#231f20" stroke-width="1.1"/>
<text x="303.3" y="292.7" font-size="6.6" text-anchor="middle">40</text>
<line x1="323.5" y1="283.5" x2="323.5" y2="286.1" stroke="#231f20" stroke-width="1.1"/>
<text x="323.5" y="292.7" font-size="6.6" text-anchor="middle">60</text>
<line x1="343.7" y1="283.5" x2="343.7" y2="286.1" stroke="#231f20" stroke-width="1.1"/>
<text x="343.7" y="292.7" font-size="6.6" text-anchor="middle">80</text>
<line x1="363.9" y1="283.5" x2="363.9" y2="286.1" stroke="#231f20" stroke-width="1.1"/>
<text x="363.9" y="292.7" font-size="6.6" text-anchor="middle">100</text>
<text x="313.6" y="217.2" font-size="8.4" text-anchor="middle">Huh7</text>
<rect x="262.9" y="226" width="60.2" height="19" fill="#3d4aa6" stroke="none" stroke-width="1"/>
<rect x="323.1" y="226" width="25.55" height="19" fill="#ede734" stroke="none" stroke-width="1"/>
<rect x="348.65" y="226" width="13.43" height="19" fill="#5fbf93" stroke="none" stroke-width="1"/>
<line x1="260.3" y1="235.5" x2="262.9" y2="235.5" stroke="#231f20" stroke-width="1.1"/>
<text x="258.3" y="237.8" font-size="6.3" text-anchor="end">Ctrl</text>
<rect x="262.9" y="254.7" width="52.52" height="19.1" fill="#3d4aa6" stroke="none" stroke-width="1"/>
<rect x="315.42" y="254.7" width="31.31" height="19.1" fill="#ede734" stroke="none" stroke-width="1"/>
<rect x="346.73" y="254.7" width="17.17" height="19.1" fill="#5fbf93" stroke="none" stroke-width="1"/>
<line x1="260.3" y1="264.25" x2="262.9" y2="264.25" stroke="#231f20" stroke-width="1.1"/>
<text x="258.3" y="266.55" font-size="6.3" text-anchor="end">BMP9</text>
<line x1="262.9" y1="303.2" x2="262.9" y2="371.5" stroke="#231f20" stroke-width="1.1"/>
<line x1="262.4" y1="371" x2="363.9" y2="371" stroke="#231f20" stroke-width="1.1"/>
<line x1="262.9" y1="371" x2="262.9" y2="373.6" stroke="#231f20" stroke-width="1.1"/>
<text x="262.9" y="380.2" font-size="6.6" text-anchor="middle">0</text>
<line x1="283.1" y1="371" x2="283.1" y2="373.6" stroke="#231f20" stroke-width="1.1"/>
<text x="283.1" y="380.2" font-size="6.6" text-anchor="middle">20</text>
<line x1="303.3" y1="371" x2="303.3" y2="373.6" stroke="#231f20" stroke-width="1.1"/>
<text x="303.3" y="380.2" font-size="6.6" text-anchor="middle">40</text>
<line x1="323.5" y1="371" x2="323.5" y2="373.6" stroke="#231f20" stroke-width="1.1"/>
<text x="323.5" y="380.2" font-size="6.6" text-anchor="middle">60</text>
<line x1="343.7" y1="371" x2="343.7" y2="373.6" stroke="#231f20" stroke-width="1.1"/>
<text x="343.7" y="380.2" font-size="6.6" text-anchor="middle">80</text>
<line x1="363.9" y1="371" x2="363.9" y2="373.6" stroke="#231f20" stroke-width="1.1"/>
<text x="363.9" y="380.2" font-size="6.6" text-anchor="middle">100</text>
<text x="315.8" y="309.6" font-size="8.4" text-anchor="middle">Hep3B</text>
<rect x="262.9" y="313.4" width="39.69" height="19.1" fill="#3d4aa6" stroke="none" stroke-width="1"/>
<rect x="302.59" y="313.4" width="37.47" height="19.1" fill="#ede734" stroke="none" stroke-width="1"/>
<rect x="340.06" y="313.4" width="23.84" height="19.1" fill="#5fbf93" stroke="none" stroke-width="1"/>
<line x1="260.3" y1="322.95" x2="262.9" y2="322.95" stroke="#231f20" stroke-width="1.1"/>
<text x="258.3" y="325.25" font-size="6.3" text-anchor="end">Ctrl</text>
<rect x="262.9" y="342.2" width="37.57" height="19" fill="#3d4aa6" stroke="none" stroke-width="1"/>
<rect x="300.47" y="342.2" width="42.22" height="19" fill="#ede734" stroke="none" stroke-width="1"/>
<rect x="342.69" y="342.2" width="21.21" height="19" fill="#5fbf93" stroke="none" stroke-width="1"/>
<line x1="260.3" y1="351.7" x2="262.9" y2="351.7" stroke="#231f20" stroke-width="1.1"/>
<text x="258.3" y="354" font-size="6.3" text-anchor="end">BMP9</text>
<rect x="379" y="219.4" width="7.4" height="2.2" fill="#3d4aa6" stroke="none" stroke-width="1"/>
<text x="390.9" y="222.6" font-size="5.9" style="font-weight:normal" stroke="#222" stroke-width="0.22" fill="#222">G1</text>
<rect x="379" y="228.75" width="7.4" height="2.2" fill="#ede734" stroke="none" stroke-width="1"/>
<text x="390.9" y="231.95" font-size="5.9" style="font-weight:normal" stroke="#222" stroke-width="0.22" fill="#222">S</text>
<rect x="379" y="238.1" width="7.4" height="2.2" fill="#5fbf93" stroke="none" stroke-width="1"/>
<text x="390.9" y="241.3" font-size="5.9" style="font-weight:normal" stroke="#222" stroke-width="0.22" fill="#222">G2/M</text>
<rect x="379" y="306.9" width="7.4" height="2.2" fill="#3d4aa6" stroke="none" stroke-width="1"/>
<text x="390.9" y="310.1" font-size="5.9" style="font-weight:normal" stroke="#222" stroke-width="0.22" fill="#222">G1</text>
<rect x="379" y="316.2" width="7.4" height="2.2" fill="#ede734" stroke="none" stroke-width="1"/>
<text x="390.9" y="319.4" font-size="5.9" style="font-weight:normal" stroke="#222" stroke-width="0.22" fill="#222">S</text>
<rect x="379" y="325.5" width="7.4" height="2.2" fill="#5fbf93" stroke="none" stroke-width="1"/>
<text x="390.9" y="328.7" font-size="5.9" style="font-weight:normal" stroke="#222" stroke-width="0.22" fill="#222">G2/M</text>
<text x="465.4" y="241.6" font-size="6.4" text-anchor="middle" style="font-weight:normal" stroke="#231f20" stroke-width="0.22">Ctrl</text>
<text x="515.8" y="241.6" font-size="6.4" text-anchor="middle" style="font-weight:normal" stroke="#231f20" stroke-width="0.22">BMP9</text>
<line x1="448.3" y1="250.6" x2="448.3" y2="297.5" stroke="#111" stroke-width="1.5"/>
<text x="444.5" y="272.6" font-size="7.5" text-anchor="middle" transform="rotate(-90 444.5 272.6)">Huh7</text>
<line x1="448.3" y1="315.8" x2="448.3" y2="363.1" stroke="#111" stroke-width="1.5"/>
<text x="444.5" y="340.6" font-size="7.9" text-anchor="middle" transform="rotate(-90 444.5 340.6)">Hep3B</text>
<rect x="452" y="245" width="77.4" height="28.4" fill="#fbfbfb" stroke="#2b2b2b" stroke-width="0.9"/>
<ellipse cx="465.4" cy="259.8" rx="7.8" ry="8" fill="url(#dotBlk)"/>
<ellipse cx="516" cy="259" rx="7" ry="7.2" fill="url(#dotGray)"/>
<text x="532.2" y="261" font-size="6.6" style="font-weight:normal" stroke="#231f20" stroke-width="0.22">m<tspan font-size="4.8" dy="-2.9">6</tspan><tspan dy="2.9">A</tspan></text>
<rect x="452" y="276.4" width="77.4" height="29" fill="url(#mbBg)" stroke="#2b2b2b" stroke-width="0.9"/>
<ellipse cx="465" cy="290.3" rx="5.9" ry="7.1" fill="#78c3d9" stroke="#33a4ee" stroke-width="1.6"/>
<ellipse cx="513.8" cy="289.2" rx="5.9" ry="7.1" fill="#78c3d9" stroke="#33a4ee" stroke-width="1.6"/>
<text x="533" y="293.2" font-size="6.6" style="font-weight:normal" stroke="#231f20" stroke-width="0.22">MB</text>
<rect x="452" y="310.5" width="77.4" height="29.2" fill="#fbfbfb" stroke="#2b2b2b" stroke-width="0.9"/>
<ellipse cx="464.9" cy="326.2" rx="6.6" ry="8.2" fill="url(#dotBlk)"/>
<ellipse cx="515.5" cy="322.5" rx="6.6" ry="7.6" fill="url(#dotGray2)"/>
<text x="532.2" y="326.9" font-size="6.6" style="font-weight:normal" stroke="#231f20" stroke-width="0.22">m<tspan font-size="4.8" dy="-2.9">6</tspan><tspan dy="2.9">A</tspan></text>
<rect x="452" y="342" width="77.4" height="29.4" fill="url(#mbBg2)" stroke="#2b2b2b" stroke-width="0.9"/>
<ellipse cx="464.6" cy="355.8" rx="6.7" ry="6.9" fill="#8ccfe3" stroke="#33a4ee" stroke-width="1.6"/>
<ellipse cx="515.2" cy="356.6" rx="7.1" ry="7.1" fill="#8ccfe3" stroke="#33a4ee" stroke-width="1.6"/>
<text x="533" y="359" font-size="6.6" style="font-weight:normal" stroke="#231f20" stroke-width="0.22">MB</text>
<path d="M54,409.9 L54,405.7 L451.7,405.7 L451.7,409.9" fill="none" stroke="#2a2a2a" stroke-width="1"/>
<text x="250.6" y="401.4" font-size="7.4" text-anchor="middle">Huh7</text>
<path d="M54.4,538.5 L54.4,534.4 L451.7,534.4 L451.7,538.5" fill="none" stroke="#2a2a2a" stroke-width="1"/>
<text x="251.3" y="530.1" font-size="7.4" text-anchor="middle">Hep3B</text>
<line x1="43.8" y1="425.8" x2="43.8" y2="500.2" stroke="#231f20" stroke-width="1"/>
<line x1="43.3" y1="499.7" x2="117" y2="499.7" stroke="#231f20" stroke-width="1"/>
<line x1="41.2" y1="499.7" x2="43.8" y2="499.7" stroke="#231f20" stroke-width="1"/>
<line x1="41.2" y1="481.32" x2="43.8" y2="481.32" stroke="#231f20" stroke-width="1"/>
<line x1="41.2" y1="462.95" x2="43.8" y2="462.95" stroke="#231f20" stroke-width="1"/>
<line x1="41.2" y1="444.57" x2="43.8" y2="444.57" stroke="#231f20" stroke-width="1"/>
<line x1="41.2" y1="426.2" x2="43.8" y2="426.2" stroke="#231f20" stroke-width="1"/>
<text x="35.7" y="501.6" font-size="5.3" text-anchor="middle">0</text>
<text x="35.7" y="483.22" font-size="5.3" text-anchor="middle">1</text>
<text x="35.7" y="464.85" font-size="5.3" text-anchor="middle">2</text>
<text x="35.7" y="446.47" font-size="5.3" text-anchor="middle">3</text>
<text x="35.7" y="428.1" font-size="5.3" text-anchor="middle">4</text>
<rect x="54.3" y="481.32" width="20.7" height="18.38" fill="#d3d3d3" stroke="#1a1a1a" stroke-width="1"/>
<line x1="64.65" y1="499.7" x2="64.65" y2="502.3" stroke="#231f20" stroke-width="1"/>
<text x="63.35" y="509.3" font-size="5.5" text-anchor="middle">Ctrl</text>
<rect x="85.9" y="446.78" width="20.7" height="52.92" fill="#d3d3d3" stroke="#1a1a1a" stroke-width="1"/>
<line x1="96.25" y1="499.7" x2="96.25" y2="502.3" stroke="#231f20" stroke-width="1"/>
<text x="94.95" y="509.3" font-size="5.5" text-anchor="middle">BMP9</text>
<line x1="64.65" y1="482.24" x2="64.65" y2="480.41" stroke="#231f20" stroke-width="1"/>
<line x1="60.25" y1="482.24" x2="69.05" y2="482.24" stroke="#231f20" stroke-width="1"/>
<line x1="60.25" y1="480.41" x2="69.05" y2="480.41" stroke="#231f20" stroke-width="1"/>
<circle cx="59.65" cy="480.59" r="1.65" fill="#111"/>
<circle cx="64.65" cy="481.32" r="1.65" fill="#111"/>
<circle cx="69.65" cy="482.24" r="1.65" fill="#111"/>
<line x1="96.25" y1="448.43" x2="96.25" y2="444.94" stroke="#231f20" stroke-width="1"/>
<line x1="91.85" y1="448.43" x2="100.65" y2="448.43" stroke="#231f20" stroke-width="1"/>
<line x1="91.85" y1="444.94" x2="100.65" y2="444.94" stroke="#231f20" stroke-width="1"/>
<rect x="89.6" y="443.84" width="3.3" height="3.3" fill="#111" stroke="none" stroke-width="1"/>
<rect x="94.6" y="444.76" width="3.3" height="3.3" fill="#111" stroke="none" stroke-width="1"/>
<rect x="99.6" y="446.6" width="3.3" height="3.3" fill="#111" stroke="none" stroke-width="1"/>
<line x1="65.6" y1="441.6" x2="97.2" y2="441.6" stroke="#231f20" stroke-width="0.9"/>
<text x="81.6" y="442.2" font-size="6.4" text-anchor="middle" letter-spacing="0.35">****</text>
<text x="78.9" y="422" font-size="7.55" text-anchor="middle">ID1</text>
<text x="29.7" y="459.95" font-size="7.9" text-anchor="middle" transform="rotate(-90 29.7 459.95)">Relative to &#946;-actin</text>
<line x1="156.3" y1="425.8" x2="156.3" y2="500.2" stroke="#231f20" stroke-width="1"/>
<line x1="155.8" y1="499.7" x2="228" y2="499.7" stroke="#231f20" stroke-width="1"/>
<line x1="153.7" y1="499.7" x2="156.3" y2="499.7" stroke="#231f20" stroke-width="1"/>
<line x1="153.7" y1="481.32" x2="156.3" y2="481.32" stroke="#231f20" stroke-width="1"/>
<line x1="153.7" y1="462.95" x2="156.3" y2="462.95" stroke="#231f20" stroke-width="1"/>
<line x1="153.7" y1="444.57" x2="156.3" y2="444.57" stroke="#231f20" stroke-width="1"/>
<line x1="153.7" y1="426.2" x2="156.3" y2="426.2" stroke="#231f20" stroke-width="1"/>
<text x="148.2" y="501.6" font-size="5.3" text-anchor="middle">0</text>
<text x="148.2" y="483.22" font-size="5.3" text-anchor="middle">1</text>
<text x="148.2" y="464.85" font-size="5.3" text-anchor="middle">2</text>
<text x="148.2" y="446.47" font-size="5.3" text-anchor="middle">3</text>
<text x="148.2" y="428.1" font-size="5.3" text-anchor="middle">4</text>
<rect x="167.3" y="481.6" width="20.8" height="18.1" fill="#2a8ba6" stroke="#1a1a1a" stroke-width="1"/>
<line x1="177.7" y1="499.7" x2="177.7" y2="502.3" stroke="#231f20" stroke-width="1"/>
<text x="176.4" y="509.3" font-size="5.5" text-anchor="middle">Ctrl</text>
<rect x="198.8" y="442.19" width="20.7" height="57.51" fill="#2a8ba6" stroke="#1a1a1a" stroke-width="1"/>
<line x1="209.15" y1="499.7" x2="209.15" y2="502.3" stroke="#231f20" stroke-width="1"/>
<text x="207.85" y="509.3" font-size="5.5" text-anchor="middle">BMP9</text>
<line x1="177.7" y1="482.24" x2="177.7" y2="480.59" stroke="#231f20" stroke-width="1"/>
<line x1="173.3" y1="482.24" x2="182.1" y2="482.24" stroke="#231f20" stroke-width="1"/>
<line x1="173.3" y1="480.59" x2="182.1" y2="480.59" stroke="#231f20" stroke-width="1"/>
<circle cx="172.7" cy="480.77" r="1.65" fill="#111"/>
<circle cx="177.7" cy="480.96" r="1.65" fill="#111"/>
<circle cx="182.7" cy="482.24" r="1.65" fill="#111"/>
<line x1="209.15" y1="443.66" x2="209.15" y2="439.61" stroke="#231f20" stroke-width="1"/>
<line x1="204.75" y1="443.66" x2="213.55" y2="443.66" stroke="#231f20" stroke-width="1"/>
<line x1="204.75" y1="439.61" x2="213.55" y2="439.61" stroke="#231f20" stroke-width="1"/>
<rect x="202.5" y="438.33" width="3.3" height="3.3" fill="#111" stroke="none" stroke-width="1"/>
<rect x="207.5" y="439.25" width="3.3" height="3.3" fill="#111" stroke="none" stroke-width="1"/>
<rect x="212.5" y="441.82" width="3.3" height="3.3" fill="#111" stroke="none" stroke-width="1"/>
<line x1="177.2" y1="436.4" x2="209.5" y2="436.4" stroke="#231f20" stroke-width="0.9"/>
<text x="193.55" y="437" font-size="6.4" text-anchor="middle" letter-spacing="0.35">****</text>
<text x="194.2" y="422" font-size="7.55" text-anchor="middle">CyclinD1</text>
<text x="142.2" y="459.95" font-size="7.9" text-anchor="middle" transform="rotate(-90 142.2 459.95)">Relative to &#946;-actin</text>
<line x1="271.6" y1="425.8" x2="271.6" y2="500.2" stroke="#231f20" stroke-width="1"/>
<line x1="271.1" y1="499.7" x2="344.5" y2="499.7" stroke="#231f20" stroke-width="1"/>
<line x1="269" y1="499.7" x2="271.6" y2="499.7" stroke="#231f20" stroke-width="1"/>
<line x1="269" y1="475.2" x2="271.6" y2="475.2" stroke="#231f20" stroke-width="1"/>
<line x1="269" y1="450.7" x2="271.6" y2="450.7" stroke="#231f20" stroke-width="1"/>
<line x1="269" y1="426.2" x2="271.6" y2="426.2" stroke="#231f20" stroke-width="1"/>
<text x="263.5" y="501.6" font-size="5.3" text-anchor="middle">0.0</text>
<text x="263.5" y="477.1" font-size="5.3" text-anchor="middle">0.5</text>
<text x="263.5" y="452.6" font-size="5.3" text-anchor="middle">1.0</text>
<text x="263.5" y="428.1" font-size="5.3" text-anchor="middle">1.5</text>
<rect x="283" y="450.7" width="20.5" height="49" fill="#f0953d" stroke="#1a1a1a" stroke-width="1"/>
<line x1="293.25" y1="499.7" x2="293.25" y2="502.3" stroke="#231f20" stroke-width="1"/>
<text x="291.95" y="509.3" font-size="5.5" text-anchor="middle">Ctrl</text>
<rect x="314.4" y="437.47" width="20.8" height="62.23" fill="#f0953d" stroke="#1a1a1a" stroke-width="1"/>
<line x1="324.8" y1="499.7" x2="324.8" y2="502.3" stroke="#231f20" stroke-width="1"/>
<text x="323.5" y="509.3" font-size="5.5" text-anchor="middle">BMP9</text>
<line x1="293.25" y1="455.6" x2="293.25" y2="445.31" stroke="#231f20" stroke-width="1"/>
<line x1="288.85" y1="455.6" x2="297.65" y2="455.6" stroke="#231f20" stroke-width="1"/>
<line x1="288.85" y1="445.31" x2="297.65" y2="445.31" stroke="#231f20" stroke-width="1"/>
<circle cx="293.25" cy="445.31" r="1.65" fill="#111"/>
<circle cx="293.25" cy="451.68" r="1.65" fill="#111"/>
<circle cx="293.25" cy="455.6" r="1.65" fill="#111"/>
<line x1="324.8" y1="439.92" x2="324.8" y2="433.55" stroke="#231f20" stroke-width="1"/>
<line x1="320.4" y1="439.92" x2="329.2" y2="439.92" stroke="#231f20" stroke-width="1"/>
<line x1="320.4" y1="433.55" x2="329.2" y2="433.55" stroke="#231f20" stroke-width="1"/>
<rect x="323.15" y="431.9" width="3.3" height="3.3" fill="#111" stroke="none" stroke-width="1"/>
<rect x="321.15" y="437.29" width="3.3" height="3.3" fill="#111" stroke="none" stroke-width="1"/>
<rect x="325.15" y="438.27" width="3.3" height="3.3" fill="#111" stroke="none" stroke-width="1"/>
<line x1="292.2" y1="429.2" x2="324.3" y2="429.2" stroke="#231f20" stroke-width="0.9"/>
<text x="308.45" y="429.8" font-size="6.4" text-anchor="middle" letter-spacing="0.35">*</text>
<text x="309.6" y="422" font-size="7.55" text-anchor="middle">FTO</text>
<text x="256.1" y="459.95" font-size="7.9" text-anchor="middle" transform="rotate(-90 256.1 459.95)">Relative to &#946;-actin</text>
<line x1="384.2" y1="425.8" x2="384.2" y2="500.2" stroke="#231f20" stroke-width="1"/>
<line x1="383.7" y1="499.7" x2="459" y2="499.7" stroke="#231f20" stroke-width="1"/>
<line x1="381.6" y1="499.7" x2="384.2" y2="499.7" stroke="#231f20" stroke-width="1"/>
<line x1="381.6" y1="475.2" x2="384.2" y2="475.2" stroke="#231f20" stroke-width="1"/>
<line x1="381.6" y1="450.7" x2="384.2" y2="450.7" stroke="#231f20" stroke-width="1"/>
<line x1="381.6" y1="426.2" x2="384.2" y2="426.2" stroke="#231f20" stroke-width="1"/>
<text x="376.1" y="501.6" font-size="5.3" text-anchor="middle">0.0</text>
<text x="376.1" y="477.1" font-size="5.3" text-anchor="middle">0.5</text>
<text x="376.1" y="452.6" font-size="5.3" text-anchor="middle">1.0</text>
<text x="376.1" y="428.1" font-size="5.3" text-anchor="middle">1.5</text>
<rect x="395.6" y="450.21" width="20.1" height="49.49" fill="#eeea2c" stroke="#1a1a1a" stroke-width="1"/>
<line x1="405.65" y1="499.7" x2="405.65" y2="502.3" stroke="#231f20" stroke-width="1"/>
<text x="404.35" y="509.3" font-size="5.5" text-anchor="middle">Ctrl</text>
<rect x="427.3" y="480.1" width="20.1" height="19.6" fill="#eeea2c" stroke="#1a1a1a" stroke-width="1"/>
<line x1="437.35" y1="499.7" x2="437.35" y2="502.3" stroke="#231f20" stroke-width="1"/>
<text x="436.05" y="509.3" font-size="5.5" text-anchor="middle">BMP9</text>
<line x1="405.65" y1="461.97" x2="405.65" y2="437.47" stroke="#231f20" stroke-width="1"/>
<line x1="401.25" y1="461.97" x2="410.05" y2="461.97" stroke="#231f20" stroke-width="1"/>
<line x1="401.25" y1="437.47" x2="410.05" y2="437.47" stroke="#231f20" stroke-width="1"/>
<circle cx="405.65" cy="440.9" r="1.65" fill="#111"/>
<circle cx="405.65" cy="445.8" r="1.65" fill="#111"/>
<circle cx="405.65" cy="461.97" r="1.65" fill="#111"/>
<line x1="437.35" y1="483.53" x2="437.35" y2="476.18" stroke="#231f20" stroke-width="1"/>
<line x1="432.95" y1="483.53" x2="441.75" y2="483.53" stroke="#231f20" stroke-width="1"/>
<line x1="432.95" y1="476.18" x2="441.75" y2="476.18" stroke="#231f20" stroke-width="1"/>
<rect x="435.7" y="474.53" width="3.3" height="3.3" fill="#111" stroke="none" stroke-width="1"/>
<rect x="435.7" y="478.45" width="3.3" height="3.3" fill="#111" stroke="none" stroke-width="1"/>
<rect x="435.7" y="481.88" width="3.3" height="3.3" fill="#111" stroke="none" stroke-width="1"/>
<line x1="405.5" y1="432.7" x2="436" y2="432.7" stroke="#231f20" stroke-width="0.9"/>
<text x="420.95" y="433.3" font-size="6.4" text-anchor="middle" letter-spacing="0.35">*</text>
<text x="426.8" y="422" font-size="7.55" text-anchor="middle">YTHDF2</text>
<text x="366.6" y="459.95" font-size="7.9" text-anchor="middle" transform="rotate(-90 366.6 459.95)">Relative to &#946;-actin</text>
<line x1="43.7" y1="554.6" x2="43.7" y2="629.2" stroke="#231f20" stroke-width="1"/>
<line x1="43.2" y1="628.7" x2="118" y2="628.7" stroke="#231f20" stroke-width="1"/>
<line x1="41.1" y1="628.7" x2="43.7" y2="628.7" stroke="#231f20" stroke-width="1"/>
<line x1="41.1" y1="613.96" x2="43.7" y2="613.96" stroke="#231f20" stroke-width="1"/>
<line x1="41.1" y1="599.22" x2="43.7" y2="599.22" stroke="#231f20" stroke-width="1"/>
<line x1="41.1" y1="584.48" x2="43.7" y2="584.48" stroke="#231f20" stroke-width="1"/>
<line x1="41.1" y1="569.74" x2="43.7" y2="569.74" stroke="#231f20" stroke-width="1"/>
<line x1="41.1" y1="555" x2="43.7" y2="555" stroke="#231f20" stroke-width="1"/>
<text x="35.6" y="630.6" font-size="5.3" text-anchor="middle">0</text>
<text x="35.6" y="615.86" font-size="5.3" text-anchor="middle">1</text>
<text x="35.6" y="601.12" font-size="5.3" text-anchor="middle">2</text>
<text x="35.6" y="586.38" font-size="5.3" text-anchor="middle">3</text>
<text x="35.6" y="571.64" font-size="5.3" text-anchor="middle">4</text>
<text x="35.6" y="556.9" font-size="5.3" text-anchor="middle">5</text>
<rect x="54.4" y="613.96" width="20.8" height="14.74" fill="#d3d3d3" stroke="#1a1a1a" stroke-width="1"/>
<line x1="64.8" y1="628.7" x2="64.8" y2="631.3" stroke="#231f20" stroke-width="1"/>
<text x="63.5" y="639.3" font-size="5.5" text-anchor="middle">Ctrl</text>
<rect x="85.8" y="574.16" width="20.6" height="54.54" fill="#d3d3d3" stroke="#1a1a1a" stroke-width="1"/>
<line x1="96.1" y1="628.7" x2="96.1" y2="631.3" stroke="#231f20" stroke-width="1"/>
<text x="94.8" y="639.3" font-size="5.5" text-anchor="middle">BMP9</text>
<line x1="64.8" y1="614.99" x2="64.8" y2="612.78" stroke="#231f20" stroke-width="1"/>
<line x1="60.4" y1="614.99" x2="69.2" y2="614.99" stroke="#231f20" stroke-width="1"/>
<line x1="60.4" y1="612.78" x2="69.2" y2="612.78" stroke="#231f20" stroke-width="1"/>
<circle cx="59.8" cy="613.22" r="1.65" fill="#111"/>
<circle cx="64.8" cy="613.96" r="1.65" fill="#111"/>
<circle cx="69.8" cy="614.7" r="1.65" fill="#111"/>
<line x1="96.1" y1="578.58" x2="96.1" y2="570.48" stroke="#231f20" stroke-width="1"/>
<line x1="91.7" y1="578.58" x2="100.5" y2="578.58" stroke="#231f20" stroke-width="1"/>
<line x1="91.7" y1="570.48" x2="100.5" y2="570.48" stroke="#231f20" stroke-width="1"/>
<rect x="93.45" y="568.83" width="3.3" height="3.3" fill="#111" stroke="none" stroke-width="1"/>
<rect x="95.45" y="572.22" width="3.3" height="3.3" fill="#111" stroke="none" stroke-width="1"/>
<rect x="94.45" y="576.93" width="3.3" height="3.3" fill="#111" stroke="none" stroke-width="1"/>
<line x1="62.6" y1="565.6" x2="97" y2="565.6" stroke="#231f20" stroke-width="0.9"/>
<text x="80" y="566.2" font-size="6.4" text-anchor="middle" letter-spacing="0.35">****</text>
<text x="78.7" y="548.8" font-size="7.55" text-anchor="middle">ID1</text>
<text x="29.4" y="593" font-size="7.9" text-anchor="middle" transform="rotate(-90 29.4 593)">Relative to &#946;-actin</text>
<line x1="156.9" y1="554.6" x2="156.9" y2="629.2" stroke="#231f20" stroke-width="1"/>
<line x1="156.4" y1="628.7" x2="231" y2="628.7" stroke="#231f20" stroke-width="1"/>
<line x1="154.3" y1="628.7" x2="156.9" y2="628.7" stroke="#231f20" stroke-width="1"/>
<line x1="154.3" y1="613.96" x2="156.9" y2="613.96" stroke="#231f20" stroke-width="1"/>
<line x1="154.3" y1="599.22" x2="156.9" y2="599.22" stroke="#231f20" stroke-width="1"/>
<line x1="154.3" y1="584.48" x2="156.9" y2="584.48" stroke="#231f20" stroke-width="1"/>
<line x1="154.3" y1="569.74" x2="156.9" y2="569.74" stroke="#231f20" stroke-width="1"/>
<line x1="154.3" y1="555" x2="156.9" y2="555" stroke="#231f20" stroke-width="1"/>
<text x="148.8" y="630.6" font-size="5.3" text-anchor="middle">0.0</text>
<text x="148.8" y="615.86" font-size="5.3" text-anchor="middle">0.5</text>
<text x="148.8" y="601.12" font-size="5.3" text-anchor="middle">1.0</text>
<text x="148.8" y="586.38" font-size="5.3" text-anchor="middle">1.5</text>
<text x="148.8" y="571.64" font-size="5.3" text-anchor="middle">2.0</text>
<text x="148.8" y="556.9" font-size="5.3" text-anchor="middle">2.5</text>
<rect x="168.5" y="599.22" width="20.1" height="29.48" fill="#2a8ba6" stroke="#1a1a1a" stroke-width="1"/>
<line x1="178.55" y1="628.7" x2="178.55" y2="631.3" stroke="#231f20" stroke-width="1"/>
<text x="177.25" y="639.3" font-size="5.5" text-anchor="middle">Ctrl</text>
<rect x="199.2" y="574.75" width="20.6" height="53.95" fill="#2a8ba6" stroke="#1a1a1a" stroke-width="1"/>
<line x1="209.5" y1="628.7" x2="209.5" y2="631.3" stroke="#231f20" stroke-width="1"/>
<text x="208.2" y="639.3" font-size="5.5" text-anchor="middle">BMP9</text>
<line x1="178.55" y1="603.64" x2="178.55" y2="594.8" stroke="#231f20" stroke-width="1"/>
<line x1="174.15" y1="603.64" x2="182.95" y2="603.64" stroke="#231f20" stroke-width="1"/>
<line x1="174.15" y1="594.8" x2="182.95" y2="594.8" stroke="#231f20" stroke-width="1"/>
<circle cx="178.55" cy="596.27" r="1.65" fill="#111"/>
<circle cx="179.55" cy="600.69" r="1.65" fill="#111"/>
<circle cx="178.55" cy="603.05" r="1.65" fill="#111"/>
<line x1="209.5" y1="582.12" x2="209.5" y2="567.38" stroke="#231f20" stroke-width="1"/>
<line x1="205.1" y1="582.12" x2="213.9" y2="582.12" stroke="#231f20" stroke-width="1"/>
<line x1="205.1" y1="567.38" x2="213.9" y2="567.38" stroke="#231f20" stroke-width="1"/>
<rect x="207.85" y="568.09" width="3.3" height="3.3" fill="#111" stroke="none" stroke-width="1"/>
<rect x="208.85" y="570.45" width="3.3" height="3.3" fill="#111" stroke="none" stroke-width="1"/>
<rect x="207.85" y="580.47" width="3.3" height="3.3" fill="#111" stroke="none" stroke-width="1"/>
<line x1="176.7" y1="563.7" x2="211" y2="563.7" stroke="#231f20" stroke-width="0.9"/>
<text x="194.05" y="564.3" font-size="6.4" text-anchor="middle" letter-spacing="0.35">**</text>
<text x="194.5" y="548.8" font-size="7.55" text-anchor="middle">CyclinD1</text>
<text x="140.3" y="586.7" font-size="7.9" text-anchor="middle" transform="rotate(-90 140.3 586.7)">Relative to &#946;-actin</text>
<line x1="271.2" y1="554.6" x2="271.2" y2="629.2" stroke="#231f20" stroke-width="1"/>
<line x1="270.7" y1="628.7" x2="345" y2="628.7" stroke="#231f20" stroke-width="1"/>
<line x1="268.6" y1="628.7" x2="271.2" y2="628.7" stroke="#231f20" stroke-width="1"/>
<line x1="268.6" y1="610.28" x2="271.2" y2="610.28" stroke="#231f20" stroke-width="1"/>
<line x1="268.6" y1="591.85" x2="271.2" y2="591.85" stroke="#231f20" stroke-width="1"/>
<line x1="268.6" y1="573.42" x2="271.2" y2="573.42" stroke="#231f20" stroke-width="1"/>
<line x1="268.6" y1="555" x2="271.2" y2="555" stroke="#231f20" stroke-width="1"/>
<text x="263.1" y="630.6" font-size="5.3" text-anchor="middle">0</text>
<text x="263.1" y="612.18" font-size="5.3" text-anchor="middle">1</text>
<text x="263.1" y="593.75" font-size="5.3" text-anchor="middle">2</text>
<text x="263.1" y="575.32" font-size="5.3" text-anchor="middle">3</text>
<text x="263.1" y="556.9" font-size="5.3" text-anchor="middle">4</text>
<rect x="282.8" y="610.28" width="20.3" height="18.42" fill="#f0953d" stroke="#1a1a1a" stroke-width="1"/>
<line x1="292.95" y1="628.7" x2="292.95" y2="631.3" stroke="#231f20" stroke-width="1"/>
<text x="291.65" y="639.3" font-size="5.5" text-anchor="middle">Ctrl</text>
<rect x="314.4" y="578.95" width="20.3" height="49.75" fill="#f0953d" stroke="#1a1a1a" stroke-width="1"/>
<line x1="324.55" y1="628.7" x2="324.55" y2="631.3" stroke="#231f20" stroke-width="1"/>
<text x="323.25" y="639.3" font-size="5.5" text-anchor="middle">BMP9</text>
<line x1="292.95" y1="613.96" x2="292.95" y2="606.22" stroke="#231f20" stroke-width="1"/>
<line x1="288.55" y1="613.96" x2="297.35" y2="613.96" stroke="#231f20" stroke-width="1"/>
<line x1="288.55" y1="606.22" x2="297.35" y2="606.22" stroke="#231f20" stroke-width="1"/>
<circle cx="292.95" cy="606.59" r="1.65" fill="#111"/>
<circle cx="292.95" cy="610.28" r="1.65" fill="#111"/>
<circle cx="292.95" cy="613.96" r="1.65" fill="#111"/>
<line x1="324.55" y1="585.4" x2="324.55" y2="572.5" stroke="#231f20" stroke-width="1"/>
<line x1="320.15" y1="585.4" x2="328.95" y2="585.4" stroke="#231f20" stroke-width="1"/>
<line x1="320.15" y1="572.5" x2="328.95" y2="572.5" stroke="#231f20" stroke-width="1"/>
<rect x="322.9" y="571.77" width="3.3" height="3.3" fill="#111" stroke="none" stroke-width="1"/>
<rect x="322.9" y="575.46" width="3.3" height="3.3" fill="#111" stroke="none" stroke-width="1"/>
<rect x="322.9" y="583.75" width="3.3" height="3.3" fill="#111" stroke="none" stroke-width="1"/>
<line x1="291.1" y1="567.7" x2="322.7" y2="567.7" stroke="#231f20" stroke-width="0.9"/>
<text x="307.1" y="568.3" font-size="6.4" text-anchor="middle" letter-spacing="0.35">**</text>
<text x="309.6" y="548.8" font-size="7.55" text-anchor="middle">FTO</text>
<text x="255.5" y="586.7" font-size="7.9" text-anchor="middle" transform="rotate(-90 255.5 586.7)">Relative to &#946;-actin</text>
<line x1="384.2" y1="554.6" x2="384.2" y2="629.2" stroke="#231f20" stroke-width="1"/>
<line x1="383.7" y1="628.7" x2="459" y2="628.7" stroke="#231f20" stroke-width="1"/>
<line x1="381.6" y1="628.7" x2="384.2" y2="628.7" stroke="#231f20" stroke-width="1"/>
<line x1="381.6" y1="604.13" x2="384.2" y2="604.13" stroke="#231f20" stroke-width="1"/>
<line x1="381.6" y1="579.57" x2="384.2" y2="579.57" stroke="#231f20" stroke-width="1"/>
<line x1="381.6" y1="555" x2="384.2" y2="555" stroke="#231f20" stroke-width="1"/>
<text x="376.1" y="630.6" font-size="5.3" text-anchor="middle">0.0</text>
<text x="376.1" y="606.03" font-size="5.3" text-anchor="middle">0.5</text>
<text x="376.1" y="581.47" font-size="5.3" text-anchor="middle">1.0</text>
<text x="376.1" y="556.9" font-size="5.3" text-anchor="middle">1.5</text>
<rect x="395.6" y="579.57" width="20.1" height="49.13" fill="#eeea2c" stroke="#1a1a1a" stroke-width="1"/>
<line x1="405.65" y1="628.7" x2="405.65" y2="631.3" stroke="#231f20" stroke-width="1"/>
<text x="404.35" y="639.3" font-size="5.5" text-anchor="middle">Ctrl</text>
<rect x="427.3" y="600.69" width="20.1" height="28.01" fill="#eeea2c" stroke="#1a1a1a" stroke-width="1"/>
<line x1="437.35" y1="628.7" x2="437.35" y2="631.3" stroke="#231f20" stroke-width="1"/>
<text x="436.05" y="639.3" font-size="5.5" text-anchor="middle">BMP9</text>
<line x1="405.65" y1="582.02" x2="405.65" y2="577.11" stroke="#231f20" stroke-width="1"/>
<line x1="401.25" y1="582.02" x2="410.05" y2="582.02" stroke="#231f20" stroke-width="1"/>
<line x1="401.25" y1="577.11" x2="410.05" y2="577.11" stroke="#231f20" stroke-width="1"/>
<circle cx="405.65" cy="578.09" r="1.65" fill="#111"/>
<circle cx="407.65" cy="581.04" r="1.65" fill="#111"/>
<circle cx="405.65" cy="582.02" r="1.65" fill="#111"/>
<line x1="437.35" y1="606.59" x2="437.35" y2="593.82" stroke="#231f20" stroke-width="1"/>
<line x1="432.95" y1="606.59" x2="441.75" y2="606.59" stroke="#231f20" stroke-width="1"/>
<line x1="432.95" y1="593.82" x2="441.75" y2="593.82" stroke="#231f20" stroke-width="1"/>
<rect x="435.7" y="592.17" width="3.3" height="3.3" fill="#111" stroke="none" stroke-width="1"/>
<rect x="435.7" y="599.04" width="3.3" height="3.3" fill="#111" stroke="none" stroke-width="1"/>
<rect x="435.7" y="604.94" width="3.3" height="3.3" fill="#111" stroke="none" stroke-width="1"/>
<line x1="405.5" y1="573.2" x2="438.2" y2="573.2" stroke="#231f20" stroke-width="0.9"/>
<text x="422.05" y="573.8" font-size="6.4" text-anchor="middle" letter-spacing="0.35">**</text>
<text x="426.8" y="548.8" font-size="7.55" text-anchor="middle">YTHDF2</text>
<text x="366.6" y="586.7" font-size="7.9" text-anchor="middle" transform="rotate(-90 366.6 586.7)">Relative to &#946;-actin</text>
<text x="93.35" y="665.6" font-size="7.8" text-anchor="middle">Huh7</text>
<text x="159.8" y="665.6" font-size="7.8" text-anchor="middle">Hep3B</text>
<line x1="63.2" y1="668.4" x2="118.6" y2="668.4" stroke="#231f20" stroke-width="0.9"/>
<line x1="131" y1="668.4" x2="187" y2="668.4" stroke="#231f20" stroke-width="0.9"/>
<text x="71.5" y="675.4" font-size="5.3" text-anchor="middle">Ctrl</text>
<text x="109.7" y="675.4" font-size="5.8" text-anchor="middle">BMP9</text>
<text x="140.4" y="675.4" font-size="5.3" text-anchor="middle">Ctrl</text>
<text x="178.6" y="675.4" font-size="5.8" text-anchor="middle">BMP9</text>
<rect x="55.7" y="678.5" width="67.6" height="137" fill="#b4b4b4" stroke="none" stroke-width="1"/>
<rect x="126.6" y="678.5" width="67.8" height="137" fill="#b4b4b4" stroke="none" stroke-width="1"/>
<text x="49.8" y="693.35" font-size="5.7" text-anchor="end">ID1</text>
<rect x="55.7" y="678.5" width="67.6" height="25.7" fill="#dadada" stroke="#3a3a3a" stroke-width="0.9"/>
<rect x="58.7" y="682.5" width="61.6" height="17.7" fill="#fafafa" stroke="none" stroke-width="1" fill-opacity="0.15" filter="url(#bandS)"/>
<rect x="56.2" y="679" width="66.6" height="24.7" fill="#000" stroke="none" stroke-width="1" fill-opacity="0.22" filter="url(#grain)"/>
<rect x="126.6" y="678.5" width="67.8" height="25.7" fill="#d6d6d6" stroke="#3a3a3a" stroke-width="0.9"/>
<rect x="129.6" y="682.5" width="61.8" height="17.7" fill="#fafafa" stroke="none" stroke-width="1" fill-opacity="0.15" filter="url(#bandS)"/>
<rect x="127.1" y="679" width="66.8" height="24.7" fill="#000" stroke="none" stroke-width="1" fill-opacity="0.22" filter="url(#grain)"/>
<text x="49.8" y="720.8" font-size="5.7" text-anchor="end">CyclinD1</text>
<rect x="55.7" y="706.4" width="67.6" height="24.8" fill="#ececec" stroke="#3a3a3a" stroke-width="0.9"/>
<rect x="58.7" y="710.4" width="61.6" height="16.8" fill="#fafafa" stroke="none" stroke-width="1" fill-opacity="0.4" filter="url(#bandS)"/>
<rect x="56.2" y="706.9" width="66.6" height="23.8" fill="#000" stroke="none" stroke-width="1" fill-opacity="0.12" filter="url(#grain)"/>
<rect x="126.6" y="706.4" width="67.8" height="24.8" fill="#e6e6e6" stroke="#3a3a3a" stroke-width="0.9"/>
<rect x="129.6" y="710.4" width="61.8" height="16.8" fill="#fafafa" stroke="none" stroke-width="1" fill-opacity="0.4" filter="url(#bandS)"/>
<rect x="127.1" y="706.9" width="66.8" height="23.8" fill="#000" stroke="none" stroke-width="1" fill-opacity="0.12" filter="url(#grain)"/>
<text x="49.8" y="748.85" font-size="5.7" text-anchor="end">FTO</text>
<rect x="55.7" y="734.3" width="67.6" height="25.1" fill="#eeeeee" stroke="#3a3a3a" stroke-width="0.9"/>
<rect x="58.7" y="738.3" width="61.6" height="17.1" fill="#fafafa" stroke="none" stroke-width="1" fill-opacity="0.4" filter="url(#bandS)"/>
<rect x="126.6" y="734.3" width="67.8" height="25.1" fill="#f1f1f1" stroke="#3a3a3a" stroke-width="0.9"/>
<rect x="129.6" y="738.3" width="61.8" height="17.1" fill="#fafafa" stroke="none" stroke-width="1" fill-opacity="0.4" filter="url(#bandS)"/>
<text x="49.8" y="776.65" font-size="5.7" text-anchor="end">YTHDF2</text>
<rect x="55.7" y="762.2" width="67.6" height="24.9" fill="#eeeeee" stroke="#3a3a3a" stroke-width="0.9"/>
<rect x="58.7" y="766.2" width="61.6" height="16.9" fill="#fafafa" stroke="none" stroke-width="1" fill-opacity="0.4" filter="url(#bandS)"/>
<rect x="126.6" y="762.2" width="67.8" height="24.9" fill="#eaeaea" stroke="#3a3a3a" stroke-width="0.9"/>
<rect x="129.6" y="766.2" width="61.8" height="16.9" fill="#fafafa" stroke="none" stroke-width="1" fill-opacity="0.4" filter="url(#bandS)"/>
<text x="49.8" y="804.4" font-size="5.7" text-anchor="end">&#946;-actin</text>
<rect x="55.7" y="789.3" width="67.6" height="26.2" fill="#ececec" stroke="#3a3a3a" stroke-width="0.9"/>
<rect x="58.7" y="793.3" width="61.6" height="18.2" fill="#fafafa" stroke="none" stroke-width="1" fill-opacity="0.4" filter="url(#bandS)"/>
<rect x="126.6" y="789.3" width="67.8" height="26.2" fill="#e8e8e8" stroke="#3a3a3a" stroke-width="0.9"/>
<rect x="129.6" y="793.3" width="61.8" height="18.2" fill="#fafafa" stroke="none" stroke-width="1" fill-opacity="0.4" filter="url(#bandS)"/>
<ellipse cx="75" cy="692.5" rx="14" ry="3.5" fill="#000" fill-opacity="0.07" filter="url(#bandS)"/>
<ellipse cx="107.6" cy="693.1" rx="16" ry="11" fill="#000" fill-opacity="0.35" filter="url(#bandH)"/>
<rect x="93.8" y="683.6" width="27.6" height="18" rx="8.5" ry="8.5" fill="#000" fill-opacity="1" filter="url(#band)"/>
<path d="M59.5,719.5 C59.5,713.2 66,714.2 72,715.8 C77,717 80.5,717.8 80.5,720 C80.5,722.4 77,723 72,724 C66,725.4 59.5,725.8 59.5,719.5 Z" fill="#000" stroke="none" stroke-width="1" filter="url(#band)"/>
<ellipse cx="69.5" cy="720" rx="12" ry="6.5" fill="#000" fill-opacity="0.3" filter="url(#bandH)"/>
<ellipse cx="105.6" cy="719.7" rx="15.2" ry="11.3" fill="#000" fill-opacity="0.35" filter="url(#bandH)"/>
<ellipse cx="105.6" cy="719.2" rx="13" ry="9.3" fill="#000" fill-opacity="1" filter="url(#band)"/>
<ellipse cx="68.5" cy="749" rx="11.2" ry="5.8" fill="#000" fill-opacity="0.33" filter="url(#bandH)"/>
<ellipse cx="68.5" cy="748.5" rx="9" ry="3.8" fill="#000" fill-opacity="0.95" filter="url(#band)"/>
<ellipse cx="71" cy="748.8" rx="11" ry="5.5" fill="#000" fill-opacity="0.4" filter="url(#bandH)"/>
<ellipse cx="109.2" cy="747.9" rx="12.2" ry="11" fill="#000" fill-opacity="0.35" filter="url(#bandH)"/>
<rect x="99.2" y="738.4" width="20" height="18" rx="8" ry="8" fill="#000" fill-opacity="1" filter="url(#band)"/>
<ellipse cx="73.3" cy="777.1" rx="9.4" ry="6.6" fill="#000" fill-opacity="0.35" filter="url(#bandH)"/>
<ellipse cx="73.3" cy="776.6" rx="7.2" ry="4.6" fill="#000" fill-opacity="1" filter="url(#band)"/>
<ellipse cx="109.7" cy="777.2" rx="5" ry="3.4" fill="#000" fill-opacity="0.6" filter="url(#bandS)"/>
<path d="M58.5,798 C60,794.5 66,797.5 74,799 C80,800.2 85.5,799.5 85.5,803.3 C85.5,807.5 80,807.6 72,806.9 C63,806 57,803 58.5,798 Z" fill="#000" stroke="none" stroke-width="1" filter="url(#band)"/>
<ellipse cx="72" cy="802" rx="15" ry="6.5" fill="#000" fill-opacity="0.3" filter="url(#bandH)"/>
<path d="M91.5,802 C92,798.8 98,800.8 105,801.4 C111,801.8 118.6,800.2 118.6,804.2 C118.6,808.4 112,808.4 105,808.2 C98,807.9 91,806 91.5,802 Z" fill="#000" stroke="none" stroke-width="1" filter="url(#band)"/>
<ellipse cx="105.5" cy="804.5" rx="14.5" ry="5.5" fill="#000" fill-opacity="0.3" filter="url(#bandH)"/>
<ellipse cx="142" cy="692.8" rx="11" ry="3.6" fill="#000" fill-opacity="0.3" filter="url(#bandS)"/>
<ellipse cx="177.9" cy="691.5" rx="14.6" ry="8.4" fill="#000" fill-opacity="0.35" filter="url(#bandH)"/>
<rect x="165.5" y="684.6" width="24.8" height="12.8" rx="6" ry="6" fill="#000" fill-opacity="1" filter="url(#band)"/>
<ellipse cx="176" cy="698.5" rx="9" ry="3" fill="#000" fill-opacity="0.3" filter="url(#bandS)"/>
<ellipse cx="177.7" cy="691" rx="15" ry="7" fill="#000" fill-opacity="0.3" filter="url(#bandS)"/>
<ellipse cx="141.5" cy="717" rx="11" ry="5" fill="#000" fill-opacity="0.36" filter="url(#bandS)"/>
<ellipse cx="178" cy="720" rx="14" ry="10.5" fill="#000" fill-opacity="0.35" filter="url(#bandS)"/>
<ellipse cx="178" cy="720.5" rx="13" ry="11.2" fill="#000" fill-opacity="0.35" filter="url(#bandH)"/>
<rect x="167.2" y="710.8" width="21.6" height="18.4" rx="8" ry="8" fill="#000" fill-opacity="1" filter="url(#band)"/>
<ellipse cx="143.6" cy="744.5" rx="7.7" ry="4.6" fill="#000" fill-opacity="0.35" filter="url(#bandH)"/>
<ellipse cx="143.6" cy="744" rx="5.5" ry="2.6" fill="#000" fill-opacity="1" filter="url(#band)"/>
<ellipse cx="143.5" cy="747" rx="9" ry="4.5" fill="#000" fill-opacity="0.5" filter="url(#bandS)"/>
<ellipse cx="175.8" cy="746.8" rx="15.4" ry="5.8" fill="#000" fill-opacity="0.35" filter="url(#bandH)"/>
<rect x="162.6" y="742.5" width="26.4" height="7.6" rx="3.5" ry="3.5" fill="#000" fill-opacity="1" filter="url(#band)"/>
<ellipse cx="175.8" cy="751.5" rx="11" ry="2.8" fill="#000" fill-opacity="0.35" filter="url(#bandS)"/>
<ellipse cx="142.9" cy="777.4" rx="11.8" ry="7.6" fill="#000" fill-opacity="0.35" filter="url(#bandH)"/>
<ellipse cx="142.9" cy="776.9" rx="9.6" ry="5.6" fill="#000" fill-opacity="1" filter="url(#band)"/>
<ellipse cx="180.2" cy="771.8" rx="7.6" ry="5.3" fill="#000" fill-opacity="0.3" filter="url(#bandH)"/>
<ellipse cx="180.2" cy="771.3" rx="5.4" ry="3.3" fill="#000" fill-opacity="0.85" filter="url(#band)"/>
<ellipse cx="144" cy="801.2" rx="14.5" ry="8.2" fill="#000" fill-opacity="0.35" filter="url(#bandH)"/>
<rect x="131.7" y="794.5" width="24.6" height="12.4" rx="5.5" ry="5.5" fill="#000" fill-opacity="1" filter="url(#band)"/>
<ellipse cx="176.6" cy="802.7" rx="16" ry="9.7" fill="#000" fill-opacity="0.35" filter="url(#bandH)"/>
<rect x="162.8" y="794.5" width="27.6" height="15.4" rx="7" ry="7" fill="#000" fill-opacity="1" filter="url(#band)"/>
<line x1="271.3" y1="699.3" x2="271.3" y2="773.3" stroke="#231f20" stroke-width="1"/>
<line x1="270.8" y1="772.8" x2="344" y2="772.8" stroke="#231f20" stroke-width="1"/>
<line x1="268.7" y1="772.8" x2="271.3" y2="772.8" stroke="#231f20" stroke-width="1"/>
<line x1="268.7" y1="748.43" x2="271.3" y2="748.43" stroke="#231f20" stroke-width="1"/>
<line x1="268.7" y1="724.06" x2="271.3" y2="724.06" stroke="#231f20" stroke-width="1"/>
<line x1="268.7" y1="699.69" x2="271.3" y2="699.69" stroke="#231f20" stroke-width="1"/>
<text x="262.5" y="774.7" font-size="5.3" text-anchor="middle">0.0</text>
<text x="262.5" y="750.33" font-size="5.3" text-anchor="middle">0.5</text>
<text x="262.5" y="725.96" font-size="5.3" text-anchor="middle">1.0</text>
<text x="262.5" y="701.59" font-size="5.3" text-anchor="middle">1.5</text>
<rect x="283" y="724.07" width="20.5" height="48.73" fill="#e41e25" stroke="#1a1a1a" stroke-width="1"/>
<line x1="293.25" y1="772.8" x2="293.25" y2="775.4" stroke="#231f20" stroke-width="1"/>
<text x="292.25" y="783" font-size="5.5" text-anchor="middle">Ctrl</text>
<rect x="314" y="771.83" width="21" height="0.97" fill="#e41e25" stroke="#1a1a1a" stroke-width="1"/>
<line x1="324.5" y1="772.8" x2="324.5" y2="775.4" stroke="#231f20" stroke-width="1"/>
<text x="323.5" y="783" font-size="5.5" text-anchor="middle">BMP9</text>
<line x1="293.25" y1="724.55" x2="293.25" y2="723.58" stroke="#231f20" stroke-width="1"/>
<line x1="288.85" y1="724.55" x2="297.65" y2="724.55" stroke="#231f20" stroke-width="1"/>
<line x1="288.85" y1="723.58" x2="297.65" y2="723.58" stroke="#231f20" stroke-width="1"/>
<circle cx="288.25" cy="723.58" r="1.5" fill="#111"/>
<circle cx="293.25" cy="724.07" r="1.5" fill="#111"/>
<circle cx="298.25" cy="724.55" r="1.5" fill="#111"/>
<rect x="317" y="769.84" width="3" height="3" fill="#111" stroke="none" stroke-width="1"/>
<rect x="323" y="769.84" width="3" height="3" fill="#111" stroke="none" stroke-width="1"/>
<rect x="329" y="769.84" width="3" height="3" fill="#111" stroke="none" stroke-width="1"/>
<line x1="293.1" y1="717.6" x2="324.3" y2="717.6" stroke="#231f20" stroke-width="0.9"/>
<text x="308.7" y="718.2" font-size="6.4" text-anchor="middle" letter-spacing="0.35">****</text>
<text x="311.2" y="686.9" font-size="7.6" text-anchor="middle">Huh7 CyclinD1</text>
<text x="247.3" y="737.5" font-size="7.9" text-anchor="middle" transform="rotate(-90 247.3 737.5)">m<tspan font-size="6" dy="-3.2">6</tspan><tspan dy="3.2">A enrichment</tspan></text>
<text x="257" y="738.5" font-size="7.9" text-anchor="middle" transform="rotate(-90 257 738.5)">(Relative fold change)</text>
<line x1="384.5" y1="699.3" x2="384.5" y2="773.1" stroke="#231f20" stroke-width="1"/>
<line x1="384" y1="772.6" x2="458.2" y2="772.6" stroke="#231f20" stroke-width="1"/>
<line x1="381.9" y1="699.7" x2="384.5" y2="699.7" stroke="#231f20" stroke-width="1"/>
<line x1="381.9" y1="717.9" x2="384.5" y2="717.9" stroke="#231f20" stroke-width="1"/>
<line x1="381.9" y1="736.2" x2="384.5" y2="736.2" stroke="#231f20" stroke-width="1"/>
<line x1="381.9" y1="754.4" x2="384.5" y2="754.4" stroke="#231f20" stroke-width="1"/>
<line x1="381.9" y1="772.6" x2="384.5" y2="772.6" stroke="#231f20" stroke-width="1"/>
<text x="375.7" y="775.5" font-size="5.3" text-anchor="middle">0.0</text>
<text x="375.7" y="751.8" font-size="5.3" text-anchor="middle">0.5</text>
<text x="375.7" y="727.4" font-size="5.3" text-anchor="middle">1.0</text>
<text x="375.7" y="702.3" font-size="5.3" text-anchor="middle">1.5</text>
<rect x="395.5" y="718.17" width="20.2" height="54.43" fill="#e41e25" stroke="#1a1a1a" stroke-width="1"/>
<line x1="405.6" y1="772.6" x2="405.6" y2="775.2" stroke="#231f20" stroke-width="1"/>
<text x="404.6" y="782.8" font-size="5.5" text-anchor="middle">Ctrl</text>
<rect x="426.9" y="752.19" width="20.4" height="20.41" fill="#e41e25" stroke="#1a1a1a" stroke-width="1"/>
<line x1="437.1" y1="772.6" x2="437.1" y2="775.2" stroke="#231f20" stroke-width="1"/>
<text x="436.1" y="782.8" font-size="5.5" text-anchor="middle">BMP9</text>
<line x1="405.6" y1="724" x2="405.6" y2="710.88" stroke="#231f20" stroke-width="1"/>
<line x1="401.2" y1="724" x2="410" y2="724" stroke="#231f20" stroke-width="1"/>
<line x1="401.2" y1="710.88" x2="410" y2="710.88" stroke="#231f20" stroke-width="1"/>
<circle cx="405.6" cy="709.42" r="1.5" fill="#111"/>
<circle cx="403.6" cy="721.57" r="1.5" fill="#111"/>
<circle cx="407.6" cy="724" r="1.5" fill="#111"/>
<line x1="437.1" y1="752.67" x2="437.1" y2="751.7" stroke="#231f20" stroke-width="1"/>
<line x1="432.7" y1="752.67" x2="441.5" y2="752.67" stroke="#231f20" stroke-width="1"/>
<line x1="432.7" y1="751.7" x2="441.5" y2="751.7" stroke="#231f20" stroke-width="1"/>
<rect x="430.6" y="749.72" width="3" height="3" fill="#111" stroke="none" stroke-width="1"/>
<rect x="435.6" y="750.2" width="3" height="3" fill="#111" stroke="none" stroke-width="1"/>
<rect x="440.6" y="750.69" width="3" height="3" fill="#111" stroke="none" stroke-width="1"/>
<line x1="405.8" y1="714.3" x2="437.1" y2="714.3" stroke="#231f20" stroke-width="0.9"/>
<text x="421.5" y="714.9" font-size="6.4" text-anchor="middle" letter-spacing="0.35">****</text>
<text x="420.7" y="686.9" font-size="7.6" text-anchor="middle">Hep3B CyclinD1</text>
<text x="361.6" y="737.5" font-size="7.9" text-anchor="middle" transform="rotate(-90 361.6 737.5)">m<tspan font-size="6" dy="-3.2">6</tspan><tspan dy="3.2">A enrichment</tspan></text>
<text x="369.8" y="738.5" font-size="7.9" text-anchor="middle" transform="rotate(-90 369.8 738.5)">(Relative fold change)</text>
</svg>
</body></html>
